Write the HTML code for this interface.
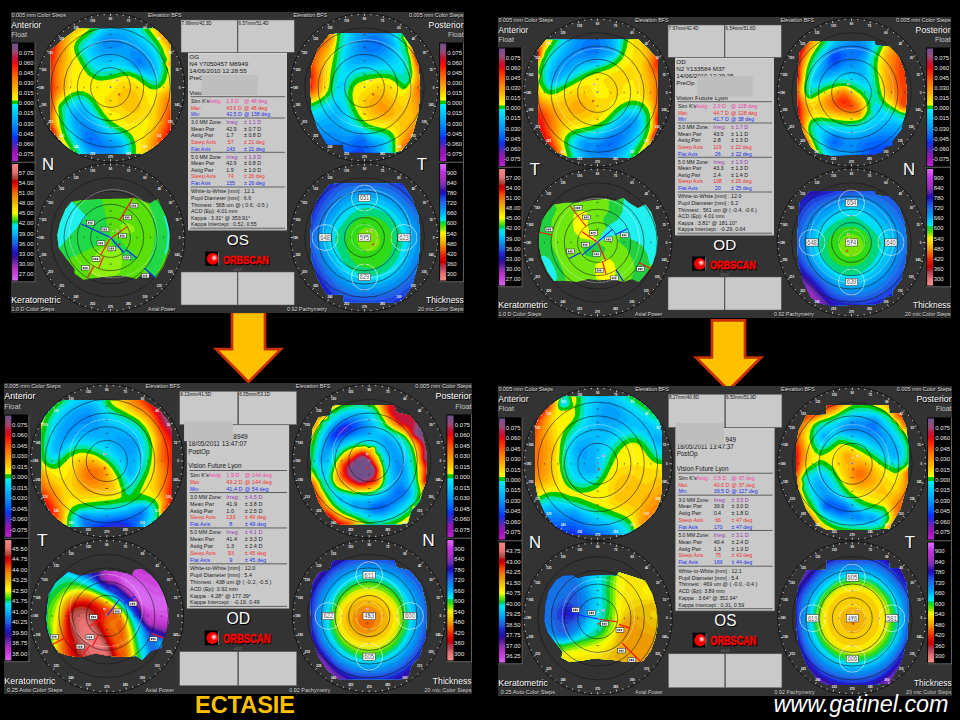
<!DOCTYPE html><html><head><meta charset="utf-8"><title>Orbscan ectasia</title><style>html,body{margin:0;padding:0;background:#000}body{width:960px;height:720px;overflow:hidden}svg{display:block}text{font-family:"Liberation Sans",sans-serif}</style></head><body>
<svg width="960" height="720" viewBox="0 0 960 720">
<rect width="960" height="720" fill="#000"/>
<path d="M232.0 312V349.2H216.0L248.5 382L281.0 349.2H265.0V312Z" fill="#ffc000" stroke="#c83000" stroke-width="2.7" stroke-linejoin="miter"/>
<path d="M712.0 320.3V357.5H696.0L728.5 390.3L761.0 357.5H745.0V320.3Z" fill="#ffc000" stroke="#c83000" stroke-width="2.7" stroke-linejoin="miter"/>
<svg x="11" y="12" width="453" height="301" viewBox="0 0 453 301" preserveAspectRatio="none">
<rect x="0" y="0" width="453" height="301" fill="#333333"/><text x="1.0" y="5.8" font-size="5.4" fill="#000" textLength="54.5" lengthAdjust="spacingAndGlyphs" >0.005 mm Color Steps</text><text x="0.5" y="5.3" font-size="5.4" fill="#ddd" textLength="54.5" lengthAdjust="spacingAndGlyphs" >0.005 mm Color Steps</text><text x="453.0" y="5.8" font-size="5.4" fill="#000" text-anchor="end" textLength="54.5" lengthAdjust="spacingAndGlyphs" >0.005 mm Color Steps</text><text x="452.5" y="5.3" font-size="5.4" fill="#ddd" text-anchor="end" textLength="54.5" lengthAdjust="spacingAndGlyphs" >0.005 mm Color Steps</text><text x="137.5" y="5.8" font-size="5.4" fill="#000" textLength="33.5" lengthAdjust="spacingAndGlyphs" >Elevation BFS</text><text x="137" y="5.3" font-size="5.4" fill="#ddd" textLength="33.5" lengthAdjust="spacingAndGlyphs" >Elevation BFS</text><text x="283.0" y="5.8" font-size="5.4" fill="#000" textLength="33.5" lengthAdjust="spacingAndGlyphs" >Elevation BFS</text><text x="282.5" y="5.3" font-size="5.4" fill="#ddd" textLength="33.5" lengthAdjust="spacingAndGlyphs" >Elevation BFS</text><text x="1.1" y="16.4" font-size="8.7" fill="#000" textLength="30.2" lengthAdjust="spacingAndGlyphs" >Anterior</text><text x="0.3" y="15.6" font-size="8.7" fill="#fff" textLength="30.2" lengthAdjust="spacingAndGlyphs" >Anterior</text><text x="453.40000000000003" y="16.4" font-size="8.7" fill="#000" text-anchor="end" textLength="35" lengthAdjust="spacingAndGlyphs" >Posterior</text><text x="452.6" y="15.6" font-size="8.7" fill="#fff" text-anchor="end" textLength="35" lengthAdjust="spacingAndGlyphs" >Posterior</text><text x="0.3" y="24.7" font-size="7" fill="#c4c4c4" textLength="15.7" lengthAdjust="spacingAndGlyphs" >Float</text><text x="452.6" y="24.7" font-size="7" fill="#c4c4c4" text-anchor="end" textLength="15.7" lengthAdjust="spacingAndGlyphs" >Float</text><text x="1.1" y="291.8" font-size="8.7" fill="#000" textLength="49.5" lengthAdjust="spacingAndGlyphs" >Keratometric</text><text x="0.3" y="291" font-size="8.7" fill="#fff" textLength="49.5" lengthAdjust="spacingAndGlyphs" >Keratometric</text><text x="453.40000000000003" y="291.8" font-size="8.7" fill="#000" text-anchor="end" textLength="37.5" lengthAdjust="spacingAndGlyphs" >Thickness</text><text x="452.6" y="291" font-size="8.7" fill="#fff" text-anchor="end" textLength="37.5" lengthAdjust="spacingAndGlyphs" >Thickness</text><text x="1.0" y="299.8" font-size="5.4" fill="#000" textLength="43" lengthAdjust="spacingAndGlyphs" >1.0 D Color Steps</text><text x="0.5" y="299.3" font-size="5.4" fill="#ddd" textLength="43" lengthAdjust="spacingAndGlyphs" >1.0 D Color Steps</text><text x="453.0" y="299.5" font-size="5.4" fill="#000" text-anchor="end" textLength="45.5" lengthAdjust="spacingAndGlyphs" >20 mic Color Steps</text><text x="452.5" y="299" font-size="5.4" fill="#ddd" text-anchor="end" textLength="45.5" lengthAdjust="spacingAndGlyphs" >20 mic Color Steps</text><text x="137.5" y="299.5" font-size="5.4" fill="#000" textLength="27.5" lengthAdjust="spacingAndGlyphs" >Axial Power</text><text x="137" y="299" font-size="5.4" fill="#ddd" textLength="27.5" lengthAdjust="spacingAndGlyphs" >Axial Power</text><text x="276.5" y="299.5" font-size="5.4" fill="#000" textLength="40" lengthAdjust="spacingAndGlyphs" >0.92 Pachymetry</text><text x="276" y="299" font-size="5.4" fill="#ddd" textLength="40" lengthAdjust="spacingAndGlyphs" >0.92 Pachymetry</text><text x="37.9" y="158.5" font-size="16.8" fill="#000" text-anchor="middle" >N</text><text x="37" y="157.6" font-size="16.8" fill="#fff" text-anchor="middle" >N</text><text x="411.9" y="158.5" font-size="16.8" fill="#000" text-anchor="middle" >T</text><text x="411" y="157.6" font-size="16.8" fill="#fff" text-anchor="middle" >T</text><linearGradient id="g1" x1="0" y1="0" x2="0" y2="1"><stop offset="0" stop-color="#70508a"/><stop offset="0.0298" stop-color="#80508a"/><stop offset="0.0766" stop-color="#a04870"/><stop offset="0.1149" stop-color="#c01840"/><stop offset="0.1574" stop-color="#e00818"/><stop offset="0.2" stop-color="#ff2000"/><stop offset="0.2426" stop-color="#ff4800"/><stop offset="0.2851" stop-color="#ff7000"/><stop offset="0.3319" stop-color="#ff9000"/><stop offset="0.3787" stop-color="#ffb000"/><stop offset="0.4213" stop-color="#ffd000"/><stop offset="0.4553" stop-color="#fff000"/><stop offset="0.4843" stop-color="#ffff00"/><stop offset="0.486" stop-color="#00c800"/><stop offset="0.5174" stop-color="#00c800"/><stop offset="0.5191" stop-color="#00f0f8"/><stop offset="0.5915" stop-color="#00c8ff"/><stop offset="0.6766" stop-color="#0098ff"/><stop offset="0.766" stop-color="#0058ff"/><stop offset="0.8043" stop-color="#1030f0"/><stop offset="0.8511" stop-color="#4028c8"/><stop offset="0.8979" stop-color="#8020b0"/><stop offset="0.9383" stop-color="#a010b8"/><stop offset="1" stop-color="#b828d0"/></linearGradient><rect x="0.3" y="30.5" width="24" height="120" fill="#000"/><path d="M24.05 30.5V150.5" stroke="#9a9a9a" stroke-width="0.6"/><path d="M0.3 150.2H24.3" stroke="#9a9a9a" stroke-width="0.6"/><rect x="1.1" y="31.5" width="6" height="117.5" fill="url(#g1)"/><text x="22.6" y="42.6" font-size="5.9" fill="#eaeaea" text-anchor="end" >0.075</text><text x="22.6" y="52.73" font-size="5.9" fill="#eaeaea" text-anchor="end" >0.060</text><text x="22.6" y="62.86" font-size="5.9" fill="#eaeaea" text-anchor="end" >0.045</text><text x="22.6" y="72.99" font-size="5.9" fill="#eaeaea" text-anchor="end" >0.030</text><text x="22.6" y="83.12" font-size="5.9" fill="#eaeaea" text-anchor="end" >0.015</text><text x="22.6" y="93.25" font-size="5.9" fill="#eaeaea" text-anchor="end" >0.000</text><text x="22.6" y="103.38" font-size="5.9" fill="#eaeaea" text-anchor="end" >-0.015</text><text x="22.6" y="113.51" font-size="5.9" fill="#eaeaea" text-anchor="end" >-0.030</text><text x="22.6" y="123.64" font-size="5.9" fill="#eaeaea" text-anchor="end" >-0.045</text><text x="22.6" y="133.77" font-size="5.9" fill="#eaeaea" text-anchor="end" >-0.060</text><text x="22.6" y="143.9" font-size="5.9" fill="#eaeaea" text-anchor="end" >-0.075</text><linearGradient id="g2" x1="0" y1="0" x2="0" y2="1"><stop offset="0" stop-color="#70508a"/><stop offset="0.0298" stop-color="#80508a"/><stop offset="0.0766" stop-color="#a04870"/><stop offset="0.1149" stop-color="#c01840"/><stop offset="0.1574" stop-color="#e00818"/><stop offset="0.2" stop-color="#ff2000"/><stop offset="0.2426" stop-color="#ff4800"/><stop offset="0.2851" stop-color="#ff7000"/><stop offset="0.3319" stop-color="#ff9000"/><stop offset="0.3787" stop-color="#ffb000"/><stop offset="0.4213" stop-color="#ffd000"/><stop offset="0.4553" stop-color="#fff000"/><stop offset="0.4843" stop-color="#ffff00"/><stop offset="0.486" stop-color="#00c800"/><stop offset="0.5174" stop-color="#00c800"/><stop offset="0.5191" stop-color="#00f0f8"/><stop offset="0.5915" stop-color="#00c8ff"/><stop offset="0.6766" stop-color="#0098ff"/><stop offset="0.766" stop-color="#0058ff"/><stop offset="0.8043" stop-color="#1030f0"/><stop offset="0.8511" stop-color="#4028c8"/><stop offset="0.8979" stop-color="#8020b0"/><stop offset="0.9383" stop-color="#a010b8"/><stop offset="1" stop-color="#b828d0"/></linearGradient><rect x="428.3" y="30.5" width="24.4" height="120" fill="#000"/><path d="M452.45 30.5V150.5" stroke="#9a9a9a" stroke-width="0.6"/><path d="M428.3 150.2H452.7" stroke="#9a9a9a" stroke-width="0.6"/><rect x="429.1" y="31.5" width="6" height="117.5" fill="url(#g2)"/><text x="451.0" y="42.6" font-size="5.9" fill="#eaeaea" text-anchor="end" >0.075</text><text x="451.0" y="52.73" font-size="5.9" fill="#eaeaea" text-anchor="end" >0.060</text><text x="451.0" y="62.86" font-size="5.9" fill="#eaeaea" text-anchor="end" >0.045</text><text x="451.0" y="72.99" font-size="5.9" fill="#eaeaea" text-anchor="end" >0.030</text><text x="451.0" y="83.12" font-size="5.9" fill="#eaeaea" text-anchor="end" >0.015</text><text x="451.0" y="93.25" font-size="5.9" fill="#eaeaea" text-anchor="end" >0.000</text><text x="451.0" y="103.38" font-size="5.9" fill="#eaeaea" text-anchor="end" >-0.015</text><text x="451.0" y="113.51" font-size="5.9" fill="#eaeaea" text-anchor="end" >-0.030</text><text x="451.0" y="123.64" font-size="5.9" fill="#eaeaea" text-anchor="end" >-0.045</text><text x="451.0" y="133.77" font-size="5.9" fill="#eaeaea" text-anchor="end" >-0.060</text><text x="451.0" y="143.9" font-size="5.9" fill="#eaeaea" text-anchor="end" >-0.075</text><linearGradient id="g3" x1="0" y1="0" x2="0" y2="1"><stop offset="0" stop-color="#f08888"/><stop offset="0.0723" stop-color="#e87070"/><stop offset="0.0979" stop-color="#c05858"/><stop offset="0.1234" stop-color="#b04030"/><stop offset="0.1447" stop-color="#c00000"/><stop offset="0.166" stop-color="#d80000"/><stop offset="0.1915" stop-color="#e82000"/><stop offset="0.217" stop-color="#f04800"/><stop offset="0.2511" stop-color="#f07000"/><stop offset="0.2851" stop-color="#f09000"/><stop offset="0.3362" stop-color="#e8b800"/><stop offset="0.3787" stop-color="#f8e000"/><stop offset="0.4213" stop-color="#ffff00"/><stop offset="0.4468" stop-color="#a0f000"/><stop offset="0.4723" stop-color="#50e000"/><stop offset="0.4979" stop-color="#00c840"/><stop offset="0.5191" stop-color="#00e0c0"/><stop offset="0.5319" stop-color="#00e8f8"/><stop offset="0.5957" stop-color="#00b8f8"/><stop offset="0.634" stop-color="#0090f0"/><stop offset="0.6851" stop-color="#2060e0"/><stop offset="0.7191" stop-color="#2030d8"/><stop offset="0.7702" stop-color="#2010b0"/><stop offset="0.8043" stop-color="#401098"/><stop offset="0.8553" stop-color="#8030b0"/><stop offset="0.8894" stop-color="#b030c0"/><stop offset="0.9404" stop-color="#c840d8"/><stop offset="1" stop-color="#d868f0"/></linearGradient><rect x="0.3" y="151" width="24" height="119" fill="#000"/><path d="M24.05 151V270" stroke="#9a9a9a" stroke-width="0.6"/><path d="M0.3 269.7H24.3" stroke="#9a9a9a" stroke-width="0.6"/><rect x="1.1" y="152" width="6" height="116.5" fill="url(#g3)"/><text x="22.6" y="162.6" font-size="5.9" fill="#eaeaea" text-anchor="end" >57.00</text><text x="22.6" y="172.75" font-size="5.9" fill="#eaeaea" text-anchor="end" >54.00</text><text x="22.6" y="182.9" font-size="5.9" fill="#eaeaea" text-anchor="end" >51.00</text><text x="22.6" y="193.05" font-size="5.9" fill="#eaeaea" text-anchor="end" >48.00</text><text x="22.6" y="203.2" font-size="5.9" fill="#eaeaea" text-anchor="end" >45.00</text><text x="22.6" y="213.35" font-size="5.9" fill="#eaeaea" text-anchor="end" >42.00</text><text x="22.6" y="223.5" font-size="5.9" fill="#eaeaea" text-anchor="end" >39.00</text><text x="22.6" y="233.65" font-size="5.9" fill="#eaeaea" text-anchor="end" >36.00</text><text x="22.6" y="243.8" font-size="5.9" fill="#eaeaea" text-anchor="end" >33.00</text><text x="22.6" y="253.95" font-size="5.9" fill="#eaeaea" text-anchor="end" >30.00</text><text x="22.6" y="264.1" font-size="5.9" fill="#eaeaea" text-anchor="end" >27.00</text><linearGradient id="g4" x1="0" y1="0" x2="0" y2="1"><stop offset="0" stop-color="#e070f8"/><stop offset="0.0383" stop-color="#d050f0"/><stop offset="0.0723" stop-color="#c030e0"/><stop offset="0.1149" stop-color="#b030c8"/><stop offset="0.1574" stop-color="#9030b8"/><stop offset="0.2" stop-color="#6028b0"/><stop offset="0.2255" stop-color="#3010a8"/><stop offset="0.2511" stop-color="#2010c0"/><stop offset="0.2851" stop-color="#2040e0"/><stop offset="0.3362" stop-color="#2070e8"/><stop offset="0.3787" stop-color="#0090f0"/><stop offset="0.4213" stop-color="#00b0f8"/><stop offset="0.4553" stop-color="#00d8f8"/><stop offset="0.4851" stop-color="#00f0f0"/><stop offset="0.4936" stop-color="#00d060"/><stop offset="0.5149" stop-color="#20d820"/><stop offset="0.5404" stop-color="#60e000"/><stop offset="0.566" stop-color="#a0e800"/><stop offset="0.583" stop-color="#f0f000"/><stop offset="0.6" stop-color="#fff000"/><stop offset="0.634" stop-color="#f8d000"/><stop offset="0.6766" stop-color="#f0a800"/><stop offset="0.7191" stop-color="#f07000"/><stop offset="0.7532" stop-color="#f04800"/><stop offset="0.7702" stop-color="#e83000"/><stop offset="0.8043" stop-color="#e01000"/><stop offset="0.8383" stop-color="#c80000"/><stop offset="0.8553" stop-color="#c01010"/><stop offset="0.8723" stop-color="#b03040"/><stop offset="0.9064" stop-color="#c05060"/><stop offset="0.9404" stop-color="#e87070"/><stop offset="1" stop-color="#f09090"/></linearGradient><rect x="428.3" y="151" width="24.4" height="119" fill="#000"/><path d="M452.45 151V270" stroke="#9a9a9a" stroke-width="0.6"/><path d="M428.3 269.7H452.7" stroke="#9a9a9a" stroke-width="0.6"/><rect x="429.1" y="152" width="6" height="116.5" fill="url(#g4)"/><text x="435.7" y="162.6" font-size="5.9" fill="#eaeaea" >900</text><text x="435.7" y="172.75" font-size="5.9" fill="#eaeaea" >840</text><text x="435.7" y="182.9" font-size="5.9" fill="#eaeaea" >780</text><text x="435.7" y="193.05" font-size="5.9" fill="#eaeaea" >720</text><text x="435.7" y="203.2" font-size="5.9" fill="#eaeaea" >660</text><text x="435.7" y="213.35" font-size="5.9" fill="#eaeaea" >600</text><text x="435.7" y="223.5" font-size="5.9" fill="#eaeaea" >540</text><text x="435.7" y="233.65" font-size="5.9" fill="#eaeaea" >480</text><text x="435.7" y="243.8" font-size="5.9" fill="#eaeaea" >420</text><text x="435.7" y="253.95" font-size="5.9" fill="#eaeaea" >360</text><text x="435.7" y="264.1" font-size="5.9" fill="#eaeaea" >300</text><g transform="translate(99.5,75.5)"><path d="M39.3 -59.3 -32.9 -58.9 -47.3 -48.2 -59.6 -37.1 -59.6 41.8 -54 48.4 -47.3 56.2 -45.3 58.2 -44.9 58.5 -43 60 -41 61.4 -39 62.7 -36.9 63.9 -34.8 65.1 -32.6 66.2 -32.6 66.2 32.6 66.2 32.6 66.2 34.8 65.1 36.9 63.9 39 62.7 41 61.4 43 60 44.9 58.5 46.8 57 48.7 55.5 50.4 53.9 52.2 52.2 53.9 50.4 55.5 48.7 57 46.8 58.5 44.9 59.8 43.3 59.8 -43.3 58.5 -44.9 57 -46.8 55.5 -48.7 53.9 -50.4 52.2 -52.2 50.4 -53.9 48.7 -55.5 46.8 -57 44.9 -58.5 44.6 -58.8Z" fill="#0065ff"/><path d="M-32.9 -58.9 -47.3 -48.2 -59.6 -37.1 -59.6 41.8 -45.3 58.2 -39 62.7 -32.6 66.2 32.6 66.2 36.9 63.9 43 60 48.7 55.5 53.9 50.4 59.8 43.3 59.8 -43.3 52.2 -52.2 44.6 -58.8 39.3 -59.3ZM-19.5 49.5 -17.8 51 -17.3 52.5 -18 53.6 -19.5 53.7 -21.3 52.5 -21.7 51 -21 49.5Z" fill="#0079ff"/><path d="M-32.9 -58.9 -47.3 -48.2 -59.6 -37.1 -59.6 41.8 -45.3 58.2 -39 62.7 -32.6 66.2 32.6 66.2 36.9 63.9 43 60 48.7 55.5 53.9 50.4 59.8 43.3 59.8 -43.3 52.2 -52.2 44.6 -58.8 39.3 -59.3ZM-22.5 42.1 -18.8 43.5 -15 46.5 -5.4 58.5 -4.6 60 -4.5 61.5 -6 62.8 -7.5 63.1 -12 62.5 -18 59.9 -24 55.6 -25.8 52.5 -26.3 46.5 -25.4 43.5 -24 42.3ZM28.5 -29.6 30 -29 31.7 -27 31.9 -25.5 31.5 -24.6 30 -23.6 27.3 -24 26.3 -25.5 26.2 -28.5 27 -29.5Z" fill="#008eff"/><path d="M-15 66.2 -24 58.6 -27.4 54 -29.3 46.5 -30.4 36 -30 33.8 -28.5 33.5 -27 34.1 -18 40.1 -6 51.7 3.9 58.5 4.9 60 5.1 61.5 4.5 63.9 3.1 66.2 32.6 66.2 39 62.7 46.8 57 53.9 50.4 59.8 43.3 59.8 -43.3 52.2 -52.2 44.6 -58.8 39.3 -59.3 -32.9 -58.9 -47.3 -48.2 -59.6 -37.1 -59.6 41.8 -45.3 58.2 -34.8 65.1 -32.6 66.2ZM-3 -50.1 1.5 -50.7 7.2 -49.5 11.2 -46.5 12.8 -43.5 12.7 -42 10.3 -40.5 1.5 -38.3 -3 -38.2 -5.4 -39 -7.5 -41 -8.2 -45 -6.8 -48ZM22.5 -37.4 28.5 -35.4 33.5 -31.5 35.7 -28.5 36.9 -25.5 37 -24 36 -21.9 33 -20.8 28.5 -20.5 26.6 -21 24.7 -22.5 21.2 -28.5 19.5 -34.5 19.6 -36 21 -37.3Z" fill="#00a0ff"/><path d="M-19.8 66 -27 57.7 -29.3 54 -35.4 34.5 -35.8 31.5 -34.9 28.5 -33 26.2 -31.5 25.5 -30 25.5 -27 27.5 -20.5 34.5 -6 48.2 7.4 57 8.4 58.5 8.9 61.5 7.6 66.2 32.6 66.2 39 62.7 46.8 57 53.9 50.4 59.8 43.3 59.8 -43.3 52.2 -52.2 44.6 -58.8 39.3 -59.3 -32.9 -58.9 -47.3 -48.2 -59.6 -37.1 -59.6 41.8 -47.3 56.2 -44.9 58.5 -39 62.7 -32.6 66.2ZM1.5 -54.5 7.5 -54.5 13 -52.5 33 -36.2 37.1 -31.5 39.6 -27 41.4 -21 40.5 -18.7 37.5 -18.3 30 -18.8 25.5 -19.9 22.4 -22.5 15 -31.3 10.5 -34 6 -34.3 -3 -33.5 -6 -34 -9 -35.6 -10.7 -37.5 -11.8 -40.5 -11.5 -45 -10.1 -48 -6 -51.8 -3 -53.3Z" fill="#00b0ff"/><path d="M-22.8 66 -31 54 -37.9 34.5 -38.3 30 -36.9 25.5 -34.5 22.4 -31.5 21 -29.8 21 -27 22.6 -18.6 33 -6 45.3 9.3 55.5 10.5 57.3 11.3 60 10.6 66.2 32.6 66.2 39 62.7 46.8 57 53.9 50.4 59.8 43.3 59.8 -43.3 52.2 -52.2 44.6 -58.8 39.3 -59.3 -32.9 -58.9 -47.3 -48.2 -59.6 -37.1 -59.6 41.8 -47.3 56.2 -41 61.4 -32.6 66.2ZM1.5 -57.7 6 -58.2 9 -58 15 -56 19.9 -52.5 33 -40.1 39 -33 42.2 -27 44.5 -19.5 44.5 -18 43.5 -16 40.5 -15 25.5 -18.6 13.5 -28 9 -30.1 6 -30.4 -4.5 -29.3 -9 -30.4 -12 -32.5 -14.4 -36 -15.2 -39 -15.1 -42 -13.6 -46.5 -11.6 -49.5 -7.5 -53.3 -3 -56Z" fill="#00c0ff"/><path d="M-25.4 66 -33.6 52.5 -38.3 40.5 -40.2 33 -40.3 28.5 -39 23.6 -36 19.7 -33 18 -30 17.7 -26.3 19.5 -16.9 31.5 -7.5 41.2 -1.5 46.1 7.5 51.3 10.5 53.7 12 55.6 13.2 58.5 13.6 61.5 13.1 66.2 32.6 66.2 41 61.4 46.8 57 53.9 50.4 59.8 43.3 59.8 -43.3 52.2 -52.2 44.6 -58.8 39.3 -59.3 16.7 -59.2 22.5 -55 33 -44.1 38.7 -37.5 42 -32.4 45.6 -24 46.6 -18 45 -13.9 42 -12.5 39 -12.9 25.5 -17.5 16.5 -23.1 10.5 -25.8 6 -26.4 -3 -25 -7.5 -25.2 -12 -27.1 -15 -29.7 -17.3 -33 -18.5 -36 -18.9 -39 -17.8 -43.5 -15.3 -48 -12.8 -51 -7.5 -55.7 -2.4 -59.1 -32.9 -58.9 -47.3 -48.2 -59.6 -37.1 -59.6 41.8 -47.3 56.2 -43 60 -32.6 66.2Z" fill="#00d1fe"/><path d="M-27.7 66 -34.8 54 -38.3 46.5 -40.9 39 -42.4 31.5 -42.2 25.5 -40.8 21 -37.5 17.2 -33 14.9 -28.5 15.1 -25.5 16.7 -22.5 19.8 -14.1 31.5 -7.5 38.5 -1.5 43.5 9 49.7 12.4 52.5 14.5 55.5 15.5 58.5 15.6 66.2 32.6 66.2 34.8 65.1 41 61.4 48.7 55.5 53.9 50.4 59.8 43.3 59.8 -43.3 52.2 -52.2 44.6 -58.8 39.3 -59.3 22.9 -59.2 39 -41.3 42.6 -36 45.6 -30 48 -22.5 48.4 -16.5 46.5 -12 43.5 -10 39 -10.6 33 -13.6 13.5 -21.8 7.5 -22.5 -3 -20.6 -7.5 -20.4 -12 -21.7 -15 -23.8 -18 -27.2 -21.4 -33 -22.8 -37.5 -22.6 -40.5 -21.4 -43.5 -18.2 -48 -6.7 -59.1 -32.9 -58.9 -47.3 -48.2 -59.6 -37.1 -59.6 41.8 -44.9 58.5 -39 62.7 -32.6 66.2Z" fill="#00e0fb"/><path d="M-30 66 -31.5 62.6 -37.1 54 -40.9 46.5 -43.3 39 -44.7 30 -44.8 22.5 -43.6 19.5 -39 14.6 -36 12.7 -33 11.6 -28.5 11.7 -24 14.3 -20.6 18 -12.4 30 -6 37 -1.5 40.7 10.5 47.8 14.4 51 16.5 54 17.6 57 18.1 66.2 32.6 66.2 34.8 65.1 41 61.4 48.7 55.5 53.9 50.4 59.8 43.3 59.8 -43.3 52.2 -52.2 44.6 -58.8 39.3 -59.3 27.8 -59.3 43 -40.5 46.3 -34.5 48.7 -28.5 50.5 -19.5 50.2 -15 48 -9.3 45 -6.8 43.5 -6.5 40.5 -7.1 29.5 -13.5 16.5 -18.6 9 -18.9 -3 -16.1 -7.5 -15.6 -12 -16.2 -16.5 -18.9 -19.6 -22.5 -25.7 -33 -27.4 -37.5 -27.3 -40.5 -25.9 -43.5 -23.4 -46.5 -10 -59 -32.9 -58.9 -47.3 -48.2 -59.6 -37.1 -59.6 41.8 -45.3 58.2 -39 62.7 -32.6 66.2Z" fill="#00e4ab"/><path d="M-32.8 66 -34.2 63 -39.5 55.5 -44.2 46.5 -46.4 39 -48.9 21 -47.4 18 -41.4 12 -37.5 9.4 -33 7.8 -28.5 7.8 -25.5 8.9 -23.1 10.5 -18.8 15 -10.5 27.4 -4.5 34.5 1.4 39 13.5 46 16.5 48.5 18.5 51 20.6 55.5 21.2 60 21.3 66.2 32.6 66.2 36.9 63.9 43 60 48.7 55.5 53.9 50.4 59.8 43.3 59.8 -43.3 52.2 -52.2 44.6 -58.8 32.6 -59.3 46 -42 49.2 -36 52.6 -27 52.5 -22.5 53.6 -18 51.7 -9 49 -4.5 47.1 -3 45 -2.2 40.5 -3.1 27.9 -12 25.2 -13.5 18 -15.7 12 -15.5 -3 -11.7 -9 -11.1 -15 -12.4 -19.5 -15.6 -22.6 -19.5 -30.4 -33 -32.2 -37.5 -32.3 -40.5 -31.3 -43.5 -28.9 -46.5 -13.8 -59 -32.9 -58.9 -47.3 -48.2 -59.6 -37.1 -59.6 41.8 -45.3 58.2 -39 62.7Z" fill="#00c800"/><path d="M38 -59.3 48 -46.2 52.5 -38.7 54.4 -33 56.7 -28.5 56.5 -27 54.9 -24 54.9 -22.5 57.3 -19.5 57.8 -18 56 -9 54 -4.2 50.1 0 45 2.1 42 2.1 39 0.9 34.5 -1.9 25.5 -8.8 19.5 -11.4 13.5 -11.6 -1.5 -7.7 -9 -6.8 -13.5 -7.3 -16.5 -8.4 -22.5 -12.6 -26.7 -18 -34.3 -31.5 -36.1 -36 -36.5 -40.5 -35.2 -45 -33 -48.3 -20.3 -59 -32.9 -58.9 -47.3 -48.2 -59.6 -37.1 -59.6 41.8 -47.3 56.2 -41 61.4 -39.9 62 -46.5 51.3 -49.9 40.5 -51 34.9 -52.4 19.5 -51 16.4 -44.1 9 -39 5.5 -33 3.4 -27 3.8 -21 6.8 -15.9 12 -6 26.6 -1.6 31.5 4.5 36 16.5 43 20.4 46.5 22.6 49.5 24.5 54 25.3 58.5 25.4 66.2 32.6 66.2 41 61.4 50.4 53.9 59.8 43.3 59.8 -43.3 52.2 -52.2 44.6 -58.8Z" fill="#fff300"/><path d="M-46.1 57.5 -48.7 51 -49.8 45 -52.7 36 -53.6 28.5 -53.5 18 -51 13 -39.2 0 -37.8 -3 -39.3 -13.5 -36.5 -22.5 -39.8 -37.5 -39.6 -42 -38.5 -46.5 -36.8 -49.5 -34 -52.5 -24.7 -58.9 -32.9 -58.9 -47.3 -48.2 -59.6 -37.1 -59.6 41.8ZM42 -58.9 54 -41.3 55.8 -37.5 58 -30 58.2 -28.5 56.3 -24 56.5 -22.5 58.9 -19.5 59.5 -18 59.6 -15 58.7 -7.5 55.8 -1.5 53 1.5 46.1 6 44.7 7.5 43.8 9 42.8 15 42 16.4 40.5 17.5 39 17.4 37.5 15.2 35.7 7.5 32.5 3 24 -4.2 21 -5.8 18 -6.6 12 -6.1 7.5 -3.7 3 3 0 5.9 -4.6 9 -5.8 10.5 -6.2 12 -5.2 16.5 -1.5 22.1 1.5 24.2 7.5 25.6 9 26.4 13.8 33 18 35.9 22.5 36.5 34.5 30.8 36 30.4 38 31.5 38.8 33 38.8 36 30.9 52.5 30.1 66.2 32.6 66.2 34.8 65.1 44.9 58.5 52.2 52.2 59.8 43.3 59.8 -43.3 53.9 -50.4 48.7 -55.5 44.6 -58.8Z" fill="#ffda00"/><path d="M-49.2 54 -50.9 45 -53.5 37.5 -54.5 33 -54.4 18 -52.5 12.7 -46 4.5 -43.1 -1.5 -42.8 -4.5 -43.5 -13.5 -41.7 -25.5 -42.4 -40.5 -41 -48 -39.5 -51 -37.5 -53.5 -30.3 -58.9 -32.9 -58.9 -47.3 -48.2 -59.6 -37.1 -59.6 41.8ZM44.6 -58.5 49 -51 54.7 -43.5 57.3 -39 58.5 -35.3 59.4 -30 58.9 -27 57.4 -24 57.6 -22.5 59.8 -19.9 59.8 -43.3 52.2 -52.2ZM59.8 -3.7 55.5 2.4 49 7.5 47.4 10.5 44.7 24 43.8 36 36.3 51 35.2 55.5 34.5 65.3 41 61.4 48.7 55.5 53.9 50.4 59.8 43.3ZM11.9 3 9 6.8 7.3 10.5 7 13.5 8.1 16.5 13.5 21.5 19.5 25.1 24 25.5 27.8 24 29.9 21 30.1 18 28.8 10.5 26.6 6 23.6 3 19.5 0.8 15 1Z" fill="#ffc300"/><path d="M47.5 -56.5 50.4 -51 57 -42.9 59.8 -36.7 59.8 -43.3 53.9 -50.4ZM59.8 -27 58.3 -24 58.7 -22.5 59.8 -21.3ZM59.8 0.6 51.2 9 50.3 10.5 48.2 22.5 46.6 36 39.4 51 38.3 55.5 37.7 63.4 44.9 58.5 50.4 53.9 59.8 43.3ZM-50.8 52.2 -51.6 45 -54.6 37.5 -55.6 33 -55.2 18 -54 13.1 -48.1 4.5 -46.3 0 -45.9 -4.5 -46.6 -15 -44.9 -27 -44.5 -42 -43.6 -48 -41.8 -52.3 -47.3 -48.2 -59.6 -37.1 -59.6 41.8Z" fill="#ffad00"/><path d="M-51.9 51 -52.3 45 -56.3 34.5 -56.7 28.5 -55.2 13.5 -54 10.5 -50 4.5 -48.6 0 -49.3 -15 -45.3 -49.7 -59.6 -37.1 -59.6 41.8ZM49.9 -54.4 51.9 -51 57.3 -45 59.8 -41 59.8 -43.3 58.5 -44.9ZM59.4 -24 59.8 -22.7 59.8 -25.1ZM59.8 4 54 10 52.5 12.6 49.2 34.5 47.7 39 41.9 51 40.8 55.5 40.2 61.9 50.4 53.9 59.8 43.3Z" fill="#ff9a00"/><path d="M-52.7 49.9 -53 45 -57.2 34.5 -57.5 28.5 -56.1 13.5 -54.5 9 -51.3 3 -50.7 0 -51.7 -15 -49.3 -31.5 -47.6 -47.9 -59.6 -37.1 -59.6 41.8ZM59.6 7.5 55.9 12 54.5 15 51 35.5 44.1 51 42.4 60.4 52.2 52.2 59.8 43.3Z" fill="#ff8600"/><path d="M-53.5 49.1 -53.7 45 -57.6 36 -58.4 30 -57.2 21 -57 13.5 -55.8 9 -53.3 3 -52.7 0 -53.8 -15 -49.7 -46.1 -59.6 -37.1 -59.6 41.8ZM59.8 10.8 57.2 15 55.7 19.5 52.9 36 46.1 51 44.5 58.9 52.2 52.2 59.8 43.3Z" fill="#ff7300"/><path d="M-54.1 48 -54.4 45 -58.5 36 -59.2 30 -57.8 21 -57.6 12 -54.8 1.5 -55.7 -16.5 -51.6 -44.3 -59.6 -37.1 -59.6 41.8ZM59.8 15.4 57.7 21 54.8 36 48.1 51 46.6 57.3 53.9 50.4 59.8 43.3Z" fill="#ff5800"/><path d="M-54.9 47.3 -55.5 44.3 -58.2 39 -59.6 34.9 -59.6 41.8ZM-59.6 26.7 -58.5 21 -58.6 12 -56.4 0 -57.6 -12 -57.5 -16.5 -53.4 -42.7 -59.6 -37.1ZM59.7 22.5 56.3 37.5 50 51 48.7 55.5 53.9 50.4 59.8 43.3Z" fill="#ff3e00"/><path d="M-55.8 46.3 -58.4 40.5 -59.6 37.8 -59.6 41.8ZM-59.6 23.2 -59.5 12 -58.1 0 -59.3 -16.5 -55.2 -41.1 -59.6 -37.1ZM59.8 33 57.2 40.5 51 53.3 59.8 43.3Z" fill="#ff2200"/><path d="M-57.2 44.6 -59.3 40.5 -59.6 39.9 -59.6 41.8ZM-59.6 -27 -57.7 -36 -57.1 -39.3 -59.6 -37.1ZM59.8 39.3 57.9 43.5 54.8 49.4 59.8 43.3Z" fill="#ec110f"/></g><g transform="translate(99.5,75.5)"><circle r="74.4" fill="none" stroke="#0c0c0c" stroke-width="0.8"/><path d="M73.6 -6.4L72.4 -6.3M72.8 -12.8L71.6 -12.6M69.4 -25.3L68.3 -24.9M67.0 -31.2L65.9 -30.7M60.5 -42.4L59.6 -41.7M56.6 -47.5L55.7 -46.7M47.5 -56.6L46.7 -55.7M42.4 -60.5L41.7 -59.6M31.2 -67.0L30.7 -65.9M25.3 -69.4L24.9 -68.3M12.8 -72.8L12.6 -71.6M6.4 -73.6L6.3 -72.4M-6.4 -73.6L-6.3 -72.4M-12.8 -72.8L-12.6 -71.6M-25.3 -69.4L-24.9 -68.3M-31.2 -67.0L-30.7 -65.9M-42.4 -60.5L-41.7 -59.6M-47.5 -56.6L-46.7 -55.7M-56.6 -47.5L-55.7 -46.7M-60.5 -42.4L-59.6 -41.7M-67.0 -31.2L-65.9 -30.7M-69.4 -25.3L-68.3 -24.9M-72.8 -12.8L-71.6 -12.6M-73.6 -6.4L-72.4 -6.3M-73.6 6.4L-72.4 6.3M-72.8 12.8L-71.6 12.6M-69.4 25.3L-68.3 24.9M-67.0 31.2L-65.9 30.7M-60.5 42.4L-59.6 41.7M-56.6 47.5L-55.7 46.7M-47.5 56.6L-46.7 55.7M-42.4 60.5L-41.7 59.6M-31.2 67.0L-30.7 65.9M-25.3 69.4L-24.9 68.3M-12.8 72.8L-12.6 71.6M-6.4 73.6L-6.3 72.4M6.4 73.6L6.3 72.4M12.8 72.8L12.6 71.6M25.3 69.4L24.9 68.3M31.2 67.0L30.7 65.9M42.4 60.5L41.7 59.6M47.5 56.6L46.7 55.7M56.6 47.5L55.7 46.7M60.5 42.4L59.6 41.7M67.0 31.2L65.9 30.7M69.4 25.3L68.3 24.9M72.8 12.8L71.6 12.6M73.6 6.4L72.4 6.3" stroke="#e0e0e0" stroke-width="0.9"/><path d="M73.9 -0.0L71.6 -0.0M71.4 -19.1L69.2 -18.5M64.0 -36.9L62.0 -35.8M52.3 -52.3L50.6 -50.6M37.0 -64.0L35.8 -62.0M19.1 -71.4L18.5 -69.2M0.0 -73.9L0.0 -71.6M-19.1 -71.4L-18.5 -69.2M-36.9 -64.0L-35.8 -62.0M-52.3 -52.3L-50.6 -50.6M-64.0 -36.9L-62.0 -35.8M-71.4 -19.1L-69.2 -18.5M-73.9 -0.0L-71.6 -0.0M-71.4 19.1L-69.2 18.5M-64.0 37.0L-62.0 35.8M-52.3 52.3L-50.6 50.6M-37.0 64.0L-35.8 62.0M-19.1 71.4L-18.5 69.2M-0.0 73.9L-0.0 71.6M19.1 71.4L18.5 69.2M37.0 64.0L35.8 62.0M52.3 52.3L50.6 50.6M64.0 37.0L62.0 35.8M71.4 19.1L69.2 18.5" stroke="#f0f0f0" stroke-width="0.7"/><text x="69.0" y="1.0" font-size="3.0" fill="#f4f4f4" text-anchor="middle" font-weight="bold" >0</text><text x="66.6" y="-16.9" font-size="3.0" fill="#f4f4f4" text-anchor="middle" font-weight="bold" >15</text><text x="59.8" y="-33.5" font-size="3.0" fill="#f4f4f4" text-anchor="middle" font-weight="bold" >30</text><text x="48.8" y="-47.8" font-size="3.0" fill="#f4f4f4" text-anchor="middle" font-weight="bold" >45</text><text x="34.5" y="-58.8" font-size="3.0" fill="#f4f4f4" text-anchor="middle" font-weight="bold" >60</text><text x="17.9" y="-65.6" font-size="3.0" fill="#f4f4f4" text-anchor="middle" font-weight="bold" >75</text><text x="0.0" y="-68.0" font-size="3.0" fill="#f4f4f4" text-anchor="middle" font-weight="bold" >90</text><text x="-17.9" y="-65.6" font-size="3.0" fill="#f4f4f4" text-anchor="middle" font-weight="bold" >105</text><text x="-34.5" y="-58.8" font-size="3.0" fill="#f4f4f4" text-anchor="middle" font-weight="bold" >120</text><text x="-48.8" y="-47.8" font-size="3.0" fill="#f4f4f4" text-anchor="middle" font-weight="bold" >135</text><text x="-59.8" y="-33.5" font-size="3.0" fill="#f4f4f4" text-anchor="middle" font-weight="bold" >150</text><text x="-66.6" y="-16.9" font-size="3.0" fill="#f4f4f4" text-anchor="middle" font-weight="bold" >165</text><text x="-69.0" y="1.0" font-size="3.0" fill="#f4f4f4" text-anchor="middle" font-weight="bold" >180</text><text x="-66.6" y="18.9" font-size="3.0" fill="#f4f4f4" text-anchor="middle" font-weight="bold" >195</text><text x="-59.8" y="35.5" font-size="3.0" fill="#f4f4f4" text-anchor="middle" font-weight="bold" >210</text><text x="-48.8" y="49.8" font-size="3.0" fill="#f4f4f4" text-anchor="middle" font-weight="bold" >225</text><text x="-34.5" y="60.8" font-size="3.0" fill="#f4f4f4" text-anchor="middle" font-weight="bold" >240</text><text x="-17.9" y="67.6" font-size="3.0" fill="#f4f4f4" text-anchor="middle" font-weight="bold" >255</text><text x="-0.0" y="70.0" font-size="3.0" fill="#f4f4f4" text-anchor="middle" font-weight="bold" >270</text><text x="17.9" y="67.6" font-size="3.0" fill="#f4f4f4" text-anchor="middle" font-weight="bold" >285</text><text x="34.5" y="60.8" font-size="3.0" fill="#f4f4f4" text-anchor="middle" font-weight="bold" >300</text><text x="48.8" y="49.8" font-size="3.0" fill="#f4f4f4" text-anchor="middle" font-weight="bold" >315</text><text x="59.8" y="35.5" font-size="3.0" fill="#f4f4f4" text-anchor="middle" font-weight="bold" >330</text><text x="66.6" y="18.9" font-size="3.0" fill="#f4f4f4" text-anchor="middle" font-weight="bold" >345</text></g><g transform="translate(99.5,75.5)" fill="none"><circle r="19.9" stroke="#111" stroke-width="0.55"/><circle r="33.2" stroke="#111" stroke-width="0.55"/><circle r="46.5" stroke="#111" stroke-width="0.55"/><circle r="59.8" stroke="#111" stroke-width="0.55"/><path d="M-1.3 -13.3h2.6M-1.3 13.3h2.6M-13.3 -0.9v1.8M13.3 -0.9v1.8M-1.3 -26.6h2.6M-1.3 26.6h2.6M-26.6 -0.9v1.8M26.6 -0.9v1.8M-1.3 -39.900000000000006h2.6M-1.3 39.900000000000006h2.6M-39.900000000000006 -0.9v1.8M39.900000000000006 -0.9v1.8M-1.3 -53.2h2.6M-1.3 53.2h2.6M-53.2 -0.9v1.8M53.2 -0.9v1.8" stroke="#222" stroke-width="0.55"/><circle cx="2.7" cy="-3.8" r="44" stroke="#ffffff" stroke-width="0.6" stroke-dasharray="0.9 0.45" opacity="0.9"/></g><g transform="translate(99.5,75.5)"><circle cx="0" cy="-0.4" r="0.9" fill="#3a4ad0" stroke="#ddd" stroke-width="0.3"/><circle cx="2.7" cy="-6" r="0.7" fill="#fff"/><rect x="5.8" y="-8.0" width="1.8" height="1.8" fill="#f060c0" stroke="#fff" stroke-width="0.3"/><circle cx="8.7" cy="6.9" r="1" fill="#ff5000" stroke="#802000" stroke-width="0.3"/></g><g transform="translate(353.5,75.5)"><path d="M-52.7 22.7 -47.1 40.4 -38.2 56 -36 57.1 -21.6 57.1 -20.4 64.9 30.7 64.9 37.3 62.7 47.3 49.3 54 24.9 55.6 0.4 54 -21.8 47.3 -39.6 37.3 -54 -24.9 -54.2 -34.9 -52.9 -47.1 -37.3 -52.7 -21.8 -54.2 0.4Z" fill="#1230ef"/><path d="M-47.1 40.4 -38.2 56 -36 57.1 -21.6 57.1 -20.4 64.9 30.7 64.9 37.3 62.7 47.3 49.3 54 24.9 55.6 0.4 54 -21.8 47.3 -39.6 37.3 -54 -24.9 -54.2 -34.9 -52.9 -47.1 -37.3 -52.7 -21.8 -54.2 0.4 -52.7 22.7Z" fill="#054cfb"/><path d="M-16.5 64.9 -12 63.2 -6 60 -4.5 59.8 -1.5 61.6 0.1 64.9 30.7 64.9 37.3 62.7 47.3 49.3 54 24.9 55.6 0.4 54 -21.8 47.3 -39.6 37.3 -54 -24.9 -54.2 -34.9 -52.9 -47.1 -37.3 -52.7 -21.8 -54.2 0.4 -52.7 22.7 -47.1 40.4 -38.2 56 -36 57.1 -21.6 57.1 -20.4 64.9Z" fill="#0065ff"/><path d="M-21 59.9 -16.5 59.3 -13.5 58.2 -7.5 53.4 -4.5 52.4 -1.5 54.3 2.7 58.5 4.7 61.5 5.6 64.9 30.7 64.9 37.3 62.7 47.3 49.3 54 24.9 55.6 0.4 54 -21.8 47.3 -39.6 37.3 -54 -24.9 -54.2 -34.9 -52.9 -47.1 -37.3 -52.7 -21.8 -54.2 0.4 -52.7 22.7 -47.1 40.4 -38.2 56 -36 57.1 -21.6 57.1Z" fill="#0079ff"/><path d="M-40.5 51.7 -34.5 51.8 -22.5 54.4 -18 54.7 -14.8 54 -7.6 49.5 -4.5 49.1 -1.5 50.6 7 58.5 8.7 61.5 9.3 64.9 30.7 64.9 37.3 62.7 47.3 49.3 54 24.9 55.6 0.4 54 -21.8 47.3 -39.6 37.3 -54 -24.9 -54.2 -34.9 -52.9 -47.1 -37.3 -52.7 -21.8 -54.2 0.4 -52.7 22.7 -47.1 40.4ZM7.5 -51.8 12 -51.2 15 -49.4 18 -45.5 18.2 -42 16.6 -39 13.5 -36.5 9 -34.9 4.5 -34.7 1.5 -35.7 -0.7 -37.5 -1.5 -39 -1.8 -42 -1 -45 1.5 -48.7 4.5 -51Z" fill="#008eff"/><path d="M-44.2 45.6 -37.5 44.3 -33 44.6 -22.5 48.7 -18 49.6 -15 49.3 -7.5 47.2 -3 47.5 10.5 58.1 12 61.2 12.4 64.9 30.7 64.9 37.3 62.7 47.3 49.3 54 24.9 55.6 0.4 54 -21.8 47.3 -39.6 37.3 -54 16.6 -54.1 21 -49.6 22.7 -46.5 23.2 -43.5 22.1 -39 19.5 -35.3 16.4 -33 10.5 -30.7 6 -30 1.5 -30.2 -3 -31.4 -5.1 -33 -6.6 -36 -7 -40.5 -6.1 -45 -3.2 -51 -0.6 -54.1 -24.9 -54.2 -34.9 -52.9 -47.1 -37.3 -52.7 -21.8 -54.2 0.4 -52.7 22.7 -47.1 40.4Z" fill="#00a0ff"/><path d="M-47.1 40.4 -37.5 36.9 -33 36.2 -30 37.2 -22.5 42.9 -18 44.9 -15 45.5 -6 45.5 -3 46.1 4.5 51.6 13.4 57 14.8 60 15 64.9 30.7 64.9 37.3 62.7 47.3 49.3 54 24.9 55.6 0.4 54 -21.8 47.3 -39.6 37.3 -54 21.3 -54.1 24.5 -49.5 26.1 -45 25.6 -39 24 -35.1 21 -31.7 18 -29.9 10.5 -27.3 6 -26.6 -6 -27.3 -8.7 -28.5 -9.8 -30 -10.6 -34.5 -10.2 -42 -8.7 -48 -5.9 -54.2 -24.9 -54.2 -34.9 -52.9 -47.1 -37.3 -52.7 -21.8 -54.2 0.4 -52.7 22.7Z" fill="#00b0ff"/><path d="M-48.6 35.7 -39 30.8 -30 24.6 -28.2 24 -27 24.5 -23.5 34.5 -21.5 37.5 -18.2 40.5 -13.5 42.7 -3 44.9 6 50.7 16.4 55.5 17.6 58.5 17.4 64.9 30.7 64.9 37.3 62.7 47.3 49.3 54 24.9 55.6 0.4 54 -21.8 47.3 -39.6 37.3 -54 24.6 -54 28.1 -46.5 28.5 -40.4 27.9 -36 26.8 -33 25.5 -31 22.5 -28.6 18 -26.7 9 -24.2 -9 -23.2 -12.9 -24 -14 -25.5 -14.3 -28.5 -12.8 -43.5 -9.8 -54.2 -24.9 -54.2 -34.9 -52.9 -47.1 -37.3 -52.7 -21.8 -54.2 0.4 -52.7 22.7Z" fill="#00c0ff"/><path d="M-49.9 31.5 -40.5 26.4 -30 18.3 -27 17.4 -25.5 17.8 -24 19 -22.9 21 -21.2 28.5 -19.6 33 -17.7 36 -15 38.6 -11.9 40.5 -1.5 44.4 7.5 49.8 16.5 52.6 19 54 20 57 19.7 64.9 30.7 64.9 37.3 62.7 47.3 49.3 54 24.9 55.6 0.4 54 -21.8 47.3 -39.6 37.3 -54 27.2 -54 30.1 -46.5 30.9 -37.5 30 -30.9 28.8 -28.5 27 -26.8 22.5 -24.9 10.5 -22.2 -1.5 -21.1 -12 -19.4 -15 -20 -16.2 -21 -17.2 -22.5 -17.8 -25.5 -15.5 -43.5 -13.3 -54.2 -24.9 -54.2 -34.9 -52.9 -47.1 -37.3 -52.7 -21.8 -54.2 0.4 -52.7 22.7Z" fill="#00d1fe"/><path d="M29.7 -54 32.5 -45 34.3 -31.5 33.6 -25.5 31.5 -22.9 28.5 -21.9 -1.5 -18.5 -15 -15.3 -18 -15.7 -19.5 -17.1 -20.9 -22.5 -20.5 -28.5 -16.5 -54.2 -24.9 -54.2 -34.9 -52.9 -47.1 -37.3 -52.7 -21.8 -54.2 0.4 -52.7 22.7 -51.1 27.6 -40.5 22 -30 14 -27 13 -25.5 13.2 -24 14.1 -22.1 16.5 -20.6 19.5 -16.5 31.4 -14.6 34.5 -11.7 37.5 -7.1 40.5 6 47.4 10.5 49.1 18 50.9 20.6 52.5 21.7 54 22.3 57 21.9 64.9 30.7 64.9 37.3 62.7 47.3 49.3 54 24.9 55.6 0.4 54 -21.8 47.3 -39.6 37.3 -54ZM-22.5 -6.3 -20.8 -4.5 -20.7 -1.5 -22.5 1.4 -24 1.6 -25.4 0 -25.4 -3 -24 -5.5Z" fill="#00e0fb"/><path d="M-52.3 23.8 -43.5 19.6 -37.5 15.6 -32 10.5 -28.8 6 -28 -3 -25.5 -13.5 -19.9 -54.2 -24.9 -54.2 -34.9 -52.9 -47.1 -37.3 -52.7 -21.8 -54.2 0.4 -52.7 22.7ZM32.5 -54 39.2 -27 39.9 -18 39 -13.3 37.5 -12.7 28.5 -16.6 19.5 -18 3 -16.3 -6 -14.4 -11.5 -12 -15.4 -9 -17.6 -4.5 -21.2 7.5 -20.4 12 -16.5 23 -13.5 29.7 -10.3 34.5 -5.5 39 4.5 44.7 9 46.5 19.5 49.1 22.3 51 23.5 52.5 24.4 55.5 24.4 64.9 30.7 64.9 37.3 62.7 47.3 49.3 54 24.9 55.6 0.4 54 -21.8 47.3 -39.6 37.3 -54Z" fill="#00e4ab"/><path d="M-52.9 19.5 -45 15.8 -39.3 12 -35 7.5 -32.6 3 -25.8 -39 -24 -54.2 -34.9 -52.9 -47.1 -37.3 -52.7 -21.8 -54.2 0.4ZM37.4 -54 36.5 -49.5 37.5 -47.2 39.3 -45 40.2 -40.5 43.5 -30.1 44.7 -21 44.5 -10.5 43.4 -6 42 -4.1 40.5 -3.2 39 -3.4 31.5 -10.2 28.3 -12 24 -13.5 15 -14.1 1.5 -12.4 -6 -10.3 -9 -8.8 -12 -6.3 -15 -1.5 -16.6 6 -16.1 12 -14.5 18 -11.3 25.5 -7.5 31.8 -2.1 37.5 2.6 40.5 9 43 19.5 45.4 24.2 48 26.6 51 27.8 54 28.2 64.9 30.7 64.9 37.3 62.7 47.3 49.3 54 24.9 55.6 0.4 54 -21.8 47.3 -39.6Z" fill="#00c800"/><path d="M-53.1 16 -46.5 12.8 -42 9.7 -38.4 6 -36.6 3 -35.1 -3 -34.1 -13.5 -32.3 -24 -27.7 -46.5 -27.3 -53.9 -34.9 -52.9 -47.1 -37.3 -52.7 -21.8 -54.2 0.4ZM39.1 -51.4 38.9 -49.5 42.2 -45 44.1 -34.5 45.9 -28.5 47.9 -15 47.6 -10.5 46.5 -6 42 0.6 39 1.9 37.2 1.5 30 -5.8 25.5 -8.4 19.5 -9.7 13.5 -9.6 1.9 -7.5 -6.4 -4.5 -9 -2.3 -10.5 0 -12 6 -11.7 12 -9.4 19.5 -5.7 27 -1.5 32.4 1.5 34.9 6 37.4 22.5 42 25.5 43.5 28.5 46.3 30 49 30.9 52.5 31.1 64.8 37.3 62.7 47.3 49.3 54 24.9 55.6 0.4 54 -21.8 47.3 -39.6Z" fill="#fff300"/><path d="M-53.3 14 -48 11.5 -43.5 8.2 -40.3 4.5 -38.8 1.5 -37.5 -4.5 -37.3 -13.5 -36 -23 -34.4 -30 -29.4 -46.5 -29.1 -53.7 -34.9 -52.9 -47.1 -37.3 -52.7 -21.8 -54.2 0.4ZM43.6 -44.9 44.9 -36 46.7 -30 49.2 -16.5 49.5 -12 48 -5.3 42 5.3 39 7.9 37.5 8.4 34.5 7.9 32.2 6 27 -0.7 24 -3 19.5 -4.5 15 -4.6 10.5 -3.7 6.3 -1.5 -3.9 6 -5 7.5 -6 10.5 -5.6 16.5 -3.5 22.5 -0.8 27 3 31 9 34.4 18 36.2 25.5 38.4 28.5 39.9 30.8 42 32.2 45 33 49.5 32.3 58.5 32.6 64.3 37.3 62.7 47.3 49.3 54 24.9 55.6 0.4 54 -21.8 47.3 -39.6Z" fill="#ffda00"/><path d="M-53.4 12.4 -48 9.7 -45 7.3 -42.6 4.5 -40.5 0 -39.6 -4.5 -39.6 -15 -38.8 -24 -36.7 -31.5 -30.7 -46.5 -30.5 -53.5 -34.9 -52.9 -47.1 -37.3 -52.7 -21.8 -54.2 0.4ZM45 -42.9 45.6 -36 47.8 -28.5 50.4 -16.5 50.7 -10.5 49.7 -6 47 0 42 14.8 40.5 17.7 39 18.5 36 17.2 30 11.9 22.5 3.6 19.5 1.9 16.5 1.3 13.5 1.5 10.5 2.4 5 6 0.8 10.5 -0.4 15 0.2 19.5 2.2 24 4.6 27 8.6 30 12.2 31.5 19.5 33.1 33 34.5 35.1 36 35.9 39 35.9 42 35 51 33.4 58.5 33.7 63.9 37.3 62.7 47.3 49.3 54 24.9 55.6 0.4 54 -21.8 47.3 -39.6Z" fill="#ffc300"/><path d="M-53.5 11 -49.3 9 -45.7 6 -43.6 3 -42.3 0 -41.4 -6 -41.6 -19.5 -41.1 -25.5 -38.6 -33 -32 -46.5 -31.5 -49.5 -31.9 -53.3 -34.9 -52.9 -47.1 -37.3 -52.7 -21.8 -54.2 0.4ZM46 -41.5 46.3 -36 51.4 -16.5 51.9 -12 51.4 -7.5 48.6 0 47 9 46.9 15 48.3 28.5 47.3 31.5 41.9 39 39 44.7 34.5 58.5 34.7 63.5 37.3 62.7 47.3 49.3 54 24.9 55.6 0.4 54 -21.8 47.3 -39.6ZM9.4 9 6.4 12 5 16.5 5.8 21 9.2 25.5 14.5 28.5 21 29.9 25.5 29.4 29.2 27 30.3 24 29.5 19.5 26.6 15 22.5 10.6 19.5 8.5 16.5 7.5 13.5 7.4Z" fill="#ffad00"/><path d="M-53.6 9.7 -47.6 6 -45.4 3 -44.1 0 -43 -7.5 -43.8 -21 -43.5 -25.5 -41 -33 -33.4 -46.5 -32.7 -49.5 -33.3 -53.1 -34.9 -52.9 -47.1 -37.3 -52.7 -21.8 -54.2 0.4ZM46.8 -40.3 47.2 -34.5 52.3 -16.5 53 -12 52.6 -7.5 50.1 0 49.4 6 49.7 12 52.2 25.5 52.3 30 50.5 34.5 43.5 42.9 39 50.5 35.6 58.5 35.8 63.2 37.3 62.7 47.3 49.3 54 24.9 55.6 0.4 54 -21.8ZM11.6 18 12.4 21 13.6 22.5 16.5 24.5 21 25.7 22.5 25.2 23.7 24 24.2 22.5 23.3 19.5 21 16.7 18.4 15 16.5 14.4 13.5 14.9 12 16.4Z" fill="#ff9a00"/><path d="M-53.7 8.4 -48.1 4.5 -45.7 0 -44.7 -7.5 -45.9 -22.5 -45.5 -27 -42.6 -34.5 -34.5 -47.8 -34.8 -52.9 -47.1 -37.3 -52.7 -21.8 -54.2 0.4ZM47.4 -39 47.8 -34.5 53.8 -13.5 53.8 -7.5 51.6 0 51.3 4.5 52.1 12 54.2 21.3 55.6 0.4 54 -21.8ZM49.8 40.2 43.5 47.4 39 54.3 37 58.5 37 62.8 47.3 49.3Z" fill="#ff8600"/><path d="M-52.5 6.5 -48.8 3 -46.7 -3 -46.3 -10.5 -47.9 -24 -47.3 -28.5 -44.2 -36 -37.1 -46.5 -36.2 -49.5 -36.2 -51.2 -47.1 -37.3 -52.7 -21.8 -54.2 0.4 -53.8 7ZM48 -37.5 51.2 -24 54.5 -15.1 54 -21.8ZM55 -8 53.1 1.5 53.5 7.5 54.7 13.7 55.6 0.4ZM48.4 45.6 40.5 55.2 38.6 58.5 38.2 61.5 47.3 49.3Z" fill="#ff7300"/><path d="M-52.5 4.8 -49.7 1.5 -48.1 -4.5 -48.1 -12 -49.9 -24 -49.1 -30 -45.8 -37.5 -39.4 -47.1 -47.1 -37.3 -52.7 -21.8 -54.2 0.4 -53.9 5.5ZM48.7 -36 51.9 -24 54.2 -18.5 54 -21.8ZM55.3 -3 54.8 1.5 55.2 6.2Z" fill="#ff5800"/><path d="M-54 3.7 -51.8 1.5 -50.5 -1.5 -49.7 -7.5 -49.9 -13.5 -51.8 -24.2 -52.7 -21.8 -54.2 0.4ZM51.9 -27.3 52.7 -24 54.1 -20.8Z" fill="#ff3e00"/><path d="M-54 0.7 -52.5 -2.1 -51.6 -7.5 -51.6 -12 -52.9 -18.4Z" fill="#ff2200"/></g><g transform="translate(353.5,75.5)"><circle r="74.4" fill="none" stroke="#0c0c0c" stroke-width="0.8"/><path d="M73.6 -6.4L72.4 -6.3M72.8 -12.8L71.6 -12.6M69.4 -25.3L68.3 -24.9M67.0 -31.2L65.9 -30.7M60.5 -42.4L59.6 -41.7M56.6 -47.5L55.7 -46.7M47.5 -56.6L46.7 -55.7M42.4 -60.5L41.7 -59.6M31.2 -67.0L30.7 -65.9M25.3 -69.4L24.9 -68.3M12.8 -72.8L12.6 -71.6M6.4 -73.6L6.3 -72.4M-6.4 -73.6L-6.3 -72.4M-12.8 -72.8L-12.6 -71.6M-25.3 -69.4L-24.9 -68.3M-31.2 -67.0L-30.7 -65.9M-42.4 -60.5L-41.7 -59.6M-47.5 -56.6L-46.7 -55.7M-56.6 -47.5L-55.7 -46.7M-60.5 -42.4L-59.6 -41.7M-67.0 -31.2L-65.9 -30.7M-69.4 -25.3L-68.3 -24.9M-72.8 -12.8L-71.6 -12.6M-73.6 -6.4L-72.4 -6.3M-73.6 6.4L-72.4 6.3M-72.8 12.8L-71.6 12.6M-69.4 25.3L-68.3 24.9M-67.0 31.2L-65.9 30.7M-60.5 42.4L-59.6 41.7M-56.6 47.5L-55.7 46.7M-47.5 56.6L-46.7 55.7M-42.4 60.5L-41.7 59.6M-31.2 67.0L-30.7 65.9M-25.3 69.4L-24.9 68.3M-12.8 72.8L-12.6 71.6M-6.4 73.6L-6.3 72.4M6.4 73.6L6.3 72.4M12.8 72.8L12.6 71.6M25.3 69.4L24.9 68.3M31.2 67.0L30.7 65.9M42.4 60.5L41.7 59.6M47.5 56.6L46.7 55.7M56.6 47.5L55.7 46.7M60.5 42.4L59.6 41.7M67.0 31.2L65.9 30.7M69.4 25.3L68.3 24.9M72.8 12.8L71.6 12.6M73.6 6.4L72.4 6.3" stroke="#e0e0e0" stroke-width="0.9"/><path d="M73.9 -0.0L71.6 -0.0M71.4 -19.1L69.2 -18.5M64.0 -36.9L62.0 -35.8M52.3 -52.3L50.6 -50.6M37.0 -64.0L35.8 -62.0M19.1 -71.4L18.5 -69.2M0.0 -73.9L0.0 -71.6M-19.1 -71.4L-18.5 -69.2M-36.9 -64.0L-35.8 -62.0M-52.3 -52.3L-50.6 -50.6M-64.0 -36.9L-62.0 -35.8M-71.4 -19.1L-69.2 -18.5M-73.9 -0.0L-71.6 -0.0M-71.4 19.1L-69.2 18.5M-64.0 37.0L-62.0 35.8M-52.3 52.3L-50.6 50.6M-37.0 64.0L-35.8 62.0M-19.1 71.4L-18.5 69.2M-0.0 73.9L-0.0 71.6M19.1 71.4L18.5 69.2M37.0 64.0L35.8 62.0M52.3 52.3L50.6 50.6M64.0 37.0L62.0 35.8M71.4 19.1L69.2 18.5" stroke="#f0f0f0" stroke-width="0.7"/><text x="69.0" y="1.0" font-size="3.0" fill="#f4f4f4" text-anchor="middle" font-weight="bold" >0</text><text x="66.6" y="-16.9" font-size="3.0" fill="#f4f4f4" text-anchor="middle" font-weight="bold" >15</text><text x="59.8" y="-33.5" font-size="3.0" fill="#f4f4f4" text-anchor="middle" font-weight="bold" >30</text><text x="48.8" y="-47.8" font-size="3.0" fill="#f4f4f4" text-anchor="middle" font-weight="bold" >45</text><text x="34.5" y="-58.8" font-size="3.0" fill="#f4f4f4" text-anchor="middle" font-weight="bold" >60</text><text x="17.9" y="-65.6" font-size="3.0" fill="#f4f4f4" text-anchor="middle" font-weight="bold" >75</text><text x="0.0" y="-68.0" font-size="3.0" fill="#f4f4f4" text-anchor="middle" font-weight="bold" >90</text><text x="-17.9" y="-65.6" font-size="3.0" fill="#f4f4f4" text-anchor="middle" font-weight="bold" >105</text><text x="-34.5" y="-58.8" font-size="3.0" fill="#f4f4f4" text-anchor="middle" font-weight="bold" >120</text><text x="-48.8" y="-47.8" font-size="3.0" fill="#f4f4f4" text-anchor="middle" font-weight="bold" >135</text><text x="-59.8" y="-33.5" font-size="3.0" fill="#f4f4f4" text-anchor="middle" font-weight="bold" >150</text><text x="-66.6" y="-16.9" font-size="3.0" fill="#f4f4f4" text-anchor="middle" font-weight="bold" >165</text><text x="-69.0" y="1.0" font-size="3.0" fill="#f4f4f4" text-anchor="middle" font-weight="bold" >180</text><text x="-66.6" y="18.9" font-size="3.0" fill="#f4f4f4" text-anchor="middle" font-weight="bold" >195</text><text x="-59.8" y="35.5" font-size="3.0" fill="#f4f4f4" text-anchor="middle" font-weight="bold" >210</text><text x="-48.8" y="49.8" font-size="3.0" fill="#f4f4f4" text-anchor="middle" font-weight="bold" >225</text><text x="-34.5" y="60.8" font-size="3.0" fill="#f4f4f4" text-anchor="middle" font-weight="bold" >240</text><text x="-17.9" y="67.6" font-size="3.0" fill="#f4f4f4" text-anchor="middle" font-weight="bold" >255</text><text x="-0.0" y="70.0" font-size="3.0" fill="#f4f4f4" text-anchor="middle" font-weight="bold" >270</text><text x="17.9" y="67.6" font-size="3.0" fill="#f4f4f4" text-anchor="middle" font-weight="bold" >285</text><text x="34.5" y="60.8" font-size="3.0" fill="#f4f4f4" text-anchor="middle" font-weight="bold" >300</text><text x="48.8" y="49.8" font-size="3.0" fill="#f4f4f4" text-anchor="middle" font-weight="bold" >315</text><text x="59.8" y="35.5" font-size="3.0" fill="#f4f4f4" text-anchor="middle" font-weight="bold" >330</text><text x="66.6" y="18.9" font-size="3.0" fill="#f4f4f4" text-anchor="middle" font-weight="bold" >345</text></g><g transform="translate(353.5,75.5)" fill="none"><circle r="19.9" stroke="#111" stroke-width="0.55"/><circle r="33.2" stroke="#111" stroke-width="0.55"/><circle r="46.5" stroke="#111" stroke-width="0.55"/><circle r="59.8" stroke="#111" stroke-width="0.55"/><path d="M-1.3 -13.3h2.6M-1.3 13.3h2.6M-13.3 -0.9v1.8M13.3 -0.9v1.8M-1.3 -26.6h2.6M-1.3 26.6h2.6M-26.6 -0.9v1.8M26.6 -0.9v1.8M-1.3 -39.900000000000006h2.6M-1.3 39.900000000000006h2.6M-39.900000000000006 -0.9v1.8M39.900000000000006 -0.9v1.8M-1.3 -53.2h2.6M-1.3 53.2h2.6M-53.2 -0.9v1.8M53.2 -0.9v1.8" stroke="#222" stroke-width="0.55"/><circle cx="2.7" cy="-3.8" r="44" stroke="#ffffff" stroke-width="0.6" stroke-dasharray="0.9 0.45" opacity="0.9"/></g><g transform="translate(353.5,75.5)"><circle cx="0" cy="-0.4" r="0.9" fill="#3a4ad0" stroke="#ddd" stroke-width="0.3"/><circle cx="2.7" cy="-6" r="0.7" fill="#fff"/><rect x="5.8" y="-8.0" width="1.8" height="1.8" fill="#f060c0" stroke="#fff" stroke-width="0.3"/><circle cx="8.7" cy="6.9" r="1" fill="#ff5000" stroke="#802000" stroke-width="0.3"/></g><g transform="translate(99.5,225.5)"><path d="M-44.9 -28.4 -50.4 -15.1 -53.3 -1.8 -51.6 10.4 -43.8 21.6 -36 31.6 -36 36 -27.1 42.2 -7.1 39.3 10.7 38.2 17.3 39.3 26.2 41.6 31.8 36 39.6 36 45.1 40.4 52.9 29.3 59.1 13.8 59.6 -4 55.1 -21.8 47.3 -38.4 42.9 -36.2 39.6 -34 35.1 -35.6 24 -40 17.3 -38.9 -7.1 -38.4 -30.4 -37.3 -39.3 -35.6Z" fill="#58e008"/><path d="M-23 -37.5 -35.5 -35 -38 -35.8 -39.3 -35.6 -44.9 -28.4 -50.4 -15.1 -53.3 -1.8 -51.6 10.4 -43.8 21.6 -43.1 22.4 -39.9 20.6 -23 12.5 -10.5 6.2 0 0 -2.8 -10.6 -5.5 -25 -8.6 -38.4 -14.4 -38.1Z" fill="#20d848"/><path d="M2.6 7.5 7 13.8 13.2 17.5 20.8 24.4 27 20.6 17 11.2 9.5 2.5 0 0Z" fill="#20d848"/><path d="M45.9 -37.7 42.9 -36.2 39.6 -34 39.2 -34.1 42 -20 44.5 -6.2 43.2 7.5 39.5 20 34.5 32.5 38 36 39.6 36 45.1 40.4 45.3 40.2 47 35 53.2 22.5 58.2 8.8 58.9 -6.2 57.7 -11.4 55.1 -21.7 55.1 -21.9 48.8 -35.4Z" fill="#20d848"/><path d="M9.5 35 12 22.5 9.5 11.2 -0.5 7.5 -10.5 11.2 -19.2 22.5 -23 32.5 -13 40 -11.7 40 -7.1 39.3 4 38.6Z" fill="#90f010"/><path d="M12 -5 19.5 -3.8 24.5 -6.2 23.2 -11.2 17 -14.4 9.5 -12.5Z" fill="#90f010"/><path d="M-24.2 -21 -38.2 -35.8 -39.1 -35.6 -45.2 -27.8 -50.4 -15.1 -53.3 -1.8 -51.6 10.4 -51.4 10.7Z" fill="#20f0f0"/><path d="M52.6 -22.5 54.2 -18.8 57 -6.2 56.4 7.5 53.9 15 55.1 17.5 58.2 8.8 58.9 -6.2 57.7 -11.4 55.5 -20.2Z" fill="#20f0f0"/></g><g transform="translate(99.5,225.5)"><circle r="74.4" fill="none" stroke="#0c0c0c" stroke-width="0.8"/><path d="M73.6 -6.4L72.4 -6.3M72.8 -12.8L71.6 -12.6M69.4 -25.3L68.3 -24.9M67.0 -31.2L65.9 -30.7M60.5 -42.4L59.6 -41.7M56.6 -47.5L55.7 -46.7M47.5 -56.6L46.7 -55.7M42.4 -60.5L41.7 -59.6M31.2 -67.0L30.7 -65.9M25.3 -69.4L24.9 -68.3M12.8 -72.8L12.6 -71.6M6.4 -73.6L6.3 -72.4M-6.4 -73.6L-6.3 -72.4M-12.8 -72.8L-12.6 -71.6M-25.3 -69.4L-24.9 -68.3M-31.2 -67.0L-30.7 -65.9M-42.4 -60.5L-41.7 -59.6M-47.5 -56.6L-46.7 -55.7M-56.6 -47.5L-55.7 -46.7M-60.5 -42.4L-59.6 -41.7M-67.0 -31.2L-65.9 -30.7M-69.4 -25.3L-68.3 -24.9M-72.8 -12.8L-71.6 -12.6M-73.6 -6.4L-72.4 -6.3M-73.6 6.4L-72.4 6.3M-72.8 12.8L-71.6 12.6M-69.4 25.3L-68.3 24.9M-67.0 31.2L-65.9 30.7M-60.5 42.4L-59.6 41.7M-56.6 47.5L-55.7 46.7M-47.5 56.6L-46.7 55.7M-42.4 60.5L-41.7 59.6M-31.2 67.0L-30.7 65.9M-25.3 69.4L-24.9 68.3M-12.8 72.8L-12.6 71.6M-6.4 73.6L-6.3 72.4M6.4 73.6L6.3 72.4M12.8 72.8L12.6 71.6M25.3 69.4L24.9 68.3M31.2 67.0L30.7 65.9M42.4 60.5L41.7 59.6M47.5 56.6L46.7 55.7M56.6 47.5L55.7 46.7M60.5 42.4L59.6 41.7M67.0 31.2L65.9 30.7M69.4 25.3L68.3 24.9M72.8 12.8L71.6 12.6M73.6 6.4L72.4 6.3" stroke="#e0e0e0" stroke-width="0.9"/><path d="M73.9 -0.0L71.6 -0.0M71.4 -19.1L69.2 -18.5M64.0 -36.9L62.0 -35.8M52.3 -52.3L50.6 -50.6M37.0 -64.0L35.8 -62.0M19.1 -71.4L18.5 -69.2M0.0 -73.9L0.0 -71.6M-19.1 -71.4L-18.5 -69.2M-36.9 -64.0L-35.8 -62.0M-52.3 -52.3L-50.6 -50.6M-64.0 -36.9L-62.0 -35.8M-71.4 -19.1L-69.2 -18.5M-73.9 -0.0L-71.6 -0.0M-71.4 19.1L-69.2 18.5M-64.0 37.0L-62.0 35.8M-52.3 52.3L-50.6 50.6M-37.0 64.0L-35.8 62.0M-19.1 71.4L-18.5 69.2M-0.0 73.9L-0.0 71.6M19.1 71.4L18.5 69.2M37.0 64.0L35.8 62.0M52.3 52.3L50.6 50.6M64.0 37.0L62.0 35.8M71.4 19.1L69.2 18.5" stroke="#f0f0f0" stroke-width="0.7"/><text x="69.0" y="1.0" font-size="3.0" fill="#f4f4f4" text-anchor="middle" font-weight="bold" >0</text><text x="66.6" y="-16.9" font-size="3.0" fill="#f4f4f4" text-anchor="middle" font-weight="bold" >15</text><text x="59.8" y="-33.5" font-size="3.0" fill="#f4f4f4" text-anchor="middle" font-weight="bold" >30</text><text x="48.8" y="-47.8" font-size="3.0" fill="#f4f4f4" text-anchor="middle" font-weight="bold" >45</text><text x="34.5" y="-58.8" font-size="3.0" fill="#f4f4f4" text-anchor="middle" font-weight="bold" >60</text><text x="17.9" y="-65.6" font-size="3.0" fill="#f4f4f4" text-anchor="middle" font-weight="bold" >75</text><text x="0.0" y="-68.0" font-size="3.0" fill="#f4f4f4" text-anchor="middle" font-weight="bold" >90</text><text x="-17.9" y="-65.6" font-size="3.0" fill="#f4f4f4" text-anchor="middle" font-weight="bold" >105</text><text x="-34.5" y="-58.8" font-size="3.0" fill="#f4f4f4" text-anchor="middle" font-weight="bold" >120</text><text x="-48.8" y="-47.8" font-size="3.0" fill="#f4f4f4" text-anchor="middle" font-weight="bold" >135</text><text x="-59.8" y="-33.5" font-size="3.0" fill="#f4f4f4" text-anchor="middle" font-weight="bold" >150</text><text x="-66.6" y="-16.9" font-size="3.0" fill="#f4f4f4" text-anchor="middle" font-weight="bold" >165</text><text x="-69.0" y="1.0" font-size="3.0" fill="#f4f4f4" text-anchor="middle" font-weight="bold" >180</text><text x="-66.6" y="18.9" font-size="3.0" fill="#f4f4f4" text-anchor="middle" font-weight="bold" >195</text><text x="-59.8" y="35.5" font-size="3.0" fill="#f4f4f4" text-anchor="middle" font-weight="bold" >210</text><text x="-48.8" y="49.8" font-size="3.0" fill="#f4f4f4" text-anchor="middle" font-weight="bold" >225</text><text x="-34.5" y="60.8" font-size="3.0" fill="#f4f4f4" text-anchor="middle" font-weight="bold" >240</text><text x="-17.9" y="67.6" font-size="3.0" fill="#f4f4f4" text-anchor="middle" font-weight="bold" >255</text><text x="-0.0" y="70.0" font-size="3.0" fill="#f4f4f4" text-anchor="middle" font-weight="bold" >270</text><text x="17.9" y="67.6" font-size="3.0" fill="#f4f4f4" text-anchor="middle" font-weight="bold" >285</text><text x="34.5" y="60.8" font-size="3.0" fill="#f4f4f4" text-anchor="middle" font-weight="bold" >300</text><text x="48.8" y="49.8" font-size="3.0" fill="#f4f4f4" text-anchor="middle" font-weight="bold" >315</text><text x="59.8" y="35.5" font-size="3.0" fill="#f4f4f4" text-anchor="middle" font-weight="bold" >330</text><text x="66.6" y="18.9" font-size="3.0" fill="#f4f4f4" text-anchor="middle" font-weight="bold" >345</text></g><g transform="translate(99.5,225.5)" fill="none"><circle r="19.9" stroke="#111" stroke-width="0.55"/><circle r="33.2" stroke="#111" stroke-width="0.55"/><circle r="46.5" stroke="#111" stroke-width="0.55"/><circle r="59.8" stroke="#111" stroke-width="0.55"/><path d="M-1.3 -13.3h2.6M-1.3 13.3h2.6M-13.3 -0.9v1.8M13.3 -0.9v1.8M-1.3 -26.6h2.6M-1.3 26.6h2.6M-26.6 -0.9v1.8M26.6 -0.9v1.8M-1.3 -39.900000000000006h2.6M-1.3 39.900000000000006h2.6M-39.900000000000006 -0.9v1.8M39.900000000000006 -0.9v1.8M-1.3 -53.2h2.6M-1.3 53.2h2.6M-53.2 -0.9v1.8M53.2 -0.9v1.8" stroke="#222" stroke-width="0.55"/><circle cx="2.7" cy="-3.8" r="44" stroke="#ffffff" stroke-width="0.6" stroke-dasharray="0.9 0.45" opacity="0.9"/></g><g transform="translate(99.5,225.5)"><path d="M22.6 -40L8.9 -16.9M16.4 -10.6L0.8 0.6M-0.5 1.2L-9.9 17.5M-6.8 18.8L-11.8 30.6M-16.8 28.8L-23 40" stroke="#ff1010" stroke-width="1.15" fill="none"/><path d="M-29.2 -13.5L0 0L13.2 15M15.8 12.2L26.4 20.6M33.9 30.6L44.5 40" stroke="#1020ff" stroke-width="1.15" fill="none"/><rect x="-24" y="-17.1" width="7.8" height="4.6" fill="#fff" stroke="#111" stroke-width="0.5"/><path d="M-22.7 -14.7h5.2" stroke="#444" stroke-width="2" stroke-dasharray="1.2 0.5"/><rect x="-9.4" y="-10.4" width="7.8" height="4.6" fill="#fff" stroke="#111" stroke-width="0.5"/><path d="M-8.1 -8h5.2" stroke="#444" stroke-width="2" stroke-dasharray="1.2 0.5"/><rect x="13.1" y="-22.3" width="7.8" height="4.6" fill="#fff" stroke="#111" stroke-width="0.5"/><path d="M14.4 -19.9h5.2" stroke="#444" stroke-width="2" stroke-dasharray="1.2 0.5"/><rect x="19.6" y="-34.2" width="7.8" height="4.6" fill="#fff" stroke="#111" stroke-width="0.5"/><path d="M20.9 -31.8h5.2" stroke="#444" stroke-width="2" stroke-dasharray="1.2 0.5"/><rect x="8.1" y="-4.2" width="7.8" height="4.6" fill="#fff" stroke="#111" stroke-width="0.5"/><path d="M9.4 -1.8h5.2" stroke="#444" stroke-width="2" stroke-dasharray="1.2 0.5"/><rect x="-13.4" y="3.3" width="7.8" height="4.6" fill="#fff" stroke="#111" stroke-width="0.5"/><path d="M-12.1 5.7h5.2" stroke="#444" stroke-width="2" stroke-dasharray="1.2 0.5"/><rect x="-2.5" y="8.7" width="7.8" height="4.6" fill="#fff" stroke="#111" stroke-width="0.5"/><path d="M-1.2 11.1h5.2" stroke="#444" stroke-width="2" stroke-dasharray="1.2 0.5"/><rect x="-18.4" y="19.2" width="7.8" height="4.6" fill="#fff" stroke="#111" stroke-width="0.5"/><path d="M-17.1 21.6h5.2" stroke="#444" stroke-width="2" stroke-dasharray="1.2 0.5"/><rect x="-29" y="27.9" width="7.8" height="4.6" fill="#fff" stroke="#111" stroke-width="0.5"/><path d="M-27.7 30.4h5.2" stroke="#444" stroke-width="2" stroke-dasharray="1.2 0.5"/><rect x="12.5" y="17.7" width="7.8" height="4.6" fill="#fff" stroke="#111" stroke-width="0.5"/><path d="M13.8 20.1h5.2" stroke="#444" stroke-width="2" stroke-dasharray="1.2 0.5"/><rect x="30.9" y="35.8" width="7.8" height="4.6" fill="#fff" stroke="#111" stroke-width="0.5"/><path d="M32.1 38.2h5.2" stroke="#444" stroke-width="2" stroke-dasharray="1.2 0.5"/><circle cx="0" cy="-0.4" r="0.9" fill="#3a4ad0" stroke="#ddd" stroke-width="0.3"/><circle cx="2.7" cy="-6" r="0.7" fill="#fff"/><rect x="5.8" y="-8.0" width="1.8" height="1.8" fill="#f060c0" stroke="#fff" stroke-width="0.3"/><circle cx="8.7" cy="6.9" r="1" fill="#ff5000" stroke="#802000" stroke-width="0.3"/></g><g transform="translate(353.5,225.5)"><path d="M-52.7 22.7 -47.1 40.4 -38.2 56 -36 57.1 -21.6 57.1 -20.4 64.9 30.7 64.9 37.3 62.7 47.3 49.3 54 24.9 55.6 0.4 54 -21.8 47.3 -39.6 37.3 -54 -24.9 -54.2 -34.9 -52.9 -47.1 -37.3 -52.7 -21.8 -54.2 0.4Z" fill="#77e300"/><path d="M-47.1 40.4 -38.2 56 -36 57.1 -21.6 57.1 -20.4 64.9 30.7 64.9 37.3 62.7 47.3 49.3 54 24.9 55.6 0.4 54 -21.8 47.3 -39.6 37.3 -54 -24.9 -54.2 -34.9 -52.9 -47.1 -37.3 -52.7 -21.8 -54.2 0.4 -52.7 22.7ZM0 -9.7 4.5 -10.1 9 -8.7 12.4 -6 15 -1.5 15.7 3 14.7 7.5 12 11.1 9 13.2 4.5 13.9 0 13 -3.8 10.5 -6.9 6 -7.9 1.5 -7.1 -3 -4.5 -7Z" fill="#2fda19"/><path d="M-47.1 40.4 -38.2 56 -36 57.1 -21.6 57.1 -20.4 64.9 30.7 64.9 37.3 62.7 47.3 49.3 54 24.9 55.6 0.4 54 -21.8 47.3 -39.6 37.3 -54 -24.9 -54.2 -34.9 -52.9 -47.1 -37.3 -52.7 -21.8 -54.2 0.4 -52.7 22.7ZM1.5 -21.3 6 -21.4 10.5 -20.7 15 -19.1 18 -17.2 21.9 -13.5 25.4 -9 27.5 -4.5 28.4 0 28.3 4.5 27.1 12 25.7 16.5 24 19.8 20.6 24 16.5 27.6 12 29.9 7.5 31.1 3 30.6 -4.4 28.5 -7.6 27 -10.5 24.6 -13.5 21 -16 16.5 -17.5 12 -18.7 6 -19 1.5 -18.5 -3 -16.7 -7.5 -13.8 -12 -10.5 -15.6 -7.4 -18 -3 -20.3Z" fill="#00d67d"/><path d="M-47.1 40.4 -38.2 56 -36 57.1 -21.6 57.1 -20.4 64.9 30.7 64.9 37.3 62.7 47.3 49.3 54 24.9 55.6 0.4 54 -21.8 47.3 -39.6 37.3 -54 -24.9 -54.2 -34.9 -52.9 -47.1 -37.3 -52.7 -21.8 -54.2 0.4 -52.7 22.7ZM3 -30.1 9 -29.3 15 -27.5 19.5 -25.4 23.7 -22.5 28.5 -17.7 33 -12 37.1 -4.5 38.4 0 37.8 6 35.4 15 33.2 21 30.4 25.5 25.5 30.8 21 34.2 15 36.9 9 38.2 4.5 38.1 -7.5 35.3 -12 33.3 -16.2 30 -21 24.4 -23.9 19.5 -27.5 10.5 -29.4 3 -29.1 -1.5 -27.2 -6 -22.2 -13.5 -16.5 -20.2 -12 -24.2 -6 -28 -1.5 -29.6Z" fill="#00def6"/><path d="M-47.1 40.4 -38.2 56 -36 57.1 -21.6 57.1 -20.4 64.9 30.7 64.9 37.3 62.7 47.3 49.3 54 24.9 55.6 0.4 54 -21.8 47.3 -39.6 37.3 -54 -24.9 -54.2 -34.9 -52.9 -47.1 -37.3 -52.7 -21.8 -54.2 0.4 -52.7 22.7ZM-1.5 -36.4 4.5 -36.4 12 -34.6 19.5 -31.5 25.5 -27.7 31.5 -22.3 37.3 -15 41.6 -7.5 43.5 -1.5 43.7 4.5 42.4 10.5 39 20.6 35.6 27 30.7 33 25.5 37.3 19.5 40.5 13.5 42.3 6 42.8 -6 40.8 -12 38.9 -18 35.2 -23.2 30 -28.4 22.5 -34.5 10.2 -36.9 3 -36.7 -1.5 -34.6 -6 -28.5 -15 -22.5 -22.5 -16.5 -28.4 -12 -31.8 -7.1 -34.5Z" fill="#00bff8"/><path d="M-47.1 40.4 -38.2 56 -36 57.1 -21.6 57.1 -20.4 64.9 30.7 64.9 37.3 62.7 47.3 49.3 54 24.9 55.6 0.4 54 -21.8 47.3 -39.6 37.3 -54 -24.9 -54.2 -34.9 -52.9 -47.1 -37.3 -52.7 -21.8 -54.2 0.4 -52.7 22.7ZM-3 -41 4.5 -41.1 13.5 -39.2 21 -36.1 28.1 -31.5 34.7 -25.5 40.5 -18.3 45 -10.5 47.6 -3 48.3 3 47.2 10.5 43.5 21.4 39 30 34 36 28.5 40.6 22.5 43.9 15 46.3 6 47.1 -4.5 45.8 -12.6 43.5 -19.5 39.6 -25.5 34 -31.5 25.8 -38 13.5 -41.3 4.5 -41.5 0 -39.6 -6 -34.5 -14.7 -26.5 -25.5 -21 -31.4 -15.1 -36 -9 -39.2Z" fill="#00a4f5"/><path d="M-47.1 40.4 -38.2 56 -36 57.1 -21.6 57.1 -20.4 64.9 30.7 64.9 37.3 62.7 47.3 49.3 54 24.9 55.6 0.4 54 -21.8 47.3 -39.6 37.3 -54 -24.9 -54.2 -34.9 -52.9 -47.1 -37.3 -52.7 -21.8 -54.2 0.4 -52.7 22.7ZM0 -45.2 9 -44.6 16.5 -42.7 24 -39.4 31.5 -34.3 39 -27.1 44.8 -19.5 50.1 -9 52.2 -1.5 52.4 6 50.8 13.5 46.3 25.5 41 34.5 35.4 40.5 28.5 45.5 21 48.9 13.5 50.7 4.5 51.1 -7.5 49.6 -15 47.2 -22.5 42.6 -29.1 36 -35.5 27 -42.2 13.5 -44.9 4.5 -44.8 -1.5 -42 -9.3 -34.5 -22.2 -27 -32 -21 -37.6 -15 -41.4 -7.5 -44.1Z" fill="#028ef0"/><path d="M54.6 15.9 49.7 28.5 44.1 37.5 36 45.4 27 50.9 16.5 54.3 6 55.2 -7.5 54 -13.5 52.5 -18 50.6 -22.5 47.9 -27 44.1 -31.7 39 -36.2 33 -40.5 25.6 -44.8 16.5 -47 10.5 -48.2 4.5 -48.2 0 -47.3 -4.5 -42.2 -16.5 -34.5 -29.5 -27 -38.5 -19.5 -44.2 -10.5 -47.6 1.5 -48.8 13.5 -47.9 21 -45.6 27 -42.7 33 -38.5 39 -33.2 43.5 -28.4 48 -22.3 51.3 -16.5 55 -7.7 54 -21.8 47.3 -39.6 37.3 -54 -24.9 -54.2 -34.9 -52.9 -47.1 -37.3 -52.7 -21.8 -54.2 0.4 -52.7 22.7 -47.1 40.4 -38.2 56 -36 57.1 -21.6 57.1 -20.4 64.9 30.7 64.9 37.3 62.7 47.3 49.3 54 24.9Z" fill="#1878ea"/><path d="M51.2 35.2 44.6 43.5 35.4 51 25.5 56 15 58.7 1.5 59.1 -7.5 58.4 -13.5 57.2 -18 55.6 -22.5 53.1 -30 46.7 -38.7 36 -44.6 25.5 -50.1 12 -51.3 6 -51.5 1.5 -49.6 -7.5 -42 -24.9 -34.5 -36.6 -26.4 -45 -22.5 -47.7 -18 -49.9 -9 -52 9 -52.5 19.5 -50.7 28.5 -46.8 37.5 -40.2 47.8 -30 54.1 -20.8 47.3 -39.6 37.3 -54 -24.9 -54.2 -34.9 -52.9 -47.1 -37.3 -52.7 -21.8 -54.2 0.4 -52.7 22.7 -47.1 40.4 -38.2 56 -36 57.1 -21.6 57.1 -20.4 64.9 30.7 64.9 37.3 62.7 47.3 49.3Z" fill="#205fe5"/><path d="M-53.9 -4 -46.7 -24 -43.5 -30.4 -39.1 -37.5 -34.5 -43.4 -30 -48 -25.5 -51.4 -19.5 -54.2 -24.9 -54.2 -34.9 -52.9 -47.1 -37.3 -52.7 -21.8ZM-24.8 57 -33 49.4 -42.2 37.5 -47.9 27 -53.4 12.9 -52.7 22.7 -47.1 40.4 -38.2 56 -36 57.1ZM48 46.5 40.9 52.5 34.5 56.6 28.5 59.4 21 61.9 10.5 63.5 -4.5 63.1 -13.5 61.9 -21.3 59.2 -20.4 64.9 30.7 64.9 37.3 62.7 47.3 49.3ZM23.8 -54 30 -51.1 34.9 -48 48.8 -35.6 47.3 -39.6 37.3 -54Z" fill="#2044e1"/><path d="M-52.9 -18 -48.9 -28.5 -44.2 -37.5 -37.5 -46.8 -30.7 -53.5 -34.9 -52.9 -47.1 -37.3 -52.7 -21.8ZM-31.7 57 -42.8 43.5 -49.7 32.2 -47.1 40.4 -38.2 56 -36 57.1ZM40.3 58.7 33 62.6 27 64.9 30.7 64.9 37.3 62.7ZM34.6 -54 37.5 -52 40 -50.2 37.3 -54Z" fill="#201dc9"/></g><g transform="translate(353.5,225.5)"><circle r="74.4" fill="none" stroke="#0c0c0c" stroke-width="0.8"/><path d="M73.6 -6.4L72.4 -6.3M72.8 -12.8L71.6 -12.6M69.4 -25.3L68.3 -24.9M67.0 -31.2L65.9 -30.7M60.5 -42.4L59.6 -41.7M56.6 -47.5L55.7 -46.7M47.5 -56.6L46.7 -55.7M42.4 -60.5L41.7 -59.6M31.2 -67.0L30.7 -65.9M25.3 -69.4L24.9 -68.3M12.8 -72.8L12.6 -71.6M6.4 -73.6L6.3 -72.4M-6.4 -73.6L-6.3 -72.4M-12.8 -72.8L-12.6 -71.6M-25.3 -69.4L-24.9 -68.3M-31.2 -67.0L-30.7 -65.9M-42.4 -60.5L-41.7 -59.6M-47.5 -56.6L-46.7 -55.7M-56.6 -47.5L-55.7 -46.7M-60.5 -42.4L-59.6 -41.7M-67.0 -31.2L-65.9 -30.7M-69.4 -25.3L-68.3 -24.9M-72.8 -12.8L-71.6 -12.6M-73.6 -6.4L-72.4 -6.3M-73.6 6.4L-72.4 6.3M-72.8 12.8L-71.6 12.6M-69.4 25.3L-68.3 24.9M-67.0 31.2L-65.9 30.7M-60.5 42.4L-59.6 41.7M-56.6 47.5L-55.7 46.7M-47.5 56.6L-46.7 55.7M-42.4 60.5L-41.7 59.6M-31.2 67.0L-30.7 65.9M-25.3 69.4L-24.9 68.3M-12.8 72.8L-12.6 71.6M-6.4 73.6L-6.3 72.4M6.4 73.6L6.3 72.4M12.8 72.8L12.6 71.6M25.3 69.4L24.9 68.3M31.2 67.0L30.7 65.9M42.4 60.5L41.7 59.6M47.5 56.6L46.7 55.7M56.6 47.5L55.7 46.7M60.5 42.4L59.6 41.7M67.0 31.2L65.9 30.7M69.4 25.3L68.3 24.9M72.8 12.8L71.6 12.6M73.6 6.4L72.4 6.3" stroke="#e0e0e0" stroke-width="0.9"/><path d="M73.9 -0.0L71.6 -0.0M71.4 -19.1L69.2 -18.5M64.0 -36.9L62.0 -35.8M52.3 -52.3L50.6 -50.6M37.0 -64.0L35.8 -62.0M19.1 -71.4L18.5 -69.2M0.0 -73.9L0.0 -71.6M-19.1 -71.4L-18.5 -69.2M-36.9 -64.0L-35.8 -62.0M-52.3 -52.3L-50.6 -50.6M-64.0 -36.9L-62.0 -35.8M-71.4 -19.1L-69.2 -18.5M-73.9 -0.0L-71.6 -0.0M-71.4 19.1L-69.2 18.5M-64.0 37.0L-62.0 35.8M-52.3 52.3L-50.6 50.6M-37.0 64.0L-35.8 62.0M-19.1 71.4L-18.5 69.2M-0.0 73.9L-0.0 71.6M19.1 71.4L18.5 69.2M37.0 64.0L35.8 62.0M52.3 52.3L50.6 50.6M64.0 37.0L62.0 35.8M71.4 19.1L69.2 18.5" stroke="#f0f0f0" stroke-width="0.7"/><text x="69.0" y="1.0" font-size="3.0" fill="#f4f4f4" text-anchor="middle" font-weight="bold" >0</text><text x="66.6" y="-16.9" font-size="3.0" fill="#f4f4f4" text-anchor="middle" font-weight="bold" >15</text><text x="59.8" y="-33.5" font-size="3.0" fill="#f4f4f4" text-anchor="middle" font-weight="bold" >30</text><text x="48.8" y="-47.8" font-size="3.0" fill="#f4f4f4" text-anchor="middle" font-weight="bold" >45</text><text x="34.5" y="-58.8" font-size="3.0" fill="#f4f4f4" text-anchor="middle" font-weight="bold" >60</text><text x="17.9" y="-65.6" font-size="3.0" fill="#f4f4f4" text-anchor="middle" font-weight="bold" >75</text><text x="0.0" y="-68.0" font-size="3.0" fill="#f4f4f4" text-anchor="middle" font-weight="bold" >90</text><text x="-17.9" y="-65.6" font-size="3.0" fill="#f4f4f4" text-anchor="middle" font-weight="bold" >105</text><text x="-34.5" y="-58.8" font-size="3.0" fill="#f4f4f4" text-anchor="middle" font-weight="bold" >120</text><text x="-48.8" y="-47.8" font-size="3.0" fill="#f4f4f4" text-anchor="middle" font-weight="bold" >135</text><text x="-59.8" y="-33.5" font-size="3.0" fill="#f4f4f4" text-anchor="middle" font-weight="bold" >150</text><text x="-66.6" y="-16.9" font-size="3.0" fill="#f4f4f4" text-anchor="middle" font-weight="bold" >165</text><text x="-69.0" y="1.0" font-size="3.0" fill="#f4f4f4" text-anchor="middle" font-weight="bold" >180</text><text x="-66.6" y="18.9" font-size="3.0" fill="#f4f4f4" text-anchor="middle" font-weight="bold" >195</text><text x="-59.8" y="35.5" font-size="3.0" fill="#f4f4f4" text-anchor="middle" font-weight="bold" >210</text><text x="-48.8" y="49.8" font-size="3.0" fill="#f4f4f4" text-anchor="middle" font-weight="bold" >225</text><text x="-34.5" y="60.8" font-size="3.0" fill="#f4f4f4" text-anchor="middle" font-weight="bold" >240</text><text x="-17.9" y="67.6" font-size="3.0" fill="#f4f4f4" text-anchor="middle" font-weight="bold" >255</text><text x="-0.0" y="70.0" font-size="3.0" fill="#f4f4f4" text-anchor="middle" font-weight="bold" >270</text><text x="17.9" y="67.6" font-size="3.0" fill="#f4f4f4" text-anchor="middle" font-weight="bold" >285</text><text x="34.5" y="60.8" font-size="3.0" fill="#f4f4f4" text-anchor="middle" font-weight="bold" >300</text><text x="48.8" y="49.8" font-size="3.0" fill="#f4f4f4" text-anchor="middle" font-weight="bold" >315</text><text x="59.8" y="35.5" font-size="3.0" fill="#f4f4f4" text-anchor="middle" font-weight="bold" >330</text><text x="66.6" y="18.9" font-size="3.0" fill="#f4f4f4" text-anchor="middle" font-weight="bold" >345</text></g><g transform="translate(353.5,225.5)" fill="none"><circle r="19.9" stroke="#111" stroke-width="0.55"/><circle r="33.2" stroke="#111" stroke-width="0.55"/><circle r="46.5" stroke="#111" stroke-width="0.55"/><circle r="59.8" stroke="#111" stroke-width="0.55"/><path d="M-1.3 -13.3h2.6M-1.3 13.3h2.6M-13.3 -0.9v1.8M13.3 -0.9v1.8M-1.3 -26.6h2.6M-1.3 26.6h2.6M-26.6 -0.9v1.8M26.6 -0.9v1.8M-1.3 -39.900000000000006h2.6M-1.3 39.900000000000006h2.6M-39.900000000000006 -0.9v1.8M39.900000000000006 -0.9v1.8M-1.3 -53.2h2.6M-1.3 53.2h2.6M-53.2 -0.9v1.8M53.2 -0.9v1.8" stroke="#222" stroke-width="0.55"/><circle cx="2.7" cy="-3.8" r="44" stroke="#ffffff" stroke-width="0.6" stroke-dasharray="0.9 0.45" opacity="0.9"/></g><g transform="translate(353.5,225.5)"><circle cx="0" cy="0" r="13" fill="none" stroke="#fff" stroke-width="0.55" stroke-dasharray="1.1 0.6"/><circle cx="0" cy="-39.5" r="13" fill="none" stroke="#fff" stroke-width="0.55"/><circle cx="-39.5" cy="0" r="13" fill="none" stroke="#fff" stroke-width="0.55"/><circle cx="39.5" cy="0" r="13" fill="none" stroke="#fff" stroke-width="0.55"/><circle cx="0" cy="39.5" r="13" fill="none" stroke="#fff" stroke-width="0.55"/><rect x="-6" y="-3.6" width="12" height="7.2" fill="#fff" stroke="#222" stroke-width="0.5"/><text x="0" y="2.3" font-size="6.3" fill="#555" text-anchor="middle" textLength="9.6" lengthAdjust="spacingAndGlyphs">575</text><rect x="-6" y="-43.1" width="12" height="7.2" fill="#fff" stroke="#222" stroke-width="0.5"/><text x="0" y="-37.2" font-size="6.3" fill="#555" text-anchor="middle" textLength="9.6" lengthAdjust="spacingAndGlyphs">651</text><rect x="-45.5" y="-3.6" width="12" height="7.2" fill="#fff" stroke="#222" stroke-width="0.5"/><text x="-39.5" y="2.3" font-size="6.3" fill="#555" text-anchor="middle" textLength="9.6" lengthAdjust="spacingAndGlyphs">648</text><rect x="33.5" y="-3.6" width="12" height="7.2" fill="#fff" stroke="#222" stroke-width="0.5"/><text x="39.5" y="2.3" font-size="6.3" fill="#555" text-anchor="middle" textLength="9.6" lengthAdjust="spacingAndGlyphs">623</text><rect x="-6" y="35.9" width="12" height="7.2" fill="#fff" stroke="#222" stroke-width="0.5"/><text x="0" y="41.8" font-size="6.3" fill="#555" text-anchor="middle" textLength="9.6" lengthAdjust="spacingAndGlyphs">629</text><circle cx="0" cy="-0.4" r="0.9" fill="#3a4ad0" stroke="#ddd" stroke-width="0.3"/><circle cx="2.7" cy="-6" r="0.7" fill="#fff"/><rect x="5.8" y="-8.0" width="1.8" height="1.8" fill="#f060c0" stroke="#fff" stroke-width="0.3"/><circle cx="8.7" cy="6.9" r="1" fill="#ff5000" stroke="#802000" stroke-width="0.3"/></g><rect x="170" y="8" width="56.3" height="32.3" fill="#c9c9c9" stroke="#555" stroke-width="0.5"/><text x="170.6" y="13" font-size="4.9" fill="#111" textLength="30" lengthAdjust="spacingAndGlyphs" >7.99mm/42.3D</text><rect x="227" y="8" width="56.3" height="32.3" fill="#c9c9c9" stroke="#555" stroke-width="0.5"/><text x="227.6" y="13" font-size="4.9" fill="#111" textLength="30" lengthAdjust="spacingAndGlyphs" >6.57mm/51.4D</text><rect x="170" y="260" width="56.3" height="33" fill="#c9c9c9" stroke="#555" stroke-width="0.5"/><rect x="227" y="260" width="56.3" height="33" fill="#c9c9c9" stroke="#555" stroke-width="0.5"/><rect x="177" y="41" width="99" height="177.5" fill="#c9c9c9"/><path d="M177 41.3H276" stroke="#e8e8e8" stroke-width="0.6"/><path d="M177 218.2H276" stroke="#777" stroke-width="0.7"/><text x="178.3" y="47.3" font-size="6.25" fill="#151515" >OG</text><text x="178.3" y="54.3" font-size="6.25" fill="#151515" >N4 Y7050457 M8949</text><text x="178.3" y="61.4" font-size="6.25" fill="#151515" >14/06/2010 12:28:55</text><text x="178.3" y="68.4" font-size="6.25" fill="#151515" >PreC</text><text x="178.3" y="82.5" font-size="6.25" fill="#151515" >Visio</text><rect x="190.5" y="63" width="56.5" height="20" fill="#bebebe"/><path d="M179.5 84.7H274" stroke="#555" stroke-width="0.9"/><path d="M179.5 106H274" stroke="#555" stroke-width="0.9"/><path d="M179.5 140.3H274" stroke="#555" stroke-width="0.9"/><path d="M179.5 175H274" stroke="#555" stroke-width="0.9"/><path d="M179.5 216.2H274" stroke="#555" stroke-width="0.9"/><text x="180" y="91.2" font-size="5.33" fill="#1a1a1a" textLength="18.3" lengthAdjust="spacingAndGlyphs" >Sim K's</text><text x="197.7" y="91.2" font-size="5.33" fill="#f040a8" textLength="13" lengthAdjust="spacingAndGlyphs" >Astig:</text><text x="215.2" y="91.2" font-size="5.33" fill="#f040a8" >1.5 D</text><text x="233" y="91.2" font-size="5.33" fill="#f040a8" >@ 48 deg</text><text x="180" y="97.6" font-size="5.33" fill="#f03030" textLength="10.3" lengthAdjust="spacingAndGlyphs" >Max:</text><text x="215.2" y="97.6" font-size="5.33" fill="#f03030" >43.6 D</text><text x="233" y="97.6" font-size="5.33" fill="#f03030" >@ 48 deg</text><text x="180" y="104.1" font-size="5.33" fill="#2030e8" textLength="9" lengthAdjust="spacingAndGlyphs" >Min:</text><text x="215.2" y="104.1" font-size="5.33" fill="#2030e8" >42.5 D</text><text x="233" y="104.1" font-size="5.33" fill="#2030e8" >@ 138 deg</text><text x="180" y="112.3" font-size="5.33" fill="#1a1a1a" textLength="31" lengthAdjust="spacingAndGlyphs" >3.0 MM Zone:</text><text x="215.2" y="112.3" font-size="5.33" fill="#9838b0" >Irreg:</text><text x="233" y="112.3" font-size="5.33" fill="#9838b0" >± 1.1 D</text><text x="180" y="118.8" font-size="5.33" fill="#1a1a1a" textLength="23.5" lengthAdjust="spacingAndGlyphs" >Mean Pwr</text><text x="215.2" y="118.8" font-size="5.33" fill="#1a1a1a" >42.9</text><text x="233" y="118.8" font-size="5.33" fill="#1a1a1a" >± 0.7 D</text><text x="180" y="125.4" font-size="5.33" fill="#1a1a1a" textLength="22.5" lengthAdjust="spacingAndGlyphs" >Astig Pwr</text><text x="215.2" y="125.4" font-size="5.33" fill="#1a1a1a" >1.7</text><text x="233" y="125.4" font-size="5.33" fill="#1a1a1a" >± 0.8 D</text><text x="180" y="132" font-size="5.33" fill="#f03030" textLength="25" lengthAdjust="spacingAndGlyphs" >Steep Axis</text><text x="215.2" y="132" font-size="5.33" fill="#f03030" style="white-space:pre" > 57</text><text x="233" y="132" font-size="5.33" fill="#f03030" >± 21 deg</text><text x="180" y="138.5" font-size="5.33" fill="#2030e8" textLength="19.5" lengthAdjust="spacingAndGlyphs" >Flat Axis</text><text x="215.2" y="138.5" font-size="5.33" fill="#2030e8" >143</text><text x="233" y="138.5" font-size="5.33" fill="#2030e8" >± 21 deg</text><text x="180" y="146.6" font-size="5.33" fill="#1a1a1a" textLength="31" lengthAdjust="spacingAndGlyphs" >5.0 MM Zone:</text><text x="215.2" y="146.6" font-size="5.33" fill="#9838b0" >Irreg:</text><text x="233" y="146.6" font-size="5.33" fill="#9838b0" >± 1.3 D</text><text x="180" y="153.2" font-size="5.33" fill="#1a1a1a" textLength="23.5" lengthAdjust="spacingAndGlyphs" >Mean Pwr</text><text x="215.2" y="153.2" font-size="5.33" fill="#1a1a1a" >42.9</text><text x="233" y="153.2" font-size="5.33" fill="#1a1a1a" >± 0.8 D</text><text x="180" y="159.8" font-size="5.33" fill="#1a1a1a" textLength="22.5" lengthAdjust="spacingAndGlyphs" >Astig Pwr</text><text x="215.2" y="159.8" font-size="5.33" fill="#1a1a1a" >1.9</text><text x="233" y="159.8" font-size="5.33" fill="#1a1a1a" >± 1.0 D</text><text x="180" y="166.4" font-size="5.33" fill="#f03030" textLength="25" lengthAdjust="spacingAndGlyphs" >Steep Axis</text><text x="215.2" y="166.4" font-size="5.33" fill="#f03030" style="white-space:pre" > 74</text><text x="233" y="166.4" font-size="5.33" fill="#f03030" >± 26 deg</text><text x="180" y="172.9" font-size="5.33" fill="#2030e8" textLength="19.5" lengthAdjust="spacingAndGlyphs" >Flat Axis</text><text x="215.2" y="172.9" font-size="5.33" fill="#2030e8" >155</text><text x="233" y="172.9" font-size="5.33" fill="#2030e8" >± 26 deg</text><text x="180" y="181.3" font-size="5.33" fill="#1a1a1a" >White-to-White [mm] : 12.1</text><text x="180" y="187.9" font-size="5.33" fill="#1a1a1a" >Pupil Diameter [mm] :  6.6</text><text x="180" y="194.6" font-size="5.33" fill="#1a1a1a" >Thinnest : 568 um @ ( 0.6, -0.5 )</text><text x="180" y="201.2" font-size="5.33" fill="#1a1a1a" >ACD (Ep): 4.01 mm</text><text x="180" y="207.8" font-size="5.33" fill="#1a1a1a" >Kappa : 3.31° @ 353.91°</text><text x="180" y="214.3" font-size="5.33" fill="#1a1a1a" >Kappa Intercept : 0.52, 0.55</text><text x="227.70000000000002" y="234.1" font-size="15.3" fill="#000" text-anchor="middle" >OS</text><text x="226.8" y="233.2" font-size="15.3" fill="#fff" text-anchor="middle" >OS</text><rect x="194.3" y="239.5" width="13.6" height="14.3" fill="#000"/><defs><radialGradient id="og1" cx="0.62" cy="0.42" r="0.6"><stop offset="0" stop-color="#fff"/><stop offset="0.22" stop-color="#ff9090"/><stop offset="0.45" stop-color="#ff0000"/><stop offset="1" stop-color="#f00000"/></radialGradient></defs><circle cx="201.8" cy="246.8" r="5.9" fill="url(#og1)"/><path d="M207.6 240V253.6" stroke="#999" stroke-width="0.7"/><text x="212.9" y="252.5" font-size="11.8" fill="#000" font-weight="bold" textLength="46" lengthAdjust="spacingAndGlyphs" stroke="#000" stroke-width="0.5">ORBSCAN</text><text x="211.9" y="251.5" font-size="11.8" fill="#ff0000" font-weight="bold" textLength="46" lengthAdjust="spacingAndGlyphs" stroke="#ff0000" stroke-width="0.5">ORBSCAN</text><text x="226.5" y="258.5" font-size="3.4" fill="#888" text-anchor="middle" >v3.12</text>
</svg>
<svg x="498" y="17" width="453" height="301" viewBox="0 0 453 301" preserveAspectRatio="none">
<rect x="0" y="0" width="453" height="301" fill="#333333"/><text x="1.0" y="5.8" font-size="5.4" fill="#000" textLength="54.5" lengthAdjust="spacingAndGlyphs" >0.005 mm Color Steps</text><text x="0.5" y="5.3" font-size="5.4" fill="#ddd" textLength="54.5" lengthAdjust="spacingAndGlyphs" >0.005 mm Color Steps</text><text x="453.0" y="5.8" font-size="5.4" fill="#000" text-anchor="end" textLength="54.5" lengthAdjust="spacingAndGlyphs" >0.005 mm Color Steps</text><text x="452.5" y="5.3" font-size="5.4" fill="#ddd" text-anchor="end" textLength="54.5" lengthAdjust="spacingAndGlyphs" >0.005 mm Color Steps</text><text x="137.5" y="5.8" font-size="5.4" fill="#000" textLength="33.5" lengthAdjust="spacingAndGlyphs" >Elevation BFS</text><text x="137" y="5.3" font-size="5.4" fill="#ddd" textLength="33.5" lengthAdjust="spacingAndGlyphs" >Elevation BFS</text><text x="283.0" y="5.8" font-size="5.4" fill="#000" textLength="33.5" lengthAdjust="spacingAndGlyphs" >Elevation BFS</text><text x="282.5" y="5.3" font-size="5.4" fill="#ddd" textLength="33.5" lengthAdjust="spacingAndGlyphs" >Elevation BFS</text><text x="1.1" y="16.4" font-size="8.7" fill="#000" textLength="30.2" lengthAdjust="spacingAndGlyphs" >Anterior</text><text x="0.3" y="15.6" font-size="8.7" fill="#fff" textLength="30.2" lengthAdjust="spacingAndGlyphs" >Anterior</text><text x="453.40000000000003" y="16.4" font-size="8.7" fill="#000" text-anchor="end" textLength="35" lengthAdjust="spacingAndGlyphs" >Posterior</text><text x="452.6" y="15.6" font-size="8.7" fill="#fff" text-anchor="end" textLength="35" lengthAdjust="spacingAndGlyphs" >Posterior</text><text x="0.3" y="24.7" font-size="7" fill="#c4c4c4" textLength="15.7" lengthAdjust="spacingAndGlyphs" >Float</text><text x="452.6" y="24.7" font-size="7" fill="#c4c4c4" text-anchor="end" textLength="15.7" lengthAdjust="spacingAndGlyphs" >Float</text><text x="1.1" y="291.8" font-size="8.7" fill="#000" textLength="49.5" lengthAdjust="spacingAndGlyphs" >Keratometric</text><text x="0.3" y="291" font-size="8.7" fill="#fff" textLength="49.5" lengthAdjust="spacingAndGlyphs" >Keratometric</text><text x="453.40000000000003" y="291.8" font-size="8.7" fill="#000" text-anchor="end" textLength="37.5" lengthAdjust="spacingAndGlyphs" >Thickness</text><text x="452.6" y="291" font-size="8.7" fill="#fff" text-anchor="end" textLength="37.5" lengthAdjust="spacingAndGlyphs" >Thickness</text><text x="1.0" y="299.8" font-size="5.4" fill="#000" textLength="43" lengthAdjust="spacingAndGlyphs" >1.0 D Color Steps</text><text x="0.5" y="299.3" font-size="5.4" fill="#ddd" textLength="43" lengthAdjust="spacingAndGlyphs" >1.0 D Color Steps</text><text x="453.0" y="299.5" font-size="5.4" fill="#000" text-anchor="end" textLength="45.5" lengthAdjust="spacingAndGlyphs" >20 mic Color Steps</text><text x="452.5" y="299" font-size="5.4" fill="#ddd" text-anchor="end" textLength="45.5" lengthAdjust="spacingAndGlyphs" >20 mic Color Steps</text><text x="137.5" y="299.5" font-size="5.4" fill="#000" textLength="27.5" lengthAdjust="spacingAndGlyphs" >Axial Power</text><text x="137" y="299" font-size="5.4" fill="#ddd" textLength="27.5" lengthAdjust="spacingAndGlyphs" >Axial Power</text><text x="276.5" y="299.5" font-size="5.4" fill="#000" textLength="40" lengthAdjust="spacingAndGlyphs" >0.92 Pachymetry</text><text x="276" y="299" font-size="5.4" fill="#ddd" textLength="40" lengthAdjust="spacingAndGlyphs" >0.92 Pachymetry</text><text x="37.9" y="158.5" font-size="16.8" fill="#000" text-anchor="middle" >T</text><text x="37" y="157.6" font-size="16.8" fill="#fff" text-anchor="middle" >T</text><text x="411.9" y="158.5" font-size="16.8" fill="#000" text-anchor="middle" >N</text><text x="411" y="157.6" font-size="16.8" fill="#fff" text-anchor="middle" >N</text><linearGradient id="g5" x1="0" y1="0" x2="0" y2="1"><stop offset="0" stop-color="#70508a"/><stop offset="0.0298" stop-color="#80508a"/><stop offset="0.0766" stop-color="#a04870"/><stop offset="0.1149" stop-color="#c01840"/><stop offset="0.1574" stop-color="#e00818"/><stop offset="0.2" stop-color="#ff2000"/><stop offset="0.2426" stop-color="#ff4800"/><stop offset="0.2851" stop-color="#ff7000"/><stop offset="0.3319" stop-color="#ff9000"/><stop offset="0.3787" stop-color="#ffb000"/><stop offset="0.4213" stop-color="#ffd000"/><stop offset="0.4553" stop-color="#fff000"/><stop offset="0.4843" stop-color="#ffff00"/><stop offset="0.486" stop-color="#00c800"/><stop offset="0.5174" stop-color="#00c800"/><stop offset="0.5191" stop-color="#00f0f8"/><stop offset="0.5915" stop-color="#00c8ff"/><stop offset="0.6766" stop-color="#0098ff"/><stop offset="0.766" stop-color="#0058ff"/><stop offset="0.8043" stop-color="#1030f0"/><stop offset="0.8511" stop-color="#4028c8"/><stop offset="0.8979" stop-color="#8020b0"/><stop offset="0.9383" stop-color="#a010b8"/><stop offset="1" stop-color="#b828d0"/></linearGradient><rect x="0.3" y="30.5" width="24" height="120" fill="#000"/><path d="M24.05 30.5V150.5" stroke="#9a9a9a" stroke-width="0.6"/><path d="M0.3 150.2H24.3" stroke="#9a9a9a" stroke-width="0.6"/><rect x="1.1" y="31.5" width="6" height="117.5" fill="url(#g5)"/><text x="22.6" y="42.6" font-size="5.9" fill="#eaeaea" text-anchor="end" >0.075</text><text x="22.6" y="52.73" font-size="5.9" fill="#eaeaea" text-anchor="end" >0.060</text><text x="22.6" y="62.86" font-size="5.9" fill="#eaeaea" text-anchor="end" >0.045</text><text x="22.6" y="72.99" font-size="5.9" fill="#eaeaea" text-anchor="end" >0.030</text><text x="22.6" y="83.12" font-size="5.9" fill="#eaeaea" text-anchor="end" >0.015</text><text x="22.6" y="93.25" font-size="5.9" fill="#eaeaea" text-anchor="end" >0.000</text><text x="22.6" y="103.38" font-size="5.9" fill="#eaeaea" text-anchor="end" >-0.015</text><text x="22.6" y="113.51" font-size="5.9" fill="#eaeaea" text-anchor="end" >-0.030</text><text x="22.6" y="123.64" font-size="5.9" fill="#eaeaea" text-anchor="end" >-0.045</text><text x="22.6" y="133.77" font-size="5.9" fill="#eaeaea" text-anchor="end" >-0.060</text><text x="22.6" y="143.9" font-size="5.9" fill="#eaeaea" text-anchor="end" >-0.075</text><linearGradient id="g6" x1="0" y1="0" x2="0" y2="1"><stop offset="0" stop-color="#70508a"/><stop offset="0.0298" stop-color="#80508a"/><stop offset="0.0766" stop-color="#a04870"/><stop offset="0.1149" stop-color="#c01840"/><stop offset="0.1574" stop-color="#e00818"/><stop offset="0.2" stop-color="#ff2000"/><stop offset="0.2426" stop-color="#ff4800"/><stop offset="0.2851" stop-color="#ff7000"/><stop offset="0.3319" stop-color="#ff9000"/><stop offset="0.3787" stop-color="#ffb000"/><stop offset="0.4213" stop-color="#ffd000"/><stop offset="0.4553" stop-color="#fff000"/><stop offset="0.4843" stop-color="#ffff00"/><stop offset="0.486" stop-color="#00c800"/><stop offset="0.5174" stop-color="#00c800"/><stop offset="0.5191" stop-color="#00f0f8"/><stop offset="0.5915" stop-color="#00c8ff"/><stop offset="0.6766" stop-color="#0098ff"/><stop offset="0.766" stop-color="#0058ff"/><stop offset="0.8043" stop-color="#1030f0"/><stop offset="0.8511" stop-color="#4028c8"/><stop offset="0.8979" stop-color="#8020b0"/><stop offset="0.9383" stop-color="#a010b8"/><stop offset="1" stop-color="#b828d0"/></linearGradient><rect x="428.3" y="30.5" width="24.4" height="120" fill="#000"/><path d="M452.45 30.5V150.5" stroke="#9a9a9a" stroke-width="0.6"/><path d="M428.3 150.2H452.7" stroke="#9a9a9a" stroke-width="0.6"/><rect x="429.1" y="31.5" width="6" height="117.5" fill="url(#g6)"/><text x="451.0" y="42.6" font-size="5.9" fill="#eaeaea" text-anchor="end" >0.075</text><text x="451.0" y="52.73" font-size="5.9" fill="#eaeaea" text-anchor="end" >0.060</text><text x="451.0" y="62.86" font-size="5.9" fill="#eaeaea" text-anchor="end" >0.045</text><text x="451.0" y="72.99" font-size="5.9" fill="#eaeaea" text-anchor="end" >0.030</text><text x="451.0" y="83.12" font-size="5.9" fill="#eaeaea" text-anchor="end" >0.015</text><text x="451.0" y="93.25" font-size="5.9" fill="#eaeaea" text-anchor="end" >0.000</text><text x="451.0" y="103.38" font-size="5.9" fill="#eaeaea" text-anchor="end" >-0.015</text><text x="451.0" y="113.51" font-size="5.9" fill="#eaeaea" text-anchor="end" >-0.030</text><text x="451.0" y="123.64" font-size="5.9" fill="#eaeaea" text-anchor="end" >-0.045</text><text x="451.0" y="133.77" font-size="5.9" fill="#eaeaea" text-anchor="end" >-0.060</text><text x="451.0" y="143.9" font-size="5.9" fill="#eaeaea" text-anchor="end" >-0.075</text><linearGradient id="g7" x1="0" y1="0" x2="0" y2="1"><stop offset="0" stop-color="#f08888"/><stop offset="0.0723" stop-color="#e87070"/><stop offset="0.0979" stop-color="#c05858"/><stop offset="0.1234" stop-color="#b04030"/><stop offset="0.1447" stop-color="#c00000"/><stop offset="0.166" stop-color="#d80000"/><stop offset="0.1915" stop-color="#e82000"/><stop offset="0.217" stop-color="#f04800"/><stop offset="0.2511" stop-color="#f07000"/><stop offset="0.2851" stop-color="#f09000"/><stop offset="0.3362" stop-color="#e8b800"/><stop offset="0.3787" stop-color="#f8e000"/><stop offset="0.4213" stop-color="#ffff00"/><stop offset="0.4468" stop-color="#a0f000"/><stop offset="0.4723" stop-color="#50e000"/><stop offset="0.4979" stop-color="#00c840"/><stop offset="0.5191" stop-color="#00e0c0"/><stop offset="0.5319" stop-color="#00e8f8"/><stop offset="0.5957" stop-color="#00b8f8"/><stop offset="0.634" stop-color="#0090f0"/><stop offset="0.6851" stop-color="#2060e0"/><stop offset="0.7191" stop-color="#2030d8"/><stop offset="0.7702" stop-color="#2010b0"/><stop offset="0.8043" stop-color="#401098"/><stop offset="0.8553" stop-color="#8030b0"/><stop offset="0.8894" stop-color="#b030c0"/><stop offset="0.9404" stop-color="#c840d8"/><stop offset="1" stop-color="#d868f0"/></linearGradient><rect x="0.3" y="151" width="24" height="119" fill="#000"/><path d="M24.05 151V270" stroke="#9a9a9a" stroke-width="0.6"/><path d="M0.3 269.7H24.3" stroke="#9a9a9a" stroke-width="0.6"/><rect x="1.1" y="152" width="6" height="116.5" fill="url(#g7)"/><text x="22.6" y="162.6" font-size="5.9" fill="#eaeaea" text-anchor="end" >57.00</text><text x="22.6" y="172.75" font-size="5.9" fill="#eaeaea" text-anchor="end" >54.00</text><text x="22.6" y="182.9" font-size="5.9" fill="#eaeaea" text-anchor="end" >51.00</text><text x="22.6" y="193.05" font-size="5.9" fill="#eaeaea" text-anchor="end" >48.00</text><text x="22.6" y="203.2" font-size="5.9" fill="#eaeaea" text-anchor="end" >45.00</text><text x="22.6" y="213.35" font-size="5.9" fill="#eaeaea" text-anchor="end" >42.00</text><text x="22.6" y="223.5" font-size="5.9" fill="#eaeaea" text-anchor="end" >39.00</text><text x="22.6" y="233.65" font-size="5.9" fill="#eaeaea" text-anchor="end" >36.00</text><text x="22.6" y="243.8" font-size="5.9" fill="#eaeaea" text-anchor="end" >33.00</text><text x="22.6" y="253.95" font-size="5.9" fill="#eaeaea" text-anchor="end" >30.00</text><text x="22.6" y="264.1" font-size="5.9" fill="#eaeaea" text-anchor="end" >27.00</text><linearGradient id="g8" x1="0" y1="0" x2="0" y2="1"><stop offset="0" stop-color="#e070f8"/><stop offset="0.0383" stop-color="#d050f0"/><stop offset="0.0723" stop-color="#c030e0"/><stop offset="0.1149" stop-color="#b030c8"/><stop offset="0.1574" stop-color="#9030b8"/><stop offset="0.2" stop-color="#6028b0"/><stop offset="0.2255" stop-color="#3010a8"/><stop offset="0.2511" stop-color="#2010c0"/><stop offset="0.2851" stop-color="#2040e0"/><stop offset="0.3362" stop-color="#2070e8"/><stop offset="0.3787" stop-color="#0090f0"/><stop offset="0.4213" stop-color="#00b0f8"/><stop offset="0.4553" stop-color="#00d8f8"/><stop offset="0.4851" stop-color="#00f0f0"/><stop offset="0.4936" stop-color="#00d060"/><stop offset="0.5149" stop-color="#20d820"/><stop offset="0.5404" stop-color="#60e000"/><stop offset="0.566" stop-color="#a0e800"/><stop offset="0.583" stop-color="#f0f000"/><stop offset="0.6" stop-color="#fff000"/><stop offset="0.634" stop-color="#f8d000"/><stop offset="0.6766" stop-color="#f0a800"/><stop offset="0.7191" stop-color="#f07000"/><stop offset="0.7532" stop-color="#f04800"/><stop offset="0.7702" stop-color="#e83000"/><stop offset="0.8043" stop-color="#e01000"/><stop offset="0.8383" stop-color="#c80000"/><stop offset="0.8553" stop-color="#c01010"/><stop offset="0.8723" stop-color="#b03040"/><stop offset="0.9064" stop-color="#c05060"/><stop offset="0.9404" stop-color="#e87070"/><stop offset="1" stop-color="#f09090"/></linearGradient><rect x="428.3" y="151" width="24.4" height="119" fill="#000"/><path d="M452.45 151V270" stroke="#9a9a9a" stroke-width="0.6"/><path d="M428.3 269.7H452.7" stroke="#9a9a9a" stroke-width="0.6"/><rect x="429.1" y="152" width="6" height="116.5" fill="url(#g8)"/><text x="435.7" y="162.6" font-size="5.9" fill="#eaeaea" >900</text><text x="435.7" y="172.75" font-size="5.9" fill="#eaeaea" >840</text><text x="435.7" y="182.9" font-size="5.9" fill="#eaeaea" >780</text><text x="435.7" y="193.05" font-size="5.9" fill="#eaeaea" >720</text><text x="435.7" y="203.2" font-size="5.9" fill="#eaeaea" >660</text><text x="435.7" y="213.35" font-size="5.9" fill="#eaeaea" >600</text><text x="435.7" y="223.5" font-size="5.9" fill="#eaeaea" >540</text><text x="435.7" y="233.65" font-size="5.9" fill="#eaeaea" >480</text><text x="435.7" y="243.8" font-size="5.9" fill="#eaeaea" >420</text><text x="435.7" y="253.95" font-size="5.9" fill="#eaeaea" >360</text><text x="435.7" y="264.1" font-size="5.9" fill="#eaeaea" >300</text><g transform="translate(99.5,75.5)"><path d="M44 58.4 52.9 50.7 60.4 35.1 60 -33.8 50.7 -43.8 40.7 -53.3 -51.6 -52.7 -59.3 -42.7 -59.3 26.2 -58.2 35.1 -51.6 48.4 -40.4 59.6 -28.2 65.1 34.7 65.1 34.8 65.1 36.2 64.3Z" fill="#0065ff"/><path d="M52.9 50.7 60.4 35.1 60 -33.8 50.7 -43.8 40.7 -53.3 -51.6 -52.7 -59.3 -42.7 -59.3 26.2 -58.2 35.1 -51.6 48.4 -40.4 59.6 -28.2 65.1 34.7 65.1 44 58.4ZM15 49.3 15.1 51 13.5 52.9 12 54.1 10.5 54.5 9.4 54 9.8 52.5 11.1 51 13.5 49.4Z" fill="#0079ff"/><path d="M0.4 -53 3.2 -49.5 3.5 -46.5 3 -45 -0.3 -40.5 -4.5 -37.9 -7.5 -37.9 -10.9 -39 -15.8 -42 -16.7 -43.5 -16.7 -45 -15.5 -48 -13.1 -51 -10.7 -53 -51.6 -52.7 -59.3 -42.7 -59.3 26.2 -58.2 35.1 -51.6 48.4 -40.4 59.6 -28.2 65.1 34.7 65.1 44 58.4 52.9 50.7 60.4 35.1 60 -33.8 50.7 -43.8 40.7 -53.3ZM14.7 43.5 24 41.1 25.5 41.7 25.8 43.5 25.4 45 19.5 53.9 13.5 59.9 9 62.2 4.5 62.6 1.1 61.5 -2.1 58.5 -2.6 57 -1.9 55.5 9.8 46.5Z" fill="#008eff"/><path d="M7.9 -53.1 10 -48 10.1 -45 7.5 -42 -1.5 -35 -4.5 -33.9 -15 -34.7 -22.5 -33.5 -26.4 -31.5 -30.3 -27 -33 -25.2 -34.5 -25.5 -34.5 -27.3 -33 -29.9 -29 -34.5 -24.5 -45 -18.9 -52.9 -51.6 -52.7 -59.3 -42.7 -59.3 26.2 -58.2 35.1 -51.6 48.4 -40.4 59.6 -28.2 65.1 -4.6 65.1 -9 61.7 -13 57 -14.2 54 -13.5 51.5 -10.5 50.5 -3 50.4 1.5 48.9 12 42.4 21.6 37.5 30 31.1 33 29.9 34.5 30.4 35.2 31.5 35.1 33 28.5 46.4 19.5 58.5 16.5 61.8 12.4 65.1 34.7 65.1 44 58.4 52.9 50.7 60.4 35.1 60 -33.8 50.7 -43.8 40.7 -53.3Z" fill="#00a0ff"/><path d="M12.2 -53.1 14.9 -43.5 14.5 -42 13.5 -41 7.5 -38.2 -3 -31.8 -15 -31.4 -21 -29.4 -30 -22.5 -36 -19.1 -41.7 -15 -43.5 -14.6 -44.4 -16.5 -44.1 -18 -39.9 -27 -31.9 -39 -23.6 -52.9 -51.6 -52.7 -59.3 -42.7 -59.3 26.2 -58.2 35.1 -51.6 48.4 -40.4 59.6 -28.2 65.1 -10.6 65.1 -15 59.2 -16.6 55.5 -16.8 52.5 -15.1 49.5 -12 48.3 -3 47.8 3 45.7 19.5 36 29.8 27 33 26 36 26.5 38.3 28.5 39 30 38.7 33 30 48.5 17.3 65.1 34.7 65.1 44 58.4 52.9 50.7 60.4 35.1 60 -33.8 50.7 -43.8 40.7 -53.3Z" fill="#00b0ff"/><path d="M-14.2 65.1 -17.9 58.5 -19 54 -18.6 51 -16.5 48.3 -12 46.5 -1.5 45.4 4.5 42.9 18.1 34.5 27 26.3 30 24.2 34.5 23.4 36.7 24 38.9 25.5 40.8 28.5 40.8 33 39 37.4 33 47.7 20.9 65.1 34.7 65.1 44 58.4 52.9 50.7 60.4 35.1 60 -33.8 50.7 -43.8 40.7 -53.3 15.4 -53.2 17.3 -43.5 16.6 -40.5 15 -39 7.5 -35.7 -1.5 -30.6 -4.5 -29.8 -13.5 -29.1 -18 -27.8 -22.5 -25.3 -39.3 -13.5 -43.5 -11.7 -45.1 -12 -46.5 -13.3 -47 -15 -46.8 -18 -45.8 -21 -40.6 -31.5 -33.5 -42 -27.1 -52.8 -51.6 -52.7 -59.3 -42.7 -59.3 26.2 -58.2 35.1 -51.6 48.4 -40.4 59.6 -28.2 65.1Z" fill="#00c0ff"/><path d="M18 -53.2 18.9 -42 18 -39.7 16.5 -38.1 -1.5 -29 -12.6 -27 -18 -25.1 -39 -11.5 -43.5 -9.7 -46.5 -10.5 -48.5 -13.5 -48.8 -16.5 -47.9 -21 -43.4 -31.5 -30.2 -52.8 -51.6 -52.7 -59.3 -42.7 -59.3 26.2 -58.2 35.1 -51.6 48.4 -40.4 59.6 -28.2 65.1 -17.1 65.1 -20 58.5 -21.1 54 -20.8 51 -19 48 -15 45.7 -3 43.8 4.5 40.9 16.5 33.4 27 23.6 30 21.8 33 21.1 37.5 21.7 40.5 23.9 42.6 28.5 42.5 33 41 37.5 37.5 44.2 23.9 65.1 34.7 65.1 44 58.4 52.9 50.7 60.4 35.1 60 -33.8 50.7 -43.8 40.7 -53.3Z" fill="#00d1fe"/><path d="M20.5 -53.2 20.4 -42 19.2 -39 16.5 -36.2 12 -33.6 0 -28 -12 -25 -16.5 -23.3 -39 -9.4 -43.5 -7.8 -46.5 -8.2 -48 -9.2 -49.5 -11.3 -50.4 -15 -49.9 -21 -48 -27.1 -45.3 -33 -33 -52.8 -51.6 -52.7 -59.3 -42.7 -59.3 26.2 -58.2 35.1 -51.6 48.4 -40.4 59.6 -28.2 65.1 -19.6 65.1 -22.7 57 -23.4 52.5 -22.7 49.5 -20.4 46.5 -15 43.9 -3 41.9 4.5 38.9 14 33 27 21.1 30 19.5 33 18.6 37.5 18.9 40.5 20.5 42 22.1 44.1 27 44.2 33 42.4 39 39.4 45 26.7 65.1 34.8 65.1 44 58.4 52.9 50.7 60.4 35.1 60 -33.8 50.7 -43.8 40.7 -53.3Z" fill="#00e0fb"/><path d="M23.2 -53.2 21.5 -40.5 19.5 -36.9 16.5 -34 12 -31.2 4.5 -27.9 -15.6 -21 -37.5 -8.1 -42 -6.1 -45 -5.5 -48 -6.2 -49.5 -7.5 -51.3 -10.5 -52.2 -15 -52 -21 -50 -28.5 -47.4 -34.5 -35.8 -52.8 -51.6 -52.7 -59.3 -42.7 -59.3 26.2 -58.2 35.1 -51.6 48.4 -40.4 59.6 -28.2 65.1 -22.2 65.1 -25.1 57 -26 52.5 -25.7 49.5 -24 46.4 -21 44.2 -18 42.9 -3 39.7 5.9 36 12.6 31.5 25.5 19.2 30 16.8 34.5 15.8 39.4 16.5 42 18 43.5 19.6 45.6 24 46.2 31.5 45.4 36 42.7 43.5 29.6 65.1 34.7 65.1 36.2 64.3 44 58.4 52.9 50.7 60.4 35.1 60 -33.8 50.7 -43.8 40.7 -53.3Z" fill="#00e4ab"/><path d="M26.6 -53.2 25.1 -45 23.2 -39 20.3 -34.5 16.5 -30.8 10.5 -27.4 -3.9 -22.5 -14.7 -18 -37.5 -5.1 -45 -2.2 -48 -2.4 -49.5 -3 -51.1 -4.5 -52.9 -7.5 -54.6 -12 -55 -21 -53 -30 -48.9 -39 -39.5 -52.8 -51.6 -52.7 -59.3 -42.7 -59.3 26.2 -58.2 35.1 -51.6 48.4 -40.4 59.6 -28.2 65.1 -25.4 65.1 -28.2 57 -29.5 51 -28.6 46.5 -26 43.5 -21 41 -4.5 37.2 3 34.5 10.5 29.7 20.6 19.5 25.5 15.5 30 13.3 34.5 12.4 40.5 13 43.5 14.6 45.5 16.5 48.5 22.5 48.9 30 47.8 37.5 44.6 46.5 33 65.1 34.7 65.1 36.2 64.3 44 58.4 52.9 50.7 60.4 35.1 60 -33.8 50.7 -43.8 40.7 -53.3Z" fill="#00c800"/><path d="M30.8 -53.3 28.9 -43.5 26.2 -36 23.2 -31.5 18.2 -27 12 -23.5 -0.1 -19.5 -11.3 -15 -36 -1.4 -40.5 0.7 -45 1.9 -48 1.9 -51 0.9 -54 -1.5 -55 -3 -58.5 -9.5 -58.4 -12 -57.1 -15 -57.2 -16.5 -59 -19.5 -59.1 -21 -56.8 -30 -55.6 -33 -53.5 -36 -52.5 -40.8 -44.5 -52.7 -51.6 -52.7 -59.3 -42.7 -59.3 26.2 -58.2 35.1 -51.6 48.4 -40.4 59.6 -30 64.3 -33 53.6 -33.5 49.5 -32.5 45 -29 40.5 -22.5 37.1 -6 33.4 1.5 30.7 7.5 26.9 17.7 16.5 22.5 12.5 28.5 9.4 34.5 8.1 40.5 8.6 43.5 9.7 46.5 11.6 49.5 15 51 17.7 52.5 22.5 52.6 33 51.3 39 48 48.6 40.7 60.9 52.9 50.7 60.4 35.1 60 -33.8 50.7 -43.8 40.7 -53.3Z" fill="#fff300"/><path d="M-59.3 -26.4 -57 -32.4 -54.7 -36 -54 -40.5 -52.5 -44.2 -48 -52.7 -51.6 -52.7 -59.3 -42.7ZM-59.3 -13.1 -58.6 -15 -59.3 -17.4ZM36.1 -53.3 35.8 -37.5 34.5 -32.6 32.5 -28.5 29 -25.5 10.3 -16.5 6.2 -13.5 5.4 -12 5.6 -10.5 9.6 -4.5 11.4 0 11.3 3 10.5 4.5 9 5.6 4.5 6.3 1.5 5.5 -1.5 3.9 -4.8 0 -7.2 -6 -9.2 -7.5 -13.5 -7.4 -18 -5.9 -36 3.6 -40.5 5.2 -43.5 5.6 -49.5 4.9 -53.3 3 -57 -0.8 -59.3 -5.8 -59.3 26.2 -58.2 35.1 -51.6 48.4 -40.4 59.6 -32.3 63.2 -35.5 51 -35.7 48 -34.5 42 -31.5 37.5 -28.5 35 -25.5 33.5 -6 28.8 -1.5 26.9 3 24.1 7.3 19.5 14.1 9 23.7 1.5 24.8 0 26 -6 27 -7.9 30 -10.7 33 -12.5 34.5 -12.4 36 -10.8 39.2 -1.5 49.5 9.8 52.9 16.5 53.9 22.5 53.9 34.5 49.5 49.3 46.5 56.2 52.9 50.7 60.4 35.1 60 -33.8 50.7 -43.8 40.7 -53.3Z" fill="#ffda00"/><path d="M-33.7 62.6 -36.9 51 -37.5 45 -36 38.6 -33 33.1 -28.5 29.2 -13.5 26 -6 22.6 -4.1 21 -2.2 18 -1.9 16.5 -2.3 13.5 -4 10.5 -9 5 -12 2.4 -15 1 -18 0.7 -22.5 1.8 -34.5 8.7 -39 9.7 -46.5 8.5 -52.5 6.2 -56.7 3 -59.3 -0.8 -59.3 26.2 -58.2 35.1 -51.6 48.4 -40.4 59.6ZM-59.3 -29.3 -55.6 -36 -54 -43.4 -50.1 -52.7 -51.6 -52.7 -59.3 -42.7ZM43 -51 45 -45 46 -39 44.2 -28.5 44.5 -21 46.6 -12 48.3 0 53.6 13.5 54.8 19.5 54.8 34.5 54 37.9 51.7 43.5 49.1 54 52.9 50.7 60.4 35.1 60 -33.8 50.7 -43.8Z" fill="#ffc300"/><path d="M-34.9 62.1 -35.3 58.5 -38.6 49.5 -39.2 43.5 -38.4 37.5 -34.9 25.5 -35.1 21 -36.8 18 -39.9 15 -54 7.8 -57 5.4 -59.3 2.7 -59.3 26.2 -58.2 35.1 -51.6 48.4 -40.4 59.6ZM-59.3 -30.8 -56.1 -36 -54.4 -45 -51.8 -52.3 -59.3 -42.7ZM49.3 -45 49.9 -37.5 47.7 -28.5 47.7 -24 50.9 -12 52 1.5 55 13.5 55.7 19.5 55.2 27 55.6 34.5 52.4 43.5 50.7 52.6 52.9 50.7 60.4 35.1 60 -33.8ZM-25.9 10.5 -28.2 13.5 -29.2 16.5 -29 18 -28 19.5 -25.6 21 -21 21.8 -16.5 21.1 -13.5 19.4 -11.5 16.5 -11.2 15 -12 12 -13.5 10 -16.5 8.1 -21 7.8 -23.9 9Z" fill="#ffad00"/><path d="M-35.9 61.5 -36.2 58.5 -39.4 51 -40.8 45 -40.9 39 -39.7 27 -41 21 -42.7 18 -45.8 15 -55.5 9.1 -59.3 5.6 -59.3 26.2 -58.2 35.1 -51.6 48.4 -40.4 59.6ZM-59.3 -31.8 -56.1 -37.5 -55.6 -43.5 -54.1 -49.4 -59.3 -42.7ZM52.6 -41.7 52.2 -36 50.4 -30 50.1 -25.5 50.9 -21 53.9 -12 54.4 1.5 56.6 18 55.9 25.5 56.3 34.5 55.6 37.5 53 43.5 51.7 51.7 52.9 50.7 60.4 35.1 60 -33.8Z" fill="#ff9a00"/><path d="M-36.9 61.2 -37.5 57.5 -41.1 49.5 -42.3 45 -43 39 -42.9 27 -44.6 21 -48 16.5 -59.3 8.2 -59.3 26.2 -58.2 35.1 -51.6 48.4 -40.4 59.6ZM-59.3 -32.7 -56.6 -37.5 -55.5 -47.5 -59.3 -42.7ZM54.7 -39.4 52.3 -30 52 -27 52.7 -22.5 56.4 -12 56.4 3 57.6 16.5 56.5 25.5 57 34.5 56.2 37.5 53.5 43.5 52.7 50.9 60.4 35.1 60 -33.8Z" fill="#ff8600"/><path d="M-38 60.7 -42.4 49.5 -44.3 43.5 -45.8 27 -47 22.5 -49.9 18 -59.3 10.7 -59.3 26.2 -58.2 35.1 -51.6 48.4 -40.4 59.6ZM-59.3 -33.4 -57 -37.5 -56.5 -46.3 -59.3 -42.7ZM56.2 -37.5 54 -30 53.8 -27 54.7 -22.5 57.7 -15 58.4 -12 58.1 3 58.5 16.5 57.1 25.5 57.6 34.5 56.9 37.5 54.1 43.5 53.4 49.6 60.4 35.1 60 -33.8Z" fill="#ff7300"/><path d="M-39.2 60 -46 43.5 -48.5 27 -49.9 22.5 -52.5 18.8 -59.3 13.2 -59.3 26.2 -58.2 35.1 -51.6 48.4 -40.4 59.6ZM-59.3 -34 -57.5 -37.5 -57.3 -45.2 -59.3 -42.7ZM57.5 -36.4 55.6 -30 55.5 -27 56.1 -24 59.5 -15 60.1 -11.6 60 -33.8ZM60.2 -6 59.4 16.5 57.7 25.5 58.2 34.5 57.5 37.5 54.6 43.5 54.1 48.2 60.4 35.1Z" fill="#ff5800"/><path d="M-40.8 59.2 -48.3 42 -52.2 24 -54 21 -59.3 15.8 -59.3 26.2 -58.2 35.1 -51.6 48.4ZM-59.3 -34.7 -57.9 -37.5 -58 -44.4 -59.3 -42.7ZM58.7 -35.1 57.1 -30 57.1 -27 60.1 -18.4 60 -33.8ZM60.3 16.1 58.3 25.5 58.8 34.5 58.1 37.5 55.1 43.5 54.7 47 60.4 35.1Z" fill="#ff3e00"/><path d="M-43.2 56.8 -50.3 42 -54.6 25.5 -56.2 22.5 -59.3 18.8 -59.3 26.2 -58.2 35.1 -51.6 48.4ZM-59.3 -35.4 -58.3 -39 -58.6 -43.6 -59.3 -42.7ZM60 -33.8 58.7 -28.5 60.1 -22.9ZM60.3 20.4 59.1 25.5 59.6 33 59.2 36 55.7 43.5 55.2 45.8 60.4 35.1Z" fill="#ff2200"/><path d="M-46.3 53.7 -51.8 43.5 -56.3 28.5 -59.3 22.5 -58.2 35.1 -51.6 48.4ZM-59.3 -36.2 -58.8 -39 -59.2 -42.9ZM60.4 23.1 59.7 27 60.2 33 59.4 37.2 60.4 35.1Z" fill="#ec110f"/><path d="M-51 48.9 -54.6 42 -59.1 28.4 -58.2 35.1Z" fill="#d70d24"/></g><g transform="translate(99.5,75.5)"><circle r="74.4" fill="none" stroke="#0c0c0c" stroke-width="0.8"/><path d="M73.6 -6.4L72.4 -6.3M72.8 -12.8L71.6 -12.6M69.4 -25.3L68.3 -24.9M67.0 -31.2L65.9 -30.7M60.5 -42.4L59.6 -41.7M56.6 -47.5L55.7 -46.7M47.5 -56.6L46.7 -55.7M42.4 -60.5L41.7 -59.6M31.2 -67.0L30.7 -65.9M25.3 -69.4L24.9 -68.3M12.8 -72.8L12.6 -71.6M6.4 -73.6L6.3 -72.4M-6.4 -73.6L-6.3 -72.4M-12.8 -72.8L-12.6 -71.6M-25.3 -69.4L-24.9 -68.3M-31.2 -67.0L-30.7 -65.9M-42.4 -60.5L-41.7 -59.6M-47.5 -56.6L-46.7 -55.7M-56.6 -47.5L-55.7 -46.7M-60.5 -42.4L-59.6 -41.7M-67.0 -31.2L-65.9 -30.7M-69.4 -25.3L-68.3 -24.9M-72.8 -12.8L-71.6 -12.6M-73.6 -6.4L-72.4 -6.3M-73.6 6.4L-72.4 6.3M-72.8 12.8L-71.6 12.6M-69.4 25.3L-68.3 24.9M-67.0 31.2L-65.9 30.7M-60.5 42.4L-59.6 41.7M-56.6 47.5L-55.7 46.7M-47.5 56.6L-46.7 55.7M-42.4 60.5L-41.7 59.6M-31.2 67.0L-30.7 65.9M-25.3 69.4L-24.9 68.3M-12.8 72.8L-12.6 71.6M-6.4 73.6L-6.3 72.4M6.4 73.6L6.3 72.4M12.8 72.8L12.6 71.6M25.3 69.4L24.9 68.3M31.2 67.0L30.7 65.9M42.4 60.5L41.7 59.6M47.5 56.6L46.7 55.7M56.6 47.5L55.7 46.7M60.5 42.4L59.6 41.7M67.0 31.2L65.9 30.7M69.4 25.3L68.3 24.9M72.8 12.8L71.6 12.6M73.6 6.4L72.4 6.3" stroke="#e0e0e0" stroke-width="0.9"/><path d="M73.9 -0.0L71.6 -0.0M71.4 -19.1L69.2 -18.5M64.0 -36.9L62.0 -35.8M52.3 -52.3L50.6 -50.6M37.0 -64.0L35.8 -62.0M19.1 -71.4L18.5 -69.2M0.0 -73.9L0.0 -71.6M-19.1 -71.4L-18.5 -69.2M-36.9 -64.0L-35.8 -62.0M-52.3 -52.3L-50.6 -50.6M-64.0 -36.9L-62.0 -35.8M-71.4 -19.1L-69.2 -18.5M-73.9 -0.0L-71.6 -0.0M-71.4 19.1L-69.2 18.5M-64.0 37.0L-62.0 35.8M-52.3 52.3L-50.6 50.6M-37.0 64.0L-35.8 62.0M-19.1 71.4L-18.5 69.2M-0.0 73.9L-0.0 71.6M19.1 71.4L18.5 69.2M37.0 64.0L35.8 62.0M52.3 52.3L50.6 50.6M64.0 37.0L62.0 35.8M71.4 19.1L69.2 18.5" stroke="#f0f0f0" stroke-width="0.7"/><text x="69.0" y="1.0" font-size="3.0" fill="#f4f4f4" text-anchor="middle" font-weight="bold" >0</text><text x="66.6" y="-16.9" font-size="3.0" fill="#f4f4f4" text-anchor="middle" font-weight="bold" >15</text><text x="59.8" y="-33.5" font-size="3.0" fill="#f4f4f4" text-anchor="middle" font-weight="bold" >30</text><text x="48.8" y="-47.8" font-size="3.0" fill="#f4f4f4" text-anchor="middle" font-weight="bold" >45</text><text x="34.5" y="-58.8" font-size="3.0" fill="#f4f4f4" text-anchor="middle" font-weight="bold" >60</text><text x="17.9" y="-65.6" font-size="3.0" fill="#f4f4f4" text-anchor="middle" font-weight="bold" >75</text><text x="0.0" y="-68.0" font-size="3.0" fill="#f4f4f4" text-anchor="middle" font-weight="bold" >90</text><text x="-17.9" y="-65.6" font-size="3.0" fill="#f4f4f4" text-anchor="middle" font-weight="bold" >105</text><text x="-34.5" y="-58.8" font-size="3.0" fill="#f4f4f4" text-anchor="middle" font-weight="bold" >120</text><text x="-48.8" y="-47.8" font-size="3.0" fill="#f4f4f4" text-anchor="middle" font-weight="bold" >135</text><text x="-59.8" y="-33.5" font-size="3.0" fill="#f4f4f4" text-anchor="middle" font-weight="bold" >150</text><text x="-66.6" y="-16.9" font-size="3.0" fill="#f4f4f4" text-anchor="middle" font-weight="bold" >165</text><text x="-69.0" y="1.0" font-size="3.0" fill="#f4f4f4" text-anchor="middle" font-weight="bold" >180</text><text x="-66.6" y="18.9" font-size="3.0" fill="#f4f4f4" text-anchor="middle" font-weight="bold" >195</text><text x="-59.8" y="35.5" font-size="3.0" fill="#f4f4f4" text-anchor="middle" font-weight="bold" >210</text><text x="-48.8" y="49.8" font-size="3.0" fill="#f4f4f4" text-anchor="middle" font-weight="bold" >225</text><text x="-34.5" y="60.8" font-size="3.0" fill="#f4f4f4" text-anchor="middle" font-weight="bold" >240</text><text x="-17.9" y="67.6" font-size="3.0" fill="#f4f4f4" text-anchor="middle" font-weight="bold" >255</text><text x="-0.0" y="70.0" font-size="3.0" fill="#f4f4f4" text-anchor="middle" font-weight="bold" >270</text><text x="17.9" y="67.6" font-size="3.0" fill="#f4f4f4" text-anchor="middle" font-weight="bold" >285</text><text x="34.5" y="60.8" font-size="3.0" fill="#f4f4f4" text-anchor="middle" font-weight="bold" >300</text><text x="48.8" y="49.8" font-size="3.0" fill="#f4f4f4" text-anchor="middle" font-weight="bold" >315</text><text x="59.8" y="35.5" font-size="3.0" fill="#f4f4f4" text-anchor="middle" font-weight="bold" >330</text><text x="66.6" y="18.9" font-size="3.0" fill="#f4f4f4" text-anchor="middle" font-weight="bold" >345</text></g><g transform="translate(99.5,75.5)" fill="none"><circle r="19.9" stroke="#111" stroke-width="0.55"/><circle r="33.2" stroke="#111" stroke-width="0.55"/><circle r="46.5" stroke="#111" stroke-width="0.55"/><circle r="59.8" stroke="#111" stroke-width="0.55"/><path d="M-1.3 -13.3h2.6M-1.3 13.3h2.6M-13.3 -0.9v1.8M13.3 -0.9v1.8M-1.3 -26.6h2.6M-1.3 26.6h2.6M-26.6 -0.9v1.8M26.6 -0.9v1.8M-1.3 -39.900000000000006h2.6M-1.3 39.900000000000006h2.6M-39.900000000000006 -0.9v1.8M39.900000000000006 -0.9v1.8M-1.3 -53.2h2.6M-1.3 53.2h2.6M-53.2 -0.9v1.8M53.2 -0.9v1.8" stroke="#222" stroke-width="0.55"/><circle cx="0" cy="-2" r="42" stroke="#ffffff" stroke-width="0.6" stroke-dasharray="0.9 0.45" opacity="0.9"/></g><g transform="translate(99.5,75.5)"><circle cx="0" cy="-0.4" r="0.9" fill="#3a4ad0" stroke="#ddd" stroke-width="0.3"/><circle cx="-2.2" cy="-3.8" r="0.7" fill="#fff"/><rect x="-4.2" y="-9.1" width="1.8" height="1.8" fill="#f060c0" stroke="#fff" stroke-width="0.3"/><circle cx="-4.4" cy="8.4" r="1" fill="#ff5000" stroke="#802000" stroke-width="0.3"/></g><g transform="translate(353.5,75.5)"><path d="M-53.3 -20.4 -54.2 -0.4 -53.3 19.6 -48.2 39.6 -40.4 55.1 -32.7 60.7 -20.4 62.9 24 61.8 30.7 59.6 32.9 55.1 40.7 52.9 40.7 48.4 49.6 37.3 54 19.6 55.6 -0.4 52.9 -20.4 47.3 -36 38.4 -46 24 -47.1 22.9 -51.6 -41.6 -51.1 -51.6 -40.4Z" fill="#5126c2"/><path d="M-54.2 -0.4 -53.3 19.6 -48.2 39.6 -40.4 55.1 -32.7 60.7 -20.4 62.9 24 61.8 30.7 59.6 32.9 55.1 40.7 52.9 40.7 48.4 49.6 37.3 54 19.6 55.6 -0.4 52.9 -20.4 47.3 -36 38.4 -46 24 -47.1 22.9 -51.6 -41.6 -51.1 -51.6 -40.4 -53.3 -20.4Z" fill="#2f2bd6"/><path d="M-54.2 -0.4 -53.3 19.6 -48.2 39.6 -40.4 55.1 -32.7 60.7 -20.4 62.9 24 61.8 30.7 59.6 32.9 55.1 40.7 52.9 40.7 48.4 49.6 37.3 54 19.6 55.6 -0.4 52.9 -20.4 47.3 -36 38.4 -46 24 -47.1 22.9 -51.6 -41.6 -51.1 -51.6 -40.4 -53.3 -20.4Z" fill="#1230ef"/><path d="M-54.2 -0.4 -53.3 19.6 -48.2 39.6 -40.4 55.1 -32.7 60.7 -20.4 62.9 24 61.8 30.7 59.6 32.9 55.1 40.7 52.9 40.7 48.4 49.6 37.3 54 19.6 55.6 -0.4 52.9 -20.4 47.3 -36 38.4 -46 24 -47.1 22.9 -51.6 -41.6 -51.1 -51.6 -40.4 -53.3 -20.4ZM-15 -34.5 -16.5 -33.3 -17.3 -34.5 -16.5 -35.5Z" fill="#054cfb"/><path d="M17.1 62 18 58.9 19.3 57 24.4 54 31.5 52.6 40.7 52.9 40.7 48.4 49.6 37.3 54 19.6 55.6 -0.4 52.9 -20.4 47.3 -36 38.4 -46 24 -47.1 22.9 -51.6 -41.6 -51.1 -51.6 -40.4 -53.3 -20.4 -54.2 -0.4 -53.3 19.6 -48.2 39.6 -40.4 55.1 -32.7 60.7 -20.4 62.9ZM-13.5 -39 -12 -38.5 -10.5 -37.1 -10.1 -36 -11.1 -33 -15 -29.5 -18 -28.9 -19.5 -29.6 -20.7 -33 -19.9 -36 -18.7 -37.5 -16.5 -38.7Z" fill="#0065ff"/><path d="M10.3 62.1 10.7 55.5 12 53.1 13.5 51.9 19.6 49.5 27 47.6 33 47.2 41.1 47.9 49.6 37.3 54 19.6 55.6 -0.4 52.9 -20.4 47.3 -36 38.4 -46 24 -47.1 22.9 -51.6 -41.6 -51.1 -51.6 -40.4 -53.3 -20.4 -54.2 -0.4 -53.3 19.6 -48.2 39.6 -40.4 55.1 -32.7 60.7 -20.4 62.9ZM-15 -41.2 -10.5 -41.5 -7 -40.5 -4.9 -39 -4.4 -37.5 -4.7 -36 -8.6 -31.5 -13.5 -27.5 -18 -25.8 -21 -26.1 -22.5 -28.3 -22.8 -30 -22.6 -33 -21.6 -36 -19.3 -39ZM-15 47.9 -13.8 49.5 -14.3 51 -16.5 51.8 -18.8 51 -19.1 49.5 -18 48.3Z" fill="#0079ff"/><path d="M5 62.3 4.4 55.5 4.9 52.5 7.3 49.5 9 48.6 28.5 42.9 34.5 42.8 44.3 43.9 49.6 37.3 54 19.6 55.6 -0.4 52.9 -20.4 47.3 -36 38.4 -46 24 -47.1 22.9 -51.6 -41.6 -51.1 -51.6 -40.4 -53.3 -20.4 -54.2 -0.4 -53.3 19.6 -48.2 39.6 -40.4 55.1 -32.7 60.7 -20.4 62.9ZM4.5 -47.5 9 -47.2 10.5 -46.3 12.3 -43.5 12 -40.5 7.5 -35.7 3 -32.8 -6 -29.8 -15 -24.3 -21 -22.4 -24 -22.8 -24.7 -24 -25 -27 -24.2 -33 -22.3 -37.5 -19.6 -40.5 -13.5 -43.6 -3 -44.9ZM-16.5 44.3 -12.3 45 -8.9 48 -7.9 51 -8.3 52.5 -10.5 54.8 -13.5 55.8 -16.5 55.6 -20.7 54 -22.5 52.5 -23 51 -22.4 48 -19.5 45.2Z" fill="#008eff"/><path d="M-0.9 62.4 -1.5 60 -3 58.1 -12 59.2 -16.5 58.2 -21 55.9 -24.4 52.5 -24.8 49.5 -24 46.5 -21 43.5 -18 42.5 -15 42.3 -10.5 43.5 -3 47.9 0 48.5 27 39.5 34.5 38.9 42 39.3 47.1 40.4 49.6 37.3 54 19.6 55.6 -0.4 52.9 -20.4 47.3 -36 38.4 -46 24 -47.1 22.9 -51.6 10.2 -51.5 13.7 -48 15.1 -45 15.4 -42 14.1 -39 7.5 -30.7 4.5 -28.5 -4.5 -26.9 -18 -21 -22.5 -19.3 -25.5 -18.8 -27.3 -19.5 -28 -21 -27.9 -24 -25.7 -33 -22.5 -39.2 -19.5 -42.2 -15 -44.9 1 -51.4 -41.6 -51.1 -51.6 -40.4 -53.3 -20.4 -54.2 -0.4 -53.3 19.6 -48.2 39.6 -40.4 55.1 -32.7 60.7 -20.4 62.9Z" fill="#00a0ff"/><path d="M-12.7 62.7 -22.5 56.6 -25.8 52.5 -26.2 49.5 -25.5 45.5 -24 43.2 -21 41.4 -18 40.7 -13.5 40.9 -3 44.4 0 44.8 4.5 44.1 13.5 41.6 25.5 36.7 30 35.5 43.5 35 49.6 37.3 54 19.6 55.6 -0.4 52.9 -20.4 47.3 -36 38.4 -46 24 -47.1 22.9 -51.6 14.9 -51.5 17 -45 16.8 -40.5 7.5 -24.9 4.5 -23.5 -3 -23.8 -6 -23.3 -22.5 -17.3 -27 -16.3 -30 -16.7 -31 -18 -31.1 -19.5 -28.3 -30 -25.1 -37.5 -22.5 -41 -19.5 -43.8 -7.3 -51.3 -41.6 -51.1 -51.6 -40.4 -53.3 -20.4 -54.2 -0.4 -53.3 19.6 -48.2 39.6 -40.4 55.1 -32.7 60.7 -20.4 62.9Z" fill="#00b0ff"/><path d="M-17.4 62.8 -25.3 55.5 -27.3 51 -27.5 46.5 -26.8 43.5 -25.5 41.7 -22.5 39.9 -19.5 39.2 -15 39.2 -3 42 3 42 14.2 39 28.5 32.3 34.5 31.2 43.5 31 50.3 34.4 54 19.6 55.6 -0.4 52.9 -20.4 47.3 -36 38.4 -46 24 -47.1 22.9 -51.6 17.8 -51.5 18.6 -46.5 18.5 -42 17.5 -39 14.1 -33 12.3 -28.5 11.4 -24 12.1 -18 11.6 -16.5 10.5 -16.1 9 -16.5 1.5 -20 -4.5 -20.8 -10.5 -19.7 -24 -15.1 -33 -13.2 -34.5 -13.5 -35 -15 -34.8 -16.5 -27.4 -36 -22.5 -42.8 -12.3 -51.3 -41.6 -51.1 -51.6 -40.4 -53.3 -20.4 -54.2 -0.4 -53.3 19.6 -48.2 39.6 -40.4 55.1 -32.7 60.7 -20.4 62.9Z" fill="#00c0ff"/><path d="M-20.3 62.9 -26.6 55.5 -28.8 49.5 -29.2 45 -28.7 42 -27.9 40.5 -25.5 38.6 -22.5 37.7 -18 37.4 -3 39.8 4.5 39.5 13.5 36.9 27 29 30 27.7 33 27.3 43.5 28.3 50.9 31.9 54 19.6 55.6 -0.4 52.9 -20.4 47.3 -36 38.4 -46 24 -47.1 22.9 -51.6 20.4 -51.5 19.7 -42 15.3 -31.5 14.2 -27 15.1 -15 13.5 -12.7 12 -12.2 9 -12.8 0 -17.3 -6 -18.2 -15 -16.5 -33 -10.7 -36 -11.1 -36.8 -12 -37.4 -13.5 -36.9 -16.5 -28.9 -36 -24 -43.1 -15.7 -51.3 -41.6 -51.1 -51.6 -40.4 -53.3 -20.4 -54.2 -0.4 -53.3 19.6 -48.2 39.6 -40.4 55.1 -32.7 60.7Z" fill="#00d1fe"/><path d="M-23 62.4 -28.7 54 -31 46.5 -31.6 42 -31.2 39 -30.3 37.5 -28.5 36.4 -25.5 35.7 -19.5 35.5 -1.5 37.7 7.5 36.5 13.2 34.5 18 31.5 24.9 25.5 28.5 21.3 45 26.4 51.5 29.5 54 19.6 55.6 -0.4 52.9 -20.4 47.3 -36 38.4 -46 24 -47.1 23 -51.3 21 -42 17.6 -33 16.5 -28.5 16.4 -24 17.4 -16.5 17 -12 15 -9.1 13.5 -8.7 9 -9.9 0 -14.5 -3 -15.3 -7.5 -15.7 -16.5 -14.3 -34.5 -8.2 -36 -8.2 -37.6 -9 -39 -12 -39 -15 -33.7 -30 -27.9 -40.5 -18.5 -51.3 -41.6 -51.1 -51.6 -40.4 -53.3 -20.4 -54.2 -0.4 -53.3 19.6 -48.2 39.6 -40.4 55.1 -32.7 60.7ZM25.6 13.5 27 14.6 27.8 16.5 27.9 18 27 20.2 24 17.8 23.3 16.5 23.3 15 24 14Z" fill="#00e0fb"/><path d="M-25.7 61.9 -30.9 52.5 -36 39 -36.4 36 -36 34.5 -34.5 33.2 -31.5 32.4 -27 32.4 -3 35.2 4.5 34.6 10.2 33 15.3 30 22.1 22.5 22.5 21 21.2 16.5 21.2 15 24 10.8 25.5 10.5 28 12 31.2 16.5 33 17.9 38.6 21 52.1 27 54 19.6 55.6 -0.4 52.9 -20.4 47.3 -36 38.4 -46 24.6 -47.1 24 -45.7 19.5 -33 19 -30 18.8 -24 20.1 -13.5 20.6 -4.5 20.4 0 19.5 0.7 12.5 -4.5 4.5 -9.3 -1.4 -12 -6 -12.9 -10.5 -13 -17.1 -12 -26.5 -9 -36 -4.6 -39 -4.1 -40.5 -5.9 -40.9 -7.5 -41.1 -13.5 -39.7 -19.5 -36.7 -28.5 -31.2 -39 -21.4 -51.2 -41.6 -51.1 -51.6 -40.4 -53.3 -20.4 -54.2 -0.4 -53.3 19.6 -48.2 39.6 -40.4 55.1 -32.7 60.7Z" fill="#00e4ab"/><path d="M28.1 -46.5 23.4 -36 22.1 -27 23.2 -16.5 25.8 -1.5 27.8 6 31.5 11.6 34.5 14.3 40.5 17.7 53.1 23.3 54 19.6 55.6 -0.4 52.9 -20.4 47.3 -36 38.4 -46ZM-29.6 61.2 -37.5 46.5 -40.5 39.2 -40.8 34.5 -39 30.7 -36 29.1 -31.5 28.4 -27 28.6 -6 31.7 3 31.2 9 29.5 13.1 27 18.3 21 18.8 19.5 19.3 12 19 10.5 15.4 4.5 10.5 -0.9 1.5 -6.9 -6 -9.2 -13.5 -9.2 -21 -7.6 -28.5 -4.5 -40.5 2.7 -42 2.8 -43.5 1.8 -44.9 -3 -44.8 -10.5 -43.2 -19.5 -40.5 -28.3 -37.5 -35 -34.5 -39.9 -25.6 -51.2 -41.6 -51.1 -51.6 -40.4 -53.3 -20.4 -54.2 -0.4 -53.3 19.6 -48.2 39.6 -40.4 55.1 -32.7 60.7Z" fill="#00c800"/><path d="M31.7 -46.5 27.1 -36 25.8 -27 26.1 -21 28.6 -4.5 30.5 3 32.7 7.5 36 11 48 18.9 53.7 20.8 55.6 -0.4 52.9 -20.4 47.3 -36 38.4 -46ZM-34 59.7 -42 42 -43.4 37.5 -43.3 34.5 -42.1 30 -40.5 27.6 -37.5 25.7 -31.5 24.7 -7.5 28.3 0 28.4 6 27.7 10.5 26 13.4 22.5 15.7 18 15.8 13.5 13.5 7.5 9 2.1 1.5 -3.5 -1.5 -5.1 -6 -6.6 -12 -6.5 -22.5 -3.6 -28.5 -0.6 -37.5 5.3 -40.5 6.6 -43.5 5.9 -44.9 4.5 -46.9 0 -47.6 -4.5 -45 -23.3 -43.5 -28.5 -40.5 -35.7 -36 -43.3 -30.2 -51.2 -41.6 -51.1 -51.6 -40.4 -53.3 -20.4 -54.2 -0.4 -53.3 19.6 -48.2 39.6 -40.4 55.1Z" fill="#fff300"/><path d="M34.2 -46.3 30.2 -37.5 28.7 -28.5 29.1 -21 31 -4.5 32 0 34.9 6 40.7 12 48 17.7 54 19.6 55.6 -0.4 52.9 -20.4 47.3 -36 38.4 -46ZM-36.6 57.8 -39.6 49.5 -43.5 41.5 -44.8 36 -43.2 28.5 -42 26.3 -39 23 -36 21.6 -33 21.5 -7.5 26.2 0 26.6 6 26.3 9 25.4 10.7 24 12.5 21 13.8 16.5 13.6 13.5 12.7 10.5 8.5 4.5 0 -2.5 -6 -5.2 -9 -5.4 -12 -4.9 -22.5 -1.3 -28.5 2.1 -36 8 -39 9.7 -42 9.2 -45.7 6 -48 1.3 -48.9 -3 -46.5 -22.8 -45 -28.6 -42.1 -36 -33.1 -51.2 -41.6 -51.1 -51.6 -40.4 -53.3 -20.4 -54.2 -0.4 -53.3 19.6 -48.2 39.6 -40.4 55.1Z" fill="#ffda00"/><path d="M36.5 -46.1 32.7 -39 31.3 -30 31.4 -22.5 33.6 -1.5 37.6 6 44.3 13.5 49.5 17.6 54.1 18.7 55.6 -0.4 52.9 -20.4 47.3 -36 38.4 -46ZM-38.2 56.7 -41.1 48 -44.9 40.5 -45.7 36 -45 30.5 -43.9 27 -38.1 16.5 -38.3 15 -43.5 10.7 -46.5 7 -49.5 0.1 -49.9 -4.5 -47.5 -22.5 -45 -32.2 -42 -38.9 -35.3 -51.2 -41.6 -51.1 -51.6 -40.4 -53.3 -20.4 -54.2 -0.4 -53.3 19.6 -48.2 39.6 -40.4 55.1ZM-17.9 -1.5 -25.5 2.4 -31.6 7.5 -37.1 15 -35.9 16.5 -23.7 21 -10.5 24.1 3 25.2 7.5 24.8 9.1 24 11.6 19.5 12.1 16.5 11.8 13.5 9.9 9 4.7 3 -1.5 -1.9 -6 -4.2 -10.5 -4.1Z" fill="#ffc300"/><path d="M38.8 -45.6 35 -39 33.7 -31.5 33.7 -24 35.3 -3 38 3 45.6 13.5 49.5 16.9 54.1 17.9 55.6 -0.4 52.9 -20.4 47.3 -36ZM-39.5 55.5 -41.2 49.5 -45.1 42 -46.5 37.4 -45.8 30 -42.7 19.5 -42.6 16.5 -43.7 13.5 -49.5 3 -50.7 -1.5 -50.8 -4.5 -49.1 -13.5 -48.3 -22.5 -46.5 -30.7 -44.6 -36 -37 -51.1 -41.6 -51.1 -51.6 -40.4 -53.3 -20.4 -54.2 -0.4 -53.3 19.6 -48.2 39.6 -40.4 55.1ZM-13.5 -1.9 -22.5 2.5 -27.1 6 -29.7 9 -31.1 12 -31.1 13.5 -30.4 15 -28.6 16.5 -24 18.8 -12 22.2 4.5 24.1 7.5 23.7 9 22.5 10.3 19.5 10.5 14.8 9 10.5 5.8 6 -0.8 0 -5.6 -3 -9 -3.3Z" fill="#ffad00"/><path d="M40.3 -43.5 37.1 -37.5 36 -31.5 36 -24 37.5 -3 40.3 3 46.7 13.5 49.5 16.1 54.2 17.1 55.6 -0.4 52.9 -20.4 47.3 -36ZM-40.5 54.8 -41.8 49.5 -45.8 42 -47.2 37.5 -47.1 33 -44.7 21 -44.6 16.5 -45.5 13.5 -50.4 3 -51.6 -3 -49.7 -13.5 -49.1 -22.5 -47.2 -31.5 -45 -37.5 -38.5 -51.1 -41.6 -51.1 -51.6 -40.4 -53.3 -20.4 -54.2 -0.4 -53.3 19.6 -48.2 39.6ZM-14.8 0 -22.5 4.4 -25.8 7.5 -27.3 10.5 -27.5 12 -25.9 15 -20.8 18 -12 20.7 3 22.7 6 22.7 7.5 22 9.1 18 8.7 13.5 6.4 9 2.5 4.5 -2.6 0 -6 -2.1 -9 -2.3Z" fill="#ff9a00"/><path d="M42.2 -41.8 39.3 -36 38.4 -30 39.8 -4.5 44.5 7.5 47.7 13.5 51 16 54.3 16.3 55.6 -0.4 52.9 -20.4 47.3 -36ZM-41.5 53 -43.1 48 -46.5 42 -47.9 37.5 -47.9 33 -46.1 21 -46.1 16.5 -47.4 12 -51.3 3 -52.3 -3 -50.2 -13.5 -49.8 -22.5 -48 -31.6 -46.5 -36.3 -39.9 -51.1 -41.6 -51.1 -51.6 -40.4 -53.3 -20.4 -54.2 -0.4 -53.3 19.6 -48.2 39.6ZM-14.8 1.5 -21.7 6 -24 9 -24.3 12 -22 15 -16.5 17.9 -10.5 19.6 1.5 21.2 6 20.7 7.5 18 7.1 13.5 4.7 9 -0.9 3 -4.5 -0 -7.5 -1.3 -10.5 -0.6Z" fill="#ff8600"/><path d="M44.1 -39.6 41.8 -34.5 40.9 -27 42.6 -4.5 47.8 12 50.4 15 54.3 15.4 55.6 -0.4 52.9 -20.4 47.3 -36ZM-42.5 50.9 -43.6 48 -45.7 44.7ZM-48 40 -48.7 34.5 -47.3 21 -47.4 16.5 -48.5 12 -52.5 1.5 -52.9 -4.5 -50.7 -13.5 -50.4 -22.5 -48.5 -33 -41.2 -51.1 -51.6 -40.4 -53.3 -20.4 -54.2 -0.4 -53.3 19.6ZM-14.6 3 -18.7 6 -21.2 9 -21.1 12 -18.2 15 -12 17.7 -4.5 19.1 3 19.5 5.3 18 5.8 15 4.5 11.6 0.3 6 -4.5 1.6 -7.5 0.2 -9 0.3Z" fill="#ff7300"/><path d="M46.4 -37.1 44.3 -31.5 43.8 -25.5 45.3 -7.5 47.3 1.5 48 9 48.9 12 51 14.3 54 14.5 54.4 14.4 55.6 -0.4 52.9 -20.4 47.3 -36ZM-49.4 34.9 -48.4 22.5 -48.6 16.5 -50 10.5 -52.9 3 -53.7 -3 -51.2 -13.5 -51.1 -22.5 -49.3 -33 -42.8 -49.7 -51.6 -40.4 -53.3 -20.4 -54.2 -0.4 -53.3 19.6ZM-13.8 4.5 -17.1 7.5 -18 9 -18.2 10.5 -17.8 12 -16.5 13.5 -13.5 15.3 -7.5 16.9 0 17.5 2.8 16.5 3.4 15 2.6 12 -0.4 7.5 -4.5 3.5 -7.5 2 -9 2Z" fill="#ff5800"/><path d="M48.6 -32.5 47.3 -25.5 47.7 -16.5 48.5 -10.5 51.3 1.5 49.7 9 50.4 12 52.5 13.5 54.5 13.1 55.6 -0.4 52.9 -20.4ZM-50 32.7 -49.6 16.5 -50.5 12 -54.2 0.3 -53.3 19.6ZM-54 -6 -51.8 -13.5 -51.7 -22.5 -50.1 -33 -48.8 -37.5 -44.5 -47.9 -51.6 -40.4 -53.3 -20.4ZM-12.3 6 -14.7 9 -14.8 10.5 -14.1 12 -12.2 13.5 -7.5 14.9 -4.5 15.2 -1.5 14.7 -0.3 13.5 -0.3 12 -1.7 9 -6 4.7 -9 4.3Z" fill="#ff3e00"/><path d="M51.9 -23.3 52.5 -14.6 54.6 -7.7 52.9 -20.4ZM-50.5 30.6 -50.7 16.5 -51.9 10.5 -54 4.3 -53.3 19.6ZM-53.9 -8.6 -52.3 -13.5 -52.4 -22.5 -50.9 -33 -49.5 -38 -46.2 -46.2 -51.6 -40.4ZM54 8.4 53.5 9 54 10 54.8 9ZM-7.5 11.5 -6 11.4 -5.1 10.5 -5.5 9 -7.5 7.8 -9 8.2 -9.8 9 -9.6 10.5Z" fill="#ff2200"/><path d="M-51.2 27.9 -51.6 16.5 -53.9 7 -53.3 19.6ZM-53.8 -10.7 -52.7 -15 -52.9 -24 -51.9 -31.5 -50.5 -37.5 -47.9 -44.3 -51.6 -40.4 -53.3 -20.4Z" fill="#ec110f"/><path d="M-52.1 -34.8 -50.9 -39 -49.7 -42.4 -51.6 -40.4ZM-53.7 -12.9 -53.4 -15 -53.5 -17.7ZM-52.1 24.5 -52.6 16.5 -53.7 10.3 -53.3 19.6Z" fill="#d70d24"/></g><g transform="translate(353.5,75.5)"><circle r="74.4" fill="none" stroke="#0c0c0c" stroke-width="0.8"/><path d="M73.6 -6.4L72.4 -6.3M72.8 -12.8L71.6 -12.6M69.4 -25.3L68.3 -24.9M67.0 -31.2L65.9 -30.7M60.5 -42.4L59.6 -41.7M56.6 -47.5L55.7 -46.7M47.5 -56.6L46.7 -55.7M42.4 -60.5L41.7 -59.6M31.2 -67.0L30.7 -65.9M25.3 -69.4L24.9 -68.3M12.8 -72.8L12.6 -71.6M6.4 -73.6L6.3 -72.4M-6.4 -73.6L-6.3 -72.4M-12.8 -72.8L-12.6 -71.6M-25.3 -69.4L-24.9 -68.3M-31.2 -67.0L-30.7 -65.9M-42.4 -60.5L-41.7 -59.6M-47.5 -56.6L-46.7 -55.7M-56.6 -47.5L-55.7 -46.7M-60.5 -42.4L-59.6 -41.7M-67.0 -31.2L-65.9 -30.7M-69.4 -25.3L-68.3 -24.9M-72.8 -12.8L-71.6 -12.6M-73.6 -6.4L-72.4 -6.3M-73.6 6.4L-72.4 6.3M-72.8 12.8L-71.6 12.6M-69.4 25.3L-68.3 24.9M-67.0 31.2L-65.9 30.7M-60.5 42.4L-59.6 41.7M-56.6 47.5L-55.7 46.7M-47.5 56.6L-46.7 55.7M-42.4 60.5L-41.7 59.6M-31.2 67.0L-30.7 65.9M-25.3 69.4L-24.9 68.3M-12.8 72.8L-12.6 71.6M-6.4 73.6L-6.3 72.4M6.4 73.6L6.3 72.4M12.8 72.8L12.6 71.6M25.3 69.4L24.9 68.3M31.2 67.0L30.7 65.9M42.4 60.5L41.7 59.6M47.5 56.6L46.7 55.7M56.6 47.5L55.7 46.7M60.5 42.4L59.6 41.7M67.0 31.2L65.9 30.7M69.4 25.3L68.3 24.9M72.8 12.8L71.6 12.6M73.6 6.4L72.4 6.3" stroke="#e0e0e0" stroke-width="0.9"/><path d="M73.9 -0.0L71.6 -0.0M71.4 -19.1L69.2 -18.5M64.0 -36.9L62.0 -35.8M52.3 -52.3L50.6 -50.6M37.0 -64.0L35.8 -62.0M19.1 -71.4L18.5 -69.2M0.0 -73.9L0.0 -71.6M-19.1 -71.4L-18.5 -69.2M-36.9 -64.0L-35.8 -62.0M-52.3 -52.3L-50.6 -50.6M-64.0 -36.9L-62.0 -35.8M-71.4 -19.1L-69.2 -18.5M-73.9 -0.0L-71.6 -0.0M-71.4 19.1L-69.2 18.5M-64.0 37.0L-62.0 35.8M-52.3 52.3L-50.6 50.6M-37.0 64.0L-35.8 62.0M-19.1 71.4L-18.5 69.2M-0.0 73.9L-0.0 71.6M19.1 71.4L18.5 69.2M37.0 64.0L35.8 62.0M52.3 52.3L50.6 50.6M64.0 37.0L62.0 35.8M71.4 19.1L69.2 18.5" stroke="#f0f0f0" stroke-width="0.7"/><text x="69.0" y="1.0" font-size="3.0" fill="#f4f4f4" text-anchor="middle" font-weight="bold" >0</text><text x="66.6" y="-16.9" font-size="3.0" fill="#f4f4f4" text-anchor="middle" font-weight="bold" >15</text><text x="59.8" y="-33.5" font-size="3.0" fill="#f4f4f4" text-anchor="middle" font-weight="bold" >30</text><text x="48.8" y="-47.8" font-size="3.0" fill="#f4f4f4" text-anchor="middle" font-weight="bold" >45</text><text x="34.5" y="-58.8" font-size="3.0" fill="#f4f4f4" text-anchor="middle" font-weight="bold" >60</text><text x="17.9" y="-65.6" font-size="3.0" fill="#f4f4f4" text-anchor="middle" font-weight="bold" >75</text><text x="0.0" y="-68.0" font-size="3.0" fill="#f4f4f4" text-anchor="middle" font-weight="bold" >90</text><text x="-17.9" y="-65.6" font-size="3.0" fill="#f4f4f4" text-anchor="middle" font-weight="bold" >105</text><text x="-34.5" y="-58.8" font-size="3.0" fill="#f4f4f4" text-anchor="middle" font-weight="bold" >120</text><text x="-48.8" y="-47.8" font-size="3.0" fill="#f4f4f4" text-anchor="middle" font-weight="bold" >135</text><text x="-59.8" y="-33.5" font-size="3.0" fill="#f4f4f4" text-anchor="middle" font-weight="bold" >150</text><text x="-66.6" y="-16.9" font-size="3.0" fill="#f4f4f4" text-anchor="middle" font-weight="bold" >165</text><text x="-69.0" y="1.0" font-size="3.0" fill="#f4f4f4" text-anchor="middle" font-weight="bold" >180</text><text x="-66.6" y="18.9" font-size="3.0" fill="#f4f4f4" text-anchor="middle" font-weight="bold" >195</text><text x="-59.8" y="35.5" font-size="3.0" fill="#f4f4f4" text-anchor="middle" font-weight="bold" >210</text><text x="-48.8" y="49.8" font-size="3.0" fill="#f4f4f4" text-anchor="middle" font-weight="bold" >225</text><text x="-34.5" y="60.8" font-size="3.0" fill="#f4f4f4" text-anchor="middle" font-weight="bold" >240</text><text x="-17.9" y="67.6" font-size="3.0" fill="#f4f4f4" text-anchor="middle" font-weight="bold" >255</text><text x="-0.0" y="70.0" font-size="3.0" fill="#f4f4f4" text-anchor="middle" font-weight="bold" >270</text><text x="17.9" y="67.6" font-size="3.0" fill="#f4f4f4" text-anchor="middle" font-weight="bold" >285</text><text x="34.5" y="60.8" font-size="3.0" fill="#f4f4f4" text-anchor="middle" font-weight="bold" >300</text><text x="48.8" y="49.8" font-size="3.0" fill="#f4f4f4" text-anchor="middle" font-weight="bold" >315</text><text x="59.8" y="35.5" font-size="3.0" fill="#f4f4f4" text-anchor="middle" font-weight="bold" >330</text><text x="66.6" y="18.9" font-size="3.0" fill="#f4f4f4" text-anchor="middle" font-weight="bold" >345</text></g><g transform="translate(353.5,75.5)" fill="none"><circle r="19.9" stroke="#111" stroke-width="0.55"/><circle r="33.2" stroke="#111" stroke-width="0.55"/><circle r="46.5" stroke="#111" stroke-width="0.55"/><circle r="59.8" stroke="#111" stroke-width="0.55"/><path d="M-1.3 -13.3h2.6M-1.3 13.3h2.6M-13.3 -0.9v1.8M13.3 -0.9v1.8M-1.3 -26.6h2.6M-1.3 26.6h2.6M-26.6 -0.9v1.8M26.6 -0.9v1.8M-1.3 -39.900000000000006h2.6M-1.3 39.900000000000006h2.6M-39.900000000000006 -0.9v1.8M39.900000000000006 -0.9v1.8M-1.3 -53.2h2.6M-1.3 53.2h2.6M-53.2 -0.9v1.8M53.2 -0.9v1.8" stroke="#222" stroke-width="0.55"/><circle cx="0" cy="-2" r="42" stroke="#ffffff" stroke-width="0.6" stroke-dasharray="0.9 0.45" opacity="0.9"/></g><g transform="translate(353.5,75.5)"><circle cx="0" cy="-0.4" r="0.9" fill="#3a4ad0" stroke="#ddd" stroke-width="0.3"/><circle cx="-2.2" cy="-3.8" r="0.7" fill="#fff"/><rect x="-4.2" y="-9.1" width="1.8" height="1.8" fill="#f060c0" stroke="#fff" stroke-width="0.3"/><circle cx="-4.4" cy="8.4" r="1" fill="#ff5000" stroke="#802000" stroke-width="0.3"/></g><g transform="translate(99.5,225.5)"><path d="M-58.5 2.9 -55.8 16 -50 29.2 -43.4 38.6 -35.4 37.9 -20.8 39.4 -9.2 36.5 1.1 37.9 14.2 36.5 25.8 39.4 34.6 36.5 41.2 39.4 47.7 32.1 55 21.9 59.4 8.8 60.1 -4.4 57.9 -17.5 53.6 -30.6 47.7 -37.9 40.4 -34.3 31.7 -39.4 25.8 -44.5 17.1 -41.6 8.3 -43.8 -6.2 -42.3 -19.4 -40.1 -32.5 -39.7 -43.4 -37.9 -50 -30.6 -55.8 -21.9 -58 -8.8Z" fill="#70e810"/><path d="M-34 29.2 -39.8 16 -45.6 2.9 -47.1 -10.2 -45.3 -23.3 -40.5 -33.5 -43.3 -37.9 -43.4 -37.9 -50 -30.6 -55.8 -21.9 -58 -8.8 -58.5 2.9 -55.8 16 -50 29.2 -43.4 38.6 -35.4 37.9 -31.7 38.3Z" fill="#20d040"/><path d="M11.3 -32.1 5.4 -23.3 8.3 -14.3 14.2 -18.2 20 -22.6 27.3 -30.6 27.3 -43.2 25.8 -44.5 17.1 -41.6 11.3 -43Z" fill="#20d040"/><path d="M-12.1 13.1 -4.8 14.9 5.4 11.7 8.3 5.8 0.3 0 -15 5.8Z" fill="#20d040"/><path d="M52.4 22.2 49.9 11.7 45.5 3.6 38.2 -1.2 33.1 -3.6 25.8 -8 20 -1.5 28.8 5.8 34.6 16 37.5 26.3 33.6 36.8 34.6 36.5 41.2 39.4 47.7 32.1 50.8 27.8Z" fill="#20d040"/><path d="M-24.5 -20.4 -23.7 -11.7 -17.2 -4.4 -9.2 -2.9 -1.1 -1.5 -6.2 -8.8 -9.9 -16 -9.2 -23.3 -10.6 -30.6 -17.2 -32.1 -23.7 -27.7Z" fill="#ffff00"/><path d="M16.4 36.5 18.6 27.7 16.4 20.4 12 16 5.4 17.5 -1.9 21.9 -3.3 29.2 -1.1 36.5 5.3 37.4 14.2 36.5 15.1 36.7Z" fill="#ffff00"/><path d="M25.1 -30.6 20 -22.6 11.3 -17.2 5.4 -9.9 0.3 -0.3 8.3 -4.1 17.1 -7 25.8 -8 33.1 -3.6 38.2 -1.2 45.5 3.6 49.9 11.7 52.4 22.2 54.9 22 55 21.9 59.4 8.8 60.1 -4.4 57.9 -17.5 53.6 -30.6 47.7 -37.9 40.4 -34.3 31.7 -39.4 26.4 -44Z" fill="#20f0f0"/><path d="M-40.1 35 -42.7 26.3 -47.1 17.5 -52.9 13.1 -56.3 13.8 -55.8 16 -50 29.2 -43.4 38.6 -42.1 38.5Z" fill="#20f0f0"/></g><g transform="translate(99.5,225.5)"><circle r="74.4" fill="none" stroke="#0c0c0c" stroke-width="0.8"/><path d="M73.6 -6.4L72.4 -6.3M72.8 -12.8L71.6 -12.6M69.4 -25.3L68.3 -24.9M67.0 -31.2L65.9 -30.7M60.5 -42.4L59.6 -41.7M56.6 -47.5L55.7 -46.7M47.5 -56.6L46.7 -55.7M42.4 -60.5L41.7 -59.6M31.2 -67.0L30.7 -65.9M25.3 -69.4L24.9 -68.3M12.8 -72.8L12.6 -71.6M6.4 -73.6L6.3 -72.4M-6.4 -73.6L-6.3 -72.4M-12.8 -72.8L-12.6 -71.6M-25.3 -69.4L-24.9 -68.3M-31.2 -67.0L-30.7 -65.9M-42.4 -60.5L-41.7 -59.6M-47.5 -56.6L-46.7 -55.7M-56.6 -47.5L-55.7 -46.7M-60.5 -42.4L-59.6 -41.7M-67.0 -31.2L-65.9 -30.7M-69.4 -25.3L-68.3 -24.9M-72.8 -12.8L-71.6 -12.6M-73.6 -6.4L-72.4 -6.3M-73.6 6.4L-72.4 6.3M-72.8 12.8L-71.6 12.6M-69.4 25.3L-68.3 24.9M-67.0 31.2L-65.9 30.7M-60.5 42.4L-59.6 41.7M-56.6 47.5L-55.7 46.7M-47.5 56.6L-46.7 55.7M-42.4 60.5L-41.7 59.6M-31.2 67.0L-30.7 65.9M-25.3 69.4L-24.9 68.3M-12.8 72.8L-12.6 71.6M-6.4 73.6L-6.3 72.4M6.4 73.6L6.3 72.4M12.8 72.8L12.6 71.6M25.3 69.4L24.9 68.3M31.2 67.0L30.7 65.9M42.4 60.5L41.7 59.6M47.5 56.6L46.7 55.7M56.6 47.5L55.7 46.7M60.5 42.4L59.6 41.7M67.0 31.2L65.9 30.7M69.4 25.3L68.3 24.9M72.8 12.8L71.6 12.6M73.6 6.4L72.4 6.3" stroke="#e0e0e0" stroke-width="0.9"/><path d="M73.9 -0.0L71.6 -0.0M71.4 -19.1L69.2 -18.5M64.0 -36.9L62.0 -35.8M52.3 -52.3L50.6 -50.6M37.0 -64.0L35.8 -62.0M19.1 -71.4L18.5 -69.2M0.0 -73.9L0.0 -71.6M-19.1 -71.4L-18.5 -69.2M-36.9 -64.0L-35.8 -62.0M-52.3 -52.3L-50.6 -50.6M-64.0 -36.9L-62.0 -35.8M-71.4 -19.1L-69.2 -18.5M-73.9 -0.0L-71.6 -0.0M-71.4 19.1L-69.2 18.5M-64.0 37.0L-62.0 35.8M-52.3 52.3L-50.6 50.6M-37.0 64.0L-35.8 62.0M-19.1 71.4L-18.5 69.2M-0.0 73.9L-0.0 71.6M19.1 71.4L18.5 69.2M37.0 64.0L35.8 62.0M52.3 52.3L50.6 50.6M64.0 37.0L62.0 35.8M71.4 19.1L69.2 18.5" stroke="#f0f0f0" stroke-width="0.7"/><text x="69.0" y="1.0" font-size="3.0" fill="#f4f4f4" text-anchor="middle" font-weight="bold" >0</text><text x="66.6" y="-16.9" font-size="3.0" fill="#f4f4f4" text-anchor="middle" font-weight="bold" >15</text><text x="59.8" y="-33.5" font-size="3.0" fill="#f4f4f4" text-anchor="middle" font-weight="bold" >30</text><text x="48.8" y="-47.8" font-size="3.0" fill="#f4f4f4" text-anchor="middle" font-weight="bold" >45</text><text x="34.5" y="-58.8" font-size="3.0" fill="#f4f4f4" text-anchor="middle" font-weight="bold" >60</text><text x="17.9" y="-65.6" font-size="3.0" fill="#f4f4f4" text-anchor="middle" font-weight="bold" >75</text><text x="0.0" y="-68.0" font-size="3.0" fill="#f4f4f4" text-anchor="middle" font-weight="bold" >90</text><text x="-17.9" y="-65.6" font-size="3.0" fill="#f4f4f4" text-anchor="middle" font-weight="bold" >105</text><text x="-34.5" y="-58.8" font-size="3.0" fill="#f4f4f4" text-anchor="middle" font-weight="bold" >120</text><text x="-48.8" y="-47.8" font-size="3.0" fill="#f4f4f4" text-anchor="middle" font-weight="bold" >135</text><text x="-59.8" y="-33.5" font-size="3.0" fill="#f4f4f4" text-anchor="middle" font-weight="bold" >150</text><text x="-66.6" y="-16.9" font-size="3.0" fill="#f4f4f4" text-anchor="middle" font-weight="bold" >165</text><text x="-69.0" y="1.0" font-size="3.0" fill="#f4f4f4" text-anchor="middle" font-weight="bold" >180</text><text x="-66.6" y="18.9" font-size="3.0" fill="#f4f4f4" text-anchor="middle" font-weight="bold" >195</text><text x="-59.8" y="35.5" font-size="3.0" fill="#f4f4f4" text-anchor="middle" font-weight="bold" >210</text><text x="-48.8" y="49.8" font-size="3.0" fill="#f4f4f4" text-anchor="middle" font-weight="bold" >225</text><text x="-34.5" y="60.8" font-size="3.0" fill="#f4f4f4" text-anchor="middle" font-weight="bold" >240</text><text x="-17.9" y="67.6" font-size="3.0" fill="#f4f4f4" text-anchor="middle" font-weight="bold" >255</text><text x="-0.0" y="70.0" font-size="3.0" fill="#f4f4f4" text-anchor="middle" font-weight="bold" >270</text><text x="17.9" y="67.6" font-size="3.0" fill="#f4f4f4" text-anchor="middle" font-weight="bold" >285</text><text x="34.5" y="60.8" font-size="3.0" fill="#f4f4f4" text-anchor="middle" font-weight="bold" >300</text><text x="48.8" y="49.8" font-size="3.0" fill="#f4f4f4" text-anchor="middle" font-weight="bold" >315</text><text x="59.8" y="35.5" font-size="3.0" fill="#f4f4f4" text-anchor="middle" font-weight="bold" >330</text><text x="66.6" y="18.9" font-size="3.0" fill="#f4f4f4" text-anchor="middle" font-weight="bold" >345</text></g><g transform="translate(99.5,225.5)" fill="none"><circle r="19.9" stroke="#111" stroke-width="0.55"/><circle r="33.2" stroke="#111" stroke-width="0.55"/><circle r="46.5" stroke="#111" stroke-width="0.55"/><circle r="59.8" stroke="#111" stroke-width="0.55"/><path d="M-1.3 -13.3h2.6M-1.3 13.3h2.6M-13.3 -0.9v1.8M13.3 -0.9v1.8M-1.3 -26.6h2.6M-1.3 26.6h2.6M-26.6 -0.9v1.8M26.6 -0.9v1.8M-1.3 -39.900000000000006h2.6M-1.3 39.900000000000006h2.6M-39.900000000000006 -0.9v1.8M39.900000000000006 -0.9v1.8M-1.3 -53.2h2.6M-1.3 53.2h2.6M-53.2 -0.9v1.8M53.2 -0.9v1.8" stroke="#222" stroke-width="0.55"/><circle cx="0" cy="-2" r="42" stroke="#ffffff" stroke-width="0.6" stroke-dasharray="0.9 0.45" opacity="0.9"/></g><g transform="translate(99.5,225.5)"><path d="M-27.4 -36.5L-11.3 -16M-15.7 -10.9L0.3 0L8.3 18.2M5.1 19L8.6 32.1M-58 -10.2L-44.9 -7.3M41.2 20.1L53.6 26.3" stroke="#ff1010" stroke-width="1.15" fill="none"/><path d="M14.9 -13.1L-15 12.4M-28.1 16L-17.2 10.2M17.8 -8L29.5 -13.4M18.6 27.4L25.8 38.6" stroke="#1020ff" stroke-width="1.15" fill="none"/><rect x="-23.3" y="-37" width="7.8" height="4.6" fill="#fff" stroke="#111" stroke-width="0.5"/><path d="M-22 -34.6h5.2" stroke="#444" stroke-width="2" stroke-dasharray="1.2 0.5"/><rect x="-14.8" y="-27.4" width="7.8" height="4.6" fill="#fff" stroke="#111" stroke-width="0.5"/><path d="M-13.5 -25h5.2" stroke="#444" stroke-width="2" stroke-dasharray="1.2 0.5"/><rect x="-8" y="-11.8" width="7.8" height="4.6" fill="#fff" stroke="#111" stroke-width="0.5"/><path d="M-6.7 -9.4h5.2" stroke="#444" stroke-width="2" stroke-dasharray="1.2 0.5"/><rect x="7.4" y="-5.5" width="7.8" height="4.6" fill="#fff" stroke="#111" stroke-width="0.5"/><path d="M8.7 -3.1h5.2" stroke="#444" stroke-width="2" stroke-dasharray="1.2 0.5"/><rect x="-16" y="-0.1" width="7.8" height="4.6" fill="#fff" stroke="#111" stroke-width="0.5"/><path d="M-14.7 2.3h5.2" stroke="#444" stroke-width="2" stroke-dasharray="1.2 0.5"/><rect x="23.1" y="-9.6" width="7.8" height="4.6" fill="#fff" stroke="#111" stroke-width="0.5"/><path d="M24.4 -7.2h5.2" stroke="#444" stroke-width="2" stroke-dasharray="1.2 0.5"/><rect x="-30.9" y="6.5" width="7.8" height="4.6" fill="#fff" stroke="#111" stroke-width="0.5"/><path d="M-29.6 8.9h5.2" stroke="#444" stroke-width="2" stroke-dasharray="1.2 0.5"/><rect x="-4.6" y="9.4" width="7.8" height="4.6" fill="#fff" stroke="#111" stroke-width="0.5"/><path d="M-3.3 11.8h5.2" stroke="#444" stroke-width="2" stroke-dasharray="1.2 0.5"/><rect x="-2.1" y="25.7" width="7.8" height="4.6" fill="#fff" stroke="#111" stroke-width="0.5"/><path d="M-0.8 28.1h5.2" stroke="#444" stroke-width="2" stroke-dasharray="1.2 0.5"/><rect x="-52.4" y="-15.4" width="7.8" height="4.6" fill="#fff" stroke="#111" stroke-width="0.5"/><path d="M-51.1 -13h5.2" stroke="#444" stroke-width="2" stroke-dasharray="1.2 0.5"/><rect x="39.2" y="24" width="7.8" height="4.6" fill="#fff" stroke="#111" stroke-width="0.5"/><path d="M40.5 26.4h5.2" stroke="#444" stroke-width="2" stroke-dasharray="1.2 0.5"/><rect x="12.9" y="33.4" width="7.8" height="4.6" fill="#fff" stroke="#111" stroke-width="0.5"/><path d="M14.2 35.8h5.2" stroke="#444" stroke-width="2" stroke-dasharray="1.2 0.5"/><circle cx="0" cy="-0.4" r="0.9" fill="#3a4ad0" stroke="#ddd" stroke-width="0.3"/><circle cx="-2.2" cy="-3.8" r="0.7" fill="#fff"/><rect x="-4.2" y="-9.1" width="1.8" height="1.8" fill="#f060c0" stroke="#fff" stroke-width="0.3"/><circle cx="-4.4" cy="8.4" r="1" fill="#ff5000" stroke="#802000" stroke-width="0.3"/></g><g transform="translate(353.5,225.5)"><path d="M-53.3 -20.4 -54.2 -0.4 -53.3 19.6 -48.2 39.6 -40.4 55.1 -32.7 60.7 -20.4 62.9 24 61.8 30.7 59.6 32.9 55.1 40.7 52.9 40.7 48.4 49.6 37.3 54 19.6 55.6 -0.4 52.9 -20.4 47.3 -36 38.4 -46 24 -47.1 22.9 -51.6 -41.6 -51.1 -51.6 -40.4Z" fill="#77e300"/><path d="M-54.2 -0.4 -53.3 19.6 -48.2 39.6 -40.4 55.1 -32.7 60.7 -20.4 62.9 24 61.8 30.7 59.6 32.9 55.1 40.7 52.9 40.7 48.4 49.6 37.3 54 19.6 55.6 -0.4 52.9 -20.4 47.3 -36 38.4 -46 24 -47.1 22.9 -51.6 -41.6 -51.1 -51.6 -40.4 -53.3 -20.4ZM-3 -8.1 1.5 -8.4 4.5 -7.6 7.5 -6 10.2 -3 11.9 1.5 11.4 6 9 10 6 12.6 1.5 14.3 -3 14.5 -6.5 13.5 -10 10.5 -12.2 6 -12.3 1.5 -10.5 -3 -7.5 -6Z" fill="#2fda19"/><path d="M-54.2 -0.4 -53.3 19.6 -48.2 39.6 -40.4 55.1 -32.7 60.7 -20.4 62.9 24 61.8 30.7 59.6 32.9 55.1 40.7 52.9 40.7 48.4 49.6 37.3 54 19.6 55.6 -0.4 52.9 -20.4 47.3 -36 38.4 -46 24 -47.1 22.9 -51.6 -41.6 -51.1 -51.6 -40.4 -53.3 -20.4ZM-7.5 -15.5 1.5 -16.1 4.5 -15.5 9 -13.5 12 -11.6 14.8 -9 17.7 -4.5 19 -1.5 19.6 1.5 19.5 6 18.4 10.5 17.1 13.5 15 16.5 12 19.3 6 22.7 1.5 23.7 -3 24 -7.5 23.7 -12 22.5 -15 20.8 -19.5 16.9 -22.8 12 -23.9 7.5 -23.9 3 -23.1 -1.5 -21.8 -4.5 -18.6 -9 -15.2 -12 -12 -13.9Z" fill="#00d67d"/><path d="M-54.2 -0.4 -53.3 19.6 -48.2 39.6 -40.4 55.1 -32.7 60.7 -20.4 62.9 24 61.8 30.7 59.6 32.9 55.1 40.7 52.9 40.7 48.4 49.6 37.3 54 19.6 55.6 -0.4 52.9 -20.4 47.3 -36 38.4 -46 24 -47.1 22.9 -51.6 -41.6 -51.1 -51.6 -40.4 -53.3 -20.4ZM-3 -26 1.5 -26.5 4.5 -25.6 15 -18.3 19.5 -14.3 25.6 -7.5 28.6 -3 29.5 0 28.9 4.5 26.2 12 22.9 18 19.5 22.4 15 26.6 10 30 4.5 32.5 0 33.3 -6 32.5 -12 30.4 -18 27 -22.5 23.1 -25.9 19.5 -28.8 15 -31 9 -32 3 -31.5 -1.5 -29.9 -6 -27.2 -10.5 -24 -14.2 -19.5 -18.1 -15 -21Z" fill="#00def6"/><path d="M-54.2 -0.4 -53.3 19.6 -48.2 39.6 -40.4 55.1 -32.7 60.7 -20.4 62.9 24 61.8 30.7 59.6 32.9 55.1 40.7 52.9 40.7 48.4 49.6 37.3 54 19.6 55.6 -0.4 52.9 -20.4 47.3 -36 38.4 -46 24 -47.1 22.9 -51.6 -41.6 -51.1 -51.6 -40.4 -53.3 -20.4ZM-1.5 -35.5 1.5 -35.8 6 -34.4 11 -31.5 18.5 -25.5 28.3 -16.5 34.5 -9.9 38 -4.5 39.2 0 38.2 4.5 34.5 11.3 28.3 21 22.5 27.9 18 31.9 11.9 36 4.6 39 0 39.6 -6 38.4 -13.5 35.1 -19.5 31.2 -25.5 25.9 -30 20.7 -33.5 15 -36.5 7.5 -37.4 1.5 -36.9 -3 -34.6 -9 -31.5 -13.9 -28 -18 -18.9 -25.5 -6.9 -33Z" fill="#00bff8"/><path d="M-54.2 -0.4 -53.3 19.6 -48.2 39.6 -40.4 55.1 -32.7 60.7 -20.4 62.9 24 61.8 30.7 59.6 32.9 55.1 40.7 52.9 40.7 48.4 49.6 37.3 54 19.6 55.6 -0.4 52.9 -20.4 47.3 -36 38.4 -46 24 -47.1 22.9 -51.6 -41.6 -51.1 -51.6 -40.4 -53.3 -20.4ZM-1.5 -39.8 4.5 -39.6 10.8 -37.5 18 -33.6 24.8 -28.5 33 -20.8 39 -13.5 42.3 -7.5 43.8 -1.5 43.2 4.5 40.5 11.2 34.5 21.2 27.7 30 21.2 36 15 39.9 7.5 43 1.5 43.9 -4.5 43.3 -12 40.5 -19.5 35.7 -27 29.1 -32.9 22.5 -37.6 15 -40.6 7.5 -41.6 1.5 -41 -4.5 -38.8 -10.5 -35.3 -16.5 -30.3 -22.5 -24 -27.8 -15.9 -33 -7.8 -37.5Z" fill="#00a4f5"/><path d="M-54.2 -0.4 -53.3 19.6 -48.2 39.6 -40.4 55.1 -32.7 60.7 -20.4 62.9 24 61.8 30.7 59.6 32.9 55.1 40.7 52.9 40.7 48.4 49.6 37.3 54 19.6 55.6 -0.4 52.9 -20.4 47.3 -36 38.4 -46 24 -47.1 22.9 -51.6 -41.6 -51.1 -51.6 -40.4 -53.3 -20.4ZM-3 -42.5 4.5 -42.8 13.5 -40.8 21.1 -37.5 28.5 -32.7 36 -25.7 42 -17.9 45.8 -10.5 47.6 -3 47.2 4.5 44.8 12 38.3 24 31.5 33 25 39 18 43.5 10.5 46.4 3 47.6 -4.5 47.1 -12 44.6 -19.5 39.8 -27 33.3 -34.5 25.3 -40.5 16.7 -43.9 9 -45.3 1.5 -44.9 -4.5 -42.6 -12 -38.4 -19.5 -33.6 -25.5 -28.4 -30 -21.3 -34.5 -10.5 -40Z" fill="#028ef0"/><path d="M-54.2 -0.4 -53.3 19.6 -48.2 39.6 -40.4 55.1 -32.7 60.7 -20.4 62.9 24 61.8 30.7 59.6 32.9 55.1 40.7 52.9 40.7 48.4 49.6 37.3 54 19.6 55.6 -0.4 52.9 -20.4 47.3 -36 38.4 -46 24 -47.1 22.9 -51.6 -41.6 -51.1 -51.6 -40.4 -53.3 -20.4ZM-1.5 -45.2 7.5 -45.4 16.5 -43.9 25.5 -40.5 32.7 -36 39.2 -30 45.7 -21 49.5 -12.9 51.3 -4.5 51 4.5 48.5 13.5 42.6 25.5 36.4 34.5 30 40.9 21.6 46.5 13.5 49.7 4.5 51.1 -4.5 50.6 -12 48.4 -18 44.9 -25.5 38.7 -35.5 28.5 -42.4 19.5 -46.9 10.5 -48.8 1.5 -48.4 -6 -46.1 -13.5 -41.4 -22.5 -36 -29.2 -30 -34 -20.7 -39 -9.8 -43.5Z" fill="#1878ea"/><path d="M55.2 -2.9 54.9 4.5 53.8 10.5 48.3 24 45 30.2 41.1 36 33 44.4 24 50.1 13.5 53.7 7.5 54.5 1.5 54.6 -4.5 54 -10.5 52.6 -15 50.7 -19.5 47.7 -33.5 34.5 -43.9 22.5 -47.6 16.5 -49.7 12 -52 3 -52.3 -3 -51.8 -7.5 -49 -16.5 -43.5 -26.8 -39 -32.3 -34.5 -36 -27 -40.1 -15 -44.9 -9 -46.6 -3 -47.5 7.5 -48.3 16.5 -47.7 22.5 -46.4 28.5 -44.2 34.5 -40.9 39 -37.5 43.5 -32.9 47.8 -27 51.7 -19.5 53.8 -14 52.9 -20.4 47.3 -36 38.4 -46 24 -47.1 22.9 -51.6 -41.6 -51.1 -51.6 -40.4 -53.3 -20.4 -54.2 -0.4 -53.3 19.6 -48.2 39.6 -40.4 55.1 -32.7 60.7 -20.4 62.9 24 61.8 30.7 59.6 32.9 55.1 40.7 52.9 40.7 48.4 49.6 37.3 54 19.6 55.6 -0.4Z" fill="#205fe5"/><path d="M-53.6 -15.4 -48.3 -27 -45 -32.3 -40.5 -37.1 -35.3 -40.5 -24.4 -45 -12 -48.9 11.7 -51.5 -41.6 -51.1 -51.6 -40.4ZM52.5 25.7 46.9 36 42 42.4 35.9 48 28.5 52.8 21 55.9 13.5 57.6 4.5 58.1 -6 57.2 -12 55.7 -16.5 53.6 -21 50.5 -25.5 46.4 -45.1 25.5 -50.2 18 -53.7 10.2 -53.3 19.6 -48.2 39.6 -40.4 55.1 -32.7 60.7 -20.4 62.9 24 61.8 30.7 59.6 32.9 55.1 40.7 52.9 40.7 48.4 49.6 37.3ZM35.2 -46.2 39.7 -43.5 42.9 -41 38.4 -46ZM14.2 -51.5 19.5 -51.2 23.1 -50.6 22.9 -51.6Z" fill="#2044e1"/><path d="M-52.5 -28.5 -48 -36 -45 -39.4 -41.7 -42 -33 -46 -15.7 -51.3 -41.6 -51.1 -51.6 -40.4ZM32.5 55.9 21 60.3 10.5 61.8 -6 60.8 -15 58.3 -19.8 55.5 -25.5 50.4 -46.2 28.5 -53.4 18.5 -48.2 39.6 -40.4 55.1 -32.7 60.7 -20.4 62.9 24 61.8 30.7 59.6ZM40.5 50.6 37.5 52.8 34.9 54.5 40.7 52.9Z" fill="#201dc9"/><path d="M-51.6 -39 -48 -43 -43.5 -46.3 -37.5 -49 -30 -51.2 -41.6 -51.1 -51.6 -40.4ZM-13.5 62.7 -19.5 59.8 -24 56.2 -51.6 26.3 -48.2 39.6 -40.4 55.1 -32.7 60.7 -20.4 62.9Z" fill="#2c10ae"/><path d="M-21.2 62.7 -27 57.4 -37.5 44.8 -50.1 32.3 -48.2 39.6 -40.4 55.1 -32.7 60.7Z" fill="#5b26af"/><path d="M-27.4 61.5 -39 46.9 -48.7 37.5 -48.2 39.6 -40.4 55.1 -32.7 60.7Z" fill="#7e2db5"/><path d="M-31.9 60.8 -40.1 49.5 -46.3 43.4 -40.4 55.1Z" fill="#9a30bd"/><path d="M-38.6 56.4 -40.5 53.6 -42.5 51 -40.4 55.1Z" fill="#af30c8"/></g><g transform="translate(353.5,225.5)"><circle r="74.4" fill="none" stroke="#0c0c0c" stroke-width="0.8"/><path d="M73.6 -6.4L72.4 -6.3M72.8 -12.8L71.6 -12.6M69.4 -25.3L68.3 -24.9M67.0 -31.2L65.9 -30.7M60.5 -42.4L59.6 -41.7M56.6 -47.5L55.7 -46.7M47.5 -56.6L46.7 -55.7M42.4 -60.5L41.7 -59.6M31.2 -67.0L30.7 -65.9M25.3 -69.4L24.9 -68.3M12.8 -72.8L12.6 -71.6M6.4 -73.6L6.3 -72.4M-6.4 -73.6L-6.3 -72.4M-12.8 -72.8L-12.6 -71.6M-25.3 -69.4L-24.9 -68.3M-31.2 -67.0L-30.7 -65.9M-42.4 -60.5L-41.7 -59.6M-47.5 -56.6L-46.7 -55.7M-56.6 -47.5L-55.7 -46.7M-60.5 -42.4L-59.6 -41.7M-67.0 -31.2L-65.9 -30.7M-69.4 -25.3L-68.3 -24.9M-72.8 -12.8L-71.6 -12.6M-73.6 -6.4L-72.4 -6.3M-73.6 6.4L-72.4 6.3M-72.8 12.8L-71.6 12.6M-69.4 25.3L-68.3 24.9M-67.0 31.2L-65.9 30.7M-60.5 42.4L-59.6 41.7M-56.6 47.5L-55.7 46.7M-47.5 56.6L-46.7 55.7M-42.4 60.5L-41.7 59.6M-31.2 67.0L-30.7 65.9M-25.3 69.4L-24.9 68.3M-12.8 72.8L-12.6 71.6M-6.4 73.6L-6.3 72.4M6.4 73.6L6.3 72.4M12.8 72.8L12.6 71.6M25.3 69.4L24.9 68.3M31.2 67.0L30.7 65.9M42.4 60.5L41.7 59.6M47.5 56.6L46.7 55.7M56.6 47.5L55.7 46.7M60.5 42.4L59.6 41.7M67.0 31.2L65.9 30.7M69.4 25.3L68.3 24.9M72.8 12.8L71.6 12.6M73.6 6.4L72.4 6.3" stroke="#e0e0e0" stroke-width="0.9"/><path d="M73.9 -0.0L71.6 -0.0M71.4 -19.1L69.2 -18.5M64.0 -36.9L62.0 -35.8M52.3 -52.3L50.6 -50.6M37.0 -64.0L35.8 -62.0M19.1 -71.4L18.5 -69.2M0.0 -73.9L0.0 -71.6M-19.1 -71.4L-18.5 -69.2M-36.9 -64.0L-35.8 -62.0M-52.3 -52.3L-50.6 -50.6M-64.0 -36.9L-62.0 -35.8M-71.4 -19.1L-69.2 -18.5M-73.9 -0.0L-71.6 -0.0M-71.4 19.1L-69.2 18.5M-64.0 37.0L-62.0 35.8M-52.3 52.3L-50.6 50.6M-37.0 64.0L-35.8 62.0M-19.1 71.4L-18.5 69.2M-0.0 73.9L-0.0 71.6M19.1 71.4L18.5 69.2M37.0 64.0L35.8 62.0M52.3 52.3L50.6 50.6M64.0 37.0L62.0 35.8M71.4 19.1L69.2 18.5" stroke="#f0f0f0" stroke-width="0.7"/><text x="69.0" y="1.0" font-size="3.0" fill="#f4f4f4" text-anchor="middle" font-weight="bold" >0</text><text x="66.6" y="-16.9" font-size="3.0" fill="#f4f4f4" text-anchor="middle" font-weight="bold" >15</text><text x="59.8" y="-33.5" font-size="3.0" fill="#f4f4f4" text-anchor="middle" font-weight="bold" >30</text><text x="48.8" y="-47.8" font-size="3.0" fill="#f4f4f4" text-anchor="middle" font-weight="bold" >45</text><text x="34.5" y="-58.8" font-size="3.0" fill="#f4f4f4" text-anchor="middle" font-weight="bold" >60</text><text x="17.9" y="-65.6" font-size="3.0" fill="#f4f4f4" text-anchor="middle" font-weight="bold" >75</text><text x="0.0" y="-68.0" font-size="3.0" fill="#f4f4f4" text-anchor="middle" font-weight="bold" >90</text><text x="-17.9" y="-65.6" font-size="3.0" fill="#f4f4f4" text-anchor="middle" font-weight="bold" >105</text><text x="-34.5" y="-58.8" font-size="3.0" fill="#f4f4f4" text-anchor="middle" font-weight="bold" >120</text><text x="-48.8" y="-47.8" font-size="3.0" fill="#f4f4f4" text-anchor="middle" font-weight="bold" >135</text><text x="-59.8" y="-33.5" font-size="3.0" fill="#f4f4f4" text-anchor="middle" font-weight="bold" >150</text><text x="-66.6" y="-16.9" font-size="3.0" fill="#f4f4f4" text-anchor="middle" font-weight="bold" >165</text><text x="-69.0" y="1.0" font-size="3.0" fill="#f4f4f4" text-anchor="middle" font-weight="bold" >180</text><text x="-66.6" y="18.9" font-size="3.0" fill="#f4f4f4" text-anchor="middle" font-weight="bold" >195</text><text x="-59.8" y="35.5" font-size="3.0" fill="#f4f4f4" text-anchor="middle" font-weight="bold" >210</text><text x="-48.8" y="49.8" font-size="3.0" fill="#f4f4f4" text-anchor="middle" font-weight="bold" >225</text><text x="-34.5" y="60.8" font-size="3.0" fill="#f4f4f4" text-anchor="middle" font-weight="bold" >240</text><text x="-17.9" y="67.6" font-size="3.0" fill="#f4f4f4" text-anchor="middle" font-weight="bold" >255</text><text x="-0.0" y="70.0" font-size="3.0" fill="#f4f4f4" text-anchor="middle" font-weight="bold" >270</text><text x="17.9" y="67.6" font-size="3.0" fill="#f4f4f4" text-anchor="middle" font-weight="bold" >285</text><text x="34.5" y="60.8" font-size="3.0" fill="#f4f4f4" text-anchor="middle" font-weight="bold" >300</text><text x="48.8" y="49.8" font-size="3.0" fill="#f4f4f4" text-anchor="middle" font-weight="bold" >315</text><text x="59.8" y="35.5" font-size="3.0" fill="#f4f4f4" text-anchor="middle" font-weight="bold" >330</text><text x="66.6" y="18.9" font-size="3.0" fill="#f4f4f4" text-anchor="middle" font-weight="bold" >345</text></g><g transform="translate(353.5,225.5)" fill="none"><circle r="19.9" stroke="#111" stroke-width="0.55"/><circle r="33.2" stroke="#111" stroke-width="0.55"/><circle r="46.5" stroke="#111" stroke-width="0.55"/><circle r="59.8" stroke="#111" stroke-width="0.55"/><path d="M-1.3 -13.3h2.6M-1.3 13.3h2.6M-13.3 -0.9v1.8M13.3 -0.9v1.8M-1.3 -26.6h2.6M-1.3 26.6h2.6M-26.6 -0.9v1.8M26.6 -0.9v1.8M-1.3 -39.900000000000006h2.6M-1.3 39.900000000000006h2.6M-39.900000000000006 -0.9v1.8M39.900000000000006 -0.9v1.8M-1.3 -53.2h2.6M-1.3 53.2h2.6M-53.2 -0.9v1.8M53.2 -0.9v1.8" stroke="#222" stroke-width="0.55"/><circle cx="0" cy="-2" r="42" stroke="#ffffff" stroke-width="0.6" stroke-dasharray="0.9 0.45" opacity="0.9"/></g><g transform="translate(353.5,225.5)"><circle cx="0" cy="0" r="13" fill="none" stroke="#fff" stroke-width="0.55" stroke-dasharray="1.1 0.6"/><circle cx="0" cy="-39.5" r="13" fill="none" stroke="#fff" stroke-width="0.55"/><circle cx="-39.5" cy="0" r="13" fill="none" stroke="#fff" stroke-width="0.55"/><circle cx="39.5" cy="0" r="13" fill="none" stroke="#fff" stroke-width="0.55"/><circle cx="0" cy="39.5" r="13" fill="none" stroke="#fff" stroke-width="0.55"/><rect x="-6" y="-3.6" width="12" height="7.2" fill="#fff" stroke="#222" stroke-width="0.5"/><text x="0" y="2.3" font-size="6.3" fill="#555" text-anchor="middle" textLength="9.6" lengthAdjust="spacingAndGlyphs">574</text><rect x="-6" y="-43.1" width="12" height="7.2" fill="#fff" stroke="#222" stroke-width="0.5"/><text x="0" y="-37.2" font-size="6.3" fill="#555" text-anchor="middle" textLength="9.6" lengthAdjust="spacingAndGlyphs">654</text><rect x="-45.5" y="-3.6" width="12" height="7.2" fill="#fff" stroke="#222" stroke-width="0.5"/><text x="-39.5" y="2.3" font-size="6.3" fill="#555" text-anchor="middle" textLength="9.6" lengthAdjust="spacingAndGlyphs">648</text><rect x="33.5" y="-3.6" width="12" height="7.2" fill="#fff" stroke="#222" stroke-width="0.5"/><text x="39.5" y="2.3" font-size="6.3" fill="#555" text-anchor="middle" textLength="9.6" lengthAdjust="spacingAndGlyphs">640</text><rect x="-6" y="35.9" width="12" height="7.2" fill="#fff" stroke="#222" stroke-width="0.5"/><text x="0" y="41.8" font-size="6.3" fill="#555" text-anchor="middle" textLength="9.6" lengthAdjust="spacingAndGlyphs">639</text><circle cx="0" cy="-0.4" r="0.9" fill="#3a4ad0" stroke="#ddd" stroke-width="0.3"/><circle cx="-2.2" cy="-3.8" r="0.7" fill="#fff"/><rect x="-4.2" y="-9.1" width="1.8" height="1.8" fill="#f060c0" stroke="#fff" stroke-width="0.3"/><circle cx="-4.4" cy="8.4" r="1" fill="#ff5000" stroke="#802000" stroke-width="0.3"/></g><rect x="170" y="8" width="56.3" height="32.3" fill="#c9c9c9" stroke="#555" stroke-width="0.5"/><text x="170.6" y="13" font-size="4.9" fill="#111" textLength="30" lengthAdjust="spacingAndGlyphs" >7.97mm/42.4D</text><rect x="227" y="8" width="56.3" height="32.3" fill="#c9c9c9" stroke="#555" stroke-width="0.5"/><text x="227.6" y="13" font-size="4.9" fill="#111" textLength="30" lengthAdjust="spacingAndGlyphs" >6.54mm/51.6D</text><rect x="170" y="260" width="56.3" height="33" fill="#c9c9c9" stroke="#555" stroke-width="0.5"/><rect x="227" y="260" width="56.3" height="33" fill="#c9c9c9" stroke="#555" stroke-width="0.5"/><rect x="177" y="41" width="99" height="177.5" fill="#c9c9c9"/><path d="M177 41.3H276" stroke="#e8e8e8" stroke-width="0.6"/><path d="M177 218.2H276" stroke="#777" stroke-width="0.7"/><text x="178.3" y="47.3" font-size="6.25" fill="#151515" >OD</text><text x="178.3" y="54.3" font-size="6.25" fill="#151515" >N2 Y133584 M37</text><text x="178.3" y="61.4" font-size="6.25" fill="#151515" >14/06/2010 12:29:25</text><text x="178.3" y="68.4" font-size="6.25" fill="#151515" >PreOp</text><text x="178.3" y="82.5" font-size="6.25" fill="#151515" >Vision Future Lyon</text><rect x="199.3" y="59.3" width="55.5" height="20.4" fill="#bebebe"/><path d="M179.5 84.7H274" stroke="#555" stroke-width="0.9"/><path d="M179.5 106H274" stroke="#555" stroke-width="0.9"/><path d="M179.5 140.3H274" stroke="#555" stroke-width="0.9"/><path d="M179.5 175H274" stroke="#555" stroke-width="0.9"/><path d="M179.5 216.2H274" stroke="#555" stroke-width="0.9"/><text x="180" y="91.2" font-size="5.33" fill="#1a1a1a" textLength="18.3" lengthAdjust="spacingAndGlyphs" >Sim K's</text><text x="197.7" y="91.2" font-size="5.33" fill="#f040a8" textLength="13" lengthAdjust="spacingAndGlyphs" >Astig:</text><text x="215.2" y="91.2" font-size="5.33" fill="#f040a8" >2.9 D</text><text x="233" y="91.2" font-size="5.33" fill="#f040a8" >@ 128 deg</text><text x="180" y="97.6" font-size="5.33" fill="#f03030" textLength="10.3" lengthAdjust="spacingAndGlyphs" >Max:</text><text x="215.2" y="97.6" font-size="5.33" fill="#f03030" >44.7 D</text><text x="233" y="97.6" font-size="5.33" fill="#f03030" >@ 128 deg</text><text x="180" y="104.1" font-size="5.33" fill="#2030e8" textLength="9" lengthAdjust="spacingAndGlyphs" >Min:</text><text x="215.2" y="104.1" font-size="5.33" fill="#2030e8" >41.7 D</text><text x="233" y="104.1" font-size="5.33" fill="#2030e8" >@ 38 deg</text><text x="180" y="112.3" font-size="5.33" fill="#1a1a1a" textLength="31" lengthAdjust="spacingAndGlyphs" >3.0 MM Zone:</text><text x="215.2" y="112.3" font-size="5.33" fill="#9838b0" >Irreg:</text><text x="233" y="112.3" font-size="5.33" fill="#9838b0" >± 1.7 D</text><text x="180" y="118.8" font-size="5.33" fill="#1a1a1a" textLength="23.5" lengthAdjust="spacingAndGlyphs" >Mean Pwr</text><text x="215.2" y="118.8" font-size="5.33" fill="#1a1a1a" >43.5</text><text x="233" y="118.8" font-size="5.33" fill="#1a1a1a" >± 1.1 D</text><text x="180" y="125.4" font-size="5.33" fill="#1a1a1a" textLength="22.5" lengthAdjust="spacingAndGlyphs" >Astig Pwr</text><text x="215.2" y="125.4" font-size="5.33" fill="#1a1a1a" >2.8</text><text x="233" y="125.4" font-size="5.33" fill="#1a1a1a" >± 1.3 D</text><text x="180" y="132" font-size="5.33" fill="#f03030" textLength="25" lengthAdjust="spacingAndGlyphs" >Steep Axis</text><text x="215.2" y="132" font-size="5.33" fill="#f03030" >119</text><text x="233" y="132" font-size="5.33" fill="#f03030" >± 22 deg</text><text x="180" y="138.5" font-size="5.33" fill="#2030e8" textLength="19.5" lengthAdjust="spacingAndGlyphs" >Flat Axis</text><text x="215.2" y="138.5" font-size="5.33" fill="#2030e8" style="white-space:pre" > 26</text><text x="233" y="138.5" font-size="5.33" fill="#2030e8" >± 22 deg</text><text x="180" y="146.6" font-size="5.33" fill="#1a1a1a" textLength="31" lengthAdjust="spacingAndGlyphs" >5.0 MM Zone:</text><text x="215.2" y="146.6" font-size="5.33" fill="#9838b0" >Irreg:</text><text x="233" y="146.6" font-size="5.33" fill="#9838b0" >± 1.9 D</text><text x="180" y="153.2" font-size="5.33" fill="#1a1a1a" textLength="23.5" lengthAdjust="spacingAndGlyphs" >Mean Pwr</text><text x="215.2" y="153.2" font-size="5.33" fill="#1a1a1a" >43.3</text><text x="233" y="153.2" font-size="5.33" fill="#1a1a1a" >± 1.3 D</text><text x="180" y="159.8" font-size="5.33" fill="#1a1a1a" textLength="22.5" lengthAdjust="spacingAndGlyphs" >Astig Pwr</text><text x="215.2" y="159.8" font-size="5.33" fill="#1a1a1a" >2.4</text><text x="233" y="159.8" font-size="5.33" fill="#1a1a1a" >± 1.4 D</text><text x="180" y="166.4" font-size="5.33" fill="#f03030" textLength="25" lengthAdjust="spacingAndGlyphs" >Steep Axis</text><text x="215.2" y="166.4" font-size="5.33" fill="#f03030" >108</text><text x="233" y="166.4" font-size="5.33" fill="#f03030" >± 26 deg</text><text x="180" y="172.9" font-size="5.33" fill="#2030e8" textLength="19.5" lengthAdjust="spacingAndGlyphs" >Flat Axis</text><text x="215.2" y="172.9" font-size="5.33" fill="#2030e8" style="white-space:pre" > 20</text><text x="233" y="172.9" font-size="5.33" fill="#2030e8" >± 25 deg</text><text x="180" y="181.3" font-size="5.33" fill="#1a1a1a" >White-to-White [mm] : 12.0</text><text x="180" y="187.9" font-size="5.33" fill="#1a1a1a" >Pupil Diameter [mm] :  6.2</text><text x="180" y="194.6" font-size="5.33" fill="#1a1a1a" >Thinnest : 561 um @ ( -0.4, -0.6 )</text><text x="180" y="201.2" font-size="5.33" fill="#1a1a1a" >ACD (Ep): 4.01 mm</text><text x="180" y="207.8" font-size="5.33" fill="#1a1a1a" >Kappa : 3.81° @ 181.10°</text><text x="180" y="214.3" font-size="5.33" fill="#1a1a1a" >Kappa Intercept : -0.29, 0.64</text><text x="227.70000000000002" y="234.1" font-size="15.3" fill="#000" text-anchor="middle" >OD</text><text x="226.8" y="233.2" font-size="15.3" fill="#fff" text-anchor="middle" >OD</text><rect x="194.3" y="239.5" width="13.6" height="14.3" fill="#000"/><defs><radialGradient id="og2" cx="0.62" cy="0.42" r="0.6"><stop offset="0" stop-color="#fff"/><stop offset="0.22" stop-color="#ff9090"/><stop offset="0.45" stop-color="#ff0000"/><stop offset="1" stop-color="#f00000"/></radialGradient></defs><circle cx="201.8" cy="246.8" r="5.9" fill="url(#og2)"/><path d="M207.6 240V253.6" stroke="#999" stroke-width="0.7"/><text x="212.9" y="252.5" font-size="11.8" fill="#000" font-weight="bold" textLength="46" lengthAdjust="spacingAndGlyphs" stroke="#000" stroke-width="0.5">ORBSCAN</text><text x="211.9" y="251.5" font-size="11.8" fill="#ff0000" font-weight="bold" textLength="46" lengthAdjust="spacingAndGlyphs" stroke="#ff0000" stroke-width="0.5">ORBSCAN</text><text x="226.5" y="258.5" font-size="3.4" fill="#888" text-anchor="middle" >v3.12</text>
</svg>
<svg x="4" y="383" width="468" height="311" viewBox="0 0 453 301" preserveAspectRatio="none">
<rect x="0" y="0" width="453" height="301" fill="#333333"/><text x="1.0" y="5.8" font-size="5.4" fill="#000" textLength="54.5" lengthAdjust="spacingAndGlyphs" >0.005 mm Color Steps</text><text x="0.5" y="5.3" font-size="5.4" fill="#ddd" textLength="54.5" lengthAdjust="spacingAndGlyphs" >0.005 mm Color Steps</text><text x="453.0" y="5.8" font-size="5.4" fill="#000" text-anchor="end" textLength="54.5" lengthAdjust="spacingAndGlyphs" >0.005 mm Color Steps</text><text x="452.5" y="5.3" font-size="5.4" fill="#ddd" text-anchor="end" textLength="54.5" lengthAdjust="spacingAndGlyphs" >0.005 mm Color Steps</text><text x="137.5" y="5.8" font-size="5.4" fill="#000" textLength="33.5" lengthAdjust="spacingAndGlyphs" >Elevation BFS</text><text x="137" y="5.3" font-size="5.4" fill="#ddd" textLength="33.5" lengthAdjust="spacingAndGlyphs" >Elevation BFS</text><text x="283.0" y="5.8" font-size="5.4" fill="#000" textLength="33.5" lengthAdjust="spacingAndGlyphs" >Elevation BFS</text><text x="282.5" y="5.3" font-size="5.4" fill="#ddd" textLength="33.5" lengthAdjust="spacingAndGlyphs" >Elevation BFS</text><text x="1.1" y="16.4" font-size="8.7" fill="#000" textLength="30.2" lengthAdjust="spacingAndGlyphs" >Anterior</text><text x="0.3" y="15.6" font-size="8.7" fill="#fff" textLength="30.2" lengthAdjust="spacingAndGlyphs" >Anterior</text><text x="453.40000000000003" y="16.4" font-size="8.7" fill="#000" text-anchor="end" textLength="35" lengthAdjust="spacingAndGlyphs" >Posterior</text><text x="452.6" y="15.6" font-size="8.7" fill="#fff" text-anchor="end" textLength="35" lengthAdjust="spacingAndGlyphs" >Posterior</text><text x="0.3" y="24.7" font-size="7" fill="#c4c4c4" textLength="15.7" lengthAdjust="spacingAndGlyphs" >Float</text><text x="452.6" y="24.7" font-size="7" fill="#c4c4c4" text-anchor="end" textLength="15.7" lengthAdjust="spacingAndGlyphs" >Float</text><text x="1.1" y="291.8" font-size="8.7" fill="#000" textLength="49.5" lengthAdjust="spacingAndGlyphs" >Keratometric</text><text x="0.3" y="291" font-size="8.7" fill="#fff" textLength="49.5" lengthAdjust="spacingAndGlyphs" >Keratometric</text><text x="453.40000000000003" y="291.8" font-size="8.7" fill="#000" text-anchor="end" textLength="37.5" lengthAdjust="spacingAndGlyphs" >Thickness</text><text x="452.6" y="291" font-size="8.7" fill="#fff" text-anchor="end" textLength="37.5" lengthAdjust="spacingAndGlyphs" >Thickness</text><text x="3.3" y="299.8" font-size="5.4" fill="#000" textLength="54" lengthAdjust="spacingAndGlyphs" >0.25 Auto Color Steps</text><text x="2.8" y="299.3" font-size="5.4" fill="#ddd" textLength="54" lengthAdjust="spacingAndGlyphs" >0.25 Auto Color Steps</text><text x="453.0" y="299.5" font-size="5.4" fill="#000" text-anchor="end" textLength="45.5" lengthAdjust="spacingAndGlyphs" >20 mic Color Steps</text><text x="452.5" y="299" font-size="5.4" fill="#ddd" text-anchor="end" textLength="45.5" lengthAdjust="spacingAndGlyphs" >20 mic Color Steps</text><text x="137.5" y="299.5" font-size="5.4" fill="#000" textLength="27.5" lengthAdjust="spacingAndGlyphs" >Axial Power</text><text x="137" y="299" font-size="5.4" fill="#ddd" textLength="27.5" lengthAdjust="spacingAndGlyphs" >Axial Power</text><text x="276.5" y="299.5" font-size="5.4" fill="#000" textLength="40" lengthAdjust="spacingAndGlyphs" >0.92 Pachymetry</text><text x="276" y="299" font-size="5.4" fill="#ddd" textLength="40" lengthAdjust="spacingAndGlyphs" >0.92 Pachymetry</text><text x="37.9" y="158.5" font-size="16.8" fill="#000" text-anchor="middle" >T</text><text x="37" y="157.6" font-size="16.8" fill="#fff" text-anchor="middle" >T</text><text x="411.9" y="158.5" font-size="16.8" fill="#000" text-anchor="middle" >N</text><text x="411" y="157.6" font-size="16.8" fill="#fff" text-anchor="middle" >N</text><linearGradient id="g9" x1="0" y1="0" x2="0" y2="1"><stop offset="0" stop-color="#70508a"/><stop offset="0.0298" stop-color="#80508a"/><stop offset="0.0766" stop-color="#a04870"/><stop offset="0.1149" stop-color="#c01840"/><stop offset="0.1574" stop-color="#e00818"/><stop offset="0.2" stop-color="#ff2000"/><stop offset="0.2426" stop-color="#ff4800"/><stop offset="0.2851" stop-color="#ff7000"/><stop offset="0.3319" stop-color="#ff9000"/><stop offset="0.3787" stop-color="#ffb000"/><stop offset="0.4213" stop-color="#ffd000"/><stop offset="0.4553" stop-color="#fff000"/><stop offset="0.4843" stop-color="#ffff00"/><stop offset="0.486" stop-color="#00c800"/><stop offset="0.5174" stop-color="#00c800"/><stop offset="0.5191" stop-color="#00f0f8"/><stop offset="0.5915" stop-color="#00c8ff"/><stop offset="0.6766" stop-color="#0098ff"/><stop offset="0.766" stop-color="#0058ff"/><stop offset="0.8043" stop-color="#1030f0"/><stop offset="0.8511" stop-color="#4028c8"/><stop offset="0.8979" stop-color="#8020b0"/><stop offset="0.9383" stop-color="#a010b8"/><stop offset="1" stop-color="#b828d0"/></linearGradient><rect x="0.3" y="30.5" width="24" height="120" fill="#000"/><path d="M24.05 30.5V150.5" stroke="#9a9a9a" stroke-width="0.6"/><path d="M0.3 150.2H24.3" stroke="#9a9a9a" stroke-width="0.6"/><rect x="1.1" y="31.5" width="6" height="117.5" fill="url(#g9)"/><text x="22.6" y="42.6" font-size="5.9" fill="#eaeaea" text-anchor="end" >0.075</text><text x="22.6" y="52.73" font-size="5.9" fill="#eaeaea" text-anchor="end" >0.060</text><text x="22.6" y="62.86" font-size="5.9" fill="#eaeaea" text-anchor="end" >0.045</text><text x="22.6" y="72.99" font-size="5.9" fill="#eaeaea" text-anchor="end" >0.030</text><text x="22.6" y="83.12" font-size="5.9" fill="#eaeaea" text-anchor="end" >0.015</text><text x="22.6" y="93.25" font-size="5.9" fill="#eaeaea" text-anchor="end" >0.000</text><text x="22.6" y="103.38" font-size="5.9" fill="#eaeaea" text-anchor="end" >-0.015</text><text x="22.6" y="113.51" font-size="5.9" fill="#eaeaea" text-anchor="end" >-0.030</text><text x="22.6" y="123.64" font-size="5.9" fill="#eaeaea" text-anchor="end" >-0.045</text><text x="22.6" y="133.77" font-size="5.9" fill="#eaeaea" text-anchor="end" >-0.060</text><text x="22.6" y="143.9" font-size="5.9" fill="#eaeaea" text-anchor="end" >-0.075</text><linearGradient id="g10" x1="0" y1="0" x2="0" y2="1"><stop offset="0" stop-color="#70508a"/><stop offset="0.0298" stop-color="#80508a"/><stop offset="0.0766" stop-color="#a04870"/><stop offset="0.1149" stop-color="#c01840"/><stop offset="0.1574" stop-color="#e00818"/><stop offset="0.2" stop-color="#ff2000"/><stop offset="0.2426" stop-color="#ff4800"/><stop offset="0.2851" stop-color="#ff7000"/><stop offset="0.3319" stop-color="#ff9000"/><stop offset="0.3787" stop-color="#ffb000"/><stop offset="0.4213" stop-color="#ffd000"/><stop offset="0.4553" stop-color="#fff000"/><stop offset="0.4843" stop-color="#ffff00"/><stop offset="0.486" stop-color="#00c800"/><stop offset="0.5174" stop-color="#00c800"/><stop offset="0.5191" stop-color="#00f0f8"/><stop offset="0.5915" stop-color="#00c8ff"/><stop offset="0.6766" stop-color="#0098ff"/><stop offset="0.766" stop-color="#0058ff"/><stop offset="0.8043" stop-color="#1030f0"/><stop offset="0.8511" stop-color="#4028c8"/><stop offset="0.8979" stop-color="#8020b0"/><stop offset="0.9383" stop-color="#a010b8"/><stop offset="1" stop-color="#b828d0"/></linearGradient><rect x="428.3" y="30.5" width="24.4" height="120" fill="#000"/><path d="M452.45 30.5V150.5" stroke="#9a9a9a" stroke-width="0.6"/><path d="M428.3 150.2H452.7" stroke="#9a9a9a" stroke-width="0.6"/><rect x="429.1" y="31.5" width="6" height="117.5" fill="url(#g10)"/><text x="451.0" y="42.6" font-size="5.9" fill="#eaeaea" text-anchor="end" >0.075</text><text x="451.0" y="52.73" font-size="5.9" fill="#eaeaea" text-anchor="end" >0.060</text><text x="451.0" y="62.86" font-size="5.9" fill="#eaeaea" text-anchor="end" >0.045</text><text x="451.0" y="72.99" font-size="5.9" fill="#eaeaea" text-anchor="end" >0.030</text><text x="451.0" y="83.12" font-size="5.9" fill="#eaeaea" text-anchor="end" >0.015</text><text x="451.0" y="93.25" font-size="5.9" fill="#eaeaea" text-anchor="end" >0.000</text><text x="451.0" y="103.38" font-size="5.9" fill="#eaeaea" text-anchor="end" >-0.015</text><text x="451.0" y="113.51" font-size="5.9" fill="#eaeaea" text-anchor="end" >-0.030</text><text x="451.0" y="123.64" font-size="5.9" fill="#eaeaea" text-anchor="end" >-0.045</text><text x="451.0" y="133.77" font-size="5.9" fill="#eaeaea" text-anchor="end" >-0.060</text><text x="451.0" y="143.9" font-size="5.9" fill="#eaeaea" text-anchor="end" >-0.075</text><linearGradient id="g11" x1="0" y1="0" x2="0" y2="1"><stop offset="0" stop-color="#f08888"/><stop offset="0.0723" stop-color="#e87070"/><stop offset="0.0979" stop-color="#c05858"/><stop offset="0.1234" stop-color="#b04030"/><stop offset="0.1447" stop-color="#c00000"/><stop offset="0.166" stop-color="#d80000"/><stop offset="0.1915" stop-color="#e82000"/><stop offset="0.217" stop-color="#f04800"/><stop offset="0.2511" stop-color="#f07000"/><stop offset="0.2851" stop-color="#f09000"/><stop offset="0.3362" stop-color="#e8b800"/><stop offset="0.3787" stop-color="#f8e000"/><stop offset="0.4213" stop-color="#ffff00"/><stop offset="0.4468" stop-color="#a0f000"/><stop offset="0.4723" stop-color="#50e000"/><stop offset="0.4979" stop-color="#00c840"/><stop offset="0.5191" stop-color="#00e0c0"/><stop offset="0.5319" stop-color="#00e8f8"/><stop offset="0.5957" stop-color="#00b8f8"/><stop offset="0.634" stop-color="#0090f0"/><stop offset="0.6851" stop-color="#2060e0"/><stop offset="0.7191" stop-color="#2030d8"/><stop offset="0.7702" stop-color="#2010b0"/><stop offset="0.8043" stop-color="#401098"/><stop offset="0.8553" stop-color="#8030b0"/><stop offset="0.8894" stop-color="#b030c0"/><stop offset="0.9404" stop-color="#c840d8"/><stop offset="1" stop-color="#d868f0"/></linearGradient><rect x="0.3" y="151" width="24" height="119" fill="#000"/><path d="M24.05 151V270" stroke="#9a9a9a" stroke-width="0.6"/><path d="M0.3 269.7H24.3" stroke="#9a9a9a" stroke-width="0.6"/><rect x="1.1" y="152" width="6" height="116.5" fill="url(#g11)"/><text x="22.6" y="162.6" font-size="5.9" fill="#eaeaea" text-anchor="end" >45.50</text><text x="22.6" y="172.75" font-size="5.9" fill="#eaeaea" text-anchor="end" >44.75</text><text x="22.6" y="182.9" font-size="5.9" fill="#eaeaea" text-anchor="end" >44.00</text><text x="22.6" y="193.05" font-size="5.9" fill="#eaeaea" text-anchor="end" >43.25</text><text x="22.6" y="203.2" font-size="5.9" fill="#eaeaea" text-anchor="end" >42.50</text><text x="22.6" y="213.35" font-size="5.9" fill="#eaeaea" text-anchor="end" >41.75</text><text x="22.6" y="223.5" font-size="5.9" fill="#eaeaea" text-anchor="end" >41.00</text><text x="22.6" y="233.65" font-size="5.9" fill="#eaeaea" text-anchor="end" >40.25</text><text x="22.6" y="243.8" font-size="5.9" fill="#eaeaea" text-anchor="end" >39.50</text><text x="22.6" y="253.95" font-size="5.9" fill="#eaeaea" text-anchor="end" >38.75</text><text x="22.6" y="264.1" font-size="5.9" fill="#eaeaea" text-anchor="end" >38.00</text><linearGradient id="g12" x1="0" y1="0" x2="0" y2="1"><stop offset="0" stop-color="#e070f8"/><stop offset="0.0383" stop-color="#d050f0"/><stop offset="0.0723" stop-color="#c030e0"/><stop offset="0.1149" stop-color="#b030c8"/><stop offset="0.1574" stop-color="#9030b8"/><stop offset="0.2" stop-color="#6028b0"/><stop offset="0.2255" stop-color="#3010a8"/><stop offset="0.2511" stop-color="#2010c0"/><stop offset="0.2851" stop-color="#2040e0"/><stop offset="0.3362" stop-color="#2070e8"/><stop offset="0.3787" stop-color="#0090f0"/><stop offset="0.4213" stop-color="#00b0f8"/><stop offset="0.4553" stop-color="#00d8f8"/><stop offset="0.4851" stop-color="#00f0f0"/><stop offset="0.4936" stop-color="#00d060"/><stop offset="0.5149" stop-color="#20d820"/><stop offset="0.5404" stop-color="#60e000"/><stop offset="0.566" stop-color="#a0e800"/><stop offset="0.583" stop-color="#f0f000"/><stop offset="0.6" stop-color="#fff000"/><stop offset="0.634" stop-color="#f8d000"/><stop offset="0.6766" stop-color="#f0a800"/><stop offset="0.7191" stop-color="#f07000"/><stop offset="0.7532" stop-color="#f04800"/><stop offset="0.7702" stop-color="#e83000"/><stop offset="0.8043" stop-color="#e01000"/><stop offset="0.8383" stop-color="#c80000"/><stop offset="0.8553" stop-color="#c01010"/><stop offset="0.8723" stop-color="#b03040"/><stop offset="0.9064" stop-color="#c05060"/><stop offset="0.9404" stop-color="#e87070"/><stop offset="1" stop-color="#f09090"/></linearGradient><rect x="428.3" y="151" width="24.4" height="119" fill="#000"/><path d="M452.45 151V270" stroke="#9a9a9a" stroke-width="0.6"/><path d="M428.3 269.7H452.7" stroke="#9a9a9a" stroke-width="0.6"/><rect x="429.1" y="152" width="6" height="116.5" fill="url(#g12)"/><text x="435.7" y="162.6" font-size="5.9" fill="#eaeaea" >900</text><text x="435.7" y="172.75" font-size="5.9" fill="#eaeaea" >840</text><text x="435.7" y="182.9" font-size="5.9" fill="#eaeaea" >780</text><text x="435.7" y="193.05" font-size="5.9" fill="#eaeaea" >720</text><text x="435.7" y="203.2" font-size="5.9" fill="#eaeaea" >660</text><text x="435.7" y="213.35" font-size="5.9" fill="#eaeaea" >600</text><text x="435.7" y="223.5" font-size="5.9" fill="#eaeaea" >540</text><text x="435.7" y="233.65" font-size="5.9" fill="#eaeaea" >480</text><text x="435.7" y="243.8" font-size="5.9" fill="#eaeaea" >420</text><text x="435.7" y="253.95" font-size="5.9" fill="#eaeaea" >360</text><text x="435.7" y="264.1" font-size="5.9" fill="#eaeaea" >300</text><g transform="translate(99.5,75.5)"><path d="M-63.4 -35.9 -62.8 30.6 -57.9 43.9 -52.8 51.5 -52.2 52.2 -50.4 53.9 -48.7 55.5 -46.8 57 -44.9 58.5 -43 60 -41.6 60.9 -35.7 63.9 36.9 63.9 39 62.7 41 61.4 43 60 44.9 58.5 46.8 57 48.7 55.5 50.4 53.9 52.2 52.2 53.9 50.4 55.5 48.7 57 46.8 58.5 44.9 60 43 61.4 41 62.7 39 63 38.4 63 -29.3 59.7 -38.2 50.8 -49.2 35.3 -58.8 -42.4 -58.8 -49.1 -55.1 -50.4 -53.9 -52.2 -52.2 -53.9 -50.4 -55.5 -48.7 -57 -46.8 -58.5 -44.9 -59.8 -43.3Z" fill="#5126c2"/><path d="M-62.8 30.6 -57.9 43.9 -52.8 51.5 -43 60 -35.7 63.9 36.9 63.9 44.9 58.5 52.2 52.2 58.5 44.9 63 38.4 63 -29.3 59.7 -38.2 50.8 -49.2 35.3 -58.8 -42.4 -58.8 -49.1 -55.1 -58.5 -44.9 -63.4 -35.9Z" fill="#2f2bd6"/><path d="M-1.5 63.7 12 60.9 16.1 61.5 19 63.9 36.9 63.9 44.9 58.5 50.4 53.9 55.5 48.7 60 43 63 38.4 63 -29.3 59.7 -38.2 50.8 -49.2 35.3 -58.8 -42.4 -58.8 -49.1 -55.1 -53.9 -50.4 -59.8 -43.3 -63.4 -35.9 -62.8 30.6 -57.9 43.9 -52.8 51.5 -46.8 57 -41.6 60.9 -35.7 63.9Z" fill="#1230ef"/><path d="M-9 63.6 -1.5 61 13.5 58.7 20 60 21.9 61.5 22.8 63.9 36.9 63.9 44.9 58.5 52.2 52.2 58.5 44.9 63 38.4 63 -29.3 59.7 -38.2 50.8 -49.2 35.3 -58.8 -42.4 -58.8 -49.1 -55.1 -53.9 -50.4 -59.8 -43.3 -63.4 -35.9 -62.8 30.6 -57.9 43.9 -52.8 51.5 -48.7 55.5 -41.6 60.9 -35.7 63.9Z" fill="#054cfb"/><path d="M-15.2 63.9 -13 61.5 -7 60 10.5 57.3 16.5 56.9 22.5 57.6 24.5 58.5 25.5 60.1 25.8 63.9 36.9 63.9 44.9 58.5 52.2 52.2 58.5 44.9 63 38.4 63 -29.3 59.7 -38.2 50.8 -49.2 35.3 -58.8 -42.4 -58.8 -49.1 -55.1 -53.9 -50.4 -59.8 -43.3 -63.4 -35.9 -62.8 30.6 -57.9 43.9 -52.8 51.5 -48.7 55.5 -41.6 60.9 -35.7 63.9Z" fill="#0065ff"/><path d="M-18.7 63.9 -18.8 60 -17.4 58.5 -9 58.2 28.5 53.8 29.5 54 29.9 55.5 28.2 63.9 36.9 63.9 44.9 58.5 52.2 52.2 58.5 44.9 63 38.4 63 -29.3 59.7 -38.2 50.8 -49.2 35.3 -58.8 -42.4 -58.8 -49.1 -55.1 -53.9 -50.4 -59.8 -43.3 -63.4 -35.9 -62.8 30.6 -57.9 43.9 -52.8 51.5 -48.7 55.5 -41.6 60.9 -35.7 63.9Z" fill="#0079ff"/><path d="M-21.2 63.9 -22.6 57 -22.4 55.5 -21 55 -10.5 56.5 3 55.3 21 53 33 49.1 34 49.5 34.5 50.5 34.4 52.5 31.3 60 30.3 63.9 36.9 63.9 44.9 58.5 52.2 52.2 58.5 44.9 63 38.4 63 -29.3 59.7 -38.2 50.8 -49.2 35.3 -58.8 -42.4 -58.8 -49.1 -55.1 -53.9 -50.4 -59.8 -43.3 -63.4 -35.9 -62.8 30.6 -57.9 43.9 -52.8 51.5 -46.8 57 -41.6 60.9 -35.7 63.9Z" fill="#008eff"/><path d="M-23.1 63.9 -24.8 55.5 -24 53.1 -22.5 52.6 -10.5 54.9 3 53.9 21 51.3 31.5 47.3 34.5 46.8 36.3 48 36.8 51 32.1 63.9 36.9 63.9 44.9 58.5 52.2 52.2 58.5 44.9 63 38.4 63 -29.3 59.7 -38.2 50.8 -49.2 35.3 -58.8 -42.4 -58.8 -49.1 -55.1 -53.9 -50.4 -59.8 -43.3 -63.4 -35.9 -62.8 30.6 -57.9 43.9 -52.8 51.5 -46.8 57 -41.6 60.9 -35.7 63.9ZM-19.1 -46.5 -16.5 -45.9 -14.6 -43.5 -14.1 -40.5 -15 -37.2 -16.5 -35.9 -18 -35.5 -24 -35.8 -27 -35.4 -33 -31.8 -37.5 -27.4 -39 -26.7 -39.5 -27 -39 -29 -28.8 -42 -24.4 -45Z" fill="#00a0ff"/><path d="M-24.7 63.9 -26.2 55.5 -25.5 52.6 -24 51.5 -10.5 53.4 3 52.5 19.5 50 31.5 45.8 34.5 45.3 37.2 46.5 38.4 49.5 38.1 52.5 34.9 60 33.8 63.9 36.9 63.9 44.9 58.5 52.2 52.2 58.5 44.9 63 38.4 63 -29.3 59.7 -38.2 50.8 -49.2 35.3 -58.8 -42.4 -58.8 -49.1 -55.1 -53.9 -50.4 -59.8 -43.3 -63.4 -35.9 -62.8 30.6 -57.9 43.9 -52.8 51.5 -46.8 57 -41.6 60.9 -35.7 63.9ZM-21 -51.5 -18 -51.4 -15 -50.4 -13.5 -49.4 -11.1 -46.5 -9.1 -42 -6.8 -34.5 -6.7 -31.5 -7.4 -30 -9.3 -28.5 -12 -27.6 -21 -28.2 -25.5 -28 -30 -26.4 -40.5 -20.7 -43.5 -20 -45 -21 -45.3 -25.5 -44 -30 -35.8 -43.5 -33 -46.3 -30 -48.2 -25.5 -50.3ZM10.5 -24.4 19.5 -22.4 24 -20.5 27 -18.1 27.7 -16.5 27.9 -13.5 27 -9.4 25.5 -6.6 24 -5.5 22.5 -5.3 21 -5.9 16.5 -10.3 9 -21 8.5 -22.5 8.9 -24Z" fill="#00b0ff"/><path d="M-26.3 63.9 -27.4 57 -27.2 54 -25.5 51.1 -24 50.5 -10.5 52 3 51 19.5 48.5 31.5 44.6 34.5 44.2 37.5 45.1 38.9 46.5 39.9 49.5 39.2 54 35.6 63 35.4 63.9 36.9 63.9 44.9 58.5 52.2 52.2 58.5 44.9 63 38.4 63 -29.3 59.7 -38.2 50.8 -49.2 35.3 -58.8 -42.4 -58.8 -49.1 -55.1 -55.5 -48.7 -59.8 -43.3 -63.4 -35.9 -62.8 30.6 -57.9 43.9 -52.8 51.5 -48.7 55.5 -41.6 60.9 -35.7 63.9ZM-24 -54.6 -18 -55.1 -13.5 -53.2 -9.8 -49.5 -3 -38.3 1.5 -33.8 21 -26.1 27 -22.3 29.7 -19.5 30.4 -18 30.8 -15 30 -8.6 28.5 -4 25 3 24.5 10.5 23.9 12 22.5 13 20.6 12 20.5 9 21.5 4.5 20.7 1.5 18.7 -1.5 12 -9.7 6 -15.9 1.5 -19.7 -3 -22.1 -13.5 -22.9 -21 -24.3 -27 -23.9 -33 -21.6 -40.5 -17.4 -43.1 -15 -46.5 -9.8 -48 -9.1 -49.5 -9.6 -50.2 -10.5 -50.7 -13.5 -48 -27 -46.5 -31.6 -43.5 -37.6 -39 -44.5 -36 -48 -30 -51.9Z" fill="#00c0ff"/><path d="M-27.8 63.9 -28.6 55.5 -27.7 52.5 -25.5 50.1 -22.5 49.7 -9 50.5 3.2 49.5 18 47.2 31.5 43.4 34.5 43.1 37.5 43.8 39.3 45 40.5 46.5 41.4 49.5 40.8 54 38.1 60 37.1 63.8 44.9 58.5 52.2 52.2 58.5 44.9 63 38.4 63 -29.3 59.7 -38.2 50.8 -49.2 35.3 -58.8 -42.4 -58.8 -49.1 -55.1 -55.5 -48.7 -59.8 -43.3 -63.4 -35.9 -62.8 30.6 -57.9 43.9 -52.8 51.5 -50.4 53.9 -41.6 60.9 -35.7 63.9ZM-19.5 -58.7 -15 -57.7 -11.6 -55.5 -9 -52.6 -3 -43.7 1.5 -39.1 6 -36.3 16.5 -32 22.5 -28.8 28.5 -24.2 31.5 -20.5 32.5 -18 32.9 -15 31.9 -6 27 11.6 25.5 14.2 24 15.4 22.5 15.7 21 15.3 19.2 13.5 17.3 3 15.8 0 12 -5 3 -13.6 -1.5 -16.6 -4.7 -18 -21 -21.3 -27 -21 -33 -19 -39 -15.7 -46.5 -7.8 -49.5 -7.1 -51 -7.7 -52.1 -9 -53 -12 -52.9 -15 -50.5 -27 -48 -34.7 -44.1 -42 -39 -48.5 -33 -53.3 -25.5 -57.6Z" fill="#00d1fe"/><path d="M-29.4 63.9 -30.1 57 -29.6 54 -27.8 51 -25.5 49.1 -9 48.9 1.6 48 16.5 45.8 30 42.5 34.5 42 37.5 42.4 39.7 43.5 41.4 45 42.8 48 43.1 51 42.5 54 38.9 62.7 44.9 58.5 50.4 53.9 55.5 48.7 60 43 63 38.4 63 -29.3 59.7 -38.2 50.8 -49.2 35.3 -58.8 -10.5 -58.8 -3 -48.1 1.5 -43.3 6 -40.3 18 -34.9 24 -31.4 30 -26 33.4 -21 34.4 -18 34.9 -13.5 34.6 -7.5 33.5 -1.5 28.5 13.5 26.5 16.5 24 18.1 21 17.5 18.5 15 15 4.3 12.4 0 9 -4 0 -11.6 -7.5 -15.4 -19.5 -18.3 -27 -18.4 -33 -16.6 -37.5 -14.3 -40.5 -12 -45 -7.1 -48 -5.4 -51 -5 -52.5 -5.6 -54 -7.5 -55 -12 -54.5 -19.5 -52.3 -30 -49.5 -38.1 -46.4 -43.5 -42.8 -48 -37.5 -53.1 -30 -58.8 -42.4 -58.8 -49.1 -55.1 -55.5 -48.7 -59.8 -43.3 -63.4 -35.9 -62.8 30.6 -57.9 43.9 -52.2 52.2 -43 60 -35.7 63.9Z" fill="#00e0fb"/><path d="M-31.4 63.9 -32 57 -31.4 54 -29.5 51 -27 48.7 -25.5 48.1 6 45.3 33 40.5 37.5 40.8 40.5 42 42.6 43.5 44.5 46.5 45.1 49.5 44.7 54 41.4 61.1 52.2 52.2 60 43 63 38.4 63 -29.3 59.7 -38.2 50.8 -49.2 35.3 -58.8 -6 -58.8 -2.7 -52.5 1.5 -47.5 7.5 -43.5 19.5 -38 25.5 -34.3 31.5 -28.4 35.7 -21 36.9 -16.5 37.3 -9 36.8 -3 35.4 3 31.9 12 28.5 18.4 25.5 22 24 23.1 22.5 23.2 21 21.8 17.5 16.5 12 4.5 7.5 -1.1 3 -5.2 -2.3 -9 -11.9 -13.5 -21 -15.6 -25.5 -15.7 -30 -14.9 -37.5 -11.6 -43.9 -6 -49.5 -2.1 -52.5 -1.3 -54 -2 -55.5 -3.9 -56.8 -7.5 -57.4 -15 -56.2 -25.5 -53.6 -36 -51 -42 -48 -46.5 -43.8 -51 -35.1 -58.8 -42.4 -58.8 -49.1 -55.1 -55.5 -48.7 -59.8 -43.3 -63.4 -35.9 -62.8 30.6 -57.9 43.9 -52.2 52.2 -41.6 60.9 -35.7 63.9Z" fill="#00e4ab"/><path d="M-34.7 63.9 -35.1 55.5 -34.3 52.5 -33 50.5 -27 46.3 -18 44.3 3 42.2 30 37.9 37.5 37.8 43.5 39.9 46.2 42 47.2 43.5 49 51 47.9 56.2 53.9 50.4 58.5 44.9 63 38.4 63 -29.3 59.7 -38.2 50.8 -49.2 35.3 -58.8 -1.6 -58.8 0.7 -54 4.5 -50 9 -47.2 24 -40.1 31.3 -34.5 36.8 -27 40.1 -18 41 -12 41 -6 40.2 0 38.4 6 34.4 15 28.5 25.5 24 31.6 22.5 32.9 21 33.3 18.8 31.5 16 21 13.5 14.2 8.4 6 4.5 1.5 0 -2.5 -4.5 -5.6 -10.5 -8.8 -16.5 -10.9 -21 -11.8 -28.5 -11.4 -33 -10 -37.8 -7.5 -49.5 2.6 -51 3.2 -54 3.2 -57 1.4 -58.9 -1.5 -59.9 -4.5 -60.9 -12 -60.4 -22.5 -58 -34.5 -56.1 -40.5 -52.8 -46.5 -48 -52.1 -40.7 -58.8 -42.4 -58.8 -49.1 -55.1 -58.5 -44.9 -63.4 -35.9 -62.8 30.6 -57.9 43.9 -52.8 51.5 -46.8 57 -41.6 60.9 -35.7 63.9Z" fill="#00c800"/><path d="M3 -58.5 4.9 -55.5 8.3 -52.5 27 -42.3 31.8 -39 37.3 -33 40.7 -27 42.8 -21 43.8 -15 44.1 -9 43.1 1.5 40.5 11.5 32.3 30 32.7 31.5 42 34.5 45 36.3 48 38.9 49.5 41.1 50.1 43.5 50.8 49.5 50.6 53.7 57 46.8 63 38.4 63 -29.3 59.7 -38.2 50.8 -49.2 35.3 -58.8ZM-63.4 -30.1 -61.1 -39 -59 -44.4 -63.4 -35.9ZM-38.4 62.6 -38.3 55.5 -37.5 51.7 -34.5 45.7 -31.5 43.3 -27 41.7 -19.5 40.4 7.5 37.4 12.5 36 14.2 34.5 14.2 28.5 12 21 9.7 15 5.3 7.5 1.5 3.1 -3 -0.6 -9 -4.3 -13.5 -6.4 -22.5 -8.1 -25.5 -7.9 -30 -6.7 -36.4 -3 -45.2 6 -49.5 7.8 -54 7.2 -58.5 4.9 -61.5 1.5 -63.1 -1.6 -62.8 30.6 -57.9 43.9 -52.8 51.5 -48.7 55.5 -41.6 60.9Z" fill="#fff300"/><path d="M-40.5 61.5 -39.5 52.5 -36.5 37.5 -35.6 36 -33 35.7 -28.5 36.8 -24 37.2 -7.5 35.2 1.5 34.7 7.5 33.1 9.5 31.5 10.3 30 10.5 27 9.2 21 5.4 12 2.8 7.5 0.2 4.5 -3 1.9 -12 -3.6 -16.5 -4.9 -22.5 -5 -27 -4 -30 -2.5 -33.9 1.5 -37.5 11.9 -40.5 15.9 -42 16.8 -45 16.8 -48 15.5 -60 6.9 -63 3.9 -62.8 30.6 -57.9 43.9 -52.8 51.5 -50.4 53.9 -41.6 60.9ZM7.7 -58.8 12.9 -54 31.5 -42.2 34.5 -39.7 39 -34.5 43.5 -25.7 45.1 -19.5 45.7 -9 44.5 7.5 41.5 21 41.1 25.5 42.1 28.5 48 35.5 51 40.4 51.6 52.7 57 46.8 63 38.4 63 -29.3 59.7 -38.2 50.8 -49.2 35.3 -58.8Z" fill="#ffda00"/><path d="M-42.1 60.6 -40.2 43.5 -43.5 27 -45.6 24 -52.5 18.2 -57.1 12 -63 7.1 -62.8 30.6 -57.9 43.9 -52.2 52.2 -44.9 58.5ZM12.5 -58.8 23.1 -49.5 32.9 -43.5 36.4 -40.5 41.2 -34.5 45 -26.4 46.7 -19.5 47.1 -10.5 46.3 -1.5 46.6 9 45.4 24 46.4 28.5 51 36.9 52.3 40.5 52.3 52 58.5 44.9 63 38.4 63 -29.3 59.7 -38.2 50.8 -49.2 35.3 -58.8ZM-27.4 0 -29 1.5 -30.8 4.5 -34 18 -33.3 24 -31.7 27 -29.1 30 -27 31.6 -24 32.8 -18 33.2 1.5 31.1 4.5 30.1 6 28.8 7.2 25.5 6.5 21 2.5 10.5 0.8 7.5 -1.5 5.1 -10.5 -0.8 -15 -2.6 -18 -2.9 -22.5 -2.3Z" fill="#ffc300"/><path d="M16.7 -58.8 24.4 -51 33.8 -45 38.7 -40.5 42.9 -34.5 46.8 -25.5 48.1 -18 48.2 -9 47.5 -1.5 48.8 10.5 48.4 25.5 49.6 30 53.2 39 53.5 42 52.7 48 52.9 51.5 58.5 44.9 63 38.4 63 -29.3 59.7 -38.2 50.8 -49.2 35.3 -58.8ZM-24.4 1.5 -26.1 3 -28 6 -29.4 10.5 -30 15 -29.2 21 -27.9 24 -25.5 26.9 -21 29.2 -15 29.7 -1.5 28 1.5 27 3 25.7 3.8 22.5 1.6 13.5 -0.1 9 -2.7 6 -10.5 1.3 -15 -0.6 -19.5 -0.5ZM-43.4 59.7 -42.1 51 -42.1 45 -46.1 30 -48 26.7 -55.4 19.5 -58.8 13.5 -63 9.8 -62.8 30.6 -57.9 43.9 -52.2 52.2Z" fill="#ffad00"/><path d="M20.1 -58.8 27 -51.5 34.5 -46.6 39.5 -42 43.7 -36 48.3 -25.5 49.4 -18 48.7 -1.5 51.1 12 50.8 25.5 54.5 40.5 53.2 48 53.3 51 58.5 44.9 63 38.4 63 -29.3 59.7 -38.2 50.8 -49.2 35.3 -58.8ZM-24 5 -26.1 9 -26.9 15 -25.5 20.4 -22.5 24.1 -18 26.1 -13.5 26.4 -6 25.1 -3.1 24 -1.2 22.5 -0.3 19.5 -0.6 13.5 -1.5 10.1 -3.4 7.5 -10.5 3.4 -15 1.7 -19.5 2.1 -21.6 3ZM-44.5 58.9 -43.4 52.5 -43.5 46.5 -48.2 31.5 -50 28.5 -57 21.3 -60.4 15 -63 12.5 -62.8 30.6 -57.9 43.9 -52.8 51.5 -46.8 57Z" fill="#ff9a00"/><path d="M23.2 -58.8 27.5 -54 36 -47.6 41.4 -42 45.2 -36 50.1 -24 50.7 -19.5 50.2 -1.5 53.2 10.5 52.9 27 55.5 39 55.4 42 53.7 48 53.8 50.5 58.5 44.9 63 38.4 63 -29.3 59.7 -38.2 50.8 -49.2 35.3 -58.8ZM-20.8 6 -23 9 -23.9 13.5 -22.9 18 -21 20.6 -18 22.4 -13.5 23 -9 21.9 -5.5 19.5 -3.8 16.5 -3.3 13.5 -3.9 10.5 -5 9 -9 6.4 -13.5 4.5 -17.9 4.5ZM-45.6 58 -44.5 52.5 -44.7 48 -45.9 43.5 -49.5 34.2 -51.9 30 -58.7 22.5 -62.9 15.6 -62.8 30.6 -57.9 43.9 -52.8 51.5Z" fill="#ff8600"/><path d="M26.3 -58.8 30.8 -54 37.5 -48.5 42 -43.5 46.5 -36.1 51.6 -24 52.2 -19.5 51.8 -3 55.4 10.5 55.6 16.5 54.7 27 56.7 39 56.4 42 54.3 48 54.3 50 58.5 44.9 63 38.4 63 -29.3 59.7 -38.2 50.8 -49.2 35.3 -58.8ZM-19.5 9.6 -20.5 12 -20.2 15 -18.1 18 -16.5 18.8 -15 19.1 -12 18.7 -9 16.5 -7.9 15 -7.4 12 -8.1 10.5 -12 7.9 -16.5 7.5ZM-46.6 57 -45.8 52.5 -45.9 49.5 -48.2 42 -52.6 33 -60 24.3 -62.9 19.9 -62.8 30.6 -57.9 43.9 -52.8 51.5Z" fill="#ff7300"/><path d="M29.3 -58.8 39 -49.3 43.5 -43.8 46.5 -38.7 51.4 -28.5 53.5 -22.5 53.9 -3 57.2 7.5 57.9 13.5 56.4 28.5 57.9 37.5 57.9 40.5 55.5 46.5 54.9 49.3 63 38.4 63 -29.3 59.7 -38.2 50.8 -49.2 35.3 -58.8ZM-47.8 56.2 -47.1 52.5 -47.3 49.5 -51 40 -55.2 33 -62.8 24 -62.8 30.6 -57.9 43.9 -52.8 51.5Z" fill="#ff5800"/><path d="M32.3 -58.8 40.5 -50.1 45 -44 53.5 -27 55.6 -21 56.8 -3 59.7 7.5 60.2 13.5 58.1 28.5 59.3 37.5 59.3 40.5 58.3 43.5 55.7 48.4 63 38.4 63 -29.3 59.7 -38.2 50.8 -49.2 35.3 -58.8ZM-49 55.1 -48.7 51 -49.4 48 -52.5 41.1 -56.7 34.5 -62.8 27.6 -62.8 30.6 -57.9 43.9 -52.8 51.5Z" fill="#ff3e00"/><path d="M35.2 -58.8 42 -50.9 46.5 -44.2 61.4 -13.5 60.6 -3 62.6 12 62.1 18 59.9 28.5 60.9 37.5 60.5 42.2 63 38.4 63 -29.3 59.7 -38.2 50.8 -49.2ZM-50.5 53.8 -51.3 48 -54 42.3 -57.1 37.5 -62.6 31.1 -57.9 43.9 -52.8 51.5Z" fill="#ff2200"/><path d="M40.5 -55.6 46.5 -47 52.5 -34.4 63 -17.5 63 -29.3 59.7 -38.2 50.8 -49.2ZM63 24 61.9 30 62.8 38.7 63 38.4ZM-52.6 51.8 -55.5 43.7 -60.5 36.8 -57.9 43.9Z" fill="#ec110f"/><path d="M44.5 -53.1 48.5 -46.5 54 -34.5 63 -21.5 63 -29.3 59.7 -38.2 50.8 -49.2Z" fill="#d70d24"/><path d="M47.8 -51 54.8 -36 63 -24.9 63 -29.3 59.7 -38.2 50.8 -49.2Z" fill="#c1173e"/><path d="M50.5 -49.5 55.7 -37.5 63 -28 63 -29.3 59.7 -38.2Z" fill="#a93a62"/><path d="M54.2 -45 57 -38.6 62 -32 59.7 -38.2Z" fill="#944b7a"/></g><g transform="translate(99.5,75.5)"><circle r="74.4" fill="none" stroke="#0c0c0c" stroke-width="0.8"/><path d="M73.6 -6.4L72.4 -6.3M72.8 -12.8L71.6 -12.6M69.4 -25.3L68.3 -24.9M67.0 -31.2L65.9 -30.7M60.5 -42.4L59.6 -41.7M56.6 -47.5L55.7 -46.7M47.5 -56.6L46.7 -55.7M42.4 -60.5L41.7 -59.6M31.2 -67.0L30.7 -65.9M25.3 -69.4L24.9 -68.3M12.8 -72.8L12.6 -71.6M6.4 -73.6L6.3 -72.4M-6.4 -73.6L-6.3 -72.4M-12.8 -72.8L-12.6 -71.6M-25.3 -69.4L-24.9 -68.3M-31.2 -67.0L-30.7 -65.9M-42.4 -60.5L-41.7 -59.6M-47.5 -56.6L-46.7 -55.7M-56.6 -47.5L-55.7 -46.7M-60.5 -42.4L-59.6 -41.7M-67.0 -31.2L-65.9 -30.7M-69.4 -25.3L-68.3 -24.9M-72.8 -12.8L-71.6 -12.6M-73.6 -6.4L-72.4 -6.3M-73.6 6.4L-72.4 6.3M-72.8 12.8L-71.6 12.6M-69.4 25.3L-68.3 24.9M-67.0 31.2L-65.9 30.7M-60.5 42.4L-59.6 41.7M-56.6 47.5L-55.7 46.7M-47.5 56.6L-46.7 55.7M-42.4 60.5L-41.7 59.6M-31.2 67.0L-30.7 65.9M-25.3 69.4L-24.9 68.3M-12.8 72.8L-12.6 71.6M-6.4 73.6L-6.3 72.4M6.4 73.6L6.3 72.4M12.8 72.8L12.6 71.6M25.3 69.4L24.9 68.3M31.2 67.0L30.7 65.9M42.4 60.5L41.7 59.6M47.5 56.6L46.7 55.7M56.6 47.5L55.7 46.7M60.5 42.4L59.6 41.7M67.0 31.2L65.9 30.7M69.4 25.3L68.3 24.9M72.8 12.8L71.6 12.6M73.6 6.4L72.4 6.3" stroke="#e0e0e0" stroke-width="0.9"/><path d="M73.9 -0.0L71.6 -0.0M71.4 -19.1L69.2 -18.5M64.0 -36.9L62.0 -35.8M52.3 -52.3L50.6 -50.6M37.0 -64.0L35.8 -62.0M19.1 -71.4L18.5 -69.2M0.0 -73.9L0.0 -71.6M-19.1 -71.4L-18.5 -69.2M-36.9 -64.0L-35.8 -62.0M-52.3 -52.3L-50.6 -50.6M-64.0 -36.9L-62.0 -35.8M-71.4 -19.1L-69.2 -18.5M-73.9 -0.0L-71.6 -0.0M-71.4 19.1L-69.2 18.5M-64.0 37.0L-62.0 35.8M-52.3 52.3L-50.6 50.6M-37.0 64.0L-35.8 62.0M-19.1 71.4L-18.5 69.2M-0.0 73.9L-0.0 71.6M19.1 71.4L18.5 69.2M37.0 64.0L35.8 62.0M52.3 52.3L50.6 50.6M64.0 37.0L62.0 35.8M71.4 19.1L69.2 18.5" stroke="#f0f0f0" stroke-width="0.7"/><text x="69.0" y="1.0" font-size="3.0" fill="#f4f4f4" text-anchor="middle" font-weight="bold" >0</text><text x="66.6" y="-16.9" font-size="3.0" fill="#f4f4f4" text-anchor="middle" font-weight="bold" >15</text><text x="59.8" y="-33.5" font-size="3.0" fill="#f4f4f4" text-anchor="middle" font-weight="bold" >30</text><text x="48.8" y="-47.8" font-size="3.0" fill="#f4f4f4" text-anchor="middle" font-weight="bold" >45</text><text x="34.5" y="-58.8" font-size="3.0" fill="#f4f4f4" text-anchor="middle" font-weight="bold" >60</text><text x="17.9" y="-65.6" font-size="3.0" fill="#f4f4f4" text-anchor="middle" font-weight="bold" >75</text><text x="0.0" y="-68.0" font-size="3.0" fill="#f4f4f4" text-anchor="middle" font-weight="bold" >90</text><text x="-17.9" y="-65.6" font-size="3.0" fill="#f4f4f4" text-anchor="middle" font-weight="bold" >105</text><text x="-34.5" y="-58.8" font-size="3.0" fill="#f4f4f4" text-anchor="middle" font-weight="bold" >120</text><text x="-48.8" y="-47.8" font-size="3.0" fill="#f4f4f4" text-anchor="middle" font-weight="bold" >135</text><text x="-59.8" y="-33.5" font-size="3.0" fill="#f4f4f4" text-anchor="middle" font-weight="bold" >150</text><text x="-66.6" y="-16.9" font-size="3.0" fill="#f4f4f4" text-anchor="middle" font-weight="bold" >165</text><text x="-69.0" y="1.0" font-size="3.0" fill="#f4f4f4" text-anchor="middle" font-weight="bold" >180</text><text x="-66.6" y="18.9" font-size="3.0" fill="#f4f4f4" text-anchor="middle" font-weight="bold" >195</text><text x="-59.8" y="35.5" font-size="3.0" fill="#f4f4f4" text-anchor="middle" font-weight="bold" >210</text><text x="-48.8" y="49.8" font-size="3.0" fill="#f4f4f4" text-anchor="middle" font-weight="bold" >225</text><text x="-34.5" y="60.8" font-size="3.0" fill="#f4f4f4" text-anchor="middle" font-weight="bold" >240</text><text x="-17.9" y="67.6" font-size="3.0" fill="#f4f4f4" text-anchor="middle" font-weight="bold" >255</text><text x="-0.0" y="70.0" font-size="3.0" fill="#f4f4f4" text-anchor="middle" font-weight="bold" >270</text><text x="17.9" y="67.6" font-size="3.0" fill="#f4f4f4" text-anchor="middle" font-weight="bold" >285</text><text x="34.5" y="60.8" font-size="3.0" fill="#f4f4f4" text-anchor="middle" font-weight="bold" >300</text><text x="48.8" y="49.8" font-size="3.0" fill="#f4f4f4" text-anchor="middle" font-weight="bold" >315</text><text x="59.8" y="35.5" font-size="3.0" fill="#f4f4f4" text-anchor="middle" font-weight="bold" >330</text><text x="66.6" y="18.9" font-size="3.0" fill="#f4f4f4" text-anchor="middle" font-weight="bold" >345</text></g><g transform="translate(99.5,75.5)" fill="none"><circle r="19.9" stroke="#111" stroke-width="0.55"/><circle r="33.2" stroke="#111" stroke-width="0.55"/><circle r="46.5" stroke="#111" stroke-width="0.55"/><circle r="59.8" stroke="#111" stroke-width="0.55"/><path d="M-1.3 -13.3h2.6M-1.3 13.3h2.6M-13.3 -0.9v1.8M13.3 -0.9v1.8M-1.3 -26.6h2.6M-1.3 26.6h2.6M-26.6 -0.9v1.8M26.6 -0.9v1.8M-1.3 -39.900000000000006h2.6M-1.3 39.900000000000006h2.6M-39.900000000000006 -0.9v1.8M39.900000000000006 -0.9v1.8M-1.3 -53.2h2.6M-1.3 53.2h2.6M-53.2 -0.9v1.8M53.2 -0.9v1.8" stroke="#222" stroke-width="0.55"/><circle cx="-0.7" cy="-5.3" r="35" stroke="#ffffff" stroke-width="0.6" stroke-dasharray="0.9 0.45" opacity="0.9"/></g><g transform="translate(99.5,75.5)"><circle cx="0" cy="-0.4" r="0.9" fill="#3a4ad0" stroke="#ddd" stroke-width="0.3"/><rect x="-2.9" y="-7.6000000000000005" width="1.8" height="1.8" fill="#f060c0" stroke="#fff" stroke-width="0.3"/><circle cx="-2" cy="6.9" r="1" fill="#ff5000" stroke="#802000" stroke-width="0.3"/></g><g transform="translate(353.5,75.5)"><path d="M-55.7 19.5 -49 39.5 -40.2 52.8 -29.1 61.2 30.8 61.2 37.5 59.4 40.8 47.9 48.6 39.5 54.8 19.5 55.7 -7.1 50.8 -29.3 39.7 -43.7 26.4 -47 24.2 -54.1 -32.4 -54.1 -35.7 -52.6 -37.9 -44.4 -49 -42.1 -54.6 -31.5 -56.8 -13.8Z" fill="#2f2bd6"/><path d="M-49 39.5 -40.2 52.8 -29.1 61.2 30.8 61.2 37.5 59.4 40.8 47.9 48.6 39.5 54.8 19.5 55.7 -7.1 50.8 -29.3 39.7 -43.7 26.4 -47 24.2 -54.1 -32.4 -54.1 -35.7 -52.6 -37.9 -44.4 -49 -42.1 -54.6 -31.5 -56.8 -13.8 -55.7 19.5ZM-24 -33.5 -20.9 -33 -20.2 -31.5 -20.8 -30 -22.5 -28.5 -25.5 -27.1 -29.6 -27 -29.6 -28.5 -27.6 -31.5 -25.7 -33Z" fill="#1230ef"/><path d="M-49 39.5 -40.2 52.8 -29.1 61.2 30.8 61.2 37.5 59.4 40.8 47.9 48.6 39.5 54.8 19.5 55.7 -7.1 50.8 -29.3 39.7 -43.7 26.4 -47 24.2 -54.1 -32.4 -54.1 -35.7 -52.6 -37.9 -44.4 -49 -42.1 -54.6 -31.5 -56.8 -13.8 -55.7 19.5ZM-24 -35.3 -21 -35.5 -18 -34.8 -16.4 -33 -16.7 -31.5 -19.3 -28.5 -24 -25.8 -31.5 -23 -33 -22.7 -34.5 -23.4 -34.7 -25.5 -31.4 -30 -28.4 -33Z" fill="#054cfb"/><path d="M-49 39.5 -40.2 52.8 -29.1 61.2 30.8 61.2 37.5 59.4 40.8 47.9 48.6 39.5 54.8 19.5 55.7 -7.1 50.8 -29.3 39.7 -43.7 26.4 -47 24.2 -54.1 -32.4 -54.1 -35.7 -52.6 -37.9 -44.4 -49 -42.1 -54.6 -31.5 -56.8 -13.8 -55.7 19.5ZM-24 -36.7 -19.5 -37.3 -15 -36.3 -12.9 -34.5 -12.7 -33 -13.3 -31.5 -16.5 -28.5 -21.5 -25.5 -33 -20.5 -36 -20.7 -36.9 -22.5 -36.9 -24 -36 -26.7 -34.7 -28.5 -28.5 -34.5Z" fill="#0065ff"/><path d="M-49 39.5 -40.2 52.8 -29.1 61.2 30.8 61.2 37.5 59.4 40.8 47.9 48.6 39.5 54.8 19.5 55.7 -7.1 50.8 -29.3 39.7 -43.7 26.4 -47 24.2 -54.1 -32.4 -54.1 -35.7 -52.6 -37.9 -44.4 -49 -42.1 -54.6 -31.5 -56.8 -13.8 -55.7 19.5ZM-22.5 -38.4 -16.5 -38.8 -12 -37.5 -9.4 -34.5 -9.2 -33 -9.7 -31.5 -11.1 -30 -15.9 -27 -31.5 -19.3 -36 -17.8 -37.5 -18.2 -38.5 -21 -38.3 -24 -36.2 -28.5 -32 -33 -28.5 -35.9ZM12 41.1 15 40.8 16.9 42 16.7 43.5 15.7 45 13.5 46.5 10.5 47 6 46.8 4.5 46.4 3.4 45 5.5 43.5ZM28.5 29.7 30.4 30 30 31.6 28.5 32.3 27.4 31.5Z" fill="#0079ff"/><path d="M-49 39.5 -40.2 52.8 -29.1 61.2 30.8 61.2 37.5 59.4 40.8 47.9 48.6 39.5 54.8 19.5 55.7 -7.1 50.8 -29.3 39.7 -43.7 26.4 -47 24.2 -54.1 -32.4 -54.1 -35.7 -52.6 -37.9 -44.4 -49 -42.1 -54.6 -31.5 -56.8 -13.8 -55.7 19.5ZM-22.5 -39.7 -16.5 -40.4 -10.5 -39 -6.8 -36 -5.6 -33 -5.8 -31.5 -6.9 -30 -9.2 -28.5 -25.5 -21.1 -36 -15.3 -39 -14.4 -40.1 -16.5 -40.1 -21 -39.1 -25.5 -37.5 -28.5 -34.5 -32.1 -30 -36.1 -27 -38ZM30 24.5 33 26.1 34.5 28.2 34.9 30 34.5 31.7 31.5 34.9 24 39.1 17.1 46.5 13.5 48.3 9 48.9 3 48.3 0.4 46.5 -0.1 45 0.7 43.5 3 42.2 19.5 36.9 21.8 34.5 25.5 27.6 28.5 24.9Z" fill="#008eff"/><path d="M-49 39.5 -40.2 52.8 -29.1 61.2 30.8 61.2 37.5 59.4 40.8 47.9 48.6 39.5 54.8 19.5 55.7 -7.1 50.8 -29.3 39.7 -43.7 26.4 -47 24.2 -54.1 -32.4 -54.1 -35.7 -52.6 -37.9 -44.4 -49 -42.1 -54.6 -31.5 -56.8 -13.8 -55.7 19.5ZM-21 -41.3 -13.5 -41.7 -10.5 -41.1 -7.5 -39.7 -4.9 -37.5 -2.9 -34.5 -2.2 -31.5 -2.5 -30 -4.5 -28.2 -16.5 -23.9 -25.5 -19.9 -31.3 -16.5 -37.5 -11.9 -40.5 -10.9 -42 -12.7 -42.1 -16.5 -40.7 -24 -38.7 -28.5 -35 -33 -30 -37.4 -25.5 -39.9ZM28.5 0.6 31.5 4.4 32.7 7.5 32.1 12 30 14.8 28.5 14 27.5 12 26.3 7.5 27 0.3ZM30 19.5 33 22.2 36.7 28.5 37 30 36 33 33 36.2 19.5 46.8 13.5 49.8 9 50.4 4.5 50.1 1.5 49.2 -2 46.5 -2.8 45 -2.4 43.5 -0.6 42 13.5 37.1 18.3 34.5 20.8 31.5 27 21.9 28.5 20.2Z" fill="#00a0ff"/><path d="M-49 39.5 -40.2 52.8 -29.1 61.2 30.8 61.2 37.5 59.4 40.8 47.9 48.6 39.5 54.8 19.5 55.7 -7.1 50.8 -29.3 39.7 -43.7 26.4 -47 24.2 -54.1 -32.4 -54.1 -35.7 -52.6 -37.9 -44.4 -49 -42.1 -54.6 -31.5 -56.8 -13.8 -55.7 19.5ZM-21 -42.6 -16.5 -43.3 -12 -43.2 -7.6 -42 -5 -40.5 -2 -37.5 -0.2 -34.5 0.7 -31.5 0.3 -28.5 -1.2 -27 -3 -26.2 -16.5 -22.6 -26.8 -18 -33.2 -13.5 -40 -7.5 -43.5 -2.8 -45 -2.4 -45.3 -4.5 -44.1 -7.5 -43.3 -18 -41.8 -24 -39.8 -28.5 -36.4 -33 -31.5 -37.6 -27 -40.4ZM16.5 -21.8 22.5 -16.5 24.9 -13.5 30 -4.4 33 2.6 34.6 9 34 18 37.8 27 38.3 31.5 36.8 34.5 34.5 37 20.6 48 13.5 51.2 6 51.6 0 49.9 -6 45.7 -13.5 44.9 -15 43.5 -15.1 42 -13.5 40.9 -12 40.7 -7.5 41.8 -4.5 41.6 12.5 36 18 32.3 23.3 24 25.2 19.5 25.5 15 22 -4.5 20.8 -7.5 16.5 -13.8 14.2 -19.5 14.3 -21 15 -21.7Z" fill="#00b0ff"/><path d="M-49 39.5 -40.2 52.8 -29.1 61.2 30.8 61.2 37.5 59.4 40.8 47.9 48.6 39.5 54.8 19.5 55.7 -7.1 50.8 -29.3 39.7 -43.7 26.4 -47 24.2 -54.1 -32.4 -54.1 -35.7 -52.6 -37.9 -44.4 -49 -42.1 -54.6 -31.5 -56.8 -13.8 -55.7 19.5ZM-21 -44 -15 -44.9 -10.5 -44.7 -6.1 -43.5 -3.4 -42 -0.4 -39 2.3 -34.5 3.7 -30 3.6 -27 1.5 -25.1 -13.5 -22.3 -24.6 -18 -29.3 -15 -34.5 -10.5 -38.4 -6 -42.3 0 -43.5 0.9 -45 1.1 -46.5 0.3 -47.5 -1.5 -47.5 -4.5 -46.1 -9 -43.9 -21 -41 -28.5 -37.5 -33.4 -31.5 -39 -27 -41.7ZM11.8 -24 16.5 -24.5 18 -23.5 26.7 -15 30.4 -9 35.4 4.5 36.1 9 36.2 18 39.2 27 39.7 30 39 33.3 36.1 37.5 24 47.6 16.5 51.7 12 52.8 7.5 53 1.5 51.8 -7.5 47.5 -13.5 46.3 -15.8 45 -17.4 42 -17 40.5 -15 39.3 -12 39 -4.5 39.6 4.5 37.6 10.5 35.5 16.6 31.5 21.4 24 23.1 19.5 23.5 16.5 21.4 1.5 18.9 -6 11.5 -18 10.2 -21 10.5 -22.9Z" fill="#00c0ff"/><path d="M-49 39.5 -40.2 52.8 -29.1 61.2 30.8 61.2 37.5 59.4 40.8 47.9 48.6 39.5 54.8 19.5 55.7 -7.1 50.8 -29.3 39.7 -43.7 26.4 -47 24.2 -54.1 -32.4 -54.1 -35.7 -52.6 -37.9 -44.4 -49 -42.1 -54.6 -31.5 -56.8 -13.8 -55.7 19.5ZM-13.5 -46.6 -6 -45.7 -1.5 -43.4 2.3 -39 8 -28.5 10.5 -26.9 16.5 -26 18 -25.3 28.1 -16.5 32 -10.5 34.9 -3 37.2 6 38.1 18 40.8 28.5 40.5 33 38 37.5 31.5 44.1 24 49.7 16.5 53.2 9 54.4 1.5 53.1 -7.5 49.1 -15 47 -19 43.5 -20.6 40.5 -20 39 -16.5 37.8 -3 37.8 4.5 36.3 9 34.8 15 31 17.1 28.5 19.6 24 21.2 19.5 21.7 15 21 8.5 19.6 1.5 17.5 -4.5 15.3 -9 7.5 -19.3 4.5 -21.2 -1.5 -22.2 -10.5 -21.4 -18 -19.6 -24.9 -16.5 -31 -12 -35.2 -7.5 -40.5 1.1 -43.5 4.4 -45 4.4 -46.5 3.5 -48.7 0 -48.9 -4.5 -45.6 -19.5 -43 -27 -39.3 -33 -33 -39.3 -27 -43.2 -21 -45.5ZM-43.5 10 -43 12 -43.5 12.8 -44.8 12ZM-28.5 35.2 -25.6 36 -24.5 37.5 -25.5 38.6 -27 38.7 -29.3 37.5 -29.5 36Z" fill="#00d1fe"/><path d="M-49 39.5 -40.2 52.8 -29.1 61.2 30.8 61.2 37.5 59.4 40.8 47.9 48.6 39.5 54.8 19.5 55.7 -7.1 50.8 -29.3 39.7 -43.7 26.4 -47 24.2 -54.1 -32.4 -54.1 -35.7 -52.6 -37.9 -44.4 -49 -42.1 -54.6 -31.5 -56.8 -13.8 -55.7 19.5ZM-15 -48.4 -10.5 -48.6 -6 -48.1 -3 -47.2 0 -45.5 3.1 -42 10.4 -30 12.5 -28.5 18 -26.7 30 -17.5 33.7 -12 36.5 -4.5 38.5 4.5 39.9 18 42.1 28.5 42.2 31.5 41.4 34.5 40 37.5 37.5 40.6 30 47.8 24 51.8 16.5 54.8 10.5 55.9 6 55.7 1.5 54.5 -7.5 50.7 -15 48.3 -22.5 42.9 -30 39.1 -31.5 36 -31.3 34.5 -30 33.3 -28.5 33.1 -19.5 35.8 -6 36.5 -0.8 36 4.5 34.9 9 33.3 12 31.5 15.1 28.5 17.8 24 19.5 18.7 19.9 13.5 19.2 7.5 17.7 1.5 15 -6 13.5 -8.7 7.5 -16.4 6 -17.5 0 -19.7 -6 -20.2 -16.5 -18.7 -24.9 -15 -30.6 -10.5 -36 -3.5 -40.5 6 -41.4 13.5 -42 14.6 -43.1 15 -45 14.6 -46.1 13.5 -46.8 7.5 -50 1.5 -50.2 -4.5 -47.5 -18 -44.4 -27 -40.9 -33 -34.5 -39.9 -28.5 -44 -22.5 -46.7Z" fill="#00e0fb"/><path d="M-12 -17.9 -18 -16.5 -24 -13.7 -28.2 -10.5 -32.1 -6 -35 -1.5 -38.1 6 -39.9 16.5 -39.8 21 -37 25.5 -33 29.1 -30 30.7 -22.5 32.8 -15 34.3 -6 34.7 5.2 33 8.8 31.5 12 29.2 15 25.5 16.5 22.4 17.6 18 18 13.5 17.3 7.5 15.7 1.5 12.1 -7.5 9 -10.5 7.8 -13.5 6 -15.4 1.5 -16.1 -3 -18.2ZM-49 39.5 -40.2 52.8 -29.1 61.2 30.8 61.2 37.5 59.4 40.8 47.9 48.6 39.5 54.8 19.5 55.7 -7.1 50.8 -29.3 39.7 -43.7 26.4 -47 24.2 -54.1 -32.4 -54.1 -35.7 -52.6 -37.9 -44.4 -49 -42.1 -54.6 -31.5 -56.8 -13.8 -55.7 19.5ZM-8.4 -51 -3 -50.2 1.6 -48 4.5 -44.8 12.4 -31.5 14.1 -30 18 -28.3 22.5 -25 28.5 -21.9 31.5 -19.5 34 -16.5 36.4 -12 39.5 -1.5 44 30 42 38.6 36 45.8 28.5 51.9 22.5 54.9 13.5 57.5 7.5 57.9 1.5 56.4 -16.5 49.2 -30.6 40.5 -32.1 39 -43 18 -46.9 15 -47.8 13.5 -48.6 9 -52 3 -51.9 -4.5 -49 -19.5 -45.5 -28.5 -40.8 -36 -35 -42 -27 -47.1 -18 -50.2Z" fill="#00e4ab"/><path d="M-5.5 -54.1 1.5 -52.2 5.4 -49.5 15.6 -33 22.5 -28.3 29 -25.5 33 -23 36 -19.7 39 -15 42.3 -4.5 45.5 19.5 46.5 24 47 30 45.8 36 45.7 40.5 42 41.9 40.5 43.2 38.9 48 28.8 55.5 19.5 59.2 13.5 60.6 9 61.1 1.5 59.5 -21 50.3 -27 47 -33 41.9 -39 33.9 -45 24.1 -46.5 19.5 -49.5 15.8 -51.2 10.5 -54.5 6 -55.3 3 -53.5 -13.5 -49.5 -27.5 -46.1 -33 -45 -37.5 -40.5 -39 -39 -40.5 -38.5 -44.3 -49 -42.1 -54.6 -31.5 -56.8 -13.8 -55.7 19.5 -49 39.5 -40.2 52.8 -29.1 61.2 30.8 61.2 37.5 59.4 40.8 47.9 48.6 39.5 54.8 19.5 55.7 -7.1 50.8 -29.3 39.7 -43.7 26.4 -47 24.2 -54.1ZM-37.5 -45.7 -33.2 -46.5 -28.5 -49.8 -22.5 -52.2 -13.5 -54.1 -32.4 -54.1 -35.7 -52.6ZM-18 -14.1 -22.5 -12 -27 -8.6 -30 -5 -34 1.5 -36 7.5 -37.3 13.5 -37.1 18 -35.4 22.5 -33 25.6 -28.5 28.7 -15 32.4 -10.5 31.9 -3 32.3 3 31.3 7.5 29.6 10.9 27 13.2 24 15.2 18 15.6 13.5 14.5 6 11.2 -4.5 10.4 -6 7.3 -9 6.1 -13.5 4.5 -14.5 0 -14.2 -4.5 -16 -13.5 -15.3Z" fill="#00c800"/><path d="M4.7 -54 7.5 -51.4 16.8 -36 21 -32.4 33.5 -25.5 36 -23.1 42 -14.3 43.5 -10.2 45 -3.2 46.7 7.5 47.4 19.5 49.6 28.5 49.7 33 49.1 38 54.8 19.5 55.7 -7.1 50.8 -29.3 39.7 -43.7 26.4 -47 24.2 -54.1ZM45 43.1 42.5 43.5 41.6 45 41.8 46.8ZM39.6 52.3 31.5 58.2 24.8 61.2 30.8 61.2 37.5 59.4ZM-3 61.2 -16.5 54.7 -25.6 51 -30 48 -35.1 43.5 -40.5 36.4 -46.5 26.2 -48.4 21 -56 9.1 -55.7 19.5 -49 39.5 -40.2 52.8 -29.1 61.2ZM-56.7 -14.5 -53.9 -24 -51 -30 -48.8 -33 -46.5 -38.7 -45 -39.7 -41.4 -40.5 -40.1 -42 -40 -43.9 -49 -42.1 -54.6 -31.5ZM-36.8 -48.4 -31.5 -52 -27.3 -54.1 -32.4 -54.1 -35.7 -52.6ZM-13.5 -13.3 -19.5 -11.2 -24 -8.4 -28.5 -3.7 -32 1.5 -35.2 13.5 -35 18 -33.8 21 -31.5 24.1 -28.5 26.2 -24 28 -18 29.3 -15 30.7 -10.5 30 -3 30.2 3 29.2 6 28.1 9.6 25.5 11.9 22.5 13 19.5 13.6 13.5 12.8 6 8.9 -4.5 6 -7.7 5.6 -12 4.5 -13.3 3 -13.5 0 -12.6 -4.5 -14.2Z" fill="#fff300"/><path d="M7.5 -54.1 14.4 -42 18 -36.9 24 -32.1 34.5 -26.1 41.2 -18 43.1 -15 45.2 -9 48.1 7.5 48.4 19.5 51.4 30.5 54.8 19.5 55.7 -7.1 50.8 -29.3 39.7 -43.7 26.4 -47 24.2 -54.1ZM37.5 58.9 36.1 59.8 37.5 59.4ZM-7.5 61.2 -16.5 55.9 -25.8 52.5 -30 49.7 -37.2 43.5 -40.5 39.4 -46.6 28.5 -49.7 21 -55.9 12.4 -55.7 19.5 -49 39.5 -40.2 52.8 -29.1 61.2ZM-55.2 -25.5 -50.2 -33 -47.7 -39 -46.1 -40.5 -42 -41.5 -41 -43.8 -49 -42.1 -54.6 -31.5ZM-36 -51.6 -34.5 -52.9 -33.7 -53.5 -35.7 -52.6ZM-15 -11.5 -19.5 -9.5 -24 -6.4 -27.4 -3 -30.8 1.5 -33.6 13.5 -33.6 16.5 -32.7 19.5 -30.5 22.5 -27 25 -18 27.8 -15 29.3 -3 28.9 3 27.8 6 26.6 9.5 24 11.4 21 12.4 16.5 12.6 12 11.3 4.5 8.1 -3 4.7 -7.5 4.5 -11.7 3 -12.4 0 -11.4 -3 -12.6 -6 -13.1Z" fill="#ffda00"/><path d="M9.2 -54 11.9 -48 19 -37.5 24.4 -33 34.5 -27.3 42.3 -18 44.2 -15 45.8 -10.5 49 7.5 49.1 19.5 52.1 28.3 54.8 19.5 55.7 -7.1 50.8 -29.3 39.7 -43.7 26.4 -47 24.2 -54.1ZM-10 61.2 -18 56.1 -24 54.4 -27.8 52.5 -38.9 43.5 -41.2 40.5 -48 28 -50.5 21 -55.8 14.6 -55.7 19.5 -49 39.5 -40.2 52.8 -29.1 61.2ZM-54.8 -28.5 -50.4 -34.5 -48 -40.2 -46.5 -41.3 -43.3 -42 -41.8 -43.6 -49 -42.1 -54.6 -31.5ZM-10.5 -11.7 -15 -10.3 -19.5 -8.2 -24 -4.9 -28.8 0 -30.5 3 -32.1 10.5 -32.5 15 -31.8 18 -30 21 -27 23.4 -15 28.1 -4.5 28.2 4.5 26.1 9 23.3 11.1 19.5 11.8 10.5 10.4 4.5 6.9 -3 3.7 -7.5 3 -10.9 0 -10.4 -3 -11.7 -6 -12.2Z" fill="#ffc300"/><path d="M10.5 -54 12.9 -48 18.8 -39 25.5 -33.3 34.5 -28.2 43.2 -18 45.1 -15 46.7 -10.5 47.8 -1.5 49.9 7.5 49.8 19.5 52.5 26.9 54.8 19.5 55.7 -7.1 50.8 -29.3 39.7 -43.7 26.4 -47 24.2 -54.1ZM-12 61 -18 56.9 -27.1 54 -40.4 43.5 -42 41.3 -45.1 34.5 -48.7 28.5 -51.4 21 -55.8 16.1 -55.7 19.5 -49 39.5 -40.2 52.8 -29.1 61.2ZM-54.7 -30.1 -51.3 -34.5 -48.9 -40.5 -46.5 -42.3 -43.1 -43.3 -49 -42.1 -54.6 -31.5ZM-15 -9.4 -22.5 -4.9 -29 1.5 -30 4.5 -31.4 13.5 -31.1 16.5 -30 18.9 -28.2 21 -25.5 22.8 -13.5 27.4 -3 27.1 3 25.7 7.5 23.6 9 22.2 10.3 19.5 11.2 10.5 9.8 4.5 6 -3 1.5 -9 -4.5 -11.4 -9 -11.3Z" fill="#ffad00"/><path d="M-13.2 61.2 -18 57.6 -25.5 55.7 -28.5 54.1 -41.7 43.5 -43.5 40.6 -46 34.5 -49.5 28.5 -52.1 21 -55.8 17.3 -55.7 19.5 -49 39.5 -40.2 52.8 -29.1 61.2ZM-54.5 -31.7 -52.2 -34.5 -50.8 -38.7ZM11.6 -54 13.8 -48 19.5 -39.5 25.5 -34.2 35.2 -28.5 44 -18 46 -15 47.4 -10.5 48.4 -1.5 50.6 7.5 50.3 19.5 52.8 25.8 54.8 19.5 55.7 -7.1 50.8 -29.3 39.7 -43.7 26.4 -47 24.2 -54.1ZM-12 -9.8 -16.5 -7.7 -21 -4.9 -28.1 1.5 -29.2 4.5 -30.4 12 -30.4 15 -29.3 18 -27 20.5 -24 22.4 -13.5 26.5 -4.5 26.7 1.5 25.4 6 23.6 9 21.1 9.7 19.5 10.5 12 9.8 6 6.9 0 1.5 -7.5 -3 -10.3 -6 -11Z" fill="#ff9a00"/><path d="M-14.4 61.2 -18 58.4 -25.5 56.5 -28.5 55.1 -35.1 49.5 -42 44.6 -43.9 42 -46.5 35.2 -50.3 28.5 -52.1 22.5 -55.7 18.4 -49 39.5 -40.2 52.8 -29.1 61.2ZM12.7 -54 14.7 -48 19.5 -40.7 26.2 -34.5 36 -28.7 46.8 -15 48.2 -10.5 49 -1.5 51.3 7.5 50.8 19.5 53.1 24.9 54.8 19.5 55.7 -7.1 50.8 -29.3 39.7 -43.7 26.4 -47 24.2 -54.1ZM-15.3 -7.5 -24 -1.5 -27 1.2 -28.1 3 -29.5 13.5 -28.9 16.5 -28 18 -25.5 20.3 -22.5 22 -15 25.2 -12 25.9 -6 26.2 -3 25.7 3 24.1 7.5 21.8 9 19.5 9.3 18 10 9 8.6 4.5 4.3 -3 0.4 -7.5 -4.5 -10.2 -9 -10.1Z" fill="#ff8600"/><path d="M-15.5 61.2 -19.5 58.6 -25.5 57.3 -28.5 56 -36 49.7 -42.9 45 -44.9 42 -47 36 -51 28.8 -52.9 22.5 -55.7 19.4 -49 39.5 -40.2 52.8 -29.1 61.2ZM13.8 -54 14.9 -49.5 19.5 -41.8 27.4 -34.5 36 -29.7 40.5 -23.3 45.7 -18 47.5 -15 48.9 -10.5 49.6 -1.5 52 7.5 51.3 19.5 53.4 24.1 54.8 19.5 55.7 -7.1 50.8 -29.3 39.7 -43.7 26.4 -47 24.2 -54.1ZM-13.8 -7.5 -21 -2.8 -27 2.6 -27.7 4.5 -28.5 12 -27.7 16.5 -25.5 19 -22.5 21 -15 24.4 -12 25.2 -4.5 25.4 1.5 23.8 6 22 7.5 20.8 8.7 18 9.6 9 8.1 4.5 4.6 -1.5 0 -6.9 -4.5 -9.7 -9 -9.5Z" fill="#ff7300"/><path d="M-18 60.1 -28.5 56.9 -36 50.7 -43.5 45.7 -45.2 43.5 -47.9 36 -51.3 30 -53.7 22.5 -55.2 20.8 -49 39.5 -40.2 52.8 -29.1 61.2 -16.7 61.2ZM15 -54 15.9 -49.5 19.5 -43 28.5 -34.5 34.5 -31.6 36.6 -30 40.5 -24 46.5 -18 48.3 -15 49.5 -10.5 50.1 -1.5 52.6 7.5 51.9 19.5 53.6 23.3 54.8 19.5 55.7 -7.1 50.8 -29.3 39.7 -43.7 26.4 -47 24.2 -54.1ZM-12 -7.7 -19.5 -3 -26.2 3 -27.1 6 -27.6 12 -27.2 15 -26.4 16.5 -24 18.9 -20.6 21 -15 23.6 -10.5 24.7 -4.5 24.8 1.5 23.1 6 21.2 7.5 19.6 8 18 9.1 9 8.3 6 4.9 0 0.1 -6 -4.2 -9 -7.5 -9.3Z" fill="#ff5800"/><path d="M-19.5 60.4 -28.5 57.8 -31.5 55.8 -36.9 51 -44 46.5 -46.2 43.5 -48.9 36 -52.4 29.3 -49 39.5 -40.2 52.8 -29.1 61.2 -18.1 61.2ZM-53.2 26.9 -54 24 -54.5 23.1ZM16.2 -54 17 -49.5 20.1 -43.5 28.5 -35.3 34.5 -32.4 37.5 -30.1 41.2 -24 46.5 -18.9 49.1 -15 50.2 -10.5 50.4 -3 53.3 7.5 53.3 12 52.3 18 52.5 19.9 53.8 22.6 54.8 19.5 55.7 -7.1 50.8 -29.3 39.7 -43.7 26.4 -47 24.2 -54.1ZM-13.7 -6 -22.1 0 -25.5 3.6 -26.2 6 -26.6 12 -26 15 -25 16.5 -21.4 19.5 -16.5 22.1 -13.5 23.4 -9 24.3 -3 23.8 3 21.8 6 20.1 7.5 17.2 8.6 9 7.5 5.5 3 -1.8 -0.8 -6 -4.5 -8.5 -7.5 -8.8Z" fill="#ff3e00"/><path d="M17.5 -54 18.6 -48 21 -43.8 28.8 -36 36 -32.6 37.5 -31.3 41.8 -24 46.9 -19.5 49.5 -15.7 50.9 -10.5 51 -3 53.9 7.5 53.9 12 52.9 18 54.1 21.8 54.8 19.5 55.7 -7.1 50.8 -29.3 39.7 -43.7 26.4 -47 24.2 -54.1ZM-12.4 -6 -18.9 -1.5 -24 3 -25.3 6 -25.7 9 -25.6 12 -24.7 15 -22.5 17.5 -19.7 19.5 -13.8 22.5 -10.5 23.5 -7.5 23.8 -4.5 23.5 4.5 20.2 6 18.8 6.9 16.5 8.1 9 7.2 6 4.5 1.4 0 -4.4 -4.5 -7.9 -7.5 -8.2ZM-20.2 61.2 -27 59.3 -30 57.9 -37.5 51.6 -43 48.5 -40.2 52.8 -29.1 61.2ZM-48.3 40.5 -49.3 37.5 -50.6 34.7 -49 39.5Z" fill="#ff2200"/><path d="M19.1 -54 19.4 -49.5 21.3 -45 30 -36 37.5 -32.7 39 -30.8 42 -24.6 47.8 -19.5 49.9 -16.5 51.4 -12 51.6 -3 54.6 7.5 54.6 12 53.6 18 54.3 21 54.8 19.5 55.7 -7.1 50.8 -29.3 39.7 -43.7 26.4 -47 24.2 -54.1ZM-11.1 -6 -19.5 0 -23.7 4.5 -24.7 10.5 -23.4 15 -21 17.5 -18 19.5 -13.5 21.8 -9 23.1 -4.5 22.8 3.9 19.5 6 16.9 7.6 10.5 7.4 7.5 6 4.8 1.5 -1.8 -1.5 -5 -4.5 -7.3 -7.5 -7.6ZM-24 61.2 -30 58.8 -37.5 52.7 -41.8 50.3 -40.2 52.8 -29.1 61.2Z" fill="#ec110f"/><path d="M20.9 -54 21 -49 23 -45 30 -37.2 32.1 -36 36 -34.9 38.8 -33 42.1 -25.5 48 -20.3 50.7 -16.5 52.1 -12 52.3 -3 55.2 7.3 55.7 -7.1 50.8 -29.3 39.7 -43.7 26.4 -47 24.2 -54.1ZM55 13.7 54.3 18 54.7 20ZM-12.3 -4.5 -19.9 1.5 -22.5 4.5 -23.5 7.5 -23.6 10.5 -22 15 -16.5 19.5 -13.5 21 -9 22.4 -4.5 22.1 3 19 4.5 17.7 5.9 15 7.1 9 6.1 6 3.3 1.5 0 -2.7 -4.5 -6.5 -7.5 -6.9ZM-27 61.2 -31.5 58.9 -37.5 53.9 -40.7 51.9 -29.1 61.2Z" fill="#d70d24"/><path d="M23.6 -54 23.1 -49.5 24.2 -46.5 31.5 -37.7 37.5 -36.3 39 -35.4 40.5 -32.9 42.9 -25.5 48.3 -21 51 -17.5 52.8 -12 53 -3 55.3 4.3 55.7 -7.1 50.8 -29.3 39.7 -43.7 26.4 -47 24.2 -54.1ZM-10.9 -4.5 -16.9 0 -21 4.2 -22.4 7.5 -22.5 10.7 -20.6 15 -17.2 18 -11.5 21 -6 21.7 0.1 19.5 3 17.8 4.5 16 5.6 13.5 6.5 9 6 7.1 2.6 1.5 -3 -4.7 -6 -6.3 -8 -6Z" fill="#c1173e"/><path d="M43.7 -38.5 42.3 -33 43 -27 43.9 -25.5 49.5 -20.9 52.3 -16.5 53.5 -12 53.7 -3 55.4 2.2 55.7 -7.1 50.8 -29.3ZM-12 -2.8 -17.2 1.5 -19.9 4.5 -21.2 7.5 -21 12 -19.2 15 -15 18.4 -10.5 20.5 -6 20.9 0 18.4 3 16.3 4.8 13.5 5.9 9 4.7 6 1.5 1 -4.5 -4.8 -7.5 -5.3Z" fill="#a93a62"/><path d="M45.7 -35.9 43.8 -31.5 43.7 -28.5 45.3 -25.5 51 -20.4 53.2 -16.5 54.2 -12 54.5 -3 55.4 0.2 55.7 -7.1 50.8 -29.3ZM-12.4 -1.5 -17.3 3 -19.5 6.3 -20 10.5 -18 14.6 -13.5 18.2 -10.5 19.6 -7.5 20.1 -4.5 19.5 1.5 16.1 4.5 12 5.1 9 3.9 6 0 0.2 -3 -2.8 -6 -4.4 -9 -3.7Z" fill="#944b7a"/><path d="M47 -34.2 45.2 -30 45.7 -27 51 -21.8 53.2 -18.5 50.8 -29.3ZM55.1 -9.6 55.2 -4.5 55.5 -2.3 55.7 -7.1ZM-10.8 -1.5 -17 4.5 -18.5 7.5 -18.6 10.5 -17.3 13.5 -13.5 17 -9 19 -6 18.8 -1.3 16.5 1.5 14.4 3.3 12 4.1 9 1.2 3 -3 -1.7 -6 -3.3 -8.2 -3Z" fill="#80508a"/><path d="M48.2 -32.6 47.2 -30 47.7 -27 52.5 -21.5 50.8 -29.3ZM-11 0 -14.2 3 -16.3 6 -17 10.5 -15.5 13.5 -13.5 15.5 -10.5 17.3 -7.5 17.8 -4.5 16.8 0.2 13.5 1.8 12 3 9 2 6 0 2.6 -4.5 -1.5 -7.5 -2Z" fill="#73508a"/><path d="M49.6 -30.8 49.4 -28.5 49.9 -27 51.9 -24.2 50.8 -29.3ZM-10.9 1.5 -14.5 6 -15.1 7.5 -15.2 10.5 -13.5 13.5 -12 14.8 -9 16.2 -7.5 16.1 -5 15 0 11.2 1.3 9 1.3 7.5 -1 3 -4.5 -0.1 -7.5 -0.5Z" fill="#70508a"/><path d="M-10.5 3.5 -12.3 6 -13 9 -12 11.8 -10.5 13.1 -9 13.7 -7.5 13.5 -1.2 9 -0.8 7.5 -1.5 4.7 -4.5 1.6 -7.5 1.3Z" fill="#70508a"/><path d="M-8 7.5 -6 7.8 -4.5 5.7 -5.7 4.5 -6.4 4.5 -8.1 6Z" fill="#70508a"/></g><g transform="translate(353.5,75.5)"><circle r="74.4" fill="none" stroke="#0c0c0c" stroke-width="0.8"/><path d="M73.6 -6.4L72.4 -6.3M72.8 -12.8L71.6 -12.6M69.4 -25.3L68.3 -24.9M67.0 -31.2L65.9 -30.7M60.5 -42.4L59.6 -41.7M56.6 -47.5L55.7 -46.7M47.5 -56.6L46.7 -55.7M42.4 -60.5L41.7 -59.6M31.2 -67.0L30.7 -65.9M25.3 -69.4L24.9 -68.3M12.8 -72.8L12.6 -71.6M6.4 -73.6L6.3 -72.4M-6.4 -73.6L-6.3 -72.4M-12.8 -72.8L-12.6 -71.6M-25.3 -69.4L-24.9 -68.3M-31.2 -67.0L-30.7 -65.9M-42.4 -60.5L-41.7 -59.6M-47.5 -56.6L-46.7 -55.7M-56.6 -47.5L-55.7 -46.7M-60.5 -42.4L-59.6 -41.7M-67.0 -31.2L-65.9 -30.7M-69.4 -25.3L-68.3 -24.9M-72.8 -12.8L-71.6 -12.6M-73.6 -6.4L-72.4 -6.3M-73.6 6.4L-72.4 6.3M-72.8 12.8L-71.6 12.6M-69.4 25.3L-68.3 24.9M-67.0 31.2L-65.9 30.7M-60.5 42.4L-59.6 41.7M-56.6 47.5L-55.7 46.7M-47.5 56.6L-46.7 55.7M-42.4 60.5L-41.7 59.6M-31.2 67.0L-30.7 65.9M-25.3 69.4L-24.9 68.3M-12.8 72.8L-12.6 71.6M-6.4 73.6L-6.3 72.4M6.4 73.6L6.3 72.4M12.8 72.8L12.6 71.6M25.3 69.4L24.9 68.3M31.2 67.0L30.7 65.9M42.4 60.5L41.7 59.6M47.5 56.6L46.7 55.7M56.6 47.5L55.7 46.7M60.5 42.4L59.6 41.7M67.0 31.2L65.9 30.7M69.4 25.3L68.3 24.9M72.8 12.8L71.6 12.6M73.6 6.4L72.4 6.3" stroke="#e0e0e0" stroke-width="0.9"/><path d="M73.9 -0.0L71.6 -0.0M71.4 -19.1L69.2 -18.5M64.0 -36.9L62.0 -35.8M52.3 -52.3L50.6 -50.6M37.0 -64.0L35.8 -62.0M19.1 -71.4L18.5 -69.2M0.0 -73.9L0.0 -71.6M-19.1 -71.4L-18.5 -69.2M-36.9 -64.0L-35.8 -62.0M-52.3 -52.3L-50.6 -50.6M-64.0 -36.9L-62.0 -35.8M-71.4 -19.1L-69.2 -18.5M-73.9 -0.0L-71.6 -0.0M-71.4 19.1L-69.2 18.5M-64.0 37.0L-62.0 35.8M-52.3 52.3L-50.6 50.6M-37.0 64.0L-35.8 62.0M-19.1 71.4L-18.5 69.2M-0.0 73.9L-0.0 71.6M19.1 71.4L18.5 69.2M37.0 64.0L35.8 62.0M52.3 52.3L50.6 50.6M64.0 37.0L62.0 35.8M71.4 19.1L69.2 18.5" stroke="#f0f0f0" stroke-width="0.7"/><text x="69.0" y="1.0" font-size="3.0" fill="#f4f4f4" text-anchor="middle" font-weight="bold" >0</text><text x="66.6" y="-16.9" font-size="3.0" fill="#f4f4f4" text-anchor="middle" font-weight="bold" >15</text><text x="59.8" y="-33.5" font-size="3.0" fill="#f4f4f4" text-anchor="middle" font-weight="bold" >30</text><text x="48.8" y="-47.8" font-size="3.0" fill="#f4f4f4" text-anchor="middle" font-weight="bold" >45</text><text x="34.5" y="-58.8" font-size="3.0" fill="#f4f4f4" text-anchor="middle" font-weight="bold" >60</text><text x="17.9" y="-65.6" font-size="3.0" fill="#f4f4f4" text-anchor="middle" font-weight="bold" >75</text><text x="0.0" y="-68.0" font-size="3.0" fill="#f4f4f4" text-anchor="middle" font-weight="bold" >90</text><text x="-17.9" y="-65.6" font-size="3.0" fill="#f4f4f4" text-anchor="middle" font-weight="bold" >105</text><text x="-34.5" y="-58.8" font-size="3.0" fill="#f4f4f4" text-anchor="middle" font-weight="bold" >120</text><text x="-48.8" y="-47.8" font-size="3.0" fill="#f4f4f4" text-anchor="middle" font-weight="bold" >135</text><text x="-59.8" y="-33.5" font-size="3.0" fill="#f4f4f4" text-anchor="middle" font-weight="bold" >150</text><text x="-66.6" y="-16.9" font-size="3.0" fill="#f4f4f4" text-anchor="middle" font-weight="bold" >165</text><text x="-69.0" y="1.0" font-size="3.0" fill="#f4f4f4" text-anchor="middle" font-weight="bold" >180</text><text x="-66.6" y="18.9" font-size="3.0" fill="#f4f4f4" text-anchor="middle" font-weight="bold" >195</text><text x="-59.8" y="35.5" font-size="3.0" fill="#f4f4f4" text-anchor="middle" font-weight="bold" >210</text><text x="-48.8" y="49.8" font-size="3.0" fill="#f4f4f4" text-anchor="middle" font-weight="bold" >225</text><text x="-34.5" y="60.8" font-size="3.0" fill="#f4f4f4" text-anchor="middle" font-weight="bold" >240</text><text x="-17.9" y="67.6" font-size="3.0" fill="#f4f4f4" text-anchor="middle" font-weight="bold" >255</text><text x="-0.0" y="70.0" font-size="3.0" fill="#f4f4f4" text-anchor="middle" font-weight="bold" >270</text><text x="17.9" y="67.6" font-size="3.0" fill="#f4f4f4" text-anchor="middle" font-weight="bold" >285</text><text x="34.5" y="60.8" font-size="3.0" fill="#f4f4f4" text-anchor="middle" font-weight="bold" >300</text><text x="48.8" y="49.8" font-size="3.0" fill="#f4f4f4" text-anchor="middle" font-weight="bold" >315</text><text x="59.8" y="35.5" font-size="3.0" fill="#f4f4f4" text-anchor="middle" font-weight="bold" >330</text><text x="66.6" y="18.9" font-size="3.0" fill="#f4f4f4" text-anchor="middle" font-weight="bold" >345</text></g><g transform="translate(353.5,75.5)" fill="none"><circle r="19.9" stroke="#111" stroke-width="0.55"/><circle r="33.2" stroke="#111" stroke-width="0.55"/><circle r="46.5" stroke="#111" stroke-width="0.55"/><circle r="59.8" stroke="#111" stroke-width="0.55"/><path d="M-1.3 -13.3h2.6M-1.3 13.3h2.6M-13.3 -0.9v1.8M13.3 -0.9v1.8M-1.3 -26.6h2.6M-1.3 26.6h2.6M-26.6 -0.9v1.8M26.6 -0.9v1.8M-1.3 -39.900000000000006h2.6M-1.3 39.900000000000006h2.6M-39.900000000000006 -0.9v1.8M39.900000000000006 -0.9v1.8M-1.3 -53.2h2.6M-1.3 53.2h2.6M-53.2 -0.9v1.8M53.2 -0.9v1.8" stroke="#222" stroke-width="0.55"/><circle cx="-0.7" cy="-5.3" r="35" stroke="#ffffff" stroke-width="0.6" stroke-dasharray="0.9 0.45" opacity="0.9"/></g><g transform="translate(353.5,75.5)"><circle cx="0" cy="-0.4" r="0.9" fill="#3a4ad0" stroke="#ddd" stroke-width="0.3"/><rect x="-2.9" y="-7.6000000000000005" width="1.8" height="1.8" fill="#f060c0" stroke="#fff" stroke-width="0.3"/><circle cx="-2" cy="6.9" r="1" fill="#ff5000" stroke="#802000" stroke-width="0.3"/></g><g transform="translate(99.5,225.5)"><path d="M-58.3 2.8 -56.9 14.1 -52.7 26.8 -46.3 35.3 -36.4 38.4 -25.1 39.8 -11 36 0.3 38.4 14.4 39.5 28.5 38.8 34.2 42.3 42.6 33.9 52.5 31.1 53.9 24 56.7 18.4 59.6 7.1 59.6 -7.1 55.3 -19.8 49.7 -31.1 42.6 -39.5 34.2 -45.2 27.1 -44.5 24.3 -39.5 20 -40.9 8.8 -43.1 -2.5 -43.8 -11 -41.6 -22.3 -39.5 -26.5 -38.8 -37.1 -42.3 -49.1 -32.5 -56.2 -21.2 -57.6 -7.1Z" fill="#d868f0"/><path d="M-56.9 14.1 -52.7 26.8 -46.3 35.3 -36.4 38.4 -25.1 39.8 -11 36 0.3 38.4 14.4 39.5 28.5 38.8 34.2 42.3 42.6 33.9 52.5 31.1 53.9 24 56.7 18.4 59.6 7.1 59.6 -7.1 55.3 -19.8 49.7 -31.1 42.6 -39.5 34.2 -45.2 27.1 -44.5 24.3 -39.5 20 -40.9 8.8 -43.1 -2.5 -43.8 -11 -41.6 -26.5 -38.8 -37.1 -42.3 -49.1 -32.5 -56.2 -21.2 -58.3 2.8ZM24 -31.6 31.5 -28.5 35.8 -25.5 40.5 -19 44.9 -15 45.8 -13.5 45.8 -12 45 -11 42 -9.9 39 -10.3 34.5 -13.7 22.9 -28.5 22.1 -30 22.5 -31.5Z" fill="#d561ec"/><path d="M59.6 -6.2 54 -5.4 48 -5.6 42 -6.5 39 -7.8 34.5 -11.6 25.5 -22.7 17.2 -31.5 16.3 -34.5 17.5 -36 19.5 -36.5 24 -35.4 36 -29.6 39 -27 43.5 -21.8 48 -20.2 55.6 -19 49.7 -31.1 42.6 -39.5 34.2 -45.2 27.1 -44.5 24.3 -39.5 20 -40.9 8.8 -43.1 -2.5 -43.8 -11 -41.6 -26.5 -38.8 -37.1 -42.3 -49.1 -32.5 -56.2 -21.2 -58.3 2.8 -56.9 14.1 -52.7 26.8 -46.3 35.3 -36.4 38.4 -25.1 39.8 -11 36 0.3 38.4 14.4 39.5 28.5 38.8 34.2 42.3 42.6 33.9 52.5 31.1 53.9 24 56.7 18.4 59.6 7.1Z" fill="#d053e3"/><path d="M59.6 1.1 54 0.5 49.5 -0.8 42 -3.7 39 -5.6 34.5 -10 25.5 -21.1 16.3 -30 14.1 -33 13.1 -36 13.5 -38.2 15 -40.2 18 -41.1 28.5 -37.4 39 -32.5 46.5 -28.2 51.2 -28 49.7 -31.1 42.6 -39.5 34.2 -45.2 27.1 -44.5 24.3 -39.5 20 -40.9 8.8 -43.1 -2.5 -43.8 -11 -41.6 -26.5 -38.8 -37.1 -42.3 -49.1 -32.5 -56.2 -21.2 -58.3 2.8 -56.9 14.1 -52.7 26.8 -46.3 35.3 -36.4 38.4 -25.1 39.8 -11 36 0.3 38.4 14.4 39.5 28.5 38.8 34.2 42.3 42.6 33.9 52.5 31.1 53.9 24 56.7 18.4 59.6 7.1Z" fill="#ca44db"/><path d="M27.1 -44.5 36 -40.4 43.2 -38.8 34.2 -45.2ZM59.6 5.6 52.6 4.5 45 2.3 42 0.4 25.5 -19.9 14.8 -30 9 -37.3 6 -39.1 5.3 -40.5 6.2 -43.2 -2.5 -43.8 -11 -41.6 -26.5 -38.8 -37.1 -42.3 -49.1 -32.5 -56.2 -21.2 -58.3 2.8 -56.9 14.1 -52.7 26.8 -46.3 35.3 -36.4 38.4 -25.1 39.8 -11 36 0.3 38.4 14.4 39.5 28.5 38.8 34.2 42.3 42.6 33.9 52.5 31.1 53.9 24 56.7 18.4 59.6 7.1Z" fill="#c13bd1"/><path d="M59.1 8.9 43.5 5.7 40.5 4.4 36.5 -4.5 24 -20.5 10.5 -33.2 7.5 -34.9 3 -35.7 0.9 -37.5 0.3 -40.5 1.1 -43.5 -2.5 -43.8 -11 -41.6 -26.5 -38.8 -37.1 -42.3 -49.1 -32.5 -56.2 -21.2 -58.3 2.8 -56.9 14.1 -52.7 26.8 -46.3 35.3 -36.4 38.4 -25.1 39.8 -11 36 0.3 38.4 14.4 39.5 28.5 38.8 34.2 42.3 42.6 33.9 52.5 31.1 53.9 24 56.7 18.4Z" fill="#b734c7"/><path d="M58.5 11.4 43.2 7.5 39.8 6 37.9 3 36.8 -1.5 35.4 -4.5 26.7 -16.5 22.5 -21 10.5 -31.8 7.5 -33.4 3 -33.9 -0.4 -36 -1.7 -37.5 -2.1 -39 -1.5 -43.7 -26.5 -38.8 -37.1 -42.3 -49.1 -32.5 -56.2 -21.2 -58.3 2.8 -56.9 14.1 -52.7 26.8 -46.3 35.3 -36.4 38.4 -25.1 39.8 -11 36 0.3 38.4 14.4 39.5 28.5 38.8 34.2 42.3 42.6 33.9 52.5 31.1 53.9 24 56.7 18.4Z" fill="#a630bd"/><path d="M58 13.4 42 8.5 39 6.8 36.7 3 34.4 -4.5 25.9 -16.5 21 -21.6 10.5 -30.8 7.5 -32.3 2.1 -33 -2.6 -36 -3.8 -37.5 -4 -39 -3.5 -43.5 -26.5 -38.8 -37.1 -42.3 -49.1 -32.5 -56.2 -21.2 -58.3 2.8 -56.9 14.1 -52.7 26.8 -46.3 35.3 -36.4 38.4 -25.1 39.8 -11 36 0.3 38.4 14.4 39.5 28.5 38.8 34.2 42.3 42.6 33.9 52.5 31.1 53.9 24 56.7 18.4Z" fill="#8730b2"/><path d="M57.5 15 42 9.6 38.5 7.5 35.7 3 33.5 -4.5 25.5 -16.1 19.5 -22 9 -30.8 1.5 -32.3 -4.7 -36 -5.5 -37.5 -5.2 -43.1 -26.5 -38.8 -37.1 -42.3 -49.1 -32.5 -56.2 -21.2 -58.3 2.8 -56.9 14.1 -52.7 26.8 -46.3 35.3 -36.4 38.4 -25.1 39.8 -11 36 0.3 38.4 14.4 39.5 28.5 38.8 34.2 42.3 42.6 33.9 52.5 31.1 53.9 24 56.7 18.4Z" fill="#6b26a8"/><path d="M57 16.3 42 10.7 37.5 7.5 34.9 3 33.9 -1.5 31.9 -6 25.5 -15.2 21 -19.8 9 -29.9 6 -30.9 1.5 -31.4 -6 -35.6 -6.8 -37.5 -6.7 -42.7 -26.5 -38.8 -37.1 -42.3 -49.1 -32.5 -56.2 -21.2 -58.3 2.8 -56.9 14.1 -52.7 26.8 -46.3 35.3 -36.4 38.4 -25.1 39.8 -11 36 0.3 38.4 14.4 39.5 28.5 38.8 34.2 42.3 42.6 33.9 52.5 31.1 53.9 24 56.7 18.4Z" fill="#50189e"/><path d="M56.9 17.6 42 11.7 37.5 8.3 34.1 3 31.5 -5.2 28.5 -10.2 24 -16 9 -29.1 6 -30.2 1.5 -30.7 -6.1 -34.5 -7.6 -36 -8.2 -42.3 -26.5 -38.8 -37.1 -42.3 -49.1 -32.5 -56.2 -21.2 -58.3 2.8 -56.9 14.1 -52.7 26.8 -46.3 35.3 -36.4 38.4 -25.1 39.8 -11 36 0.3 38.4 14.4 39.5 28.5 38.8 34.2 42.3 42.6 33.9 52.5 31.1 53.9 24Z" fill="#38109e"/><path d="M56.6 18.6 43.5 13.5 39 10.5 36.2 7.5 33.3 3 31 -4.5 28.5 -9 24 -15 9 -28.2 6 -29.4 1.5 -30 -4.5 -32.5 -7.3 -34.5 -8.6 -36 -9.9 -41.9 -26.5 -38.8 -37.1 -42.3 -49.1 -32.5 -56.2 -21.2 -58.3 2.8 -56.9 14.1 -52.7 26.8 -46.3 35.3 -36.4 38.4 -25.1 39.8 -11 36 0.3 38.4 14.4 39.5 28.5 38.8 34.2 42.3 42.6 33.9 52.5 31.1 53.9 24Z" fill="#2410ad"/><path d="M56.1 19.5 45 15.4 40.5 12.8 36 8.1 32.7 3 30.7 -1.5 30.1 -4.5 27.5 -9 21.5 -16.5 9 -27.3 6 -28.6 1.5 -29.1 -1.5 -30.7 -4.5 -31.4 -9.5 -36 -12 -41.5 -26.5 -38.8 -37.1 -42.3 -49.1 -32.5 -56.2 -21.2 -58.3 2.8 -56.9 14.1 -52.7 26.8 -46.3 35.3 -36.4 38.4 -25.1 39.8 -11 36 0.3 38.4 14.4 39.5 28.5 38.8 34.2 42.3 42.6 33.9 52.5 31.1 53.9 24Z" fill="#201bbe"/><path d="M55.5 20.3 43.5 16 40.5 14 36 8.8 32.1 3 31.5 1.1 29.5 -1.5 29.4 -3 27.2 -6 27 -7.9 24.8 -10.5 24.3 -12 20 -16.5 18 -17.3 16.3 -19.5 13.5 -20.7 12 -23.3 7.5 -27.1 3 -28.2 0 -28.2 -1.5 -29.6 -4.5 -30.1 -9.2 -34.5 -14.6 -41 -26.5 -38.8 -37.1 -42.3 -49.1 -32.5 -56.2 -21.2 -58.3 2.8 -56.9 14.1 -52.7 26.8 -46.3 35.3 -36.4 38.4 -25.1 39.8 -11 36 0.3 38.4 14.4 39.5 28.5 38.8 34.2 42.3 42.6 33.9 52.5 31.1 53.9 24Z" fill="#2029cf"/><path d="M55.3 21.2 42 16.7 39 13.5 32.4 4.5 30.8 1.5 29.3 0 28.2 -3 26.3 -4.5 25.5 -7.5 23.1 -9 22.5 -11.3 20.7 -12 19.5 -13.3 19 -15 16.5 -15.9 15 -18.3 12 -19.4 10.5 -21.9 9 -21.8 7.6 -22.5 7.5 -25.5 6 -25.6 4.5 -24.5 1.5 -26.6 -0.9 -27 -2.3 -28.5 -4.5 -29.3 -7.5 -32.6 -17 -40.5 -26.5 -38.8 -37.1 -42.3 -49.1 -32.5 -56.2 -21.2 -58.3 2.8 -56.9 14.1 -52.7 26.8 -46.3 35.3 -36.4 38.4 -25.1 39.8 -11 36 0.3 38.4 14.4 39.5 28.5 38.8 34.2 42.3 42.6 33.9 52.5 31.1 53.9 24Z" fill="#203eda"/><path d="M54.9 22 42 18.7 40.5 17.2 30 1.5 28.4 0 24.8 -6 18 -13.9 10.5 -20 -4.5 -28.5 -7.5 -31.9 -18.9 -40.2 -26.5 -38.8 -37.1 -42.3 -49.1 -32.5 -56.2 -21.2 -58.3 2.8 -56.9 14.1 -52.7 26.8 -46.3 35.3 -36.4 38.4 -25.1 39.8 -11 36 0.3 38.4 14.4 39.5 28.5 38.8 34.2 42.3 42.6 33.9 52.5 31.1 53.9 24Z" fill="#205cdf"/><path d="M54.5 22.9 48 21.3 45 21.9 43.5 23.4 42 22.5 33 6.5 28.5 1 23.9 -6 17.4 -13.5 9 -20.1 -5.4 -28.5 -7.9 -31.5 -20.6 -39.9 -26.5 -38.8 -37.1 -42.3 -49.1 -32.5 -56.2 -21.2 -58.3 2.8 -56.9 14.1 -52.7 26.8 -46.3 35.3 -36.4 38.4 -25.1 39.8 -11 36 0.3 38.4 14.4 39.5 28.5 38.8 34.2 42.3 42.6 33.9 52.5 31.1ZM45 30 45.4 31.5 45 32 44.8 31.5Z" fill="#1472e6"/><path d="M42.8 33.8 38.6 19.5 35.6 12 33 7.4 20.8 -9 13.5 -16.2 9 -19.4 -1.8 -25.5 -6.3 -28.5 -9 -31.6 -22.1 -39.6 -26.5 -38.8 -37.1 -42.3 -49.1 -32.5 -56.2 -21.2 -58.3 2.8 -56.9 14.1 -52.7 26.8 -46.3 35.3 -36.4 38.4 -25.1 39.8 -11 36 0.3 38.4 14.4 39.5 28.5 38.8 34.2 42.3ZM54 23.7 49.5 22.7 46.9 24 46.7 27 49 32.1 52.5 31.1Z" fill="#0786ed"/><path d="M41.5 35 35.9 15 33 8.7 20.2 -9 16.5 -12.9 9 -18.9 -6 -27.7 -10 -31.5 -23.6 -39.3 -26.5 -38.8 -37.1 -42.3 -49.1 -32.5 -56.2 -21.2 -58.3 2.8 -56.9 14.1 -52.7 26.8 -46.3 35.3 -36.4 38.4 -25.1 39.8 -11 36 0.3 38.4 14.4 39.5 28.5 38.8 34.2 42.3ZM48.9 28.5 50.9 31.5 52.5 31.1 53.7 25 51 24 49.5 24.4 48.6 25.5Z" fill="#009cf2"/><path d="M40.2 36 34.5 13.9 33 10.2 19.6 -9 12 -16 4.5 -21.2 -6 -27.1 -10.5 -31 -25.1 -39.1 -26.5 -38.8 -37.1 -42.3 -49.1 -32.5 -56.2 -21.2 -58.3 2.8 -56.9 14.1 -52.7 26.8 -46.3 35.3 -36.4 38.4 -25.1 39.8 -11 36 0.3 38.4 14.4 39.5 28.5 38.8 34.2 42.3ZM51 28.7 52.8 29.6 53.4 26.8 52.5 26.2 51 26.2 50.5 27Z" fill="#00b2f7"/><path d="M39 37.1 33.2 13.5 31.5 9.3 22.5 -4.6 16.5 -11.5 12 -15.5 4 -21 -6.8 -27 -10.5 -30.1 -26.9 -38.9 -37.1 -42.3 -49.1 -32.5 -56.2 -21.2 -58.3 2.8 -56.9 14.1 -52.7 26.8 -46.3 35.3 -36.4 38.4 -25.1 39.8 -11 36 0.3 38.4 14.4 39.5 28.5 38.8 34.2 42.3Z" fill="#00c4f8"/><path d="M37.8 38.7 33 18.4 30 9 21.8 -4.5 18.2 -9 11.7 -15 3 -21 -7.5 -26.7 -12 -29.7 -25.5 -36.6 -31.5 -40.5 -37.1 -42.3 -49.1 -32.5 -56.2 -21.2 -58.3 2.8 -56.9 14.1 -52.7 26.8 -46.3 35.3 -36.4 38.4 -25.1 39.8 -11 36 0.3 38.4 14.4 39.5 28.5 38.8 34.2 42.3Z" fill="#00d4f8"/><path d="M36.5 40.1 31.5 18.7 27.3 6 21.1 -4.5 18 -8.3 12 -13.9 4.4 -19.5 -0.8 -22.5 -37.9 -41.7 -49.1 -32.5 -56.2 -21.2 -58.3 2.8 -56.9 14.1 -52.7 26.8 -46.3 35.3 -36.4 38.4 -25.1 39.8 -11 36 0.3 38.4 14.4 39.5 28.5 38.8 34.2 42.3Z" fill="#00e4f8"/><path d="M35 41.5 33.6 37.5 30 19.5 25.9 6 21 -3.2 14.7 -10.5 7.3 -16.5 -1.5 -22 -34.5 -37.1 -39 -38.2 -42.4 -38 -49.1 -32.5 -56.2 -21.2 -58.3 2.8 -56.9 14.1 -52.7 26.8 -46.3 35.3 -36.4 38.4 -25.1 39.8 -11 36 0.3 38.4 14.4 39.5 28.5 38.8 34.2 42.3Z" fill="#00dba7"/><path d="M33.2 41.7 31.1 36 29.1 24 26.7 13.5 22.4 1.5 15.9 -7.5 11 -12 3 -17.9 -1.5 -20.6 -25.5 -31.2 -30 -32.7 -34.5 -33.5 -39 -33.1 -43.5 -31.3 -51 -25.5 -55.5 -20.4 -56.4 -19 -58.3 2.8 -56.9 14.1 -52.7 26.8 -46.3 35.3 -36.4 38.4 -25.1 39.8 -11 36 0.3 38.4 14.4 39.5 28.5 38.8Z" fill="#0ecc35"/><path d="M30.5 40.1 25.2 13.5 21.5 3 18.9 -1.5 15.5 -6 10.9 -10.5 6 -14.2 -1.5 -18.9 -15 -25.1 -25.5 -29 -31.5 -30 -36 -29.4 -42 -26.5 -48 -21.5 -52.2 -16.5 -56.5 -7.5 -57.6 6 -55.1 15 -54.2 22.1 -52.7 26.8 -46.3 35.3 -36.4 38.4 -25.1 39.8 -11 36 0.3 38.4 14.4 39.5 28.5 38.8Z" fill="#52e000"/><path d="M28.4 38.8 24.7 16.5 21.7 6 18.7 0 15.5 -4.5 10.5 -9.6 6 -13 -3 -18.5 -13.5 -23.5 -21 -26.2 -28.5 -27.6 -33 -27.3 -39 -24.9 -44.1 -21 -47.9 -16.5 -50.4 -12 -52.2 -7.5 -55 6 -53.6 13.5 -52.7 26.8 -46.3 35.3 -36.4 38.4 -25.1 39.8 -11 36 0.3 38.4 14.4 39.5Z" fill="#95ee00"/><path d="M27 38.7 23.4 15 20.7 6 18.6 1.5 15.7 -3 9 -9.9 3 -14 -7.5 -20 -15 -23.2 -24 -25.7 -30 -25.9 -34.5 -24.9 -39 -22.5 -43.9 -18 -46.9 -13.5 -48.9 -9 -52.4 7.5 -51.5 28.3 -46.3 35.3 -36.4 38.4 -25.1 39.8 -11 36 0.3 38.4 14.4 39.5Z" fill="#e4fb00"/><path d="M26 38.9 22.8 16.5 19.9 6 17.8 1.5 14.8 -3 12 -6.3 7.5 -10.2 1.5 -14.2 -9 -19.9 -16.5 -23 -24 -24.7 -30 -24.6 -34.5 -23.3 -39 -20.6 -43.1 -16.5 -45.8 -12 -47.4 -7.5 -49.3 0 -50.6 9 -50.5 29.6 -46.3 35.3 -36.4 38.4 -25.1 39.8 -11 36 0.3 38.4 14.4 39.5Z" fill="#fdf500"/><path d="M25.1 39 22 16.5 19.7 7.5 15.2 -1.5 9 -8.3 3 -12.5 -7.5 -18.5 -15 -21.7 -21 -23.4 -27 -23.8 -31.5 -23 -37.5 -20.1 -41.4 -16.5 -44.2 -12 -45.9 -7.5 -47.8 0 -49.3 9 -49.8 16.5 -49.7 30.8 -46.3 35.3 -36.4 38.4 -25.1 39.8 -11 36 0.3 38.4 14.4 39.5Z" fill="#f9e500"/><path d="M24.2 39 21.3 16.5 19 7.5 15.6 0 12.2 -4.5 9 -7.6 3 -11.8 -7.5 -17.8 -15 -21 -21 -22.6 -27 -22.8 -31.5 -21.9 -36 -19.8 -39.8 -16.5 -42.9 -12 -44.6 -7.5 -47 1.5 -48.2 9 -48.8 16.5 -48.8 31.9 -46.3 35.3 -36.4 38.4 -25.1 39.8 -11 36 0.3 38.4 14.4 39.5Z" fill="#f2d200"/><path d="M23.4 39 21.1 19.5 18.9 9 14.9 0 9 -6.9 4.1 -10.5 -6.2 -16.5 -13.5 -19.8 -19.5 -21.5 -25.5 -22.1 -30 -21.4 -34.5 -19.5 -39 -15.8 -41.7 -12 -43 -9 -45.6 0 -47 7.5 -47.9 16.5 -48 33 -46.3 35.3 -36.4 38.4 -25.1 39.8 -11 36 0.3 38.4 14.4 39.5Z" fill="#eabe00"/><path d="M22.6 39 19.9 16.5 18.2 9 14.2 0 9 -6.2 3 -10.5 -7.5 -16.5 -14.5 -19.5 -19.5 -20.8 -25.5 -21.2 -30 -20.4 -34.5 -18.4 -38.4 -15 -40.5 -12 -42.5 -7.5 -46 7.5 -47 19.5 -47.1 34.2 -46.3 35.3 -36.4 38.4 -25.1 39.8 -11 36 0.3 38.4 14.4 39.5Z" fill="#eaac00"/><path d="M21.8 39 19.5 18.6 17.9 10.5 16.5 6 13.6 0 8.3 -6 1.9 -10.5 -8.9 -16.5 -15 -19 -19.5 -20.1 -25.5 -20.4 -29.8 -19.5 -34.5 -17.2 -37.5 -14.6 -39.4 -12 -41.5 -7.5 -44.6 4.5 -46 16.5 -46.1 35.4 -36.4 38.4 -25.1 39.8 -11 36 0.3 38.4 14.4 39.5Z" fill="#ee9b00"/><path d="M20.9 39 18.4 16.5 16.7 9 13.5 1.2 9 -4.5 3.1 -9 -7.4 -15 -13.5 -17.7 -18 -19 -22.5 -19.6 -27 -19.3 -31.5 -17.8 -36 -14.7 -38.3 -12 -40.5 -7.6 -43.7 4.5 -45 16.5 -44.9 35.7 -36.4 38.4 -25.1 39.8 -11 36 0.3 38.4 14.4 39.5Z" fill="#f08900"/><path d="M19.8 39 16.2 10.5 13.5 3.2 10.7 -1.5 7.9 -4.5 1.7 -9 -6.2 -13.5 -12.4 -16.5 -18 -18.2 -24 -18.7 -28.3 -18 -33 -15.9 -36 -13.4 -38.1 -10.5 -40.2 -6 -43 6 -44 18 -43.6 36.1 -36.4 38.4 -25.1 39.8 -11 36 0.3 38.4 14.4 39.5Z" fill="#f07400"/><path d="M18.3 39 17.6 36 14.7 31.5 15.3 28.5 15 26.6 13.5 25.8 12 24 12.5 22.5 15 22.4 15.6 19.5 15 11.1 13.5 6.4 12 4.5 10.5 4.3 9.7 6 9.4 9 9.8 12 12.1 16.5 10.5 19.1 9 18 3 9 3 6.2 4.2 4.5 9 2.7 10.2 1.5 9.1 -1.5 7.8 -3 -0.1 -9 -11.1 -15 -16.5 -16.9 -22.5 -17.7 -27 -17.3 -31.5 -15.5 -34.5 -13.4 -37 -10.5 -39 -6.7 -40.7 -1.5 -41.9 4.5 -42.8 18 -42 36.7 -36.4 38.4 -25.1 39.8 -11 36 0.3 38.4 14.4 39.5Z" fill="#f05c00"/><path d="M15.5 39.5 11.7 34.5 6.9 22.5 0 9.7 -0.5 7.5 -0.2 4.5 2.5 -1.5 2.2 -4.5 1.3 -6 -2.6 -9 -10.5 -13.5 -19.5 -16.4 -24 -16.6 -27 -16.1 -31.5 -14.2 -34.5 -11.9 -37.5 -7.9 -39 -4.5 -41.1 6 -41.4 19.5 -39.8 37.3 -36.4 38.4 -25.1 39.8 -11 36 0.3 38.4 14.4 39.5Z" fill="#ef4100"/><path d="M11 39 5.9 25.5 -0.8 13.5 -2.6 9 -3 4.5 -1.9 -3 -2.6 -6 -6 -9 -11 -12 -19.5 -14.9 -24 -15.1 -27 -14.7 -30 -13.6 -33 -11.7 -36 -8.4 -37.5 -5.8 -39.3 0 -40 6 -39.7 19.5 -37.1 38.2 -25.1 39.8 -11 36 0.3 38.4Z" fill="#e81f00"/><path d="M8.7 39 4.8 27 -2.9 13.5 -4.8 9 -5.6 4.5 -5.5 -1.5 -7.2 -6 -12.7 -10.5 -16.5 -12.2 -21 -13.3 -27 -13.1 -30 -12 -33 -10 -36 -6.4 -37.5 -3.1 -38.8 6 -38 18 -34 38.7 -25.1 39.8 -11 36 0.3 38.4Z" fill="#da0400"/><path d="M7 38.9 3.1 27 -6.3 10.5 -7.8 6 -8.9 -1.5 -11.3 -6 -16.5 -9.8 -22.5 -11.4 -28.5 -10.8 -33 -8 -35.6 -4.5 -36.7 -1.5 -37.4 3 -37.4 7.5 -36 17.5 -30.6 39.1 -25.1 39.8 -11 36 0.3 38.4Z" fill="#c40000"/><path d="M5.5 38.8 1.5 27 -9.1 9 -12.1 -1.5 -13.9 -4.5 -17.6 -7.5 -22.5 -9.1 -27 -9 -31.5 -6.9 -33.8 -4.5 -35.1 -1.5 -35.8 3 -35.6 7.5 -33.9 16.5 -26.9 39.6 -25.1 39.8 -11 36 0.3 38.4Z" fill="#b2372a"/><path d="M3.9 38.7 2.5 33 0 27.3 -10.6 10.5 -14.8 0 -16.5 -2.9 -19.5 -5.2 -22.5 -6.1 -27 -5.9 -30.2 -4.5 -31.8 -3 -33.2 0 -33.4 4.5 -32.8 10.5 -30.8 18 -23 39.2 -11 36 0.3 38.4Z" fill="#bc524d"/><path d="M2.1 38.5 0.7 33 -1.5 28.1 -12.9 10.5 -18 0.7 -19.5 -1 -22.5 -2.1 -25.5 -1.8 -28.5 -0.1 -29.9 3 -30.3 6 -29.5 13.5 -26.9 21 -19.3 38.2 -11 36 0.3 38.4Z" fill="#d76666"/><path d="M-0.3 38.3 -3.1 30 -19.5 4.5 -22.5 2.7 -24 2.9 -25.5 3.9 -26.7 6 -27.2 9 -25.8 16.5 -23.2 22.5 -17.6 31.5 -15.2 37.1 -11 36Z" fill="#e97373"/><path d="M-22.9 12 -22.5 16.5 -21 19.9 -16.5 24.4 -13.5 25.3 -12.7 24 -13.1 21 -15.8 15 -21 9.9 -22.5 10.3Z" fill="#eb7a7a"/></g><g transform="translate(99.5,225.5)"><circle r="74.4" fill="none" stroke="#0c0c0c" stroke-width="0.8"/><path d="M73.6 -6.4L72.4 -6.3M72.8 -12.8L71.6 -12.6M69.4 -25.3L68.3 -24.9M67.0 -31.2L65.9 -30.7M60.5 -42.4L59.6 -41.7M56.6 -47.5L55.7 -46.7M47.5 -56.6L46.7 -55.7M42.4 -60.5L41.7 -59.6M31.2 -67.0L30.7 -65.9M25.3 -69.4L24.9 -68.3M12.8 -72.8L12.6 -71.6M6.4 -73.6L6.3 -72.4M-6.4 -73.6L-6.3 -72.4M-12.8 -72.8L-12.6 -71.6M-25.3 -69.4L-24.9 -68.3M-31.2 -67.0L-30.7 -65.9M-42.4 -60.5L-41.7 -59.6M-47.5 -56.6L-46.7 -55.7M-56.6 -47.5L-55.7 -46.7M-60.5 -42.4L-59.6 -41.7M-67.0 -31.2L-65.9 -30.7M-69.4 -25.3L-68.3 -24.9M-72.8 -12.8L-71.6 -12.6M-73.6 -6.4L-72.4 -6.3M-73.6 6.4L-72.4 6.3M-72.8 12.8L-71.6 12.6M-69.4 25.3L-68.3 24.9M-67.0 31.2L-65.9 30.7M-60.5 42.4L-59.6 41.7M-56.6 47.5L-55.7 46.7M-47.5 56.6L-46.7 55.7M-42.4 60.5L-41.7 59.6M-31.2 67.0L-30.7 65.9M-25.3 69.4L-24.9 68.3M-12.8 72.8L-12.6 71.6M-6.4 73.6L-6.3 72.4M6.4 73.6L6.3 72.4M12.8 72.8L12.6 71.6M25.3 69.4L24.9 68.3M31.2 67.0L30.7 65.9M42.4 60.5L41.7 59.6M47.5 56.6L46.7 55.7M56.6 47.5L55.7 46.7M60.5 42.4L59.6 41.7M67.0 31.2L65.9 30.7M69.4 25.3L68.3 24.9M72.8 12.8L71.6 12.6M73.6 6.4L72.4 6.3" stroke="#e0e0e0" stroke-width="0.9"/><path d="M73.9 -0.0L71.6 -0.0M71.4 -19.1L69.2 -18.5M64.0 -36.9L62.0 -35.8M52.3 -52.3L50.6 -50.6M37.0 -64.0L35.8 -62.0M19.1 -71.4L18.5 -69.2M0.0 -73.9L0.0 -71.6M-19.1 -71.4L-18.5 -69.2M-36.9 -64.0L-35.8 -62.0M-52.3 -52.3L-50.6 -50.6M-64.0 -36.9L-62.0 -35.8M-71.4 -19.1L-69.2 -18.5M-73.9 -0.0L-71.6 -0.0M-71.4 19.1L-69.2 18.5M-64.0 37.0L-62.0 35.8M-52.3 52.3L-50.6 50.6M-37.0 64.0L-35.8 62.0M-19.1 71.4L-18.5 69.2M-0.0 73.9L-0.0 71.6M19.1 71.4L18.5 69.2M37.0 64.0L35.8 62.0M52.3 52.3L50.6 50.6M64.0 37.0L62.0 35.8M71.4 19.1L69.2 18.5" stroke="#f0f0f0" stroke-width="0.7"/><text x="69.0" y="1.0" font-size="3.0" fill="#f4f4f4" text-anchor="middle" font-weight="bold" >0</text><text x="66.6" y="-16.9" font-size="3.0" fill="#f4f4f4" text-anchor="middle" font-weight="bold" >15</text><text x="59.8" y="-33.5" font-size="3.0" fill="#f4f4f4" text-anchor="middle" font-weight="bold" >30</text><text x="48.8" y="-47.8" font-size="3.0" fill="#f4f4f4" text-anchor="middle" font-weight="bold" >45</text><text x="34.5" y="-58.8" font-size="3.0" fill="#f4f4f4" text-anchor="middle" font-weight="bold" >60</text><text x="17.9" y="-65.6" font-size="3.0" fill="#f4f4f4" text-anchor="middle" font-weight="bold" >75</text><text x="0.0" y="-68.0" font-size="3.0" fill="#f4f4f4" text-anchor="middle" font-weight="bold" >90</text><text x="-17.9" y="-65.6" font-size="3.0" fill="#f4f4f4" text-anchor="middle" font-weight="bold" >105</text><text x="-34.5" y="-58.8" font-size="3.0" fill="#f4f4f4" text-anchor="middle" font-weight="bold" >120</text><text x="-48.8" y="-47.8" font-size="3.0" fill="#f4f4f4" text-anchor="middle" font-weight="bold" >135</text><text x="-59.8" y="-33.5" font-size="3.0" fill="#f4f4f4" text-anchor="middle" font-weight="bold" >150</text><text x="-66.6" y="-16.9" font-size="3.0" fill="#f4f4f4" text-anchor="middle" font-weight="bold" >165</text><text x="-69.0" y="1.0" font-size="3.0" fill="#f4f4f4" text-anchor="middle" font-weight="bold" >180</text><text x="-66.6" y="18.9" font-size="3.0" fill="#f4f4f4" text-anchor="middle" font-weight="bold" >195</text><text x="-59.8" y="35.5" font-size="3.0" fill="#f4f4f4" text-anchor="middle" font-weight="bold" >210</text><text x="-48.8" y="49.8" font-size="3.0" fill="#f4f4f4" text-anchor="middle" font-weight="bold" >225</text><text x="-34.5" y="60.8" font-size="3.0" fill="#f4f4f4" text-anchor="middle" font-weight="bold" >240</text><text x="-17.9" y="67.6" font-size="3.0" fill="#f4f4f4" text-anchor="middle" font-weight="bold" >255</text><text x="-0.0" y="70.0" font-size="3.0" fill="#f4f4f4" text-anchor="middle" font-weight="bold" >270</text><text x="17.9" y="67.6" font-size="3.0" fill="#f4f4f4" text-anchor="middle" font-weight="bold" >285</text><text x="34.5" y="60.8" font-size="3.0" fill="#f4f4f4" text-anchor="middle" font-weight="bold" >300</text><text x="48.8" y="49.8" font-size="3.0" fill="#f4f4f4" text-anchor="middle" font-weight="bold" >315</text><text x="59.8" y="35.5" font-size="3.0" fill="#f4f4f4" text-anchor="middle" font-weight="bold" >330</text><text x="66.6" y="18.9" font-size="3.0" fill="#f4f4f4" text-anchor="middle" font-weight="bold" >345</text></g><g transform="translate(99.5,225.5)" fill="none"><circle r="19.9" stroke="#111" stroke-width="0.55"/><circle r="33.2" stroke="#111" stroke-width="0.55"/><circle r="46.5" stroke="#111" stroke-width="0.55"/><circle r="59.8" stroke="#111" stroke-width="0.55"/><path d="M-1.3 -13.3h2.6M-1.3 13.3h2.6M-13.3 -0.9v1.8M13.3 -0.9v1.8M-1.3 -26.6h2.6M-1.3 26.6h2.6M-26.6 -0.9v1.8M26.6 -0.9v1.8M-1.3 -39.900000000000006h2.6M-1.3 39.900000000000006h2.6M-39.900000000000006 -0.9v1.8M39.900000000000006 -0.9v1.8M-1.3 -53.2h2.6M-1.3 53.2h2.6M-53.2 -0.9v1.8M53.2 -0.9v1.8" stroke="#222" stroke-width="0.55"/><circle cx="-0.7" cy="-5.3" r="35" stroke="#ffffff" stroke-width="0.6" stroke-dasharray="0.9 0.45" opacity="0.9"/></g><g transform="translate(99.5,225.5)"><path d="M-16.7 9.9L0 0M-8.2 18.4L-13.8 29.6M-16.7 28.9L-25.1 39.5M-52.7 27.5L-40.7 21.2M42.6 16.7L55.3 21.2" stroke="#ff1010" stroke-width="1.15" fill="none"/><path d="M0 0L12.3 -16.2M16.5 -12L27.1 -19.1" stroke="#1020ff" stroke-width="1.15" fill="none"/><rect x="-16.6" y="-1.3" width="7.8" height="4.6" fill="#fff" stroke="#111" stroke-width="0.5"/><path d="M-15.3 1.1h5.2" stroke="#444" stroke-width="2" stroke-dasharray="1.2 0.5"/><rect x="6.3" y="-6.8" width="7.8" height="4.6" fill="#fff" stroke="#111" stroke-width="0.5"/><path d="M7.6 -4.4h5.2" stroke="#444" stroke-width="2" stroke-dasharray="1.2 0.5"/><rect x="21.4" y="-14.3" width="7.8" height="4.6" fill="#fff" stroke="#111" stroke-width="0.5"/><path d="M22.7 -11.9h5.2" stroke="#444" stroke-width="2" stroke-dasharray="1.2 0.5"/><rect x="-20.1" y="18.2" width="7.8" height="4.6" fill="#fff" stroke="#111" stroke-width="0.5"/><path d="M-18.8 20.6h5.2" stroke="#444" stroke-width="2" stroke-dasharray="1.2 0.5"/><rect x="-29.7" y="27.3" width="7.8" height="4.6" fill="#fff" stroke="#111" stroke-width="0.5"/><path d="M-28.4 29.7h5.2" stroke="#444" stroke-width="2" stroke-dasharray="1.2 0.5"/><rect x="-54.7" y="17.7" width="7.8" height="4.6" fill="#fff" stroke="#111" stroke-width="0.5"/><path d="M-53.4 20.1h5.2" stroke="#444" stroke-width="2" stroke-dasharray="1.2 0.5"/><rect x="41.3" y="20" width="7.8" height="4.6" fill="#fff" stroke="#111" stroke-width="0.5"/><path d="M42.6 22.4h5.2" stroke="#444" stroke-width="2" stroke-dasharray="1.2 0.5"/><circle cx="0" cy="-0.4" r="0.9" fill="#3a4ad0" stroke="#ddd" stroke-width="0.3"/><rect x="-2.9" y="-7.6000000000000005" width="1.8" height="1.8" fill="#f060c0" stroke="#fff" stroke-width="0.3"/><circle cx="-2" cy="6.9" r="1" fill="#ff5000" stroke="#802000" stroke-width="0.3"/></g><g transform="translate(353.5,225.5)"><path d="M-55.7 19.5 -49 39.5 -40.2 52.8 -29.1 61.2 30.8 61.2 37.5 59.4 40.8 47.9 48.6 39.5 54.8 19.5 55.7 -7.1 50.8 -29.3 39.7 -43.7 26.4 -47 24.2 -54.1 -32.4 -54.1 -35.7 -52.6 -37.9 -44.4 -49 -42.1 -54.6 -31.5 -56.8 -13.8Z" fill="#f06b00"/><path d="M-49 39.5 -40.2 52.8 -29.1 61.2 30.8 61.2 37.5 59.4 40.8 47.9 48.6 39.5 54.8 19.5 55.7 -7.1 50.8 -29.3 39.7 -43.7 26.4 -47 24.2 -54.1 -32.4 -54.1 -35.7 -52.6 -37.9 -44.4 -49 -42.1 -54.6 -31.5 -56.8 -13.8 -55.7 19.5ZM-4.5 -3.7 -1.5 -3.9 1.5 -2.9 3.2 -1.5 5 1.5 5.5 4.5 4.8 7.5 3 10.1 0 12 -3 12.4 -6 11.6 -9 9 -10.3 6 -10.4 3 -9.3 0 -7.5 -2.1Z" fill="#f09000"/><path d="M-49 39.5 -40.2 52.8 -29.1 61.2 30.8 61.2 37.5 59.4 40.8 47.9 48.6 39.5 54.8 19.5 55.7 -7.1 50.8 -29.3 39.7 -43.7 26.4 -47 24.2 -54.1 -32.4 -54.1 -35.7 -52.6 -37.9 -44.4 -49 -42.1 -54.6 -31.5 -56.8 -13.8 -55.7 19.5ZM-6 -9.7 0 -9.9 4.5 -8.3 8.8 -4.5 11 0 11.2 6 9.6 10.5 6 14.4 1.5 16.7 -4.5 17.1 -9 15.6 -13.4 12 -15.8 7.5 -16.2 1.5 -14.8 -3 -10.6 -7.5Z" fill="#f2b200"/><path d="M-49 39.5 -40.2 52.8 -29.1 61.2 30.8 61.2 37.5 59.4 40.8 47.9 48.6 39.5 54.8 19.5 55.7 -7.1 50.8 -29.3 39.7 -43.7 26.4 -47 24.2 -54.1 -32.4 -54.1 -35.7 -52.6 -37.9 -44.4 -49 -42.1 -54.6 -31.5 -56.8 -13.8 -55.7 19.5ZM-4.5 -15.5 3 -15 9.6 -12 15 -6.8 16.5 -4.2 17.8 0 18 4.3 17.4 7.5 14.5 13.5 9 18.6 6 20.2 1.5 21.5 -6 21.5 -10.5 20.2 -13.5 18.6 -16.5 16.3 -19.5 12.9 -21 10.2 -22.3 6 -22.3 0 -21 -4.2 -19.1 -7.5 -16.1 -10.5 -12 -13.3 -9 -14.5Z" fill="#f8ce00"/><path d="M-49 39.5 -40.2 52.8 -29.1 61.2 30.8 61.2 37.5 59.4 40.8 47.9 48.6 39.5 54.8 19.5 55.7 -7.1 50.8 -29.3 39.7 -43.7 26.4 -47 24.2 -54.1 -32.4 -54.1 -35.7 -52.6 -37.9 -44.4 -49 -42.1 -54.6 -31.5 -56.8 -13.8 -55.7 19.5ZM-4.5 -20 0 -20.1 4.5 -19.3 9 -17.8 13.5 -15.2 17.2 -12 19.6 -9 21.8 -4.5 23 0 23.1 4.5 22.5 8 21 12.3 18.4 16.5 15 19.9 10.5 23 6 24.8 1.5 25.8 -3 26 -9 25 -13.5 23.3 -17.1 21 -21 17.6 -24 13.6 -26.8 4.5 -26.8 1.5 -25.3 -4.5 -23.3 -9 -21 -11.8 -13.5 -17.5 -9 -19.1Z" fill="#fde900"/><path d="M-49 39.5 -40.2 52.8 -29.1 61.2 30.8 61.2 37.5 59.4 40.8 47.9 48.6 39.5 54.8 19.5 55.7 -7.1 50.8 -29.3 39.7 -43.7 26.4 -47 24.2 -54.1 -32.4 -54.1 -35.7 -52.6 -37.9 -44.4 -49 -42.1 -54.6 -31.5 -56.8 -13.8 -55.7 19.5ZM-7.5 -23.2 -1.5 -23.9 3 -23.5 9 -22 13.5 -19.9 18 -16.5 22.2 -12 24 -9 26.1 -3 26.9 1.5 26.7 6 25.1 12 23 16.5 19.5 20.9 15 24.7 11 27 6 28.7 0 29.6 -4.5 29.5 -10.5 28.3 -15 26.4 -20.4 22.5 -24.8 18 -27 14.2 -28.8 9 -29.7 4.5 -29.5 0 -27.9 -6 -25.5 -11.3 -22.3 -15 -16.5 -19.8 -12 -21.9Z" fill="#dcee00"/><path d="M-49 39.5 -40.2 52.8 -29.1 61.2 30.8 61.2 37.5 59.4 40.8 47.9 48.6 39.5 54.8 19.5 55.7 -7.1 50.8 -29.3 39.7 -43.7 26.4 -47 24.2 -54.1 -32.4 -54.1 -35.7 -52.6 -37.9 -44.4 -49 -42.1 -54.6 -31.5 -56.8 -13.8 -55.7 19.5ZM-1.5 -27.2 4.5 -26.6 12 -24.4 16.5 -21.8 21 -18.1 24.9 -13.5 27.3 -9 29.2 -3 29.9 3 29.2 9 27.2 15 24.8 19.5 21 23.9 16.5 27.6 12 30.2 6 32.2 0 33 -7.5 32.3 -13.5 30.5 -18 28 -22.9 24 -26.8 19.5 -29.3 15 -31.3 9 -32 3 -31.5 -2 -30 -7.5 -27 -13.5 -24 -17.1 -19.5 -21.1 -14.9 -24 -9 -26.1Z" fill="#77e300"/><path d="M-49 39.5 -40.2 52.8 -29.1 61.2 30.8 61.2 37.5 59.4 40.8 47.9 48.6 39.5 54.8 19.5 55.7 -7.1 50.8 -29.3 39.7 -43.7 26.4 -47 24.2 -54.1 -32.4 -54.1 -35.7 -52.6 -37.9 -44.4 -49 -42.1 -54.6 -31.5 -56.8 -13.8 -55.7 19.5ZM-3 -30.2 3 -30 10.5 -28.3 15 -26.4 21 -22.1 25.5 -17.6 28.5 -12.9 31.4 -6 32.4 0 32.4 6 31.3 12 28.5 18.7 25 24 19.5 29.2 13.5 33 7.5 35.1 1.5 36 -4.5 35.8 -12 34.2 -16.5 32.2 -23.5 27 -27.6 22.5 -31 16.5 -33.3 10.5 -33.9 6 -33.8 -1.5 -32.9 -6 -30 -12.7 -26.6 -18 -21 -23.2 -15 -27.1 -10.5 -28.8Z" fill="#2fda19"/><path d="M-49 39.5 -40.2 52.8 -29.1 61.2 30.8 61.2 37.5 59.4 40.8 47.9 48.6 39.5 54.8 19.5 55.7 -7.1 50.8 -29.3 39.7 -43.7 26.4 -47 24.2 -54.1 -32.4 -54.1 -35.7 -52.6 -37.9 -44.4 -49 -42.1 -54.6 -31.5 -56.8 -13.8 -55.7 19.5ZM-3 -33.3 3 -33.3 12 -31.3 16.5 -29.2 22.5 -24.9 27 -20.5 30 -16.1 33.9 -7.5 35.1 -1.5 35.1 7.5 34.3 12 30.5 21 27 26.3 21 31.9 15 35.8 9 37.9 1.5 39.1 -6 38.7 -13.5 36.9 -18 34.6 -24.1 30 -27.4 27 -30.6 22.5 -35 13.5 -36 9 -36.1 -1.5 -35.5 -6 -30.7 -16.5 -28.5 -20 -24.4 -24 -16.5 -29.7 -10.5 -32Z" fill="#00d67d"/><path d="M-49 39.5 -40.2 52.8 -29.1 61.2 30.8 61.2 37.5 59.4 40.8 47.9 48.6 39.5 54.8 19.5 55.7 -7.1 50.8 -29.3 39.7 -43.7 26.4 -47 24.2 -54.1 -32.4 -54.1 -35.7 -52.6 -37.9 -44.4 -49 -42.1 -54.6 -31.5 -56.8 -13.8 -55.7 19.5ZM-6 -36.4 1.5 -36.8 9 -35.7 15 -33.8 21 -30.4 27 -25.4 31.5 -20 36.2 -10.5 38 -4.5 38.3 6 37.5 12 35.5 18 31.5 25.6 27 31 19.5 36.9 13.5 39.9 6 41.8 -1.5 42.3 -9 41.4 -15 39.6 -21 36.4 -27 31.6 -31.5 26.4 -36.9 16.5 -38.6 10.5 -38.9 -1.5 -38.4 -6 -36.8 -10.5 -31.5 -21 -27 -25.9 -19.5 -31.8 -13.5 -34.6Z" fill="#00def6"/><path d="M-49 39.5 -40.2 52.8 -29.1 61.2 30.8 61.2 37.5 59.4 40.8 47.9 48.6 39.5 54.8 19.5 55.7 -7.1 50.8 -29.3 39.7 -43.7 26.4 -47 24.2 -54.1 -32.4 -54.1 -35.7 -52.6 -37.9 -44.4 -49 -42.1 -54.6 -31.5 -56.8 -13.8 -55.7 19.5ZM-10.5 -39.4 -3 -40.2 7.5 -39.9 13.5 -38.3 21.4 -34.5 28.5 -29.1 34.1 -22.5 38.3 -15 40.8 -7.5 42.1 0 41.9 6 39.7 16.5 36.5 24 31.5 30.9 25.5 36.8 18 41.5 10.5 44.3 1.5 45.3 -7.5 44.9 -13.5 43.6 -21 40.2 -27 36.1 -31.5 31.3 -37.9 22.5 -40.5 15.9 -42.3 6 -42.6 0 -40.8 -9 -37.4 -18 -32.3 -25.5 -26.3 -31.5 -18 -36.6Z" fill="#00bff8"/><path d="M-49 39.5 -40.2 52.8 -29.1 61.2 30.8 61.2 37.5 59.4 40.8 47.9 48.6 39.5 54.8 19.5 55.7 -7.1 50.8 -29.3 39.7 -43.7 26.4 -47 24.2 -54.1 -32.4 -54.1 -35.7 -52.6 -37.9 -44.4 -49 -42.1 -54.6 -31.5 -56.8 -13.8 -55.7 19.5ZM-9 -43.3 7.5 -43.4 13.5 -42.1 23.4 -37.5 29.8 -33 36 -26.2 40.5 -19.5 43.3 -12 45.4 -1.5 45.6 4.5 42.7 18 40.5 23.8 37.4 28.5 31.2 36 25.5 40.8 16.5 45.6 9 47.7 -1.5 48.2 -10.5 47.5 -19.5 44.2 -28.3 39 -31.5 35.6 -41.4 22.5 -42.9 18 -46 3 -45.3 -3 -41.6 -18 -37.7 -24 -31.5 -31.5 -26.2 -36 -15 -41.6Z" fill="#00a4f5"/><path d="M-49 39.5 -40.2 52.8 -29.1 61.2 30.8 61.2 37.5 59.4 40.8 47.9 48.6 39.5 54.8 19.5 55.7 -7.1 50.8 -29.3 39.7 -43.7 26.4 -47 24.2 -54.1 -32.4 -54.1 -35.7 -52.6 -37.9 -44.4 -49 -42.1 -54.6 -31.5 -56.8 -13.8 -55.7 19.5ZM-10.5 -46.1 7.5 -46.5 13.5 -45.5 24 -41 31.5 -36.2 38.8 -28.5 43.9 -21 46.2 -15 48.1 -4.5 48.6 3 46.7 13.5 44.2 22.5 40 30 33 38.5 27 43.5 18 48.2 9 50.5 -4.5 50.8 -12 49.9 -20.7 46.5 -28.5 41.9 -33 37.5 -43.2 24 -45 19.1 -48.2 4.5 -48 -2.1 -44.6 -18 -41.4 -24 -34.2 -33 -28.5 -38.1 -18 -43.7Z" fill="#028ef0"/><path d="M-49 39.5 -40.2 52.8 -29.1 61.2 30.8 61.2 37.5 59.4 40.8 47.9 48.6 39.5 54.8 19.5 55.7 -7.1 50.8 -29.3 39.7 -43.7 26.4 -47 24.2 -54.1 -32.4 -54.1 -35.7 -52.6 -37.9 -44.4 -49 -42.1 -54.6 -31.5 -56.8 -13.8 -55.7 19.5ZM-12 -48.7 -6 -49.3 10.5 -49.1 18 -47.2 26.3 -43.5 33.3 -39 40.9 -31.5 46.4 -24 49.4 -16.5 50.9 -6 50.9 6 48.3 18 45 27 39 36 31.7 43.5 24 48.6 15 52.1 6 53.3 -7.5 53.1 -15 51.5 -23 48 -30 43.4 -35.7 37.5 -43.7 27 -45.9 22.5 -47.3 18 -49.8 7.5 -50.3 0 -48.1 -15 -45.4 -22.5 -39 -31.6 -31.5 -39.3 -21 -45.4Z" fill="#1878ea"/><path d="M-49 39.5 -40.2 52.8 -29.1 61.2 30.8 61.2 37.5 59.4 40.8 47.9 48.6 39.5 54.8 19.5 55.7 -7.1 50.8 -29.3 39.7 -43.7 26.4 -47 24.2 -54.1 -32.4 -54.1 -35.7 -52.6 -37.9 -44.4 -49 -42.1 -54.6 -31.5 -56.8 -13.8 -55.7 19.5ZM-12 -51.4 -4.5 -52.1 12 -51.8 19.5 -49.9 27.4 -46.5 34.8 -42 42.8 -34.5 48.7 -27 52.1 -19.5 53.7 -9 53.4 7.5 51 18 47.1 28.5 42 36.6 34.3 45 25.5 51 16.5 54.5 7.5 55.8 -9 55.3 -16.5 53.5 -25.5 49.1 -30 46 -34.3 42 -43.5 30.5 -47.2 24 -50.1 15 -52.1 4.5 -51.7 -6 -49.7 -18 -46.5 -25.5 -39.9 -34.5 -32.2 -42 -21 -48.4Z" fill="#205fe5"/><path d="M55 13.7 49.9 28.5 44.8 37.5 36 47.2 27 53.4 18 56.8 7.5 58.2 -9 57.6 -15 56.3 -19.5 54.7 -27 50.7 -33 45.9 -40.5 37.5 -46.9 28.5 -50.1 21 -53.1 10.5 -53.9 3 -53.6 -7.5 -52.4 -16.5 -49.8 -24 -46.5 -30 -40.6 -37.5 -34.5 -43.4 -28.5 -47.5 -19.5 -52 -12.6 -54.1 -32.4 -54.1 -35.7 -52.6 -37.9 -44.4 -49 -42.1 -54.6 -31.5 -56.8 -13.8 -55.7 19.5 -49 39.5 -40.2 52.8 -29.1 61.2 30.8 61.2 37.5 59.4 40.8 47.9 48.6 39.5 54.8 19.5ZM37.5 -44.2 40.2 -42 43.3 -39.1 39.7 -43.7ZM16 -54.1 21 -52.7 25.1 -51.1 24.2 -54.1Z" fill="#2044e1"/><path d="M50.3 33.9 43.5 43.5 34.5 52 25.5 57.2 16.5 59.9 6 60.7 -6 60.2 -12 59.4 -21 56.4 -30 51 -36 45.5 -42.7 37.5 -47.1 31.5 -50.2 25.5 -53.5 16.5 -55.3 9 -55.7 3 -55.5 -10.5 -54.3 -18 -52.5 -23.5 -49.5 -29.7 -46.2 -34.5 -40.5 -41.2 -36 -45.5 -30 -49.7 -21.6 -54.1 -32.4 -54.1 -35.7 -52.6 -37.9 -44.4 -49 -42.1 -54.6 -31.5 -56.8 -13.8 -55.7 19.5 -49 39.5 -40.2 52.8 -29.1 61.2 30.8 61.2 37.5 59.4 40.8 47.9 48.6 39.5Z" fill="#201dc9"/><path d="M-36.9 -48.1 -31.5 -52 -27.8 -54.1 -32.4 -54.1 -35.7 -52.6ZM-56 -20.4 -53.6 -27 -51 -31.9 -47 -37.5 -41.7 -43.6 -49 -42.1 -54.6 -31.5ZM-14.3 61.2 -21 58.8 -27 55.6 -33 51 -37.5 46.5 -44.9 37.5 -49 31.5 -52 25.5 -55.8 14.9 -55.7 19.5 -49 39.5 -40.2 52.8 -29.1 61.2ZM39.8 51.4 31.5 57.4 22.7 61.2 30.8 61.2 37.5 59.4Z" fill="#2c10ae"/><path d="M-54.7 -30.2 -51 -36.4 -46 -42.8 -49 -42.1 -54.6 -31.5ZM-21.1 61.2 -30 56 -37.5 49.1 -48.2 36 -53.2 27 -49 39.5 -40.2 52.8 -29.1 61.2ZM38.3 56.5 34.5 59.1 30.6 61.2 37.5 59.4Z" fill="#5b26af"/><path d="M-25.9 61.2 -32 57 -36.9 52.5 -50.1 36.4 -49 39.5 -40.2 52.8 -29.1 61.2Z" fill="#7e2db5"/><path d="M-37.1 55.1 -40.5 51.3 -44.2 46.7 -40.2 52.8Z" fill="#9a30bd"/></g><g transform="translate(353.5,225.5)"><circle r="74.4" fill="none" stroke="#0c0c0c" stroke-width="0.8"/><path d="M73.6 -6.4L72.4 -6.3M72.8 -12.8L71.6 -12.6M69.4 -25.3L68.3 -24.9M67.0 -31.2L65.9 -30.7M60.5 -42.4L59.6 -41.7M56.6 -47.5L55.7 -46.7M47.5 -56.6L46.7 -55.7M42.4 -60.5L41.7 -59.6M31.2 -67.0L30.7 -65.9M25.3 -69.4L24.9 -68.3M12.8 -72.8L12.6 -71.6M6.4 -73.6L6.3 -72.4M-6.4 -73.6L-6.3 -72.4M-12.8 -72.8L-12.6 -71.6M-25.3 -69.4L-24.9 -68.3M-31.2 -67.0L-30.7 -65.9M-42.4 -60.5L-41.7 -59.6M-47.5 -56.6L-46.7 -55.7M-56.6 -47.5L-55.7 -46.7M-60.5 -42.4L-59.6 -41.7M-67.0 -31.2L-65.9 -30.7M-69.4 -25.3L-68.3 -24.9M-72.8 -12.8L-71.6 -12.6M-73.6 -6.4L-72.4 -6.3M-73.6 6.4L-72.4 6.3M-72.8 12.8L-71.6 12.6M-69.4 25.3L-68.3 24.9M-67.0 31.2L-65.9 30.7M-60.5 42.4L-59.6 41.7M-56.6 47.5L-55.7 46.7M-47.5 56.6L-46.7 55.7M-42.4 60.5L-41.7 59.6M-31.2 67.0L-30.7 65.9M-25.3 69.4L-24.9 68.3M-12.8 72.8L-12.6 71.6M-6.4 73.6L-6.3 72.4M6.4 73.6L6.3 72.4M12.8 72.8L12.6 71.6M25.3 69.4L24.9 68.3M31.2 67.0L30.7 65.9M42.4 60.5L41.7 59.6M47.5 56.6L46.7 55.7M56.6 47.5L55.7 46.7M60.5 42.4L59.6 41.7M67.0 31.2L65.9 30.7M69.4 25.3L68.3 24.9M72.8 12.8L71.6 12.6M73.6 6.4L72.4 6.3" stroke="#e0e0e0" stroke-width="0.9"/><path d="M73.9 -0.0L71.6 -0.0M71.4 -19.1L69.2 -18.5M64.0 -36.9L62.0 -35.8M52.3 -52.3L50.6 -50.6M37.0 -64.0L35.8 -62.0M19.1 -71.4L18.5 -69.2M0.0 -73.9L0.0 -71.6M-19.1 -71.4L-18.5 -69.2M-36.9 -64.0L-35.8 -62.0M-52.3 -52.3L-50.6 -50.6M-64.0 -36.9L-62.0 -35.8M-71.4 -19.1L-69.2 -18.5M-73.9 -0.0L-71.6 -0.0M-71.4 19.1L-69.2 18.5M-64.0 37.0L-62.0 35.8M-52.3 52.3L-50.6 50.6M-37.0 64.0L-35.8 62.0M-19.1 71.4L-18.5 69.2M-0.0 73.9L-0.0 71.6M19.1 71.4L18.5 69.2M37.0 64.0L35.8 62.0M52.3 52.3L50.6 50.6M64.0 37.0L62.0 35.8M71.4 19.1L69.2 18.5" stroke="#f0f0f0" stroke-width="0.7"/><text x="69.0" y="1.0" font-size="3.0" fill="#f4f4f4" text-anchor="middle" font-weight="bold" >0</text><text x="66.6" y="-16.9" font-size="3.0" fill="#f4f4f4" text-anchor="middle" font-weight="bold" >15</text><text x="59.8" y="-33.5" font-size="3.0" fill="#f4f4f4" text-anchor="middle" font-weight="bold" >30</text><text x="48.8" y="-47.8" font-size="3.0" fill="#f4f4f4" text-anchor="middle" font-weight="bold" >45</text><text x="34.5" y="-58.8" font-size="3.0" fill="#f4f4f4" text-anchor="middle" font-weight="bold" >60</text><text x="17.9" y="-65.6" font-size="3.0" fill="#f4f4f4" text-anchor="middle" font-weight="bold" >75</text><text x="0.0" y="-68.0" font-size="3.0" fill="#f4f4f4" text-anchor="middle" font-weight="bold" >90</text><text x="-17.9" y="-65.6" font-size="3.0" fill="#f4f4f4" text-anchor="middle" font-weight="bold" >105</text><text x="-34.5" y="-58.8" font-size="3.0" fill="#f4f4f4" text-anchor="middle" font-weight="bold" >120</text><text x="-48.8" y="-47.8" font-size="3.0" fill="#f4f4f4" text-anchor="middle" font-weight="bold" >135</text><text x="-59.8" y="-33.5" font-size="3.0" fill="#f4f4f4" text-anchor="middle" font-weight="bold" >150</text><text x="-66.6" y="-16.9" font-size="3.0" fill="#f4f4f4" text-anchor="middle" font-weight="bold" >165</text><text x="-69.0" y="1.0" font-size="3.0" fill="#f4f4f4" text-anchor="middle" font-weight="bold" >180</text><text x="-66.6" y="18.9" font-size="3.0" fill="#f4f4f4" text-anchor="middle" font-weight="bold" >195</text><text x="-59.8" y="35.5" font-size="3.0" fill="#f4f4f4" text-anchor="middle" font-weight="bold" >210</text><text x="-48.8" y="49.8" font-size="3.0" fill="#f4f4f4" text-anchor="middle" font-weight="bold" >225</text><text x="-34.5" y="60.8" font-size="3.0" fill="#f4f4f4" text-anchor="middle" font-weight="bold" >240</text><text x="-17.9" y="67.6" font-size="3.0" fill="#f4f4f4" text-anchor="middle" font-weight="bold" >255</text><text x="-0.0" y="70.0" font-size="3.0" fill="#f4f4f4" text-anchor="middle" font-weight="bold" >270</text><text x="17.9" y="67.6" font-size="3.0" fill="#f4f4f4" text-anchor="middle" font-weight="bold" >285</text><text x="34.5" y="60.8" font-size="3.0" fill="#f4f4f4" text-anchor="middle" font-weight="bold" >300</text><text x="48.8" y="49.8" font-size="3.0" fill="#f4f4f4" text-anchor="middle" font-weight="bold" >315</text><text x="59.8" y="35.5" font-size="3.0" fill="#f4f4f4" text-anchor="middle" font-weight="bold" >330</text><text x="66.6" y="18.9" font-size="3.0" fill="#f4f4f4" text-anchor="middle" font-weight="bold" >345</text></g><g transform="translate(353.5,225.5)" fill="none"><circle r="19.9" stroke="#111" stroke-width="0.55"/><circle r="33.2" stroke="#111" stroke-width="0.55"/><circle r="46.5" stroke="#111" stroke-width="0.55"/><circle r="59.8" stroke="#111" stroke-width="0.55"/><path d="M-1.3 -13.3h2.6M-1.3 13.3h2.6M-13.3 -0.9v1.8M13.3 -0.9v1.8M-1.3 -26.6h2.6M-1.3 26.6h2.6M-26.6 -0.9v1.8M26.6 -0.9v1.8M-1.3 -39.900000000000006h2.6M-1.3 39.900000000000006h2.6M-39.900000000000006 -0.9v1.8M39.900000000000006 -0.9v1.8M-1.3 -53.2h2.6M-1.3 53.2h2.6M-53.2 -0.9v1.8M53.2 -0.9v1.8" stroke="#222" stroke-width="0.55"/><circle cx="-0.7" cy="-5.3" r="35" stroke="#ffffff" stroke-width="0.6" stroke-dasharray="0.9 0.45" opacity="0.9"/></g><g transform="translate(353.5,225.5)"><circle cx="0" cy="0" r="13" fill="none" stroke="#fff" stroke-width="0.55" stroke-dasharray="1.1 0.6"/><circle cx="0" cy="-39.5" r="13" fill="none" stroke="#fff" stroke-width="0.55"/><circle cx="-39.5" cy="0" r="13" fill="none" stroke="#fff" stroke-width="0.55"/><circle cx="39.5" cy="0" r="13" fill="none" stroke="#fff" stroke-width="0.55"/><circle cx="0" cy="39.5" r="13" fill="none" stroke="#fff" stroke-width="0.55"/><rect x="-6" y="-3.6" width="12" height="7.2" fill="#fff" stroke="#222" stroke-width="0.5"/><text x="0" y="2.3" font-size="6.3" fill="#555" text-anchor="middle" textLength="9.6" lengthAdjust="spacingAndGlyphs">453</text><rect x="-6" y="-43.1" width="12" height="7.2" fill="#fff" stroke="#222" stroke-width="0.5"/><text x="0" y="-37.2" font-size="6.3" fill="#555" text-anchor="middle" textLength="9.6" lengthAdjust="spacingAndGlyphs">611</text><rect x="-45.5" y="-3.6" width="12" height="7.2" fill="#fff" stroke="#222" stroke-width="0.5"/><text x="-39.5" y="2.3" font-size="6.3" fill="#555" text-anchor="middle" textLength="9.6" lengthAdjust="spacingAndGlyphs">622</text><rect x="33.5" y="-3.6" width="12" height="7.2" fill="#fff" stroke="#222" stroke-width="0.5"/><text x="39.5" y="2.3" font-size="6.3" fill="#555" text-anchor="middle" textLength="9.6" lengthAdjust="spacingAndGlyphs">600</text><rect x="-6" y="35.9" width="12" height="7.2" fill="#fff" stroke="#222" stroke-width="0.5"/><text x="0" y="41.8" font-size="6.3" fill="#555" text-anchor="middle" textLength="9.6" lengthAdjust="spacingAndGlyphs">605</text><circle cx="0" cy="-0.4" r="0.9" fill="#3a4ad0" stroke="#ddd" stroke-width="0.3"/><rect x="-2.9" y="-7.6000000000000005" width="1.8" height="1.8" fill="#f060c0" stroke="#fff" stroke-width="0.3"/><circle cx="-2" cy="6.9" r="1" fill="#ff5000" stroke="#802000" stroke-width="0.3"/></g><rect x="170" y="8" width="56.3" height="32.3" fill="#c9c9c9" stroke="#555" stroke-width="0.5"/><text x="170.6" y="13" font-size="4.9" fill="#111" textLength="30" lengthAdjust="spacingAndGlyphs" >8.13mm/41.5D</text><rect x="227" y="8" width="56.3" height="32.3" fill="#c9c9c9" stroke="#555" stroke-width="0.5"/><text x="227.6" y="13" font-size="4.9" fill="#111" textLength="30" lengthAdjust="spacingAndGlyphs" >6.35mm/53.1D</text><rect x="170" y="260" width="56.3" height="33" fill="#c9c9c9" stroke="#555" stroke-width="0.5"/><rect x="227" y="260" width="56.3" height="33" fill="#c9c9c9" stroke="#555" stroke-width="0.5"/><rect x="177" y="41" width="99" height="177.5" fill="#c9c9c9"/><path d="M177 41.3H276" stroke="#e8e8e8" stroke-width="0.6"/><path d="M177 218.2H276" stroke="#777" stroke-width="0.7"/><text x="178.3" y="61.4" font-size="6.25" fill="#151515" >18/05/2011 13:47:07</text><text x="178.3" y="68.4" font-size="6.25" fill="#151515" >PostOp</text><text x="178.3" y="82.5" font-size="6.25" fill="#151515" >Vision Future Lyon</text><rect x="174.3" y="37.3" width="47.2" height="19" fill="#bebebe"/><text x="222" y="54.3" font-size="6.25" fill="#151515" >8949</text><path d="M179.5 84.7H274" stroke="#555" stroke-width="0.9"/><path d="M179.5 106H274" stroke="#555" stroke-width="0.9"/><path d="M179.5 140.3H274" stroke="#555" stroke-width="0.9"/><path d="M179.5 175H274" stroke="#555" stroke-width="0.9"/><path d="M179.5 216.2H274" stroke="#555" stroke-width="0.9"/><text x="180" y="91.2" font-size="5.33" fill="#1a1a1a" textLength="18.3" lengthAdjust="spacingAndGlyphs" >Sim K's</text><text x="197.7" y="91.2" font-size="5.33" fill="#f040a8" textLength="13" lengthAdjust="spacingAndGlyphs" >Astig:</text><text x="215.2" y="91.2" font-size="5.33" fill="#f040a8" >1.9 D</text><text x="233" y="91.2" font-size="5.33" fill="#f040a8" >@ 144 deg</text><text x="180" y="97.6" font-size="5.33" fill="#f03030" textLength="10.3" lengthAdjust="spacingAndGlyphs" >Max:</text><text x="215.2" y="97.6" font-size="5.33" fill="#f03030" >43.2 D</text><text x="233" y="97.6" font-size="5.33" fill="#f03030" >@ 144 deg</text><text x="180" y="104.1" font-size="5.33" fill="#2030e8" textLength="9" lengthAdjust="spacingAndGlyphs" >Min:</text><text x="215.2" y="104.1" font-size="5.33" fill="#2030e8" >41.4 D</text><text x="233" y="104.1" font-size="5.33" fill="#2030e8" >@ 54 deg</text><text x="180" y="112.3" font-size="5.33" fill="#1a1a1a" textLength="31" lengthAdjust="spacingAndGlyphs" >3.0 MM Zone:</text><text x="215.2" y="112.3" font-size="5.33" fill="#9838b0" >Irreg:</text><text x="233" y="112.3" font-size="5.33" fill="#9838b0" >± 4.5 D</text><text x="180" y="118.8" font-size="5.33" fill="#1a1a1a" textLength="23.5" lengthAdjust="spacingAndGlyphs" >Mean Pwr</text><text x="215.2" y="118.8" font-size="5.33" fill="#1a1a1a" >41.9</text><text x="233" y="118.8" font-size="5.33" fill="#1a1a1a" >± 3.8 D</text><text x="180" y="125.4" font-size="5.33" fill="#1a1a1a" textLength="22.5" lengthAdjust="spacingAndGlyphs" >Astig Pwr</text><text x="215.2" y="125.4" font-size="5.33" fill="#1a1a1a" >1.0</text><text x="233" y="125.4" font-size="5.33" fill="#1a1a1a" >± 2.5 D</text><text x="180" y="132" font-size="5.33" fill="#f03030" textLength="25" lengthAdjust="spacingAndGlyphs" >Steep Axis</text><text x="215.2" y="132" font-size="5.33" fill="#f03030" >133</text><text x="233" y="132" font-size="5.33" fill="#f03030" >± 49 deg</text><text x="180" y="138.5" font-size="5.33" fill="#2030e8" textLength="19.5" lengthAdjust="spacingAndGlyphs" >Flat Axis</text><text x="215.2" y="138.5" font-size="5.33" fill="#2030e8" style="white-space:pre" >  8</text><text x="233" y="138.5" font-size="5.33" fill="#2030e8" >± 49 deg</text><text x="180" y="146.6" font-size="5.33" fill="#1a1a1a" textLength="31" lengthAdjust="spacingAndGlyphs" >5.0 MM Zone:</text><text x="215.2" y="146.6" font-size="5.33" fill="#9838b0" >Irreg:</text><text x="233" y="146.6" font-size="5.33" fill="#9838b0" >± 4.1 D</text><text x="180" y="153.2" font-size="5.33" fill="#1a1a1a" textLength="23.5" lengthAdjust="spacingAndGlyphs" >Mean Pwr</text><text x="215.2" y="153.2" font-size="5.33" fill="#1a1a1a" >41.4</text><text x="233" y="153.2" font-size="5.33" fill="#1a1a1a" >± 3.3 D</text><text x="180" y="159.8" font-size="5.33" fill="#1a1a1a" textLength="22.5" lengthAdjust="spacingAndGlyphs" >Astig Pwr</text><text x="215.2" y="159.8" font-size="5.33" fill="#1a1a1a" >1.3</text><text x="233" y="159.8" font-size="5.33" fill="#1a1a1a" >± 2.4 D</text><text x="180" y="166.4" font-size="5.33" fill="#f03030" textLength="25" lengthAdjust="spacingAndGlyphs" >Steep Axis</text><text x="215.2" y="166.4" font-size="5.33" fill="#f03030" style="white-space:pre" > 93</text><text x="233" y="166.4" font-size="5.33" fill="#f03030" >± 45 deg</text><text x="180" y="172.9" font-size="5.33" fill="#2030e8" textLength="19.5" lengthAdjust="spacingAndGlyphs" >Flat Axis</text><text x="215.2" y="172.9" font-size="5.33" fill="#2030e8" style="white-space:pre" >  9</text><text x="233" y="172.9" font-size="5.33" fill="#2030e8" >± 45 deg</text><text x="180" y="181.3" font-size="5.33" fill="#1a1a1a" >White-to-White [mm] : 12.0</text><text x="180" y="187.9" font-size="5.33" fill="#1a1a1a" >Pupil Diameter [mm] :  5.4</text><text x="180" y="194.6" font-size="5.33" fill="#1a1a1a" >Thinnest : 438 um @ ( -0.2, -0.5 )</text><text x="180" y="201.2" font-size="5.33" fill="#1a1a1a" >ACD (Ep): 3.92 mm</text><text x="180" y="207.8" font-size="5.33" fill="#1a1a1a" >Kappa : 4.28° @ 177.39°</text><text x="180" y="214.3" font-size="5.33" fill="#1a1a1a" >Kappa Intercept : -0.19, 0.49</text><text x="227.70000000000002" y="234.1" font-size="15.3" fill="#000" text-anchor="middle" >OD</text><text x="226.8" y="233.2" font-size="15.3" fill="#fff" text-anchor="middle" >OD</text><rect x="194.3" y="239.5" width="13.6" height="14.3" fill="#000"/><defs><radialGradient id="og3" cx="0.62" cy="0.42" r="0.6"><stop offset="0" stop-color="#fff"/><stop offset="0.22" stop-color="#ff9090"/><stop offset="0.45" stop-color="#ff0000"/><stop offset="1" stop-color="#f00000"/></radialGradient></defs><circle cx="201.8" cy="246.8" r="5.9" fill="url(#og3)"/><path d="M207.6 240V253.6" stroke="#999" stroke-width="0.7"/><text x="212.9" y="252.5" font-size="11.8" fill="#000" font-weight="bold" textLength="46" lengthAdjust="spacingAndGlyphs" stroke="#000" stroke-width="0.5">ORBSCAN</text><text x="211.9" y="251.5" font-size="11.8" fill="#ff0000" font-weight="bold" textLength="46" lengthAdjust="spacingAndGlyphs" stroke="#ff0000" stroke-width="0.5">ORBSCAN</text><text x="226.5" y="258.5" font-size="3.4" fill="#888" text-anchor="middle" >v3.12</text>
</svg>
<svg x="498" y="386" width="454" height="310" viewBox="0 0 453 301" preserveAspectRatio="none">
<rect x="0" y="0" width="453" height="301" fill="#333333"/><text x="1.0" y="5.8" font-size="5.4" fill="#000" textLength="54.5" lengthAdjust="spacingAndGlyphs" >0.005 mm Color Steps</text><text x="0.5" y="5.3" font-size="5.4" fill="#ddd" textLength="54.5" lengthAdjust="spacingAndGlyphs" >0.005 mm Color Steps</text><text x="453.0" y="5.8" font-size="5.4" fill="#000" text-anchor="end" textLength="54.5" lengthAdjust="spacingAndGlyphs" >0.005 mm Color Steps</text><text x="452.5" y="5.3" font-size="5.4" fill="#ddd" text-anchor="end" textLength="54.5" lengthAdjust="spacingAndGlyphs" >0.005 mm Color Steps</text><text x="137.5" y="5.8" font-size="5.4" fill="#000" textLength="33.5" lengthAdjust="spacingAndGlyphs" >Elevation BFS</text><text x="137" y="5.3" font-size="5.4" fill="#ddd" textLength="33.5" lengthAdjust="spacingAndGlyphs" >Elevation BFS</text><text x="283.0" y="5.8" font-size="5.4" fill="#000" textLength="33.5" lengthAdjust="spacingAndGlyphs" >Elevation BFS</text><text x="282.5" y="5.3" font-size="5.4" fill="#ddd" textLength="33.5" lengthAdjust="spacingAndGlyphs" >Elevation BFS</text><text x="1.1" y="16.4" font-size="8.7" fill="#000" textLength="30.2" lengthAdjust="spacingAndGlyphs" >Anterior</text><text x="0.3" y="15.6" font-size="8.7" fill="#fff" textLength="30.2" lengthAdjust="spacingAndGlyphs" >Anterior</text><text x="453.40000000000003" y="16.4" font-size="8.7" fill="#000" text-anchor="end" textLength="35" lengthAdjust="spacingAndGlyphs" >Posterior</text><text x="452.6" y="15.6" font-size="8.7" fill="#fff" text-anchor="end" textLength="35" lengthAdjust="spacingAndGlyphs" >Posterior</text><text x="0.3" y="24.7" font-size="7" fill="#c4c4c4" textLength="15.7" lengthAdjust="spacingAndGlyphs" >Float</text><text x="452.6" y="24.7" font-size="7" fill="#c4c4c4" text-anchor="end" textLength="15.7" lengthAdjust="spacingAndGlyphs" >Float</text><text x="1.1" y="291.8" font-size="8.7" fill="#000" textLength="49.5" lengthAdjust="spacingAndGlyphs" >Keratometric</text><text x="0.3" y="291" font-size="8.7" fill="#fff" textLength="49.5" lengthAdjust="spacingAndGlyphs" >Keratometric</text><text x="453.40000000000003" y="291.8" font-size="8.7" fill="#000" text-anchor="end" textLength="37.5" lengthAdjust="spacingAndGlyphs" >Thickness</text><text x="452.6" y="291" font-size="8.7" fill="#fff" text-anchor="end" textLength="37.5" lengthAdjust="spacingAndGlyphs" >Thickness</text><text x="3.3" y="299.8" font-size="5.4" fill="#000" textLength="54" lengthAdjust="spacingAndGlyphs" >0.25 Auto Color Steps</text><text x="2.8" y="299.3" font-size="5.4" fill="#ddd" textLength="54" lengthAdjust="spacingAndGlyphs" >0.25 Auto Color Steps</text><text x="453.0" y="299.5" font-size="5.4" fill="#000" text-anchor="end" textLength="45.5" lengthAdjust="spacingAndGlyphs" >20 mic Color Steps</text><text x="452.5" y="299" font-size="5.4" fill="#ddd" text-anchor="end" textLength="45.5" lengthAdjust="spacingAndGlyphs" >20 mic Color Steps</text><text x="137.5" y="299.5" font-size="5.4" fill="#000" textLength="27.5" lengthAdjust="spacingAndGlyphs" >Axial Power</text><text x="137" y="299" font-size="5.4" fill="#ddd" textLength="27.5" lengthAdjust="spacingAndGlyphs" >Axial Power</text><text x="276.5" y="299.5" font-size="5.4" fill="#000" textLength="40" lengthAdjust="spacingAndGlyphs" >0.92 Pachymetry</text><text x="276" y="299" font-size="5.4" fill="#ddd" textLength="40" lengthAdjust="spacingAndGlyphs" >0.92 Pachymetry</text><text x="37.9" y="158.5" font-size="16.8" fill="#000" text-anchor="middle" >N</text><text x="37" y="157.6" font-size="16.8" fill="#fff" text-anchor="middle" >N</text><text x="411.9" y="158.5" font-size="16.8" fill="#000" text-anchor="middle" >T</text><text x="411" y="157.6" font-size="16.8" fill="#fff" text-anchor="middle" >T</text><linearGradient id="g13" x1="0" y1="0" x2="0" y2="1"><stop offset="0" stop-color="#70508a"/><stop offset="0.0298" stop-color="#80508a"/><stop offset="0.0766" stop-color="#a04870"/><stop offset="0.1149" stop-color="#c01840"/><stop offset="0.1574" stop-color="#e00818"/><stop offset="0.2" stop-color="#ff2000"/><stop offset="0.2426" stop-color="#ff4800"/><stop offset="0.2851" stop-color="#ff7000"/><stop offset="0.3319" stop-color="#ff9000"/><stop offset="0.3787" stop-color="#ffb000"/><stop offset="0.4213" stop-color="#ffd000"/><stop offset="0.4553" stop-color="#fff000"/><stop offset="0.4843" stop-color="#ffff00"/><stop offset="0.486" stop-color="#00c800"/><stop offset="0.5174" stop-color="#00c800"/><stop offset="0.5191" stop-color="#00f0f8"/><stop offset="0.5915" stop-color="#00c8ff"/><stop offset="0.6766" stop-color="#0098ff"/><stop offset="0.766" stop-color="#0058ff"/><stop offset="0.8043" stop-color="#1030f0"/><stop offset="0.8511" stop-color="#4028c8"/><stop offset="0.8979" stop-color="#8020b0"/><stop offset="0.9383" stop-color="#a010b8"/><stop offset="1" stop-color="#b828d0"/></linearGradient><rect x="0.3" y="30.5" width="24" height="120" fill="#000"/><path d="M24.05 30.5V150.5" stroke="#9a9a9a" stroke-width="0.6"/><path d="M0.3 150.2H24.3" stroke="#9a9a9a" stroke-width="0.6"/><rect x="1.1" y="31.5" width="6" height="117.5" fill="url(#g13)"/><text x="22.6" y="42.6" font-size="5.9" fill="#eaeaea" text-anchor="end" >0.075</text><text x="22.6" y="52.73" font-size="5.9" fill="#eaeaea" text-anchor="end" >0.060</text><text x="22.6" y="62.86" font-size="5.9" fill="#eaeaea" text-anchor="end" >0.045</text><text x="22.6" y="72.99" font-size="5.9" fill="#eaeaea" text-anchor="end" >0.030</text><text x="22.6" y="83.12" font-size="5.9" fill="#eaeaea" text-anchor="end" >0.015</text><text x="22.6" y="93.25" font-size="5.9" fill="#eaeaea" text-anchor="end" >0.000</text><text x="22.6" y="103.38" font-size="5.9" fill="#eaeaea" text-anchor="end" >-0.015</text><text x="22.6" y="113.51" font-size="5.9" fill="#eaeaea" text-anchor="end" >-0.030</text><text x="22.6" y="123.64" font-size="5.9" fill="#eaeaea" text-anchor="end" >-0.045</text><text x="22.6" y="133.77" font-size="5.9" fill="#eaeaea" text-anchor="end" >-0.060</text><text x="22.6" y="143.9" font-size="5.9" fill="#eaeaea" text-anchor="end" >-0.075</text><linearGradient id="g14" x1="0" y1="0" x2="0" y2="1"><stop offset="0" stop-color="#70508a"/><stop offset="0.0298" stop-color="#80508a"/><stop offset="0.0766" stop-color="#a04870"/><stop offset="0.1149" stop-color="#c01840"/><stop offset="0.1574" stop-color="#e00818"/><stop offset="0.2" stop-color="#ff2000"/><stop offset="0.2426" stop-color="#ff4800"/><stop offset="0.2851" stop-color="#ff7000"/><stop offset="0.3319" stop-color="#ff9000"/><stop offset="0.3787" stop-color="#ffb000"/><stop offset="0.4213" stop-color="#ffd000"/><stop offset="0.4553" stop-color="#fff000"/><stop offset="0.4843" stop-color="#ffff00"/><stop offset="0.486" stop-color="#00c800"/><stop offset="0.5174" stop-color="#00c800"/><stop offset="0.5191" stop-color="#00f0f8"/><stop offset="0.5915" stop-color="#00c8ff"/><stop offset="0.6766" stop-color="#0098ff"/><stop offset="0.766" stop-color="#0058ff"/><stop offset="0.8043" stop-color="#1030f0"/><stop offset="0.8511" stop-color="#4028c8"/><stop offset="0.8979" stop-color="#8020b0"/><stop offset="0.9383" stop-color="#a010b8"/><stop offset="1" stop-color="#b828d0"/></linearGradient><rect x="428.3" y="30.5" width="24.4" height="120" fill="#000"/><path d="M452.45 30.5V150.5" stroke="#9a9a9a" stroke-width="0.6"/><path d="M428.3 150.2H452.7" stroke="#9a9a9a" stroke-width="0.6"/><rect x="429.1" y="31.5" width="6" height="117.5" fill="url(#g14)"/><text x="451.0" y="42.6" font-size="5.9" fill="#eaeaea" text-anchor="end" >0.075</text><text x="451.0" y="52.73" font-size="5.9" fill="#eaeaea" text-anchor="end" >0.060</text><text x="451.0" y="62.86" font-size="5.9" fill="#eaeaea" text-anchor="end" >0.045</text><text x="451.0" y="72.99" font-size="5.9" fill="#eaeaea" text-anchor="end" >0.030</text><text x="451.0" y="83.12" font-size="5.9" fill="#eaeaea" text-anchor="end" >0.015</text><text x="451.0" y="93.25" font-size="5.9" fill="#eaeaea" text-anchor="end" >0.000</text><text x="451.0" y="103.38" font-size="5.9" fill="#eaeaea" text-anchor="end" >-0.015</text><text x="451.0" y="113.51" font-size="5.9" fill="#eaeaea" text-anchor="end" >-0.030</text><text x="451.0" y="123.64" font-size="5.9" fill="#eaeaea" text-anchor="end" >-0.045</text><text x="451.0" y="133.77" font-size="5.9" fill="#eaeaea" text-anchor="end" >-0.060</text><text x="451.0" y="143.9" font-size="5.9" fill="#eaeaea" text-anchor="end" >-0.075</text><linearGradient id="g15" x1="0" y1="0" x2="0" y2="1"><stop offset="0" stop-color="#f08888"/><stop offset="0.0723" stop-color="#e87070"/><stop offset="0.0979" stop-color="#c05858"/><stop offset="0.1234" stop-color="#b04030"/><stop offset="0.1447" stop-color="#c00000"/><stop offset="0.166" stop-color="#d80000"/><stop offset="0.1915" stop-color="#e82000"/><stop offset="0.217" stop-color="#f04800"/><stop offset="0.2511" stop-color="#f07000"/><stop offset="0.2851" stop-color="#f09000"/><stop offset="0.3362" stop-color="#e8b800"/><stop offset="0.3787" stop-color="#f8e000"/><stop offset="0.4213" stop-color="#ffff00"/><stop offset="0.4468" stop-color="#a0f000"/><stop offset="0.4723" stop-color="#50e000"/><stop offset="0.4979" stop-color="#00c840"/><stop offset="0.5191" stop-color="#00e0c0"/><stop offset="0.5319" stop-color="#00e8f8"/><stop offset="0.5957" stop-color="#00b8f8"/><stop offset="0.634" stop-color="#0090f0"/><stop offset="0.6851" stop-color="#2060e0"/><stop offset="0.7191" stop-color="#2030d8"/><stop offset="0.7702" stop-color="#2010b0"/><stop offset="0.8043" stop-color="#401098"/><stop offset="0.8553" stop-color="#8030b0"/><stop offset="0.8894" stop-color="#b030c0"/><stop offset="0.9404" stop-color="#c840d8"/><stop offset="1" stop-color="#d868f0"/></linearGradient><rect x="0.3" y="151" width="24" height="119" fill="#000"/><path d="M24.05 151V270" stroke="#9a9a9a" stroke-width="0.6"/><path d="M0.3 269.7H24.3" stroke="#9a9a9a" stroke-width="0.6"/><rect x="1.1" y="152" width="6" height="116.5" fill="url(#g15)"/><text x="22.6" y="162.6" font-size="5.9" fill="#eaeaea" text-anchor="end" >43.75</text><text x="22.6" y="172.75" font-size="5.9" fill="#eaeaea" text-anchor="end" >43.00</text><text x="22.6" y="182.9" font-size="5.9" fill="#eaeaea" text-anchor="end" >42.25</text><text x="22.6" y="193.05" font-size="5.9" fill="#eaeaea" text-anchor="end" >41.50</text><text x="22.6" y="203.2" font-size="5.9" fill="#eaeaea" text-anchor="end" >40.75</text><text x="22.6" y="213.35" font-size="5.9" fill="#eaeaea" text-anchor="end" >40.00</text><text x="22.6" y="223.5" font-size="5.9" fill="#eaeaea" text-anchor="end" >39.25</text><text x="22.6" y="233.65" font-size="5.9" fill="#eaeaea" text-anchor="end" >38.50</text><text x="22.6" y="243.8" font-size="5.9" fill="#eaeaea" text-anchor="end" >37.75</text><text x="22.6" y="253.95" font-size="5.9" fill="#eaeaea" text-anchor="end" >37.00</text><text x="22.6" y="264.1" font-size="5.9" fill="#eaeaea" text-anchor="end" >36.25</text><linearGradient id="g16" x1="0" y1="0" x2="0" y2="1"><stop offset="0" stop-color="#e070f8"/><stop offset="0.0383" stop-color="#d050f0"/><stop offset="0.0723" stop-color="#c030e0"/><stop offset="0.1149" stop-color="#b030c8"/><stop offset="0.1574" stop-color="#9030b8"/><stop offset="0.2" stop-color="#6028b0"/><stop offset="0.2255" stop-color="#3010a8"/><stop offset="0.2511" stop-color="#2010c0"/><stop offset="0.2851" stop-color="#2040e0"/><stop offset="0.3362" stop-color="#2070e8"/><stop offset="0.3787" stop-color="#0090f0"/><stop offset="0.4213" stop-color="#00b0f8"/><stop offset="0.4553" stop-color="#00d8f8"/><stop offset="0.4851" stop-color="#00f0f0"/><stop offset="0.4936" stop-color="#00d060"/><stop offset="0.5149" stop-color="#20d820"/><stop offset="0.5404" stop-color="#60e000"/><stop offset="0.566" stop-color="#a0e800"/><stop offset="0.583" stop-color="#f0f000"/><stop offset="0.6" stop-color="#fff000"/><stop offset="0.634" stop-color="#f8d000"/><stop offset="0.6766" stop-color="#f0a800"/><stop offset="0.7191" stop-color="#f07000"/><stop offset="0.7532" stop-color="#f04800"/><stop offset="0.7702" stop-color="#e83000"/><stop offset="0.8043" stop-color="#e01000"/><stop offset="0.8383" stop-color="#c80000"/><stop offset="0.8553" stop-color="#c01010"/><stop offset="0.8723" stop-color="#b03040"/><stop offset="0.9064" stop-color="#c05060"/><stop offset="0.9404" stop-color="#e87070"/><stop offset="1" stop-color="#f09090"/></linearGradient><rect x="428.3" y="151" width="24.4" height="119" fill="#000"/><path d="M452.45 151V270" stroke="#9a9a9a" stroke-width="0.6"/><path d="M428.3 269.7H452.7" stroke="#9a9a9a" stroke-width="0.6"/><rect x="429.1" y="152" width="6" height="116.5" fill="url(#g16)"/><text x="435.7" y="162.6" font-size="5.9" fill="#eaeaea" >900</text><text x="435.7" y="172.75" font-size="5.9" fill="#eaeaea" >840</text><text x="435.7" y="182.9" font-size="5.9" fill="#eaeaea" >780</text><text x="435.7" y="193.05" font-size="5.9" fill="#eaeaea" >720</text><text x="435.7" y="203.2" font-size="5.9" fill="#eaeaea" >660</text><text x="435.7" y="213.35" font-size="5.9" fill="#eaeaea" >600</text><text x="435.7" y="223.5" font-size="5.9" fill="#eaeaea" >540</text><text x="435.7" y="233.65" font-size="5.9" fill="#eaeaea" >480</text><text x="435.7" y="243.8" font-size="5.9" fill="#eaeaea" >420</text><text x="435.7" y="253.95" font-size="5.9" fill="#eaeaea" >360</text><text x="435.7" y="264.1" font-size="5.9" fill="#eaeaea" >300</text><g transform="translate(99.5,75.5)"><path d="M-62.4 -35.8 -62.4 17.6 -60.1 30.9 -52.1 48.7 -43 59.9 -40.7 61.5 -39 62.7 -36.9 63.9 -34.8 65.1 -32.6 66.2 -30.5 67.2 -28.2 68.2 -26 69.1 -25.8 69.1 27.5 68.5 28.2 68.2 30.5 67.2 32.6 66.2 34.8 65.1 36.9 63.9 39 62.7 41 61.4 43 60 44.9 58.5 46.8 57 48.7 55.5 50.4 53.9 52.2 52.2 53.9 50.4 55.5 48.7 57 46.8 57.3 46.5 62.2 35.4 64 26.5 64 -29.1 61.4 -40.9 61.4 -41 60 -43 58.5 -44.9 57 -46.8 55.5 -48.7 53.9 -50.4 52.2 -52.2 50.4 -53.9 48.7 -55.5 46.8 -57 44.9 -58.5 43 -60 41 -61.4 39 -62.7 36.9 -63.9 34.8 -65.1 34.6 -65.2 -34.6 -65.2 -34.8 -65.1 -36.9 -63.9 -39 -62.7 -41 -61.4 -43 -60 -44.9 -58.5 -46.8 -57 -48.7 -55.5 -50.4 -53.9 -52.2 -52.2 -53.9 -50.4 -55.5 -48.7 -57 -46.8 -58.5 -45Z" fill="#5126c2"/><path d="M-62.4 17.6 -60.1 30.9 -52.1 48.7 -43 59.9 -34.8 65.1 -25.8 69.1 27.5 68.5 30.5 67.2 41 61.4 46.8 57 52.2 52.2 57.3 46.5 62.2 35.4 64 26.5 64 -29.1 61.4 -40.9 55.5 -48.7 48.7 -55.5 41 -61.4 34.6 -65.2 -34.6 -65.2 -44.9 -58.5 -53.9 -50.4 -58.5 -45 -62.4 -35.8Z" fill="#2f2bd6"/><path d="M-62.4 17.6 -60.1 30.9 -52.1 48.7 -43 59.9 -34.8 65.1 -25.8 69.1 27.5 68.5 30.5 67.2 41 61.4 46.8 57 52.2 52.2 57.3 46.5 62.2 35.4 64 26.5 64 -29.1 61.4 -40.9 55.5 -48.7 48.7 -55.5 41 -61.4 34.6 -65.2 -34.6 -65.2 -44.9 -58.5 -53.9 -50.4 -58.5 -45 -62.4 -35.8Z" fill="#1230ef"/><path d="M-35.7 64.6 -25.5 65 -14.6 69 27.5 68.5 34.8 65.1 43 60 50.4 53.9 57.3 46.5 62.2 35.4 64 26.5 64 -29.1 61.4 -40.9 57 -46.8 52.2 -52.2 46.8 -57 41 -61.4 34.8 -65.1 -34.6 -65.2 -41 -61.4 -46.8 -57 -52.2 -52.2 -58.5 -45 -62.4 -35.8 -62.4 17.6 -60.1 30.9 -52.1 48.7 -43 59.9Z" fill="#054cfb"/><path d="M-42 60.6 -28.5 60.3 -24 61 -6.3 68.9 27.5 68.5 34.8 65.1 43 60 50.4 53.9 57.3 46.5 62.2 35.4 64 26.5 64 -29.1 61.4 -40.9 60 -43 52.2 -52.2 46.8 -57 41 -61.4 34.6 -65.2 -34.6 -65.2 -41 -61.4 -46.8 -57 -52.2 -52.2 -58.5 -45 -62.4 -35.8 -62.4 17.6 -60.1 30.9 -52.1 48.7 -43 59.9Z" fill="#0065ff"/><path d="M-45.6 56.6 -27 56.2 -24 56.7 -9 64.4 2.6 68.8 27.5 68.5 34.8 65.1 43 60 50.4 53.9 57 46.8 62.2 35.4 64 26.5 64 -29.1 61.4 -40.9 55.5 -48.7 46.8 -57 41 -61.4 34.6 -65.2 -34.6 -65.2 -41 -61.4 -46.8 -57 -52.2 -52.2 -57 -46.8 -58.5 -45 -62.4 -35.8 -62.4 17.6 -60.1 30.9 -52.1 48.7Z" fill="#0079ff"/><path d="M-48.5 53.2 -43.5 51.8 -34.5 53.1 -25.5 52.2 -22.5 53.2 -15 58.2 -9 61.4 -3 63.8 6 66.4 9.9 68.7 27.5 68.5 34.8 65.1 41 61.4 48.7 55.5 53.9 50.4 57.3 46.5 62.2 35.4 64 26.5 64 -29.1 61.4 -40.9 57 -46.8 50.4 -53.9 43 -60 34.6 -65.2 -34.6 -65.2 -44.9 -58.5 -53.9 -50.4 -58.5 -45 -62.4 -35.8 -62.4 17.6 -60.1 30.9 -52.1 48.7Z" fill="#008eff"/><path d="M-50.7 50.5 -45 47.8 -34.5 49.7 -24 48.9 -10.5 57.9 -3 61.1 10 64.5 12.2 66 14.3 68.6 27.5 68.5 30.5 67.2 41 61.4 46.8 57 52.2 52.2 57.3 46.5 62.2 35.4 64 26.5 64 -29.1 61.4 -40.9 57 -46.8 52.2 -52.2 43 -60 34.6 -65.2 -34.6 -65.2 -43 -60 -52.2 -52.2 -58.5 -45 -62.4 -35.8 -62.4 17.6 -60.1 30.9 -52.1 48.7Z" fill="#00a0ff"/><path d="M-52.1 48 -48 45.5 -45 44.6 -34.5 46.9 -23 46.5 -13.5 53.6 -7.5 56.8 -1.5 59.1 12 62.5 14.7 64.5 17.6 68.6 27.5 68.5 30.5 67.2 41 61.4 50.4 53.9 57.3 46.5 62.2 35.4 64 26.5 64 -29.1 61.4 -40.9 53.9 -50.4 44.9 -58.5 34.6 -65.2 -34.6 -65.2 -43 -60 -50.4 -53.9 -58.5 -45 -62.4 -35.8 -62.4 17.6 -60.1 30.9ZM-15 -17.1 -11.9 -16.5 -10.6 -15 -10.1 -13.5 -10.1 -10.5 -12 -3.1 -16.5 -6.7 -18 -8.5 -19.5 -11.8 -19.5 -13.5 -18.7 -15 -16.8 -16.5ZM10.5 -57.1 15.3 -55.5 19 -52.5 21.7 -49.5 23 -46.5 22.9 -45 20.3 -42 16.5 -40.2 12 -39.3 7.5 -40.1 5.4 -42 3.6 -46.5 3.5 -49.5 4 -52.5 6 -55.6 7.5 -56.5Z" fill="#00b0ff"/><path d="M-53.4 45.9 -48 42.9 -45 42.2 -33 44.6 -22.5 44.7 -13.5 51.1 -6 55.1 0 57.2 10.5 59.6 13.5 60.8 18.1 64.5 20.7 68.6 27.5 68.5 30.5 67.2 39 62.7 48.7 55.5 57.3 46.5 62.2 35.4 64 26.5 64 -23.7 64 -22.5 63 -21 61.5 -20.4 58.5 -21 57 -22.4 56.2 -24 55.9 -27 57 -28.6 60 -28.2 63 -26 64 -24 64 -29.1 61.4 -40.9 55.5 -48.7 50.4 -53.9 44.9 -58.5 34.6 -65.2 -34.6 -65.2 -41 -61.4 -48.7 -55.5 -53.9 -50.4 -58.5 -45 -62.4 -35.8 -62.4 17.6 -60.1 30.9ZM-10.5 -24.8 -7.5 -25.4 -4.5 -24.9 -3.7 -24 -2.7 -21 -2.9 -6 -1.6 6 -3 7.9 -6 8.7 -9 8.8 -12 8.2 -15 6.4 -16.5 4.9 -19.5 -0.3 -22.9 -10.5 -22.6 -15 -20 -19.5 -16.5 -22.3ZM7.5 -61.9 10.5 -61.7 13.5 -60.8 19.7 -57 27.5 -49.5 29.4 -46.5 30.1 -43.5 29.8 -42 28.5 -40.5 23 -37.5 9 -32 4.5 -30.9 1.5 -30.8 0 -31.7 -1.3 -36 -1.9 -45 -1.4 -52.5 -0 -57 1.5 -59.2 4.5 -61.3Z" fill="#00c0ff"/><path d="M-54.4 43.8 -49.5 41.1 -45 40.1 -33 42.5 -22.5 43.3 -6 52.6 15 59.3 20.2 63 23.8 68.5 27.5 68.5 32.6 66.2 39 62.7 44.9 58.5 53.9 50.4 57.3 46.5 62.2 35.4 64 26.5 64 -16.5 60 -17.2 57 -19.1 55.2 -21 50.5 -28.5 40.5 -35.3 37.5 -36 33 -35.9 25.5 -34.3 19.5 -31.7 13.8 -28.5 9 -24.8 5.6 -21 3.4 -16.5 1.7 -10.5 0.8 -4.5 0.5 6 -0.8 9 -4.5 10.9 -9 11.9 -13.5 11.7 -16.5 10.6 -20.1 7.5 -23 1.5 -25.4 -9 -25.2 -15 -23.6 -19.5 -21 -23.3 -11.7 -31.5 -9 -35.1 -7.1 -40.5 -4.5 -58.7 -2.1 -63 1.1 -65.2 -34.6 -65.2 -44.9 -58.5 -53.9 -50.4 -58.5 -45 -62.4 -35.8 -62.4 17.6 -60.1 30.9ZM12.4 -65.2 18 -62.2 22.8 -58.5 39 -44.2 49.5 -39.9 57 -34 63.8 -30 61.4 -40.9 60 -43 52.2 -52.2 46.8 -57 41 -61.4 34.6 -65.2Z" fill="#00d1fe"/><path d="M-55.3 41.7 -49.5 38.6 -45 37.9 -22.5 41.9 -3.7 51 16.5 57.6 20.7 60 24 62.9 27 68.5 30.5 67.2 41 61.4 46.8 57 52.2 52.2 57.3 46.5 62.2 35.4 64 26.5 64 -12.5 61.5 -13 57 -16.2 49.5 -25.6 43.5 -30.1 39 -31.9 36 -32.3 31.5 -32.2 27 -31.1 21.1 -28.5 16.7 -25.5 13.4 -22.5 9.7 -18 5.4 -9 1.7 7.5 0 10.4 -6 13.8 -10.5 15.2 -15 15.2 -19.5 13.7 -23 10.5 -25.8 4.5 -27.8 -6 -27.7 -15 -26.5 -19.5 -24 -24.6 -15.2 -34.5 -12 -39.8 -10.2 -46.5 -8.5 -61.5 -7 -65.2 -34.6 -65.2 -44.9 -58.5 -53.9 -50.4 -58.5 -45 -62.4 -35.8 -62.4 17.6 -60.1 30.9ZM19.2 -65.2 39.1 -49.5 51 -42.3 63 -33.8 61.4 -40.9 58.5 -44.9 52.2 -52.2 43 -60 34.6 -65.2Z" fill="#00e0fb"/><path d="M24.1 -65.2 51 -45.9 62.1 -37.6 61.4 -40.9 55.5 -48.7 50.4 -53.9 43 -60 34.6 -65.2ZM64 -8.2 60.7 -9 58.5 -10.6 48 -23.5 43.5 -27 37.5 -29 34.5 -29.2 29.9 -28.5 25.5 -26.8 21 -24 17.6 -21 13.8 -16.5 9 -7.8 2.7 9 0 12.5 -6 16.9 -10.5 18.7 -16.5 19 -19.5 18.3 -22.5 16.8 -26.9 12 -29.3 6 -30.8 -4.5 -30.5 -15 -29.2 -21 -26.5 -27 -18 -37.5 -15 -43.3 -13.7 -49.5 -12.5 -65.2 -34.6 -65.2 -44.9 -58.5 -53.9 -50.4 -58.5 -45 -62.4 -35.8 -62.4 17.6 -60.1 30.9 -56.4 39.2 -51 36.3 -48 35.4 -40.5 35.7 -22.5 40.3 0.2 49.5 16.5 54.9 22.5 57.6 26.1 60 28.7 63 30.2 67.3 41 61.4 46.8 57 52.2 52.2 57.3 46.5 62.2 35.4 64 26.5ZM-31.9 -63 -30.4 -61.5 -30.2 -58.5 -31.3 -57 -33 -56.2 -36 -57 -36.7 -58.5 -35.9 -61.5 -34.5 -62.8Z" fill="#00e4ab"/><path d="M30.5 -65.2 52.6 -49.5 58.7 -44.7 52.2 -52.2 43 -60 34.6 -65.2ZM-57.9 35.9 -52.9 33 -49.5 31.8 -43.5 31.6 -34.5 33.4 -15 39.8 25.5 54.8 28.9 57 31.5 59.7 34 65.5 44.9 58.5 53.9 50.4 57.3 46.5 62.2 35.4 64 26.5 64 -3.9 60 -4.5 57 -6.5 46.9 -19.5 42 -23.6 37.5 -25.2 31.5 -24.9 28.5 -23.9 24 -21.2 17.9 -15 13.5 -7.8 8.1 4.5 4.1 12 -1.5 18.2 -6 21.2 -12 23 -18 23 -24 20.9 -28.9 16.5 -30.9 13.5 -32.8 9 -34.5 -1.5 -34.4 -13.5 -33.1 -21 -30.3 -28.5 -27.3 -33 -21 -40.4 -18.7 -45 -17.6 -51 -16.9 -65.2 -31.4 -65.2 -29.8 -64.5 -28.7 -63 -28 -60 -28.3 -57 -30 -55.1 -34.5 -54.1 -37.5 -55.3 -38.4 -58.5 -37.6 -61.5 -36.5 -63 -33 -65.2 -34.6 -65.2 -44.9 -58.5 -53.9 -50.4 -58.5 -45 -62.4 -35.8 -62.4 17.6 -60.1 30.9Z" fill="#00c800"/><path d="M-59.6 32.2 -51 28.1 -46.5 27.4 -42 27.3 -36 28.1 -27 31.3 -21 32.3 -16.5 33.8 24 49.3 28.5 51.5 31.5 53.8 34.1 57 37 63.8 46.8 57 55.5 48.7 57.3 46.5 62.2 35.4 64 26.5 64 0.4 58.5 -0.3 53.9 -3 49.8 -7.5 43.5 -16.1 40.5 -19 37.5 -20.4 33 -20.4 27.5 -18 22.5 -13.2 19.5 -8.7 8.3 13.5 4.5 18.8 0 23.5 -4.5 26 -9 27.5 -16.5 28.3 -21 27.4 -28.5 23.4 -31.3 21 -33.4 18 -35.4 13.5 -37.2 7.5 -38.5 -3 -37.8 -16.5 -36.6 -24 -33.9 -31.5 -31 -36 -25.3 -42 -23 -46.5 -22.4 -51 -23.6 -55.5 -22.5 -56.4 -21.3 -60 -21.4 -65.2 -26.5 -65.2 -24.1 -55.5 -27 -53.1 -31.5 -51.8 -36 -51.5 -37.5 -51.8 -39 -53.3 -39.7 -55.5 -39.8 -58.5 -37.7 -63.5 -46.8 -57 -55.5 -48.7 -58.5 -45 -62.4 -35.8 -62.4 17.6 -60.1 30.9Z" fill="#fff300"/><path d="M-60.5 28.8 -54 25.7 -42 21.6 -40.5 20.3 -39.5 18 -39.5 13.5 -41.1 4.5 -41.6 -1.5 -40.6 -15 -40.6 -31.5 -42.4 -43.5 -41.2 -51 -40.9 -58.5 -39.5 -62.3 -48.7 -55.5 -55.5 -48.7 -58.5 -45 -62.4 -35.8 -62.4 17.6ZM30 0.9 21 4.7 18 7.5 15 11.8 11.7 18 10.2 24 10.7 36 12.3 39 15 41 28.5 45.8 32 48 34.5 51.2 36 54.2 38.9 62.7 46.8 57 55.5 48.7 57.3 46.5 62.2 35.4 64 26.5 64 5.5 54 5.4 42 2 34.5 0.6Z" fill="#ffda00"/><path d="M-60.8 25.5 -46.5 18.4 -44.7 16.5 -43.6 13.5 -44.6 -1.5 -43 -15 -46 -34.5 -46.3 -40.5 -45.7 -45 -42.9 -52.5 -40.9 -61.5 -48.7 -55.5 -57 -46.8 -58.5 -45 -62.4 -35.8 -62.4 17.6ZM64 11.8 57 14.4 51 19.2 48 20.4 45 19.5 37.5 12.3 34.5 10.9 31.5 10.3 27 10.7 24 12 21 14.6 18.7 18 17.5 21 16.7 25.5 16.5 31.5 17.3 34.5 18.5 36 21 37.3 31.5 39.6 34.5 41 36 42.5 37.5 45.9 40.5 61.7 48.7 55.5 57.3 46.5 62.2 35.4 64 26.5Z" fill="#ffc300"/><path d="M-61.5 22.4 -52.5 17.7 -49.5 15 -48 12 -47.5 -3 -45.6 -13.5 -49 -30 -49.3 -37.5 -47.8 -45 -44.3 -52.5 -42 -60.7 -50.4 -53.9 -57 -46.8 -58.5 -45 -62.4 -35.8 -62.4 17.6ZM30 24.7 30.7 24 30.8 22.5 30 21.7 28.5 22.4 28.5 24ZM64 19.3 47.2 31.5 44.7 34.5 43.7 37.5 41.5 51 41.3 57 42 60.7 50.4 53.9 57.3 46.5 62.2 35.4 64 26.5Z" fill="#ffad00"/><path d="M-62.2 19.1 -55.4 15 -53.1 12 -52 9 -49.3 -13.5 -52 -27 -52 -36 -50.1 -43.5 -45 -53.8 -43 -60 -50.4 -53.9 -57 -46.8 -58.5 -45 -62.4 -35.8 -62.4 17.6ZM63.7 27 55.5 33.3 49.5 40.4 44.7 51 43.7 55.5 43.8 59.4 50.4 53.9 57.3 46.5 62.2 35.4Z" fill="#ff9a00"/><path d="M-62.4 14.8 -57.8 10.5 -56.5 7.5 -55.5 3 -54.1 -12 -55.3 -28.5 -54.4 -36 -51.8 -43.5 -46 -54 -44 -59.3 -52.2 -52.2 -58.5 -45 -62.4 -35.8ZM62.2 35.5 55.5 41.5 51 47.3 47.9 52.5 46.5 57.3 52.2 52.2 57.3 46.5Z" fill="#ff8600"/><path d="M-62.3 7.5 -60.4 3 -59.3 -3 -58.2 -27 -57.1 -34.5 -53.5 -43.5 -47 -54 -44.9 -58.5 -52.2 -52.2 -58.5 -45 -62.4 -35.8Z" fill="#ff7300"/><path d="M-62.4 -15 -60.8 -28.5 -58.8 -36 -55.2 -43.5 -46.1 -57.6 -52.2 -52.2 -58.5 -45 -62.4 -35.8Z" fill="#ff5800"/><path d="M-62.4 -31.7 -57.8 -42 -47.6 -56.4 -53.9 -50.4 -58.5 -45 -62.4 -35.8Z" fill="#ff3e00"/><path d="M-60.3 -40.9 -56.4 -46.5 -50.6 -53.7 -58.5 -45Z" fill="#ff2200"/></g><g transform="translate(99.5,75.5)"><circle r="74.4" fill="none" stroke="#0c0c0c" stroke-width="0.8"/><path d="M73.6 -6.4L72.4 -6.3M72.8 -12.8L71.6 -12.6M69.4 -25.3L68.3 -24.9M67.0 -31.2L65.9 -30.7M60.5 -42.4L59.6 -41.7M56.6 -47.5L55.7 -46.7M47.5 -56.6L46.7 -55.7M42.4 -60.5L41.7 -59.6M31.2 -67.0L30.7 -65.9M25.3 -69.4L24.9 -68.3M12.8 -72.8L12.6 -71.6M6.4 -73.6L6.3 -72.4M-6.4 -73.6L-6.3 -72.4M-12.8 -72.8L-12.6 -71.6M-25.3 -69.4L-24.9 -68.3M-31.2 -67.0L-30.7 -65.9M-42.4 -60.5L-41.7 -59.6M-47.5 -56.6L-46.7 -55.7M-56.6 -47.5L-55.7 -46.7M-60.5 -42.4L-59.6 -41.7M-67.0 -31.2L-65.9 -30.7M-69.4 -25.3L-68.3 -24.9M-72.8 -12.8L-71.6 -12.6M-73.6 -6.4L-72.4 -6.3M-73.6 6.4L-72.4 6.3M-72.8 12.8L-71.6 12.6M-69.4 25.3L-68.3 24.9M-67.0 31.2L-65.9 30.7M-60.5 42.4L-59.6 41.7M-56.6 47.5L-55.7 46.7M-47.5 56.6L-46.7 55.7M-42.4 60.5L-41.7 59.6M-31.2 67.0L-30.7 65.9M-25.3 69.4L-24.9 68.3M-12.8 72.8L-12.6 71.6M-6.4 73.6L-6.3 72.4M6.4 73.6L6.3 72.4M12.8 72.8L12.6 71.6M25.3 69.4L24.9 68.3M31.2 67.0L30.7 65.9M42.4 60.5L41.7 59.6M47.5 56.6L46.7 55.7M56.6 47.5L55.7 46.7M60.5 42.4L59.6 41.7M67.0 31.2L65.9 30.7M69.4 25.3L68.3 24.9M72.8 12.8L71.6 12.6M73.6 6.4L72.4 6.3" stroke="#e0e0e0" stroke-width="0.9"/><path d="M73.9 -0.0L71.6 -0.0M71.4 -19.1L69.2 -18.5M64.0 -36.9L62.0 -35.8M52.3 -52.3L50.6 -50.6M37.0 -64.0L35.8 -62.0M19.1 -71.4L18.5 -69.2M0.0 -73.9L0.0 -71.6M-19.1 -71.4L-18.5 -69.2M-36.9 -64.0L-35.8 -62.0M-52.3 -52.3L-50.6 -50.6M-64.0 -36.9L-62.0 -35.8M-71.4 -19.1L-69.2 -18.5M-73.9 -0.0L-71.6 -0.0M-71.4 19.1L-69.2 18.5M-64.0 37.0L-62.0 35.8M-52.3 52.3L-50.6 50.6M-37.0 64.0L-35.8 62.0M-19.1 71.4L-18.5 69.2M-0.0 73.9L-0.0 71.6M19.1 71.4L18.5 69.2M37.0 64.0L35.8 62.0M52.3 52.3L50.6 50.6M64.0 37.0L62.0 35.8M71.4 19.1L69.2 18.5" stroke="#f0f0f0" stroke-width="0.7"/><text x="69.0" y="1.0" font-size="3.0" fill="#f4f4f4" text-anchor="middle" font-weight="bold" >0</text><text x="66.6" y="-16.9" font-size="3.0" fill="#f4f4f4" text-anchor="middle" font-weight="bold" >15</text><text x="59.8" y="-33.5" font-size="3.0" fill="#f4f4f4" text-anchor="middle" font-weight="bold" >30</text><text x="48.8" y="-47.8" font-size="3.0" fill="#f4f4f4" text-anchor="middle" font-weight="bold" >45</text><text x="34.5" y="-58.8" font-size="3.0" fill="#f4f4f4" text-anchor="middle" font-weight="bold" >60</text><text x="17.9" y="-65.6" font-size="3.0" fill="#f4f4f4" text-anchor="middle" font-weight="bold" >75</text><text x="0.0" y="-68.0" font-size="3.0" fill="#f4f4f4" text-anchor="middle" font-weight="bold" >90</text><text x="-17.9" y="-65.6" font-size="3.0" fill="#f4f4f4" text-anchor="middle" font-weight="bold" >105</text><text x="-34.5" y="-58.8" font-size="3.0" fill="#f4f4f4" text-anchor="middle" font-weight="bold" >120</text><text x="-48.8" y="-47.8" font-size="3.0" fill="#f4f4f4" text-anchor="middle" font-weight="bold" >135</text><text x="-59.8" y="-33.5" font-size="3.0" fill="#f4f4f4" text-anchor="middle" font-weight="bold" >150</text><text x="-66.6" y="-16.9" font-size="3.0" fill="#f4f4f4" text-anchor="middle" font-weight="bold" >165</text><text x="-69.0" y="1.0" font-size="3.0" fill="#f4f4f4" text-anchor="middle" font-weight="bold" >180</text><text x="-66.6" y="18.9" font-size="3.0" fill="#f4f4f4" text-anchor="middle" font-weight="bold" >195</text><text x="-59.8" y="35.5" font-size="3.0" fill="#f4f4f4" text-anchor="middle" font-weight="bold" >210</text><text x="-48.8" y="49.8" font-size="3.0" fill="#f4f4f4" text-anchor="middle" font-weight="bold" >225</text><text x="-34.5" y="60.8" font-size="3.0" fill="#f4f4f4" text-anchor="middle" font-weight="bold" >240</text><text x="-17.9" y="67.6" font-size="3.0" fill="#f4f4f4" text-anchor="middle" font-weight="bold" >255</text><text x="-0.0" y="70.0" font-size="3.0" fill="#f4f4f4" text-anchor="middle" font-weight="bold" >270</text><text x="17.9" y="67.6" font-size="3.0" fill="#f4f4f4" text-anchor="middle" font-weight="bold" >285</text><text x="34.5" y="60.8" font-size="3.0" fill="#f4f4f4" text-anchor="middle" font-weight="bold" >300</text><text x="48.8" y="49.8" font-size="3.0" fill="#f4f4f4" text-anchor="middle" font-weight="bold" >315</text><text x="59.8" y="35.5" font-size="3.0" fill="#f4f4f4" text-anchor="middle" font-weight="bold" >330</text><text x="66.6" y="18.9" font-size="3.0" fill="#f4f4f4" text-anchor="middle" font-weight="bold" >345</text></g><g transform="translate(99.5,75.5)" fill="none"><circle r="19.9" stroke="#111" stroke-width="0.55"/><circle r="33.2" stroke="#111" stroke-width="0.55"/><circle r="46.5" stroke="#111" stroke-width="0.55"/><circle r="59.8" stroke="#111" stroke-width="0.55"/><path d="M-1.3 -13.3h2.6M-1.3 13.3h2.6M-13.3 -0.9v1.8M13.3 -0.9v1.8M-1.3 -26.6h2.6M-1.3 26.6h2.6M-26.6 -0.9v1.8M26.6 -0.9v1.8M-1.3 -39.900000000000006h2.6M-1.3 39.900000000000006h2.6M-39.900000000000006 -0.9v1.8M39.900000000000006 -0.9v1.8M-1.3 -53.2h2.6M-1.3 53.2h2.6M-53.2 -0.9v1.8M53.2 -0.9v1.8" stroke="#222" stroke-width="0.55"/><circle cx="0.7" cy="-2" r="36" stroke="#ffffff" stroke-width="0.6" stroke-dasharray="0.9 0.45" opacity="0.9"/></g><g transform="translate(99.5,75.5)"><circle cx="0" cy="-0.4" r="0.9" fill="#3a4ad0" stroke="#ddd" stroke-width="0.3"/><circle cx="0.5" cy="-5.8" r="0.7" fill="#fff"/><rect x="4.6" y="-8.5" width="1.8" height="1.8" fill="#f060c0" stroke="#fff" stroke-width="0.3"/><circle cx="0.9" cy="5.3" r="1" fill="#ff5000" stroke="#802000" stroke-width="0.3"/></g><g transform="translate(353.5,75.5)"><path d="M-56.1 4.2 -53.8 24.2 -45.8 44.2 -34.4 59.8 -25.2 64.2 15.9 64.2 37.6 62.5 38.8 58.7 47.9 44.2 54.8 19.7 56.6 -13.6 53.6 -35.9 47.9 -48.8 37 -49.2 36.5 -57 -25.2 -57 -26.4 -47.7 -45.8 -46.6 -53.8 -31.4 -56.1 -13.6Z" fill="#0065ff"/><path d="M-53.8 24.2 -45.8 44.2 -34.4 59.8 -25.2 64.2 15.9 64.2 37.6 62.5 38.8 58.7 47.9 44.2 54.8 19.7 56.6 -13.6 53.6 -35.9 47.9 -48.8 37 -49.2 36.5 -57 -25.2 -57 -26.4 -47.7 -45.8 -46.6 -53.8 -31.4 -56.1 -13.6 -56.1 4.2ZM-24 36.3 -21 36.8 -15 39.6 -7.9 42 -6.3 43.5 -5.8 45 -6 46.5 -8.1 48 -12 48 -19.5 44.3 -24 43.5 -27 42.3 -27.5 40.5 -27 38.6 -25.5 36.8Z" fill="#0079ff"/><path d="M-53.8 24.2 -45.8 44.2 -34.4 59.8 -25.2 64.2 15.9 64.2 37.6 62.5 38.8 58.7 47.9 44.2 54.8 19.7 56.6 -13.6 53.6 -35.9 47.9 -48.8 37 -49.2 36.5 -57 -25.2 -57 -26.4 -47.7 -45.8 -46.6 -53.8 -31.4 -56.1 -13.6 -56.1 4.2ZM-24 33.4 -21 34.2 -6 41 -3.2 45 -2.9 48 -5 49.5 -10.5 50.1 -28.1 43.5 -29 42 -29.1 40.5 -28.5 37.1 -27 34.6 -25.5 33.6ZM18 -39.9 21 -40.1 22.7 -39 24.3 -34.5 23.6 -31.5 22.5 -30.9 19.5 -31 14.8 -33 12.8 -34.5 12 -36 13 -37.5Z" fill="#008eff"/><path d="M-53.8 24.2 -45.8 44.2 -34.4 59.8 -25.2 64.2 15.9 64.2 37.6 62.5 38.8 58.7 47.9 44.2 54.8 19.7 56.6 -13.6 53.6 -35.9 47.9 -48.8 37 -49.2 36.5 -57 -25.2 -57 -26.4 -47.7 -45.8 -46.6 -53.8 -31.4 -56.1 -13.6 -56.1 4.2ZM-25.5 30.3 -22.5 31.1 -13.5 36.2 -6 39.4 -4.4 40.5 1.5 47.8 7.5 50.1 8.8 51 9.5 52.5 8 54 6 54.2 0 51.7 -12 51.2 -28.5 44.4 -30.1 42 -29.9 36 -28.5 32 -27 30.6ZM18 -42.3 22.5 -42.1 25.5 -39 29.4 -28.5 29.6 -27 28.5 -25.1 24 -25.7 7.5 -32.2 -1.5 -33.2 -4.6 -34.5 -4.9 -36 -3.6 -37.5 0 -39.8 10.5 -40.7Z" fill="#00a0ff"/><path d="M-53.8 24.2 -45.8 44.2 -34.4 59.8 -25.2 64.2 15.9 64.2 37.6 62.5 38.8 58.7 47.9 44.2 54.8 19.7 56.6 -13.6 53.6 -35.9 47.9 -48.8 37 -49.2 36.5 -57 -25.2 -57 -26.4 -47.7 -45.8 -46.6 -53.8 -31.4 -56.1 -13.6 -56.1 4.2ZM-31.5 20.6 -26.7 25.5 -16 33 -4.5 39 3 46.3 9.9 49.5 13.5 52.2 15 52.4 19.5 51.6 21 52.2 21.2 54 19.5 54.7 18 54.5 16.2 54 15 52.7 9 55.4 4.9 55.5 -1.5 53.6 -10.5 52.7 -13.5 52 -28.5 45.5 -30.4 43.5 -31.2 40.5 -31.3 27 -33.2 21ZM16.5 -43.8 22.5 -43.7 25.2 -42 26.5 -40.5 33.8 -27 35 -22.5 34.5 -19.8 33 -19.4 28.5 -20.4 9 -29.1 4.5 -30.2 -4.5 -31.2 -8.7 -33 -10.4 -34.5 -10.3 -36 -8.5 -37.5 0 -42Z" fill="#00b0ff"/><path d="M-53.8 24.2 -45.8 44.2 -34.4 59.8 -25.2 64.2 15.9 64.2 37.6 62.5 38.8 58.7 47.9 44.2 54.8 19.7 56.6 -13.6 53.6 -35.9 47.9 -48.8 37 -49.2 36.5 -57 -25.2 -57 -26.4 -47.7 -45.8 -46.6 -53.8 -31.4 -56.1 -13.6 -56.1 4.2ZM-33 15.7 -30 16.5 -28.5 17.7 -22.3 25.5 -17.3 30 -12 33.9 -3 39 3 44.6 13.5 49.4 21 50.3 22.3 51 23.4 52.5 23.4 54 22.1 55.5 19.5 56.3 13.5 56 7.5 56.8 4.5 56.6 -13.5 53.3 -28.5 46.3 -30.2 45 -31.8 42 -33.8 30 -37.2 21 -37.1 19.5 -36 17.1ZM-27 -29.2 -25.2 -28.5 -24.7 -27 -25 -25.5 -27 -23.6 -28.5 -23.5 -30 -25.2 -29.9 -27 -28.5 -28.7ZM3 -44.4 19.5 -45.4 22.5 -45 25.4 -43.5 28.3 -40.5 45 -13.8 45.7 -10.5 44.5 -7.5 42 -6.7 39.7 -7.5 31.5 -15.2 13.5 -25 6 -27.8 -6.4 -30 -12 -32.4 -13.7 -34.5 -13.4 -36 -12 -37.7 -1.5 -43.1Z" fill="#00c0ff"/><path d="M-53.8 24.2 -45.8 44.2 -34.4 59.8 -25.2 64.2 15.9 64.2 37.6 62.5 38.8 58.7 47.9 44.2 54.8 19.7 56.6 -13.6 53.6 -35.9 47.9 -48.8 37 -49.2 36.5 -57 -25.2 -57 -26.4 -47.7 -45.8 -46.6 -53.8 -31.4 -56.1 -13.6 -56.1 4.2ZM-33 12.7 -30 13.2 -27.2 15 -20.5 24 -16.4 28.5 -10.9 33 -3 37.8 3 42.9 12 47.3 21 49 24 50.5 25.3 52.5 25.3 54 24.4 55.5 22.5 56.8 19.5 57.6 4.5 57.8 -13.5 54.6 -18 52.8 -28.5 47.3 -32.1 43.5 -35.6 31.5 -39.5 21 -39.4 18 -37.8 15 -36 13.6ZM-27 -31.9 -22.8 -31.5 -21.5 -30 -21.6 -28.5 -24 -23.8 -25.5 -22.4 -28.5 -21.4 -30 -21.8 -31.5 -23.5 -31.9 -27 -30 -30.5ZM3 -46.1 18 -46.9 22.5 -46.2 25.5 -44.9 28.9 -42 36.9 -31.5 46.2 -16.5 47.8 -10.5 47.2 -7.5 46.3 -6 43.5 -4.4 40.5 -4.8 37.5 -6.4 27 -15 14 -22.5 4.5 -26.3 -4.5 -28 -13.5 -30.8 -15.4 -31.5 -16.9 -33 -16 -36 -12 -39.6 0 -45.3Z" fill="#00d1fe"/><path d="M-53.8 24.2 -45.8 44.2 -34.4 59.8 -25.2 64.2 15.9 64.2 37.6 62.5 38.8 58.7 47.9 44.2 54.8 19.7 56.6 -13.6 53.6 -35.9 47.9 -48.8 37 -49.2 36.5 -57 -25.2 -57 -26.4 -47.7 -45.8 -46.6 -53.8 -31.4 -56.1 -13.6 -56.1 4.2ZM-33 9.6 -30 9.8 -26.3 12 -24 14.6 -17.7 24 -13.8 28.5 -10.5 31.5 -3 36.5 4.1 42 12 45.8 21 47.7 25.3 49.5 26.9 51 27.4 52.5 26.7 55.5 24 57.7 21 58.7 4.5 59.1 -13.5 56.1 -19.5 53.6 -28.5 48.4 -31.5 45.7 -33 43.5 -40.5 25.5 -41.8 21 -41.7 16.5 -40.1 13.5 -37.5 11.3ZM4.5 -48.3 15 -48.6 22.5 -47.6 27 -45.5 32.6 -40.5 42.9 -27 46.5 -21.1 48.6 -16.5 49.6 -12 49.6 -9 48.8 -6 46.5 -3 43.5 -2.1 39 -3.1 24.9 -13.5 15 -19.5 4.5 -24.3 -7.5 -27.5 -13.5 -28.6 -16.5 -28.5 -18 -27.9 -23.1 -22.5 -27 -19.9 -30 -19.6 -32.2 -21 -33.6 -24 -33.8 -27 -33 -30 -30.5 -33 -27 -34.5 -21 -35.6 -12 -41.3 0 -47.1Z" fill="#00e0fb"/><path d="M-53.8 24.2 -45.8 44.2 -34.4 59.8 -25.2 64.2 15.9 64.2 37.6 62.5 38.8 58.7 47.9 44.2 54.8 19.7 56.6 -13.6 53.6 -35.9 47.9 -48.8 37 -49.2 36.5 -57 -25.2 -57 -26.4 -47.7 -45.8 -46.6 -53.8 -31.4 -56.1 -13.6 -56.1 4.2ZM3 -50.5 13.5 -50.9 22.5 -49.3 27 -47.5 34.5 -41.6 40.8 -34.5 46.3 -27 50.2 -19.5 51.7 -13.5 51.8 -9 50.8 -4.5 49.1 -1.5 47.1 0 45 0.7 42 0.5 39 -0.5 34.5 -3.1 20.1 -13.5 12.5 -18 2.9 -22.5 -7.5 -25.8 -12 -26.4 -15 -26.1 -18 -24.6 -24 -19.5 -27 -17.7 -30 -16.9 -31.5 -17 -33.1 -18 -35.4 -22.5 -35.9 -27 -34.9 -31.5 -32.8 -34.5 -30 -36.3 -21 -38.8 0 -49.5ZM-31.5 5 -28.5 6.2 -24 9.6 -13.6 25.5 -9.3 30 -5.6 33 4.5 40.2 10.7 43.5 15 45 24 46.9 28.5 48.9 30 51 30.2 52.5 29.5 55.5 28.5 57 26.6 58.5 24 59.6 18 60.6 4.5 60.7 -6 59.5 -13.5 57.9 -18 56.4 -24 53.2 -30 48.7 -33.4 45 -39.8 33 -43.7 24 -44.7 18 -44.4 15 -41.3 10.5 -39 8.7Z" fill="#00e4ab"/><path d="M-53.8 24.2 -45.8 44.2 -34.4 59.8 -25.2 64.2 15.9 64.2 37.6 62.5 38.8 58.7 47.9 44.2 54.8 19.7 56.6 -13.6 53.6 -35.9 47.9 -48.8 37 -49.2 36.5 -57 -25.2 -57 -26.4 -47.7 -45.8 -46.6 -53.8 -31.4 -56.1 -13.6 -56.1 4.2ZM6 -54.1 16.5 -53.8 27 -50.8 37.5 -44.8 39.6 -40.5 44 -37.5 45.8 -33 50.1 -28.5 53.4 -21 54.7 -16.5 55.2 -12 54.8 -6 53.5 -1.5 51 2 45 4.4 42 4.1 38.6 3 33 -0 19.5 -9.6 12 -14.3 0 -20.1 -7.5 -22.9 -12 -23.3 -15 -22.4 -24 -15.8 -28.5 -13.6 -33 -13.4 -36 -15.6 -38.4 -21 -39.2 -27 -38.1 -33 -36 -36.5 -31.5 -39.6 -24 -41.6 -18 -44 0 -53.2ZM-31.5 1 -28.5 1.6 -21 7.4 -10.5 24 -6.4 28.5 -1.5 32.6 5.7 37.5 12 40.8 16.5 42.3 28.5 44.9 31.5 46.5 33.5 49.5 34.3 52.5 34.1 54 30 61.3 22.5 62.9 16.5 63.6 6 63.6 -6 62.7 -13.5 61.1 -19.5 59.1 -25.5 55.8 -30 52.2 -36.2 45 -43.5 33.3 -48.1 24 -47.6 19.5 -48.9 15 -48 12.6 -43.5 7.4 -33.4 1.5Z" fill="#00c800"/><path d="M55.9 0 53.5 3 46.5 8 43.5 9.3 42 9.1 33 4.6 19.5 -5.3 10.5 -10.9 -1.5 -17 -9 -19.2 -13.5 -18.6 -22.5 -11.7 -30 -8.1 -33 -8.1 -37.5 -11.5 -40.5 -16.5 -43 -25.5 -41.6 -33 -39.2 -37.5 -37.6 -39 -32.2 -42 -24 -44.4 -16.5 -47.7 -2.9 -55.5 0.7 -57 -25.2 -57 -26.4 -47.7 -45.8 -46.6 -53.8 -31.4 -56.1 -13.6 -56.1 4.2 -53.8 24.2 -45.8 44.2 -34.4 59.8 -25.2 64.2 -16.1 64.2 -25.5 59.9 -30 56.5 -33 53.4 -43.5 39.8 -46.5 34.5 -50.2 25.5 -50.4 24 -49.6 19.5 -51 15.1 -50.6 13.5 -46.5 6.4 -43.5 3.2 -33 -3.6 -30 -3.7 -27 -2.5 -21 1.8 -18.3 4.5 -8.2 21 -1.5 27.8 4.5 32 12 36.1 18 38.3 30 41.2 33 43 36 47.8 37.2 52.5 36.3 55.5 33.7 58.5 31.6 63 37.6 62.5 38.8 58.7 47.9 44.2 54.8 19.7ZM19.8 -57 28.5 -54 33 -51.2 37.5 -47.4 41.3 -42 45.4 -39 47.4 -34.5 52.4 -30 55.1 -25.3 53.6 -35.9 47.9 -48.8 37 -49.2 36.5 -57Z" fill="#fff300"/><path d="M-22.9 64.2 -31.5 57.5 -44.2 42 -48 36 -51.3 27 -51.6 24 -50.7 19.5 -51.9 15 -51.2 12 -46.5 3.6 -41.2 -3 -40.1 -6 -40.8 -10.5 -45.1 -22.5 -45.6 -25.5 -45.2 -28.5 -42.6 -36 -39 -39.8 -31.5 -43.6 -24 -46 -15 -49.9 -4.6 -57 -25.2 -57 -26.4 -47.7 -45.8 -46.6 -53.8 -31.4 -56.1 -13.6 -56.1 4.2 -53.8 24.2 -45.8 44.2 -34.4 59.8 -25.2 64.2ZM55.7 2.4 48.5 9 45 16.3 43.5 18.1 42 19 40.5 19.1 37.5 17.2 29.9 7.5 21 -0.7 15 -4.9 -1.5 -14.3 -7.5 -15.7 -11 -15 -14.4 -12 -17 -6 -16.8 -3 -15.8 0 -8.5 15 -5.7 19.5 -1.5 24 3 27.2 7.5 29.5 16.5 31.2 30 36.7 33 38.7 34.5 40.5 38 48 38.8 52.5 37.9 55.5 34.5 59.5 32.9 62.9 37.6 62.5 38.8 58.7 47.9 44.2 54.8 19.7ZM37.6 -49.2 42 -42.8 46.5 -39.4 48.8 -34.5 54.5 -29.7 53.6 -35.9 47.9 -48.8ZM28.2 -57 33 -53.9 36.9 -50 36.5 -57Z" fill="#ffda00"/><path d="M-52.4 27.7 -52.6 24 -51.6 19.5 -52.6 16.5 -52.6 13.5 -48 3.7 -44.1 -3 -43.2 -6 -43.3 -10.5 -47 -22.5 -47.4 -25.5 -46.8 -30 -45 -34.9 -43.4 -37.5 -40.2 -40.5 -30 -45.3 -16.5 -50.3 -12.9 -52.5 -7.4 -57 -25.2 -57 -26.4 -47.7 -45.8 -46.6 -53.8 -31.4 -56.1 -13.6 -56.1 4.2 -53.8 24.2ZM-28.2 62.8 -31.5 59.5 -37.8 51 -47.8 39.2 -45.8 44.2 -34.4 59.8ZM55.5 3.9 51.2 7.5 50.1 9 48 18.5 46.5 22.4 45 24.5 40.5 27.2 36 27.8 34.5 26.5 32.4 22.5 26.1 9 22.7 4.5 17.9 0 13.5 -2.9 6 -6.4 0.9 -10.5 -3 -12.5 -6 -12.9 -8.9 -12 -10.4 -10.5 -11.4 -7.5 -11.4 -1.5 -6.9 12 -3.7 18 0 21.9 3 24 7.5 25.9 19.9 27 28.5 29.6 33 30.4 34.5 31.9 39.5 48 40.1 52.5 39.2 55.5 35.2 60 33.8 62.8 37.6 62.5 38.8 58.7 47.9 44.2 54.8 19.7ZM39 -49.2 42 -44.1 46.7 -40.5 49.5 -35.1 54.2 -31.6 53.6 -35.9 47.9 -48.8ZM32 -57 34.5 -54.8 36.8 -52.2 36.5 -57Z" fill="#ffc300"/><path d="M-31.8 61 -38.7 51 -46.1 43.4 -34.4 59.8ZM-53.5 25 -52.4 19.5 -53.3 16.5 -53.3 13.5 -46.1 -3 -45.3 -6 -45.5 -12 -48.9 -25.5 -48.1 -31.5 -46.1 -36 -43.9 -39 -40.5 -41.6 -30 -46.2 -16.5 -51.4 -9.5 -57 -25.2 -57 -26.4 -47.7 -45.8 -46.6 -53.8 -31.4 -56.1 -13.6 -56.1 4.2ZM34.5 -57 36 -55.4 36.6 -54.5 36.5 -57ZM40.1 -49.1 42.3 -45 47.7 -40.5 49.8 -36 54 -32.9 53.6 -35.9 47.9 -48.8ZM55.5 5 51.3 9 50 19.5 48.2 25.5 46.5 27.8 42 31.8 40 34.5 39.2 37.5 39.2 40.5 41.2 49.5 41.3 52.5 40.4 55.5 36 60.2 34.6 62.7 37.6 62.5 38.8 58.7 47.9 44.2 54.8 19.7ZM-8.6 -6 -7.5 -2.1 -4.1 1.5 -4.8 7.5 -3.5 13.5 -1.5 17 1.5 20 6 22.5 12 23.2 19.5 21.6 22.5 19.5 23.2 18 23.6 15 22.8 10.5 20.4 6 16.5 1.8 10.5 -1.6 2.5 -3 0.1 -7.5 -3 -10.1 -6 -10.2 -7.5 -9.2Z" fill="#ffad00"/><path d="M-34 60 -38.5 52.5 -43.6 47.3ZM-53.9 23.2 -53.2 19.5 -54 16.5 -53.9 13.5 -47.7 -3 -46.8 -7.5 -47.1 -12 -50.3 -25.5 -50.2 -28.5 -49.1 -33 -46.7 -37.5 -43.5 -40.9 -29.3 -47.5 -45.8 -46.6 -53.8 -31.4 -56.1 -13.6 -56.1 4.2ZM-26.3 -48.6 -16.5 -52.5 -11.3 -57 -25.2 -57ZM41.1 -49.1 43.3 -45 48 -41.4 50.8 -36 53.9 -34 53.6 -35.9 47.9 -48.8ZM55.5 5.8 53.4 7.5 51.9 10.5 52 18 50.5 25.5 48 29.7 43.5 34.5 41.4 39 41.2 43.5 42.5 49.5 42.4 52.9 47.9 44.2 54.8 19.7ZM38.7 58.8 36 61.5 35.4 62.6 37.6 62.5ZM1.5 3 -1.1 6 -1.8 10.5 -0.1 15 2.8 18 6 19.7 10.5 20.2 15 18.9 18 16.5 19.3 13.5 19.2 10.5 17.2 6 14.3 3 10.5 1 7.5 0.5 4.5 1.1Z" fill="#ff9a00"/><path d="M-37.7 55.3 -39.4 52.5 -41.3 50.3ZM-54.1 21 -54.6 13.5 -51.7 6 -49.1 -3 -48.3 -7.5 -48.8 -13.5 -51.6 -25.5 -51.3 -30 -50.5 -33 -48 -37.9 -43.9 -42 -31.6 -47.4 -45.8 -46.6 -53.8 -31.4 -56.1 -13.6 -56.1 4.2ZM-26.1 -49.7 -16.5 -53.7 -12.9 -57 -25.2 -57ZM42.1 -49 43.5 -46.2 48.5 -42 51 -37.1 53.8 -35.1 47.9 -48.8ZM55.5 6.7 53.3 9 52.9 10.5 53.4 19.5 51.9 27 49.5 31.1 44.4 37.5 43.1 40.5 42.7 43.5 43.9 50.7 47.9 44.2 54.8 19.7ZM38.3 60.3 37 61.5 36.3 62.6 37.6 62.5ZM6 3.2 2 6 1.2 7.5 0.7 10.5 1.8 13.5 4.5 16.2 7.5 17.3 10.5 17.2 13.5 15.7 15.3 13.5 15.9 10.5 15 7.5 14 6 12 4.2 9 3Z" fill="#ff8600"/><path d="M-55.1 13 -52.5 6 -49.7 -7.5 -50.1 -13.5 -52.9 -25.5 -51.9 -33 -49.5 -38 -45.8 -42 -42 -44.2 -33.6 -47.3 -45.8 -46.6 -53.8 -31.4 -56.1 -13.6 -56.1 4.2ZM-25.7 -51 -18 -54.1 -14.5 -57 -25.2 -57ZM43.5 -48.1 49.5 -42 51.9 -37.5 53.5 -36.3 47.9 -48.8 43.1 -49ZM54.3 9 53.9 10.5 54.8 18.8 55.4 7.7ZM51.5 31.6 47 37.5 45 41.1 44.5 43.5 45.1 48.7 47.9 44.2ZM4.1 7.5 3.5 10.5 4.5 12.6 6 13.8 9 14.2 10.7 13.5 12 12 12.3 9 11.6 7.5 9.8 6 7.5 5.5 6 5.9Z" fill="#ff7300"/><path d="M49.9 37 47 42 46.5 46.4 47.9 44.2ZM44.4 -48.9 49.5 -43.5 52.4 -38.7 47.9 -48.8ZM-25.8 -52.1 -19.5 -54.7 -16.2 -57 -25.2 -57ZM-49 -40.6 -43.5 -44.7 -36.1 -47.1 -45.8 -46.6ZM-55.3 11.5 -53 4.5 -51 -7.5 -51.4 -13.5 -54 -24 -54.1 -28.5 -53.5 -32 -53.8 -31.4 -56.1 -13.6 -56.1 4.2Z" fill="#ff5800"/><path d="M-55.4 10.1 -53.1 0 -52.3 -9 -52.7 -13.5 -55 -22.5 -56.1 -13.6 -56.1 4.2ZM-47.4 -43.7 -43.5 -45.9 -40.7 -46.9 -45.8 -46.6ZM-25.5 -53.5 -20.8 -55.5 -18.3 -57 -25.2 -57ZM45.8 -48.9 49.5 -44.9 49.8 -44.5 47.9 -48.8Z" fill="#ff3e00"/><path d="M-55.5 8.3 -54.4 3 -53.5 -7.5 -54 -13.5 -55.4 -19 -56.1 -13.6 -56.1 4.2ZM-46.3 -45.7 -44.5 -46.7 -45.8 -46.6ZM-25.5 -54.7 -23.8 -55.5 -20.8 -57 -25.2 -57Z" fill="#ff2200"/><path d="M-55.8 6.6 -54.7 -7.5 -55.8 -15.8ZM-25.3 -56.2 -23.7 -57 -25.2 -57Z" fill="#ec110f"/><path d="M-56.1 0.9 -55.9 -6 -56.1 -10.1Z" fill="#d70d24"/></g><g transform="translate(353.5,75.5)"><circle r="74.4" fill="none" stroke="#0c0c0c" stroke-width="0.8"/><path d="M73.6 -6.4L72.4 -6.3M72.8 -12.8L71.6 -12.6M69.4 -25.3L68.3 -24.9M67.0 -31.2L65.9 -30.7M60.5 -42.4L59.6 -41.7M56.6 -47.5L55.7 -46.7M47.5 -56.6L46.7 -55.7M42.4 -60.5L41.7 -59.6M31.2 -67.0L30.7 -65.9M25.3 -69.4L24.9 -68.3M12.8 -72.8L12.6 -71.6M6.4 -73.6L6.3 -72.4M-6.4 -73.6L-6.3 -72.4M-12.8 -72.8L-12.6 -71.6M-25.3 -69.4L-24.9 -68.3M-31.2 -67.0L-30.7 -65.9M-42.4 -60.5L-41.7 -59.6M-47.5 -56.6L-46.7 -55.7M-56.6 -47.5L-55.7 -46.7M-60.5 -42.4L-59.6 -41.7M-67.0 -31.2L-65.9 -30.7M-69.4 -25.3L-68.3 -24.9M-72.8 -12.8L-71.6 -12.6M-73.6 -6.4L-72.4 -6.3M-73.6 6.4L-72.4 6.3M-72.8 12.8L-71.6 12.6M-69.4 25.3L-68.3 24.9M-67.0 31.2L-65.9 30.7M-60.5 42.4L-59.6 41.7M-56.6 47.5L-55.7 46.7M-47.5 56.6L-46.7 55.7M-42.4 60.5L-41.7 59.6M-31.2 67.0L-30.7 65.9M-25.3 69.4L-24.9 68.3M-12.8 72.8L-12.6 71.6M-6.4 73.6L-6.3 72.4M6.4 73.6L6.3 72.4M12.8 72.8L12.6 71.6M25.3 69.4L24.9 68.3M31.2 67.0L30.7 65.9M42.4 60.5L41.7 59.6M47.5 56.6L46.7 55.7M56.6 47.5L55.7 46.7M60.5 42.4L59.6 41.7M67.0 31.2L65.9 30.7M69.4 25.3L68.3 24.9M72.8 12.8L71.6 12.6M73.6 6.4L72.4 6.3" stroke="#e0e0e0" stroke-width="0.9"/><path d="M73.9 -0.0L71.6 -0.0M71.4 -19.1L69.2 -18.5M64.0 -36.9L62.0 -35.8M52.3 -52.3L50.6 -50.6M37.0 -64.0L35.8 -62.0M19.1 -71.4L18.5 -69.2M0.0 -73.9L0.0 -71.6M-19.1 -71.4L-18.5 -69.2M-36.9 -64.0L-35.8 -62.0M-52.3 -52.3L-50.6 -50.6M-64.0 -36.9L-62.0 -35.8M-71.4 -19.1L-69.2 -18.5M-73.9 -0.0L-71.6 -0.0M-71.4 19.1L-69.2 18.5M-64.0 37.0L-62.0 35.8M-52.3 52.3L-50.6 50.6M-37.0 64.0L-35.8 62.0M-19.1 71.4L-18.5 69.2M-0.0 73.9L-0.0 71.6M19.1 71.4L18.5 69.2M37.0 64.0L35.8 62.0M52.3 52.3L50.6 50.6M64.0 37.0L62.0 35.8M71.4 19.1L69.2 18.5" stroke="#f0f0f0" stroke-width="0.7"/><text x="69.0" y="1.0" font-size="3.0" fill="#f4f4f4" text-anchor="middle" font-weight="bold" >0</text><text x="66.6" y="-16.9" font-size="3.0" fill="#f4f4f4" text-anchor="middle" font-weight="bold" >15</text><text x="59.8" y="-33.5" font-size="3.0" fill="#f4f4f4" text-anchor="middle" font-weight="bold" >30</text><text x="48.8" y="-47.8" font-size="3.0" fill="#f4f4f4" text-anchor="middle" font-weight="bold" >45</text><text x="34.5" y="-58.8" font-size="3.0" fill="#f4f4f4" text-anchor="middle" font-weight="bold" >60</text><text x="17.9" y="-65.6" font-size="3.0" fill="#f4f4f4" text-anchor="middle" font-weight="bold" >75</text><text x="0.0" y="-68.0" font-size="3.0" fill="#f4f4f4" text-anchor="middle" font-weight="bold" >90</text><text x="-17.9" y="-65.6" font-size="3.0" fill="#f4f4f4" text-anchor="middle" font-weight="bold" >105</text><text x="-34.5" y="-58.8" font-size="3.0" fill="#f4f4f4" text-anchor="middle" font-weight="bold" >120</text><text x="-48.8" y="-47.8" font-size="3.0" fill="#f4f4f4" text-anchor="middle" font-weight="bold" >135</text><text x="-59.8" y="-33.5" font-size="3.0" fill="#f4f4f4" text-anchor="middle" font-weight="bold" >150</text><text x="-66.6" y="-16.9" font-size="3.0" fill="#f4f4f4" text-anchor="middle" font-weight="bold" >165</text><text x="-69.0" y="1.0" font-size="3.0" fill="#f4f4f4" text-anchor="middle" font-weight="bold" >180</text><text x="-66.6" y="18.9" font-size="3.0" fill="#f4f4f4" text-anchor="middle" font-weight="bold" >195</text><text x="-59.8" y="35.5" font-size="3.0" fill="#f4f4f4" text-anchor="middle" font-weight="bold" >210</text><text x="-48.8" y="49.8" font-size="3.0" fill="#f4f4f4" text-anchor="middle" font-weight="bold" >225</text><text x="-34.5" y="60.8" font-size="3.0" fill="#f4f4f4" text-anchor="middle" font-weight="bold" >240</text><text x="-17.9" y="67.6" font-size="3.0" fill="#f4f4f4" text-anchor="middle" font-weight="bold" >255</text><text x="-0.0" y="70.0" font-size="3.0" fill="#f4f4f4" text-anchor="middle" font-weight="bold" >270</text><text x="17.9" y="67.6" font-size="3.0" fill="#f4f4f4" text-anchor="middle" font-weight="bold" >285</text><text x="34.5" y="60.8" font-size="3.0" fill="#f4f4f4" text-anchor="middle" font-weight="bold" >300</text><text x="48.8" y="49.8" font-size="3.0" fill="#f4f4f4" text-anchor="middle" font-weight="bold" >315</text><text x="59.8" y="35.5" font-size="3.0" fill="#f4f4f4" text-anchor="middle" font-weight="bold" >330</text><text x="66.6" y="18.9" font-size="3.0" fill="#f4f4f4" text-anchor="middle" font-weight="bold" >345</text></g><g transform="translate(353.5,75.5)" fill="none"><circle r="19.9" stroke="#111" stroke-width="0.55"/><circle r="33.2" stroke="#111" stroke-width="0.55"/><circle r="46.5" stroke="#111" stroke-width="0.55"/><circle r="59.8" stroke="#111" stroke-width="0.55"/><path d="M-1.3 -13.3h2.6M-1.3 13.3h2.6M-13.3 -0.9v1.8M13.3 -0.9v1.8M-1.3 -26.6h2.6M-1.3 26.6h2.6M-26.6 -0.9v1.8M26.6 -0.9v1.8M-1.3 -39.900000000000006h2.6M-1.3 39.900000000000006h2.6M-39.900000000000006 -0.9v1.8M39.900000000000006 -0.9v1.8M-1.3 -53.2h2.6M-1.3 53.2h2.6M-53.2 -0.9v1.8M53.2 -0.9v1.8" stroke="#222" stroke-width="0.55"/><circle cx="0.7" cy="-2" r="36" stroke="#ffffff" stroke-width="0.6" stroke-dasharray="0.9 0.45" opacity="0.9"/></g><g transform="translate(353.5,75.5)"><circle cx="0" cy="-0.4" r="0.9" fill="#3a4ad0" stroke="#ddd" stroke-width="0.3"/><circle cx="0.5" cy="-5.8" r="0.7" fill="#fff"/><rect x="4.6" y="-8.5" width="1.8" height="1.8" fill="#f060c0" stroke="#fff" stroke-width="0.3"/><circle cx="0.9" cy="5.3" r="1" fill="#ff5000" stroke="#802000" stroke-width="0.3"/></g><g transform="translate(99.5,225.5)"><path d="M-53.2 2.5 -49.8 13.6 -42.9 22.5 -34.9 32.6 -36.1 38.1 -29.2 42.1 -17.8 41.5 -4.1 39.2 14.2 40.3 30.2 42.6 45.1 41.5 53.1 31.4 57.7 18.1 60 4.7 58.8 -8.6 54.2 -24.2 47.4 -36.4 39.4 -38.7 30.2 -42 21.1 -44.7 18.8 -40.9 7.4 -41.5 -10.9 -40.9 -20.1 -38.7 -24.7 -41.5 -34.9 -40.9 -41.8 -36.4 -48.7 -26.4 -52.1 -13.1Z" fill="#201bbe"/><path d="M-49.8 13.6 -34.9 32.6 -36.1 38.1 -29.2 42.1 -17.8 41.5 -4.1 39.2 14.2 40.3 30.2 42.6 45.1 41.5 53.1 31.4 57.7 18.1 60 4.7 58.8 -8.6 54.2 -24.2 47.4 -36.4 21.1 -44.7 18.8 -40.9 7.4 -41.5 -10.9 -40.9 -20.1 -38.7 -24.7 -41.5 -34.9 -40.9 -41.8 -36.4 -48.7 -26.4 -52.1 -13.1 -53.2 2.5ZM-30 -8.5 -27.7 -7.5 -26.9 -6 -26.9 -4.5 -27.9 -3 -30 -2.1 -32.5 -3 -33.4 -4.5 -33.3 -6 -32.5 -7.5Z" fill="#2029cf"/><path d="M-49.8 13.6 -34.9 32.6 -36.1 38.1 -29.2 42.1 -17.8 41.5 -4.1 39.2 14.2 40.3 30.2 42.6 45.1 41.5 53.1 31.4 57.7 18.1 60 4.7 58.8 -8.6 54.2 -24.2 47.4 -36.4 21.1 -44.7 18.8 -40.9 7.4 -41.5 -10.9 -40.9 -20.1 -38.7 -24.7 -41.5 -34.9 -40.9 -41.8 -36.4 -48.7 -26.4 -52.1 -13.1 -53.2 2.5ZM-31.5 -11.6 -28.5 -11.7 -26 -10.5 -24.6 -9 -23.3 -6 -23.6 -3 -24.4 -1.5 -27 0.5 -30 1.5 -33 1.2 -34.5 0.3 -36.2 -1.5 -37.1 -4.5 -36.4 -7.5 -35.4 -9Z" fill="#203eda"/><path d="M-49.8 13.6 -34.9 32.6 -36.1 38.1 -29.2 42.1 -17.8 41.5 -4.1 39.2 14.2 40.3 30.2 42.6 45.1 41.5 53.1 31.4 57.7 18.1 60 4.7 58.8 -8.6 54.2 -24.2 47.4 -36.4 21.1 -44.7 18.8 -40.9 7.4 -41.5 -10.9 -40.9 -20.1 -38.7 -24.7 -41.5 -34.9 -40.9 -41.8 -36.4 -48.7 -26.4 -52.1 -13.1 -53.2 2.5ZM-28.5 -15.2 -25.5 -14.2 -21.9 -10.5 -20.6 -7.5 -20.5 -3 -21.6 0 -22.8 1.5 -30 5.3 -33 6 -36 4.2 -39.7 0 -40.9 -3 -40.8 -6 -39.3 -9 -36 -12.6 -33 -14.4Z" fill="#205cdf"/><path d="M-49.8 13.6 -34.9 32.6 -36.1 38.1 -29.2 42.1 -17.8 41.5 -4.1 39.2 14.2 40.3 30.2 42.6 45.1 41.5 53.1 31.4 57.7 18.1 60 4.7 58.8 -8.6 54.2 -24.2 47.4 -36.4 21.1 -44.7 18.8 -40.9 7.4 -41.5 -10.9 -40.9 -20.1 -38.7 -24.7 -41.5 -34.9 -40.9 -41.8 -36.4 -48.7 -26.4 -52.1 -13.1 -53.2 2.5ZM-24 -27.2 -22.5 -26.2 -21.3 -24 -20.8 -16.5 -17.8 -9 -17.6 -4.5 -18.6 0 -21 4.1 -25.5 6.7 -30 12.3 -33 13.9 -37.5 13.9 -40.2 12 -42 6 -46.1 0 -46.8 -4.5 -46.3 -7.5 -44.5 -10.5 -37.5 -17.1 -30.7 -21 -27 -26.5 -25.5 -27.3Z" fill="#1472e6"/><path d="M-25.2 -41.5 -21 -35.6 -18 -29.2 -15.5 -19.5 -14.7 -10.5 -14.8 -6 -16.2 0 -18.2 4.5 -25 12 -28.5 15 -31.9 16.5 -36 16.9 -40.5 16 -44.7 13.5 -49 9 -52.8 3.9 -49.8 13.6 -34.9 32.6 -36.1 38.1 -29.2 42.1 -17.8 41.5 -4.1 39.2 14.2 40.3 30.2 42.6 45.1 41.5 53.1 31.4 57.7 18.1 60 4.7 58.8 -8.6 54.2 -24.2 47.4 -36.4 21.1 -44.7 18.8 -40.9 7.4 -41.5 -10.9 -40.9 -20.1 -38.7Z" fill="#0786ed"/><path d="M-16.7 -39.5 -12 -21 -11.3 -15 -11.8 -9 -13 -3 -16.7 6 -19.5 9.8 -23.1 13.5 -27.3 16.5 -31.5 18.1 -36 18.5 -40.5 17.9 -44.2 16.5 -50.1 12.8 -34.9 32.6 -36.1 38.1 -29.2 42.1 -17.8 41.5 -4.1 39.2 14.2 40.3 30.2 42.6 45.1 41.5 53.1 31.4 57.7 18.1 60 4.7 58.8 -8.6 54.2 -24.2 47.4 -36.4 21.1 -44.7 18.8 -40.9 7.4 -41.5 -10.9 -40.9Z" fill="#009cf2"/><path d="M-13 -40.4 -8.8 -21 -8.2 -15 -8.7 -10.5 -10.3 -4.5 -13 3 -15.4 7.5 -18.8 12 -22.1 15 -26.9 18 -30 19.1 -34.5 19.8 -39 19.5 -47.4 16.8 -34.9 32.6 -36.1 38.1 -29.2 42.1 -17.8 41.5 -4.1 39.2 14.2 40.3 30.2 42.6 45.1 41.5 53.1 31.4 57.7 18.1 60 4.7 58.8 -8.6 54.2 -24.2 47.4 -36.4 21.1 -44.7 18.8 -40.9 7.4 -41.5 -10.9 -40.9Z" fill="#00b2f7"/><path d="M-9.7 -40.9 -5.8 -21 -5.3 -15 -7.3 -6 -13.2 7.5 -16.4 12 -19.5 15 -24 18 -27.2 19.5 -31.5 20.7 -36 21 -45.7 19 -34.9 32.6 -36.1 38.1 -29.2 42.1 -17.8 41.5 -4.1 39.2 14.2 40.3 30.2 42.6 45.1 41.5 53.1 31.4 57.7 18.1 60 4.7 58.8 -8.6 54.2 -24.2 47.4 -36.4 21.1 -44.7 18.8 -40.9 7.4 -41.5Z" fill="#00c4f8"/><path d="M-6.3 -41 -2.7 -21 -2.4 -13.5 -5 -4.5 -11.7 9 -15.3 13.5 -18.8 16.5 -27 20.6 -34.5 22.1 -39 21.8 -44.4 20.6 -34.9 32.6 -36.1 38.1 -29.2 42.1 -17.8 41.5 -4.1 39.2 14.2 40.3 30.2 42.6 45.1 41.5 53.1 31.4 57.7 18.1 60 4.7 58.8 -8.6 54.2 -24.2 47.4 -36.4 21.1 -44.7 18.8 -40.9 7.4 -41.5Z" fill="#00d4f8"/><path d="M-2.1 -41.2 1.1 -16.5 0.6 -10.5 -2 -3 -9.4 10.5 -13.8 15 -18.2 18 -24.7 21 -31.5 22.8 -37.5 23.1 -43.3 22.1 -34.9 32.6 -36.1 38.1 -29.2 42.1 -17.8 41.5 -4.1 39.2 14.2 40.3 30.2 42.6 45.1 41.5 53.1 31.4 57.7 18.1 60 4.7 58.8 -8.6 54.2 -24.2 47.4 -36.4 21.1 -44.7 18.8 -40.9 7.4 -41.5Z" fill="#00e4f8"/><path d="M3.7 -41.4 4.8 -12 2.1 1.5 0 7.3 -2.3 10.5 -6 13.5 -19.5 20.4 -27 23 -33 24.2 -37.5 24.3 -42.1 23.6 -34.9 32.6 -36.1 38.1 -29.2 42.1 -17.8 41.5 -4.1 39.2 14.2 40.3 30.2 42.6 45.1 41.5 53.1 31.4 57.7 18.1 60 4.7 58.8 -8.6 54.2 -24.2 47.4 -36.4 39.4 -38.7 30.2 -42 21.1 -44.7 18.8 -40.9 7.4 -41.5Z" fill="#00dba7"/><path d="M9.2 -41.4 8.1 -28.5 8.8 -15 8.5 -9 6.3 4.5 4.7 9 3 11.8 0 14.7 -3 16.5 -16.5 21.3 -33 25.6 -40.7 25.3 -34.9 32.6 -36.1 38.1 -29.2 42.1 -17.8 41.5 -4.1 39.2 14.2 40.3 30.2 42.6 45.1 41.5 53.1 31.4 57.7 18.1 60 4.7 58.8 -8.6 54.2 -24.2 47.4 -36.4 21.1 -44.7 18.8 -40.9Z" fill="#0ecc35"/><path d="M13.2 -41.2 11.7 -27 12.2 -13.5 11.9 -7.5 9.7 4.5 7.5 10.5 5.7 13.5 2.6 16.5 -6 20.7 -33 27.6 -36 27.9 -39 27.5 -34.9 32.6 -36.1 38.1 -29.2 42.1 -17.8 41.5 -4.1 39.2 14.2 40.3 30.2 42.6 45.1 41.5 53.1 31.4 57.7 18.1 60 4.7 58.8 -8.6 54.2 -24.2 47.4 -36.4 21.1 -44.7 18.8 -40.9Z" fill="#52e000"/><path d="M16.3 -41 14.9 -28.5 15.2 -12 14.4 -3 12.9 6 9.5 13.5 4.5 18.5 -4.5 22.9 -15 25.9 -33 30.2 -36.6 30.5 -34.9 32.6 -36.1 38.1 -29.2 42.1 -17.8 41.5 -4.1 39.2 14.2 40.3 30.2 42.6 45.1 41.5 53.1 31.4 57.7 18.1 60 4.7 58.8 -8.6 54.2 -24.2 47.4 -36.4 21.1 -44.7 18.8 -40.9Z" fill="#95ee00"/><path d="M18.9 -40.5 17.8 -27 17.8 -9 16.6 4.5 15 10 12 15.4 9 18.8 6.2 21 -1.5 24.8 -12 28 -35 32.8 -36.1 38.1 -29.2 42.1 -17.8 41.5 -4.1 39.2 14.2 40.3 30.2 42.6 45.1 41.5 53.1 31.4 57.7 18.1 60 4.7 58.8 -8.6 54.2 -24.2 47.4 -36.4 21.1 -44.7Z" fill="#e4fb00"/><path d="M22.1 -44.4 20.2 -6 18 6.6 16.5 11.6 13.5 17.6 10.5 21.2 7.5 23.8 0 27.8 -12 31.2 -35.5 35.1 -36.1 38.1 -29.2 42.1 -17.8 41.5 -4.1 39.2 14.2 40.3 30.2 42.6 45.1 41.5 53.1 31.4 57.7 18.1 60 4.7 58.8 -8.6 54.2 -24.2 47.4 -36.4Z" fill="#fdf500"/><path d="M26.8 -43 27.9 -33 23.5 -9 16.8 15 15 19 12 23.4 9 26.5 4.5 30 0 32.7 -3 33.8 -21 38 -30 37.4 -36 37.7 -36.1 38.1 -29.2 42.1 -17.8 41.5 -4.1 39.2 14.2 40.3 30.2 42.6 45.1 41.5 53.1 31.4 57.7 18.1 60 4.7 58.8 -8.6 54.2 -24.2 52.5 -23.1 49.5 -23.1 46.5 -24.6 44.6 -27 44.5 -28.5 45.2 -30 46.8 -31.5 49.5 -32.6 47.4 -36.4Z" fill="#f9e500"/><path d="M55.5 -18.7 51 -17.7 37.5 -18.6 34.5 -18 31.5 -15.8 22.5 0.5 17.9 16.5 15 23.3 12 27.9 6 34.9 3 37.7 -0.2 39.5 14.2 40.3 30.2 42.6 45.1 41.5 53.1 31.4 57.7 18.1 60 4.7 58.8 -8.6Z" fill="#f2d200"/><path d="M56.8 -15.3 45 -13.2 39 -11.4 33 -7.7 25.5 -0.9 22.4 4.5 17.4 24 13.5 32.3 9.1 40 30.2 42.6 45.1 41.5 53.1 31.4 57.7 18.1 60 4.7 59.5 -0.9 57.4 0 55.5 -0.3 53.8 -1.5 52.7 -4.5 53.2 -6 55.5 -7.6 57 -7.6 59 -6.5Z" fill="#eabe00"/><path d="M59.2 9.4 54 8 51 6.3 43.5 -1.6 42 -2.5 39 -3 34.5 -2.3 30 -0.9 27 0.9 24 4.5 22.5 8.6 20.1 25.5 16.8 40.7 30.2 42.6 45.1 41.5 53.1 31.4 57.7 18.1Z" fill="#eaac00"/><path d="M57 19 45 12.8 42.6 10.5 39 5.6 34.7 3 31.5 2.7 28.5 3.5 25.6 6 24.3 9 23.7 15 25 24 27 28.9 32.5 34.5 33.4 36 33.7 39 32.4 42.4 45.1 41.5 53.1 31.4Z" fill="#ee9b00"/></g><g transform="translate(99.5,225.5)"><circle r="74.4" fill="none" stroke="#0c0c0c" stroke-width="0.8"/><path d="M73.6 -6.4L72.4 -6.3M72.8 -12.8L71.6 -12.6M69.4 -25.3L68.3 -24.9M67.0 -31.2L65.9 -30.7M60.5 -42.4L59.6 -41.7M56.6 -47.5L55.7 -46.7M47.5 -56.6L46.7 -55.7M42.4 -60.5L41.7 -59.6M31.2 -67.0L30.7 -65.9M25.3 -69.4L24.9 -68.3M12.8 -72.8L12.6 -71.6M6.4 -73.6L6.3 -72.4M-6.4 -73.6L-6.3 -72.4M-12.8 -72.8L-12.6 -71.6M-25.3 -69.4L-24.9 -68.3M-31.2 -67.0L-30.7 -65.9M-42.4 -60.5L-41.7 -59.6M-47.5 -56.6L-46.7 -55.7M-56.6 -47.5L-55.7 -46.7M-60.5 -42.4L-59.6 -41.7M-67.0 -31.2L-65.9 -30.7M-69.4 -25.3L-68.3 -24.9M-72.8 -12.8L-71.6 -12.6M-73.6 -6.4L-72.4 -6.3M-73.6 6.4L-72.4 6.3M-72.8 12.8L-71.6 12.6M-69.4 25.3L-68.3 24.9M-67.0 31.2L-65.9 30.7M-60.5 42.4L-59.6 41.7M-56.6 47.5L-55.7 46.7M-47.5 56.6L-46.7 55.7M-42.4 60.5L-41.7 59.6M-31.2 67.0L-30.7 65.9M-25.3 69.4L-24.9 68.3M-12.8 72.8L-12.6 71.6M-6.4 73.6L-6.3 72.4M6.4 73.6L6.3 72.4M12.8 72.8L12.6 71.6M25.3 69.4L24.9 68.3M31.2 67.0L30.7 65.9M42.4 60.5L41.7 59.6M47.5 56.6L46.7 55.7M56.6 47.5L55.7 46.7M60.5 42.4L59.6 41.7M67.0 31.2L65.9 30.7M69.4 25.3L68.3 24.9M72.8 12.8L71.6 12.6M73.6 6.4L72.4 6.3" stroke="#e0e0e0" stroke-width="0.9"/><path d="M73.9 -0.0L71.6 -0.0M71.4 -19.1L69.2 -18.5M64.0 -36.9L62.0 -35.8M52.3 -52.3L50.6 -50.6M37.0 -64.0L35.8 -62.0M19.1 -71.4L18.5 -69.2M0.0 -73.9L0.0 -71.6M-19.1 -71.4L-18.5 -69.2M-36.9 -64.0L-35.8 -62.0M-52.3 -52.3L-50.6 -50.6M-64.0 -36.9L-62.0 -35.8M-71.4 -19.1L-69.2 -18.5M-73.9 -0.0L-71.6 -0.0M-71.4 19.1L-69.2 18.5M-64.0 37.0L-62.0 35.8M-52.3 52.3L-50.6 50.6M-37.0 64.0L-35.8 62.0M-19.1 71.4L-18.5 69.2M-0.0 73.9L-0.0 71.6M19.1 71.4L18.5 69.2M37.0 64.0L35.8 62.0M52.3 52.3L50.6 50.6M64.0 37.0L62.0 35.8M71.4 19.1L69.2 18.5" stroke="#f0f0f0" stroke-width="0.7"/><text x="69.0" y="1.0" font-size="3.0" fill="#f4f4f4" text-anchor="middle" font-weight="bold" >0</text><text x="66.6" y="-16.9" font-size="3.0" fill="#f4f4f4" text-anchor="middle" font-weight="bold" >15</text><text x="59.8" y="-33.5" font-size="3.0" fill="#f4f4f4" text-anchor="middle" font-weight="bold" >30</text><text x="48.8" y="-47.8" font-size="3.0" fill="#f4f4f4" text-anchor="middle" font-weight="bold" >45</text><text x="34.5" y="-58.8" font-size="3.0" fill="#f4f4f4" text-anchor="middle" font-weight="bold" >60</text><text x="17.9" y="-65.6" font-size="3.0" fill="#f4f4f4" text-anchor="middle" font-weight="bold" >75</text><text x="0.0" y="-68.0" font-size="3.0" fill="#f4f4f4" text-anchor="middle" font-weight="bold" >90</text><text x="-17.9" y="-65.6" font-size="3.0" fill="#f4f4f4" text-anchor="middle" font-weight="bold" >105</text><text x="-34.5" y="-58.8" font-size="3.0" fill="#f4f4f4" text-anchor="middle" font-weight="bold" >120</text><text x="-48.8" y="-47.8" font-size="3.0" fill="#f4f4f4" text-anchor="middle" font-weight="bold" >135</text><text x="-59.8" y="-33.5" font-size="3.0" fill="#f4f4f4" text-anchor="middle" font-weight="bold" >150</text><text x="-66.6" y="-16.9" font-size="3.0" fill="#f4f4f4" text-anchor="middle" font-weight="bold" >165</text><text x="-69.0" y="1.0" font-size="3.0" fill="#f4f4f4" text-anchor="middle" font-weight="bold" >180</text><text x="-66.6" y="18.9" font-size="3.0" fill="#f4f4f4" text-anchor="middle" font-weight="bold" >195</text><text x="-59.8" y="35.5" font-size="3.0" fill="#f4f4f4" text-anchor="middle" font-weight="bold" >210</text><text x="-48.8" y="49.8" font-size="3.0" fill="#f4f4f4" text-anchor="middle" font-weight="bold" >225</text><text x="-34.5" y="60.8" font-size="3.0" fill="#f4f4f4" text-anchor="middle" font-weight="bold" >240</text><text x="-17.9" y="67.6" font-size="3.0" fill="#f4f4f4" text-anchor="middle" font-weight="bold" >255</text><text x="-0.0" y="70.0" font-size="3.0" fill="#f4f4f4" text-anchor="middle" font-weight="bold" >270</text><text x="17.9" y="67.6" font-size="3.0" fill="#f4f4f4" text-anchor="middle" font-weight="bold" >285</text><text x="34.5" y="60.8" font-size="3.0" fill="#f4f4f4" text-anchor="middle" font-weight="bold" >300</text><text x="48.8" y="49.8" font-size="3.0" fill="#f4f4f4" text-anchor="middle" font-weight="bold" >315</text><text x="59.8" y="35.5" font-size="3.0" fill="#f4f4f4" text-anchor="middle" font-weight="bold" >330</text><text x="66.6" y="18.9" font-size="3.0" fill="#f4f4f4" text-anchor="middle" font-weight="bold" >345</text></g><g transform="translate(99.5,225.5)" fill="none"><circle r="19.9" stroke="#111" stroke-width="0.55"/><circle r="33.2" stroke="#111" stroke-width="0.55"/><circle r="46.5" stroke="#111" stroke-width="0.55"/><circle r="59.8" stroke="#111" stroke-width="0.55"/><path d="M-1.3 -13.3h2.6M-1.3 13.3h2.6M-13.3 -0.9v1.8M13.3 -0.9v1.8M-1.3 -26.6h2.6M-1.3 26.6h2.6M-26.6 -0.9v1.8M26.6 -0.9v1.8M-1.3 -39.900000000000006h2.6M-1.3 39.900000000000006h2.6M-39.900000000000006 -0.9v1.8M39.900000000000006 -0.9v1.8M-1.3 -53.2h2.6M-1.3 53.2h2.6M-53.2 -0.9v1.8M53.2 -0.9v1.8" stroke="#222" stroke-width="0.55"/><circle cx="0.7" cy="-2" r="36" stroke="#ffffff" stroke-width="0.6" stroke-dasharray="0.9 0.45" opacity="0.9"/></g><g transform="translate(99.5,225.5)"><path d="M0.5 0.7L19.9 3.6M21.1 5.9L32.1 9.6M24.5 24.3L42.8 42.1" stroke="#ff1010" stroke-width="1.15" fill="none"/><path d="M-30.4 -5.3L0.5 0.7" stroke="#1020ff" stroke-width="1.15" fill="none"/><rect x="-25.8" y="-10.5" width="7.8" height="4.6" fill="#fff" stroke="#111" stroke-width="0.5"/><path d="M-24.5 -8.1h5.2" stroke="#444" stroke-width="2" stroke-dasharray="1.2 0.5"/><rect x="-9.8" y="-7.6" width="7.8" height="4.6" fill="#fff" stroke="#111" stroke-width="0.5"/><path d="M-8.5 -5.2h5.2" stroke="#444" stroke-width="2" stroke-dasharray="1.2 0.5"/><rect x="3" y="2.9" width="7.8" height="4.6" fill="#fff" stroke="#111" stroke-width="0.5"/><path d="M4.3 5.3h5.2" stroke="#444" stroke-width="2" stroke-dasharray="1.2 0.5"/><rect x="18.3" y="9.1" width="7.8" height="4.6" fill="#fff" stroke="#111" stroke-width="0.5"/><path d="M19.6 11.5h5.2" stroke="#444" stroke-width="2" stroke-dasharray="1.2 0.5"/><rect x="19.9" y="29.1" width="7.8" height="4.6" fill="#fff" stroke="#111" stroke-width="0.5"/><path d="M21.2 31.5h5.2" stroke="#444" stroke-width="2" stroke-dasharray="1.2 0.5"/><rect x="30.2" y="38" width="7.8" height="4.6" fill="#fff" stroke="#111" stroke-width="0.5"/><path d="M31.5 40.4h5.2" stroke="#444" stroke-width="2" stroke-dasharray="1.2 0.5"/><circle cx="0" cy="-0.4" r="0.9" fill="#3a4ad0" stroke="#ddd" stroke-width="0.3"/><circle cx="0.5" cy="-5.8" r="0.7" fill="#fff"/><rect x="4.6" y="-8.5" width="1.8" height="1.8" fill="#f060c0" stroke="#fff" stroke-width="0.3"/><circle cx="0.9" cy="5.3" r="1" fill="#ff5000" stroke="#802000" stroke-width="0.3"/></g><g transform="translate(353.5,225.5)"><path d="M-56.1 4.7 -53.8 24.8 -45.8 44.8 -34.4 60.4 -25.2 64.8 15.9 64.8 37.6 63 38.8 59.3 47.9 44.8 54.8 20.3 56.6 -13.1 53.6 -35.3 47.9 -48.2 37 -48.7 36.5 -56.5 -25.2 -56.5 -26.4 -47.1 -45.8 -46 -53.8 -30.9 -56.1 -13.1Z" fill="#f09000"/><path d="M-53.8 24.8 -45.8 44.8 -34.4 60.4 -25.2 64.8 15.9 64.8 37.6 63 38.8 59.3 47.9 44.8 54.8 20.3 56.6 -13.1 53.6 -35.3 47.9 -48.2 37 -48.7 36.5 -56.5 -25.2 -56.5 -26.4 -47.1 -45.8 -46 -53.8 -30.9 -56.1 -13.1 -56.1 4.7ZM1.5 0.8 3 2 3.2 4.5 1.7 6 0 6.2 -1.9 4.5 -2.1 3 -1.3 1.5 0 0.8Z" fill="#f2b200"/><path d="M-53.8 24.8 -45.8 44.8 -34.4 60.4 -25.2 64.8 15.9 64.8 37.6 63 38.8 59.3 47.9 44.8 54.8 20.3 56.6 -13.1 53.6 -35.3 47.9 -48.2 37 -48.7 36.5 -56.5 -25.2 -56.5 -26.4 -47.1 -45.8 -46 -53.8 -30.9 -56.1 -13.1 -56.1 4.7ZM-3 -10.1 3 -10.4 6 -9.8 10.5 -6.5 13 -3 13.9 1.5 13.4 6 10.4 10.5 6 13.9 0 14.5 -4.5 13.8 -8.5 10.5 -11.5 6 -11.9 1.5 -11.1 -3 -7.5 -7.3Z" fill="#f8ce00"/><path d="M-53.8 24.8 -45.8 44.8 -34.4 60.4 -25.2 64.8 15.9 64.8 37.6 63 38.8 59.3 47.9 44.8 54.8 20.3 56.6 -13.1 53.6 -35.3 47.9 -48.2 37 -48.7 36.5 -56.5 -25.2 -56.5 -26.4 -47.1 -45.8 -46 -53.8 -30.9 -56.1 -13.1 -56.1 4.7ZM-9 -24.3 1.5 -26.7 4.5 -26.4 12.4 -24 16.5 -21.7 21 -17.1 24 -13.2 25.8 -9 27.2 -3 27.4 1.5 26.3 7.5 24 13.5 21.9 16.5 17.7 21 13.6 24 9 25.7 3 27.1 -0.6 27 -7.5 25.5 -11.1 24 -15 21 -19.6 16.5 -21.6 13.5 -24 6.4 -25 1.5 -24.6 -3 -23.1 -9 -22.1 -12 -20.2 -15 -12 -22.9Z" fill="#fde900"/><path d="M-53.8 24.8 -45.8 44.8 -34.4 60.4 -25.2 64.8 15.9 64.8 37.6 63 38.8 59.3 47.9 44.8 54.8 20.3 56.6 -13.1 53.6 -35.3 47.9 -48.2 37 -48.7 36.5 -56.5 -25.2 -56.5 -26.4 -47.1 -45.8 -46 -53.8 -30.9 -56.1 -13.1 -56.1 4.7ZM0 -30.5 4.5 -30.4 15 -27.4 18 -26 20.4 -24 28.5 -15 31.3 -7.5 32.6 0 31.9 6 30 12.9 28.4 16.5 25.5 20.3 20.3 25.5 16.5 28.3 3 32 -1.5 31.7 -10.5 29.3 -13.5 28.1 -16.7 25.5 -22.5 19.9 -25.1 16.5 -27.2 10.5 -29.2 1.5 -28.8 -3 -26.3 -12 -25.1 -15 -22.8 -18 -13.5 -26.7Z" fill="#dcee00"/><path d="M-53.8 24.8 -45.8 44.8 -34.4 60.4 -25.2 64.8 15.9 64.8 37.6 63 38.8 59.3 47.9 44.8 54.8 20.3 56.6 -13.1 53.6 -35.3 47.9 -48.2 37 -48.7 36.5 -56.5 -25.2 -56.5 -26.4 -47.1 -45.8 -46 -53.8 -30.9 -56.1 -13.1 -56.1 4.7ZM1.5 -33.4 6 -32.9 18 -29.4 21 -27.4 26.2 -22.5 30.3 -18 32.8 -13.5 35.2 -6 36 0 35.5 6 34 12 31.5 18 28.2 22.5 21.9 28.5 18 31.2 12.8 33 3 35.2 -1.5 34.8 -13.5 31.5 -16.5 29.6 -22.7 24 -25.5 21 -28.2 16.5 -30.7 9 -32 1.5 -31.7 -3 -30.2 -9 -27.3 -16.5 -25.1 -19.5 -16.5 -27.7 -13.5 -29.7Z" fill="#77e300"/><path d="M-53.8 24.8 -45.8 44.8 -34.4 60.4 -25.2 64.8 15.9 64.8 37.6 63 38.8 59.3 47.9 44.8 54.8 20.3 56.6 -13.1 53.6 -35.3 47.9 -48.2 37 -48.7 36.5 -56.5 -25.2 -56.5 -26.4 -47.1 -45.8 -46 -53.8 -30.9 -56.1 -13.1 -56.1 4.7ZM-12 -32.8 1.5 -35.7 6 -35.3 18 -32.1 22.5 -29.4 30 -22.5 33.5 -18 37.4 -9 38.8 -1.5 38.7 4.5 37.7 10.5 34.5 18.5 30.9 24 24 30.4 19.5 33.6 13.5 35.7 3 37.8 -1.5 37.4 -13.5 34.3 -18 31.5 -24.9 25.5 -28.5 21.1 -31.4 15 -33.4 9 -34.2 3 -34.2 -3 -33.3 -7.5 -29.8 -16.5 -27 -21 -15 -31.6Z" fill="#2fda19"/><path d="M-53.8 24.8 -45.8 44.8 -34.4 60.4 -25.2 64.8 15.9 64.8 37.6 63 38.8 59.3 47.9 44.8 54.8 20.3 56.6 -13.1 53.6 -35.3 47.9 -48.2 37 -48.7 36.5 -56.5 -25.2 -56.5 -26.4 -47.1 -45.8 -46 -53.8 -30.9 -56.1 -13.1 -56.1 4.7ZM0 -37.9 4.5 -37.9 16.5 -35.2 21 -33.5 24 -31.5 32.3 -24 35.7 -19.5 40.4 -9 41.7 -1.5 41.5 6 40.3 12 36.4 21 33 26 24 33.9 19.5 36.6 7.5 39.9 3 40.5 -1.5 40.1 -15 36.5 -18.3 34.5 -27 27.2 -30.7 22.5 -34.8 13.5 -36.1 9 -36.6 4.5 -36.7 -3 -36 -7.5 -30.9 -19.5 -28.5 -23 -18 -32.5 -15 -34.3Z" fill="#00d67d"/><path d="M-53.8 24.8 -45.8 44.8 -34.4 60.4 -25.2 64.8 15.9 64.8 37.6 63 38.8 59.3 47.9 44.8 54.8 20.3 56.6 -13.1 53.6 -35.3 47.9 -48.2 37 -48.7 36.5 -56.5 -25.2 -56.5 -26.4 -47.1 -45.8 -46 -53.8 -30.9 -56.1 -13.1 -56.1 4.7ZM-13.5 -37.7 1.5 -40.5 7.5 -40 19.5 -37.1 25.5 -33.8 33.1 -27 38.1 -21 42.4 -12 44.6 -3 44.7 4.5 43.3 12 39.9 21 36 27 30 32.8 22.5 38.4 16.5 40.7 6 43 0 43.1 -12 40.6 -16.5 38.9 -20.9 36 -28.5 29.7 -32.2 25.5 -37.2 15 -39.2 7.5 -39.6 -1.5 -38.9 -7.5 -36.7 -13.5 -31.5 -23.4 -28.5 -26.7 -18 -35.7Z" fill="#00def6"/><path d="M-53.8 24.8 -45.8 44.8 -34.4 60.4 -25.2 64.8 15.9 64.8 37.6 63 38.8 59.3 47.9 44.8 54.8 20.3 56.6 -13.1 53.6 -35.3 47.9 -48.2 37 -48.7 36.5 -56.5 -25.2 -56.5 -26.4 -47.1 -45.8 -46 -53.8 -30.9 -56.1 -13.1 -56.1 4.7ZM-6 -42.3 3 -43.1 12 -42.2 21 -39.6 27.6 -36 36 -28.1 41.5 -21 44.9 -13.5 47.5 -3 47.9 3 45 15.8 43.4 21 39.5 27 33 34.3 27 39.2 19.5 42.9 10.5 45.4 1.5 46.1 -9 44.6 -16.5 42.2 -24 37.7 -31.5 31 -36.8 24 -39 19.5 -42.2 7.5 -43 0 -41.5 -9 -39 -16.6 -34.5 -24 -27 -32.3 -20.6 -37.5 -13.5 -40.8Z" fill="#00bff8"/><path d="M-53.8 24.8 -45.8 44.8 -34.4 60.4 -25.2 64.8 15.9 64.8 37.6 63 38.8 59.3 47.9 44.8 54.8 20.3 56.6 -13.1 53.6 -35.3 47.9 -48.2 37 -48.7 36.5 -56.5 -25.2 -56.5 -26.4 -47.1 -45.8 -46 -53.8 -30.9 -56.1 -13.1 -56.1 4.7ZM-7.5 -45.4 6 -45.7 13.5 -45.2 21 -42.9 27 -39.9 33 -35.5 42.9 -24 46.4 -18 48.1 -12 50.1 -1.5 50.3 3 46.6 19.5 44.7 24 39 31.7 31.5 39.6 22.5 44.9 13.5 48.1 3 49.1 -9 48.1 -18 44.9 -25.8 40.5 -33 33.8 -40.4 24 -42 20 -45 7.4 -46 1.5 -45.5 -3 -42.9 -15 -40.3 -21 -30 -33.8 -26.2 -37.5 -16.5 -42.9Z" fill="#00a4f5"/><path d="M-53.8 24.8 -45.8 44.8 -34.4 60.4 -25.2 64.8 15.9 64.8 37.6 63 38.8 59.3 47.9 44.8 54.8 20.3 56.6 -13.1 53.6 -35.3 47.9 -48.2 37 -48.7 36.5 -56.5 -25.2 -56.5 -26.4 -47.1 -45.8 -46 -53.8 -30.9 -56.1 -13.1 -56.1 4.7ZM-7.5 -48.2 13.5 -48.2 21 -46 28.5 -42.3 34.9 -37.5 44 -27 48 -21 50 -15 51.8 -3 52.1 3 49 18 46.5 25.1 40.5 33.5 33 41.6 24 47.2 13.5 51.1 3 52 -9 51.1 -18.3 48 -28.5 42.2 -36 34.5 -42.3 25.5 -44.2 21 -47.4 7.5 -48.2 1.5 -47.4 -6 -45 -17.1 -42 -23.2 -31.5 -36.2 -27 -40.3 -16.5 -45.9 -12 -47.5Z" fill="#028ef0"/><path d="M-53.8 24.8 -45.8 44.8 -34.4 60.4 -25.2 64.8 15.9 64.8 37.6 63 38.8 59.3 47.9 44.8 54.8 20.3 56.6 -13.1 53.6 -35.3 47.9 -48.2 37 -48.7 36.5 -56.5 -25.2 -56.5 -26.4 -47.1 -45.8 -46 -53.8 -30.9 -56.1 -13.1 -56.1 4.7ZM-7.5 -50.8 13.5 -50.9 18 -50 24 -47.8 29.4 -45 36 -40 46.5 -27.9 50.7 -21 52.4 -15 53.7 -1.5 53.2 7.5 50.5 19.5 48 26.1 40.5 37 33 44.6 24 50.2 15 53.6 4.5 54.8 -7.5 54.2 -16.5 51.9 -27 46.6 -34.3 40.5 -40.5 32.7 -45.4 24 -48.2 13.5 -50.1 3 -49.4 -7.5 -47.6 -16.5 -45 -22.8 -33.6 -37.5 -28.5 -42.4 -21 -46.9 -12 -50.1Z" fill="#1878ea"/><path d="M-53.8 24.8 -45.8 44.8 -34.4 60.4 -25.2 64.8 15.9 64.8 37.6 63 38.8 59.3 47.9 44.8 54.8 20.3 56.6 -13.1 53.6 -35.3 47.9 -48.2 37 -48.7 36.5 -56.5 -25.2 -56.5 -26.4 -47.1 -45.8 -46 -53.8 -30.9 -56.1 -13.1 -56.1 4.7ZM-10.5 -53 13.5 -53.6 21 -51.9 28.5 -48.7 33 -45.9 37.5 -42.1 46.8 -31.5 51.9 -24 54.1 -18 55.2 -7.5 54.9 7.5 52.3 19.5 48.7 28.5 42 38.4 34.5 46.2 25.5 52.3 19.5 55 15 56.3 4.5 57.5 -9 56.7 -18 54.3 -27 49.8 -34.8 43.5 -42 34.7 -46.5 26.4 -50 15 -51.8 4.5 -51.7 -6 -49.9 -16.5 -46.9 -24 -35.3 -39 -30 -44.4 -21 -49.7 -15 -52Z" fill="#205fe5"/><path d="M-26 -50 -16.5 -54.3 -9 -55.7 12 -56.4 18 -55.6 22.5 -54.3 31.5 -50.1 39 -44.3 51 -30.1 53.9 -25.5 55.5 -21.5 53.6 -35.3 47.9 -48.2 37 -48.7 36.5 -56.5 -25.2 -56.5ZM54.9 16.5 50.6 28.5 44.1 39 36 47.8 31.5 51.4 25.5 55.1 21 57.2 15 59 4.5 60.2 -9 59.5 -15 58.2 -21 56 -27 52.9 -33 48.6 -39 42.6 -43.5 36.6 -46.5 31.3 -49.4 24 -52 15 -53.4 7.5 -53.5 -9 -52.5 -15 -50.7 -21 -48.5 -25.5 -45.4 -30 -35.8 -42 -30.7 -46.9 -45.8 -46 -53.8 -30.9 -56.1 -13.1 -56.1 4.7 -53.8 24.8 -45.8 44.8 -34.4 60.4 -25.2 64.8 15.9 64.8 37.6 63 38.8 59.3 47.9 44.8 54.8 20.3Z" fill="#2044e1"/><path d="M-25.5 -53.3 -22.5 -54.8 -18.3 -56.5 -25.2 -56.5ZM52.5 28.6 45.4 40.5 36 50.6 27 57.1 22.5 59.3 16.5 61.4 10.5 62.5 4.5 62.8 -4.5 62.6 -12 61.7 -22.5 58.3 -28.5 55.1 -33 51.9 -41.4 43.5 -47.3 34.5 -52.4 21 -54.9 10.5 -55.5 -9 -54.7 -15 -53 -21 -51 -25.5 -48.2 -30 -34.7 -46.6 -45.8 -46 -53.8 -30.9 -56.1 -13.1 -56.1 4.7 -53.8 24.8 -45.8 44.8 -34.4 60.4 -25.2 64.8 15.9 64.8 37.6 63 38.8 59.3 47.9 44.8ZM38.2 -48.6 44.6 -42 54.4 -29.4 53.6 -35.3 47.9 -48.2ZM24.9 -56.5 31.5 -53.4 36.9 -49.7 36.5 -56.5Z" fill="#201dc9"/><path d="M-54.8 -22.5 -49.9 -31.5 -38.3 -46.4 -45.8 -46 -53.8 -30.9ZM-10.5 64.8 -18 63 -25.5 59.9 -31.5 56.3 -37.5 51.3 -43.5 44.7 -48 38 -51 31.5 -54.1 22.2 -53.8 24.8 -45.8 44.8 -34.4 60.4 -25.2 64.8ZM50.1 37 42 47.5 33 56 24 61.4 18 63.7 13 64.8 37.6 63 38.8 59.3 47.9 44.8ZM42.5 -48.4 47 -43.5 53.7 -35.1 47.9 -48.2ZM31.9 -56.5 34.5 -54.9 36.7 -53.4 36.5 -56.5Z" fill="#2c10ae"/><path d="M-54 -29.5 -51 -34.1 -41.7 -46.2 -45.8 -46 -53.8 -30.9ZM-21.2 64.8 -31.5 59.6 -36 56.2 -40.8 51.6 -34.4 60.4 -25.2 64.8ZM48.5 42.7 42 50.5 36 56.5 30 61 24.2 64.1 37.6 63 38.8 59.3 47.9 44.8ZM46.7 -48.3 48.2 -46.5 49.2 -45.3 47.9 -48.2Z" fill="#5b26af"/><path d="M-47.1 -43.5 -46 -45 -45.2 -46 -45.8 -46ZM43 52.5 37.1 58.5 30.4 63.6 37.6 63 38.8 59.3Z" fill="#7e2db5"/><path d="M38.4 60.4 36 62.6 35.2 63.2 37.6 63Z" fill="#9a30bd"/></g><g transform="translate(353.5,225.5)"><circle r="74.4" fill="none" stroke="#0c0c0c" stroke-width="0.8"/><path d="M73.6 -6.4L72.4 -6.3M72.8 -12.8L71.6 -12.6M69.4 -25.3L68.3 -24.9M67.0 -31.2L65.9 -30.7M60.5 -42.4L59.6 -41.7M56.6 -47.5L55.7 -46.7M47.5 -56.6L46.7 -55.7M42.4 -60.5L41.7 -59.6M31.2 -67.0L30.7 -65.9M25.3 -69.4L24.9 -68.3M12.8 -72.8L12.6 -71.6M6.4 -73.6L6.3 -72.4M-6.4 -73.6L-6.3 -72.4M-12.8 -72.8L-12.6 -71.6M-25.3 -69.4L-24.9 -68.3M-31.2 -67.0L-30.7 -65.9M-42.4 -60.5L-41.7 -59.6M-47.5 -56.6L-46.7 -55.7M-56.6 -47.5L-55.7 -46.7M-60.5 -42.4L-59.6 -41.7M-67.0 -31.2L-65.9 -30.7M-69.4 -25.3L-68.3 -24.9M-72.8 -12.8L-71.6 -12.6M-73.6 -6.4L-72.4 -6.3M-73.6 6.4L-72.4 6.3M-72.8 12.8L-71.6 12.6M-69.4 25.3L-68.3 24.9M-67.0 31.2L-65.9 30.7M-60.5 42.4L-59.6 41.7M-56.6 47.5L-55.7 46.7M-47.5 56.6L-46.7 55.7M-42.4 60.5L-41.7 59.6M-31.2 67.0L-30.7 65.9M-25.3 69.4L-24.9 68.3M-12.8 72.8L-12.6 71.6M-6.4 73.6L-6.3 72.4M6.4 73.6L6.3 72.4M12.8 72.8L12.6 71.6M25.3 69.4L24.9 68.3M31.2 67.0L30.7 65.9M42.4 60.5L41.7 59.6M47.5 56.6L46.7 55.7M56.6 47.5L55.7 46.7M60.5 42.4L59.6 41.7M67.0 31.2L65.9 30.7M69.4 25.3L68.3 24.9M72.8 12.8L71.6 12.6M73.6 6.4L72.4 6.3" stroke="#e0e0e0" stroke-width="0.9"/><path d="M73.9 -0.0L71.6 -0.0M71.4 -19.1L69.2 -18.5M64.0 -36.9L62.0 -35.8M52.3 -52.3L50.6 -50.6M37.0 -64.0L35.8 -62.0M19.1 -71.4L18.5 -69.2M0.0 -73.9L0.0 -71.6M-19.1 -71.4L-18.5 -69.2M-36.9 -64.0L-35.8 -62.0M-52.3 -52.3L-50.6 -50.6M-64.0 -36.9L-62.0 -35.8M-71.4 -19.1L-69.2 -18.5M-73.9 -0.0L-71.6 -0.0M-71.4 19.1L-69.2 18.5M-64.0 37.0L-62.0 35.8M-52.3 52.3L-50.6 50.6M-37.0 64.0L-35.8 62.0M-19.1 71.4L-18.5 69.2M-0.0 73.9L-0.0 71.6M19.1 71.4L18.5 69.2M37.0 64.0L35.8 62.0M52.3 52.3L50.6 50.6M64.0 37.0L62.0 35.8M71.4 19.1L69.2 18.5" stroke="#f0f0f0" stroke-width="0.7"/><text x="69.0" y="1.0" font-size="3.0" fill="#f4f4f4" text-anchor="middle" font-weight="bold" >0</text><text x="66.6" y="-16.9" font-size="3.0" fill="#f4f4f4" text-anchor="middle" font-weight="bold" >15</text><text x="59.8" y="-33.5" font-size="3.0" fill="#f4f4f4" text-anchor="middle" font-weight="bold" >30</text><text x="48.8" y="-47.8" font-size="3.0" fill="#f4f4f4" text-anchor="middle" font-weight="bold" >45</text><text x="34.5" y="-58.8" font-size="3.0" fill="#f4f4f4" text-anchor="middle" font-weight="bold" >60</text><text x="17.9" y="-65.6" font-size="3.0" fill="#f4f4f4" text-anchor="middle" font-weight="bold" >75</text><text x="0.0" y="-68.0" font-size="3.0" fill="#f4f4f4" text-anchor="middle" font-weight="bold" >90</text><text x="-17.9" y="-65.6" font-size="3.0" fill="#f4f4f4" text-anchor="middle" font-weight="bold" >105</text><text x="-34.5" y="-58.8" font-size="3.0" fill="#f4f4f4" text-anchor="middle" font-weight="bold" >120</text><text x="-48.8" y="-47.8" font-size="3.0" fill="#f4f4f4" text-anchor="middle" font-weight="bold" >135</text><text x="-59.8" y="-33.5" font-size="3.0" fill="#f4f4f4" text-anchor="middle" font-weight="bold" >150</text><text x="-66.6" y="-16.9" font-size="3.0" fill="#f4f4f4" text-anchor="middle" font-weight="bold" >165</text><text x="-69.0" y="1.0" font-size="3.0" fill="#f4f4f4" text-anchor="middle" font-weight="bold" >180</text><text x="-66.6" y="18.9" font-size="3.0" fill="#f4f4f4" text-anchor="middle" font-weight="bold" >195</text><text x="-59.8" y="35.5" font-size="3.0" fill="#f4f4f4" text-anchor="middle" font-weight="bold" >210</text><text x="-48.8" y="49.8" font-size="3.0" fill="#f4f4f4" text-anchor="middle" font-weight="bold" >225</text><text x="-34.5" y="60.8" font-size="3.0" fill="#f4f4f4" text-anchor="middle" font-weight="bold" >240</text><text x="-17.9" y="67.6" font-size="3.0" fill="#f4f4f4" text-anchor="middle" font-weight="bold" >255</text><text x="-0.0" y="70.0" font-size="3.0" fill="#f4f4f4" text-anchor="middle" font-weight="bold" >270</text><text x="17.9" y="67.6" font-size="3.0" fill="#f4f4f4" text-anchor="middle" font-weight="bold" >285</text><text x="34.5" y="60.8" font-size="3.0" fill="#f4f4f4" text-anchor="middle" font-weight="bold" >300</text><text x="48.8" y="49.8" font-size="3.0" fill="#f4f4f4" text-anchor="middle" font-weight="bold" >315</text><text x="59.8" y="35.5" font-size="3.0" fill="#f4f4f4" text-anchor="middle" font-weight="bold" >330</text><text x="66.6" y="18.9" font-size="3.0" fill="#f4f4f4" text-anchor="middle" font-weight="bold" >345</text></g><g transform="translate(353.5,225.5)" fill="none"><circle r="19.9" stroke="#111" stroke-width="0.55"/><circle r="33.2" stroke="#111" stroke-width="0.55"/><circle r="46.5" stroke="#111" stroke-width="0.55"/><circle r="59.8" stroke="#111" stroke-width="0.55"/><path d="M-1.3 -13.3h2.6M-1.3 13.3h2.6M-13.3 -0.9v1.8M13.3 -0.9v1.8M-1.3 -26.6h2.6M-1.3 26.6h2.6M-26.6 -0.9v1.8M26.6 -0.9v1.8M-1.3 -39.900000000000006h2.6M-1.3 39.900000000000006h2.6M-39.900000000000006 -0.9v1.8M39.900000000000006 -0.9v1.8M-1.3 -53.2h2.6M-1.3 53.2h2.6M-53.2 -0.9v1.8M53.2 -0.9v1.8" stroke="#222" stroke-width="0.55"/><circle cx="0.7" cy="-2" r="36" stroke="#ffffff" stroke-width="0.6" stroke-dasharray="0.9 0.45" opacity="0.9"/></g><g transform="translate(353.5,225.5)"><circle cx="0" cy="0" r="13" fill="none" stroke="#fff" stroke-width="0.55" stroke-dasharray="1.1 0.6"/><circle cx="0" cy="-39.5" r="13" fill="none" stroke="#fff" stroke-width="0.55"/><circle cx="-39.5" cy="0" r="13" fill="none" stroke="#fff" stroke-width="0.55"/><circle cx="39.5" cy="0" r="13" fill="none" stroke="#fff" stroke-width="0.55"/><circle cx="0" cy="39.5" r="13" fill="none" stroke="#fff" stroke-width="0.55"/><rect x="-6" y="-3.6" width="12" height="7.2" fill="#fff" stroke="#222" stroke-width="0.5"/><text x="0" y="2.3" font-size="6.3" fill="#555" text-anchor="middle" textLength="9.6" lengthAdjust="spacingAndGlyphs">476</text><rect x="-6" y="-43.1" width="12" height="7.2" fill="#fff" stroke="#222" stroke-width="0.5"/><text x="0" y="-37.2" font-size="6.3" fill="#555" text-anchor="middle" textLength="9.6" lengthAdjust="spacingAndGlyphs">605</text><rect x="-45.5" y="-3.6" width="12" height="7.2" fill="#fff" stroke="#222" stroke-width="0.5"/><text x="-39.5" y="2.3" font-size="6.3" fill="#555" text-anchor="middle" textLength="9.6" lengthAdjust="spacingAndGlyphs">619</text><rect x="33.5" y="-3.6" width="12" height="7.2" fill="#fff" stroke="#222" stroke-width="0.5"/><text x="39.5" y="2.3" font-size="6.3" fill="#555" text-anchor="middle" textLength="9.6" lengthAdjust="spacingAndGlyphs">581</text><rect x="-6" y="35.9" width="12" height="7.2" fill="#fff" stroke="#222" stroke-width="0.5"/><text x="0" y="41.8" font-size="6.3" fill="#555" text-anchor="middle" textLength="9.6" lengthAdjust="spacingAndGlyphs">606</text><circle cx="0" cy="-0.4" r="0.9" fill="#3a4ad0" stroke="#ddd" stroke-width="0.3"/><circle cx="0.5" cy="-5.8" r="0.7" fill="#fff"/><rect x="4.6" y="-8.5" width="1.8" height="1.8" fill="#f060c0" stroke="#fff" stroke-width="0.3"/><circle cx="0.9" cy="5.3" r="1" fill="#ff5000" stroke="#802000" stroke-width="0.3"/></g><rect x="170" y="8" width="56.3" height="32.3" fill="#c9c9c9" stroke="#555" stroke-width="0.5"/><text x="170.6" y="13" font-size="4.9" fill="#111" textLength="30" lengthAdjust="spacingAndGlyphs" >8.27mm/40.8D</text><rect x="227" y="8" width="56.3" height="32.3" fill="#c9c9c9" stroke="#555" stroke-width="0.5"/><text x="227.6" y="13" font-size="4.9" fill="#111" textLength="30" lengthAdjust="spacingAndGlyphs" >6.50mm/51.9D</text><rect x="170" y="260" width="56.3" height="33" fill="#c9c9c9" stroke="#555" stroke-width="0.5"/><rect x="227" y="260" width="56.3" height="33" fill="#c9c9c9" stroke="#555" stroke-width="0.5"/><rect x="177" y="41" width="99" height="177.5" fill="#c9c9c9"/><path d="M177 41.3H276" stroke="#e8e8e8" stroke-width="0.6"/><path d="M177 218.2H276" stroke="#777" stroke-width="0.7"/><text x="178.3" y="61.4" font-size="6.25" fill="#151515" >18/05/2011 13:47:37</text><text x="178.3" y="68.4" font-size="6.25" fill="#151515" >PostOp</text><text x="178.3" y="82.5" font-size="6.25" fill="#151515" >Vision Future Lyon</text><rect x="177.5" y="36" width="48" height="21" fill="#bebebe"/><text x="227" y="54.3" font-size="6.25" fill="#151515" >949</text><path d="M179.5 84.7H274" stroke="#555" stroke-width="0.9"/><path d="M179.5 106H274" stroke="#555" stroke-width="0.9"/><path d="M179.5 140.3H274" stroke="#555" stroke-width="0.9"/><path d="M179.5 175H274" stroke="#555" stroke-width="0.9"/><path d="M179.5 216.2H274" stroke="#555" stroke-width="0.9"/><text x="180" y="91.2" font-size="5.33" fill="#1a1a1a" textLength="18.3" lengthAdjust="spacingAndGlyphs" >Sim K's</text><text x="197.7" y="91.2" font-size="5.33" fill="#f040a8" textLength="13" lengthAdjust="spacingAndGlyphs" >Astig:</text><text x="215.2" y="91.2" font-size="5.33" fill="#f040a8" >0.5 D</text><text x="233" y="91.2" font-size="5.33" fill="#f040a8" >@ 37 deg</text><text x="180" y="97.6" font-size="5.33" fill="#f03030" textLength="10.3" lengthAdjust="spacingAndGlyphs" >Max:</text><text x="215.2" y="97.6" font-size="5.33" fill="#f03030" >40.0 D</text><text x="233" y="97.6" font-size="5.33" fill="#f03030" >@ 37 deg</text><text x="180" y="104.1" font-size="5.33" fill="#2030e8" textLength="9" lengthAdjust="spacingAndGlyphs" >Min:</text><text x="215.2" y="104.1" font-size="5.33" fill="#2030e8" >39.5 D</text><text x="233" y="104.1" font-size="5.33" fill="#2030e8" >@ 127 deg</text><text x="180" y="112.3" font-size="5.33" fill="#1a1a1a" textLength="31" lengthAdjust="spacingAndGlyphs" >3.0 MM Zone:</text><text x="215.2" y="112.3" font-size="5.33" fill="#9838b0" >Irreg:</text><text x="233" y="112.3" font-size="5.33" fill="#9838b0" >± 3.5 D</text><text x="180" y="118.8" font-size="5.33" fill="#1a1a1a" textLength="23.5" lengthAdjust="spacingAndGlyphs" >Mean Pwr</text><text x="215.2" y="118.8" font-size="5.33" fill="#1a1a1a" >39.9</text><text x="233" y="118.8" font-size="5.33" fill="#1a1a1a" >± 3.0 D</text><text x="180" y="125.4" font-size="5.33" fill="#1a1a1a" textLength="22.5" lengthAdjust="spacingAndGlyphs" >Astig Pwr</text><text x="215.2" y="125.4" font-size="5.33" fill="#1a1a1a" >0.4</text><text x="233" y="125.4" font-size="5.33" fill="#1a1a1a" >± 1.8 D</text><text x="180" y="132" font-size="5.33" fill="#f03030" textLength="25" lengthAdjust="spacingAndGlyphs" >Steep Axis</text><text x="215.2" y="132" font-size="5.33" fill="#f03030" style="white-space:pre" > 66</text><text x="233" y="132" font-size="5.33" fill="#f03030" >± 47 deg</text><text x="180" y="138.5" font-size="5.33" fill="#2030e8" textLength="19.5" lengthAdjust="spacingAndGlyphs" >Flat Axis</text><text x="215.2" y="138.5" font-size="5.33" fill="#2030e8" >170</text><text x="233" y="138.5" font-size="5.33" fill="#2030e8" >± 47 deg</text><text x="180" y="146.6" font-size="5.33" fill="#1a1a1a" textLength="31" lengthAdjust="spacingAndGlyphs" >5.0 MM Zone:</text><text x="215.2" y="146.6" font-size="5.33" fill="#9838b0" >Irreg:</text><text x="233" y="146.6" font-size="5.33" fill="#9838b0" >± 3.1 D</text><text x="180" y="153.2" font-size="5.33" fill="#1a1a1a" textLength="23.5" lengthAdjust="spacingAndGlyphs" >Mean Pwr</text><text x="215.2" y="153.2" font-size="5.33" fill="#1a1a1a" >40.4</text><text x="233" y="153.2" font-size="5.33" fill="#1a1a1a" >± 2.4 D</text><text x="180" y="159.8" font-size="5.33" fill="#1a1a1a" textLength="22.5" lengthAdjust="spacingAndGlyphs" >Astig Pwr</text><text x="215.2" y="159.8" font-size="5.33" fill="#1a1a1a" >1.3</text><text x="233" y="159.8" font-size="5.33" fill="#1a1a1a" >± 1.9 D</text><text x="180" y="166.4" font-size="5.33" fill="#f03030" textLength="25" lengthAdjust="spacingAndGlyphs" >Steep Axis</text><text x="215.2" y="166.4" font-size="5.33" fill="#f03030" style="white-space:pre" > 75</text><text x="233" y="166.4" font-size="5.33" fill="#f03030" >± 43 deg</text><text x="180" y="172.9" font-size="5.33" fill="#2030e8" textLength="19.5" lengthAdjust="spacingAndGlyphs" >Flat Axis</text><text x="215.2" y="172.9" font-size="5.33" fill="#2030e8" >169</text><text x="233" y="172.9" font-size="5.33" fill="#2030e8" >± 44 deg</text><text x="180" y="181.3" font-size="5.33" fill="#1a1a1a" >White-to-White [mm] : 12.1</text><text x="180" y="187.9" font-size="5.33" fill="#1a1a1a" >Pupil Diameter [mm] :  5.4</text><text x="180" y="194.6" font-size="5.33" fill="#1a1a1a" >Thinnest : 469 um @ ( -0.0, -0.4 )</text><text x="180" y="201.2" font-size="5.33" fill="#1a1a1a" >ACD (Ep): 3.89 mm</text><text x="180" y="207.8" font-size="5.33" fill="#1a1a1a" >Kappa : 3.64° @ 352.94°</text><text x="180" y="214.3" font-size="5.33" fill="#1a1a1a" >Kappa Intercept : 0.31, 0.59</text><text x="227.70000000000002" y="234.1" font-size="15.3" fill="#000" text-anchor="middle" >OS</text><text x="226.8" y="233.2" font-size="15.3" fill="#fff" text-anchor="middle" >OS</text><rect x="194.3" y="239.5" width="13.6" height="14.3" fill="#000"/><defs><radialGradient id="og4" cx="0.62" cy="0.42" r="0.6"><stop offset="0" stop-color="#fff"/><stop offset="0.22" stop-color="#ff9090"/><stop offset="0.45" stop-color="#ff0000"/><stop offset="1" stop-color="#f00000"/></radialGradient></defs><circle cx="201.8" cy="246.8" r="5.9" fill="url(#og4)"/><path d="M207.6 240V253.6" stroke="#999" stroke-width="0.7"/><text x="212.9" y="252.5" font-size="11.8" fill="#000" font-weight="bold" textLength="46" lengthAdjust="spacingAndGlyphs" stroke="#000" stroke-width="0.5">ORBSCAN</text><text x="211.9" y="251.5" font-size="11.8" fill="#ff0000" font-weight="bold" textLength="46" lengthAdjust="spacingAndGlyphs" stroke="#ff0000" stroke-width="0.5">ORBSCAN</text><text x="226.5" y="258.5" font-size="3.4" fill="#888" text-anchor="middle" >v3.12</text>
</svg>
<text x="195" y="713" font-size="23.2" fill="#ffc000" font-weight="bold" textLength="100" lengthAdjust="spacingAndGlyphs" >ECTASIE</text>
<text x="773.5" y="712.4" font-size="24" fill="#fff" textLength="175" lengthAdjust="spacingAndGlyphs" font-style="italic">www.gatinel.com</text>
</svg></body></html>
